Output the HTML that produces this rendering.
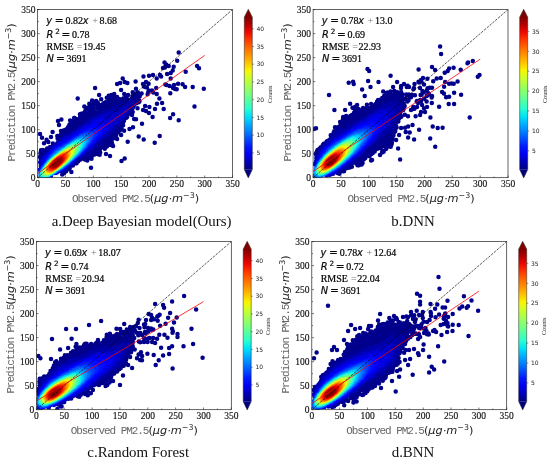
<!DOCTYPE html><html><head><meta charset="utf-8"><title>Figure</title><style>
html,body{margin:0;padding:0;background:#fff}svg{display:block}
text{font-family:"Liberation Serif",serif;fill:#222}
.tl text{font-size:9.5px;fill:#111;stroke:#111;stroke-width:0.15px}
.an{font-size:10px;fill:#000;stroke:#000;stroke-width:0.2px}
.op{font-family:"DejaVu Sans","Liberation Sans",sans-serif;font-size:10.5px;fill:#111}
.pl{fill:#777;stroke:none}
.it{font-family:"DejaVu Sans","Liberation Sans",sans-serif;font-style:italic;font-size:9.9px;fill:#111}
.sup{font-family:"DejaVu Sans","Liberation Sans",sans-serif;font-size:7.2px}
.al{font-size:10px}
.mono{font-family:"Liberation Mono",monospace;font-size:11px;fill:#666;letter-spacing:-1.05px}
.mi{font-family:"DejaVu Sans","Liberation Sans",sans-serif;font-style:italic;font-size:11.3px}
.mp{font-family:"DejaVu Sans","Liberation Sans",sans-serif;font-size:11.3px}
.mis{font-family:"DejaVu Sans","Liberation Sans",sans-serif;font-size:7.9px}
.cl text{font-family:"DejaVu Sans","Liberation Sans",sans-serif;font-size:6px}
.ct{font-size:6.1px}
.cap{font-size:14.9px;fill:#111}
</style></head><body>
<svg width="550" height="464" viewBox="0 0 550 464">
<defs><linearGradient id="jet" x1="0" y1="0" x2="0" y2="1"><stop offset="0.00" stop-color="#800000"/><stop offset="0.05" stop-color="#b60000"/><stop offset="0.10" stop-color="#f10800"/><stop offset="0.15" stop-color="#ff3800"/><stop offset="0.20" stop-color="#ff6800"/><stop offset="0.25" stop-color="#ff9400"/><stop offset="0.30" stop-color="#ffc400"/><stop offset="0.35" stop-color="#f8f500"/><stop offset="0.40" stop-color="#ceff29"/><stop offset="0.45" stop-color="#a4ff53"/><stop offset="0.50" stop-color="#7dff7a"/><stop offset="0.55" stop-color="#53ffa4"/><stop offset="0.60" stop-color="#29ffce"/><stop offset="0.65" stop-color="#00e4f8"/><stop offset="0.70" stop-color="#00b0ff"/><stop offset="0.75" stop-color="#0080ff"/><stop offset="0.80" stop-color="#004cff"/><stop offset="0.85" stop-color="#0018ff"/><stop offset="0.90" stop-color="#0000f1"/><stop offset="0.95" stop-color="#0000b6"/><stop offset="1.00" stop-color="#000080"/></linearGradient></defs>
<rect width="550" height="464" fill="#fff"/>
<clipPath id="cpa"><rect x="37.6" y="9.6" width="194.9" height="168.1"/></clipPath>
<g clip-path="url(#cpa)" fill="none" stroke-width="4.5" stroke-linecap="round">
<path stroke="#00008d" d="M154.7 142.7h0M159.7 136.1h0M178.7 120.2h0M194.5 106.5h0M121.5 161.1h0M124.7 158.5h0M143.7 139.5h0M170.1 118.1h0M173.1 114.2h0M203.8 88.7h0M77.7 98.5h0M138.7 136.5h0M95.1 88.0h0M40.0 134.1h0M110.0 156.1h0M127.7 141.7h0M58.0 121.1h0M91.0 167.8h0M122.7 78.6h0M152.6 117.1h0M142.0 123.8h0M42.0 137.7h0M61.4 119.5h0M192.7 87.1h0M163.7 109.1h0M124.7 82.0h0M120.1 83.0h0M117.1 84.0h0M106.0 154.1h0M127.4 83.1h0M99.1 95.0h0M59.0 125.1h0M149.0 113.1h0M146.0 111.1h0M52.6 132.1h0M135.6 81.5h0M133.0 127.2h0M92.1 100.5h0M113.1 146.1h0M143.5 76.6h0M149.4 107.1h0M84.3 106.4h0M46.6 139.8h0M44.0 143.2h0M155.0 109.1h0M136.0 119.2h0M172.7 70.5h0M143.1 110.0h0M185.7 71.7h0M129.5 129.1h0M170.7 73.0h0M121.1 90.0h0M178.7 52.6h0M89.3 103.8h0M111.3 95.0h0M99.7 154.7h0M114.2 94.1h0M108.7 95.7h0M134.1 119.1h0M51.0 137.1h0M167.1 74.1h0M149.0 75.7h0M96.1 101.0h0M185.1 87.1h0M89.5 105.1h0M106.8 97.7h0M162.1 103.1h0M164.5 62.6h0M157.0 103.7h0M110.7 97.2h0M101.2 99.2h0M145.1 106.0h0M159.4 98.5h0M71.4 172.1h0M197.1 66.0h0M112.1 143.8h0M41.0 150.2h0M48.3 142.0h0M93.8 103.2h0M109.0 98.8h0M156.7 94.1h0M110.6 144.9h0M109.2 98.8h0M173.7 66.7h0M91.7 104.7h0M121.1 135.1h0M117.1 139.1h0M111.4 143.9h0M86.7 108.1h0M169.5 86.1h0M100.2 152.6h0M104.8 148.8h0M92.9 104.7h0M97.7 102.5h0M124.1 130.7h0M153.0 75.1h0M114.2 97.2h0M70.1 120.5h0M170.7 78.5h0M108.9 100.1h0M104.1 102.9h0M91.5 158.7h0M114.4 97.4h0M113.8 97.7h0M161.1 76.6h0M105.7 102.3h0M93.2 105.2h0M97.4 154.1h0M117.1 97.1h0M102.7 104.3h0M85.7 109.8h0M166.5 85.1h0M74.1 118.1h0M115.4 98.1h0M90.6 107.0h0M146.0 82.1h0M79.9 114.2h0M100.2 105.2h0M43.0 150.0h0M199.0 68.3h0M107.0 146.2h0M106.3 146.7h0M124.2 94.1h0M100.3 106.4h0M104.0 104.4h0M91.2 107.0h0M74.6 118.0h0M174.1 85.1h0M40.5 152.8h0M173.9 85.3h0M177.2 60.7h0M87.6 109.1h0M178.1 83.7h0M156.7 78.5h0M80.7 114.0h0M115.8 98.8h0M101.6 106.3h0M89.3 108.3h0M113.4 99.6h0M165.3 84.4h0M87.3 160.6h0M160.0 75.1h0M166.1 64.4h0M106.2 103.4h0M98.6 105.8h0M111.7 142.1h0M93.2 106.5h0M97.6 105.3h0M98.4 108.4h0M143.0 84.1h0M97.6 108.0h0M100.1 107.7h0M173.1 88.1h0M91.2 107.7h0M88.7 109.0h0M98.6 108.6h0M168.7 66.0h0M93.5 106.8h0M82.4 113.4h0M110.0 143.0h0M106.2 146.0h0M111.5 101.5h0M91.4 157.5h0M108.7 102.8h0M119.9 130.5h0M163.0 67.9h0M84.8 111.9h0M70.5 121.8h0M90.2 108.8h0M40.6 153.6h0M148.6 83.7h0M153.3 92.6h0M165.1 67.0h0M121.5 127.9h0M165.0 67.5h0M110.0 142.7h0M116.1 136.9h0M93.6 107.6h0M105.6 104.9h0M119.7 130.0h0M87.3 110.6h0M94.7 111.2h0M85.1 112.1h0M182.6 84.3h0M80.7 115.1h0M118.1 132.2h0M80.8 115.1h0M156.2 88.0h0M170.3 93.3h0M106.7 104.8h0M115.4 100.9h0M84.9 112.5h0M118.1 131.4h0M119.4 129.7h0M114.5 138.0h0M132.0 115.1h0M102.9 107.2h0M108.8 143.2h0M92.9 112.5h0M61.0 131.1h0M93.2 108.8h0M118.9 99.0h0M117.4 132.1h0M103.8 106.7h0M82.1 114.6h0M94.5 154.5h0M143.9 86.4h0M111.2 103.2h0M116.4 134.3h0M41.0 154.1h0M41.6 153.4h0M40.8 154.4h0M146.9 87.5h0M175.1 88.9h0M176.7 89.2h0M57.3 135.9h0M113.9 138.1h0M123.1 125.2h0M113.1 102.5h0M116.6 132.4h0M87.4 111.5h0M111.6 140.3h0M137.5 108.3h0M117.7 130.9h0M92.3 110.2h0M114.9 136.4h0M152.0 90.5h0M108.0 143.3h0M86.9 159.1h0M62.2 174.5h0M145.0 87.1h0M108.1 143.2h0M93.0 113.8h0M89.8 110.7h0M148.8 90.6h0M80.3 116.2h0M110.9 140.6h0M61.5 131.2h0M107.1 144.0h0M100.3 109.5h0M85.0 113.3h0M136.0 88.8h0M90.9 114.8h0M91.1 112.4h0M73.2 120.9h0M86.6 112.4h0M90.0 157.1h0M97.0 152.1h0M96.4 152.6h0M64.0 173.2h0M80.2 116.6h0M90.6 112.5h0M81.7 115.6h0M147.6 94.2h0M148.3 91.9h0M113.3 135.0h0M92.5 155.3h0M84.8 159.6h0M76.4 119.1h0M111.0 139.7h0M95.3 153.1h0M109.7 140.9h0M112.1 137.8h0M87.9 157.9h0M88.3 116.4h0M108.5 141.8h0M100.0 149.1h0M89.2 113.2h0M82.1 115.8h0M43.7 152.1h0M88.7 114.0h0M101.6 147.6h0M120.1 127.4h0M39.9 157.1h0M108.5 141.0h0M47.1 148.6h0M119.1 100.2h0M108.4 138.4h0M108.3 140.7h0M75.6 120.1h0M87.6 157.6h0M85.5 114.3h0M105.8 143.4h0M82.1 116.2h0M107.6 141.5h0M42.0 154.3h0M107.0 139.9h0M84.6 158.9h0M43.9 152.1h0M132.7 92.3h0M43.5 152.6h0M87.0 118.0h0M119.1 100.3h0M86.3 158.0h0M108.8 137.7h0M83.6 115.5h0M57.9 137.5h0M103.8 108.5h0M66.2 171.2h0M112.1 134.5h0M104.1 142.6h0M71.1 123.3h0M120.3 99.6h0M103.2 145.1h0M95.9 113.3h0M86.9 157.5h0M103.5 144.3h0M103.8 142.3h0M88.5 156.8h0M141.6 93.4h0M76.6 163.3h0M109.7 105.8h0M102.4 144.5h0M94.8 152.5h0M122.8 124.0h0M84.0 115.6h0M52.9 143.4h0M132.7 111.9h0M97.7 150.0h0M88.8 156.4h0M69.4 124.8h0M109.6 136.4h0M101.9 144.0h0M57.6 138.5h0M99.9 111.0h0M111.2 105.2h0M63.6 130.4h0M86.9 157.3h0M101.1 145.2h0M84.0 158.7h0M121.0 99.4h0M126.8 95.5h0M93.0 153.7h0M101.0 145.0h0M63.7 172.4h0M87.2 118.8h0M98.4 149.1h0M94.2 152.7h0M101.4 143.9h0M85.4 116.2h0M128.1 95.0h0M85.6 119.7h0M127.2 95.6h0M91.1 154.7h0M44.4 152.0h0M119.1 127.6h0M101.6 143.4h0M127.6 95.6h0M137.8 92.5h0M116.6 102.4h0M101.6 110.3h0M98.2 112.3h0M69.7 168.2h0M60.7 134.7h0M69.7 168.2h0M119.1 101.0h0M95.2 151.5h0M78.4 119.4h0M93.4 152.9h0M64.2 130.2h0M92.8 153.3h0M77.9 119.7h0M99.3 146.0h0M136.6 93.3h0M123.6 98.3h0M83.0 120.6h0M70.1 124.7h0M84.1 117.6h0M94.8 151.6h0M90.8 117.1h0M66.6 170.3h0M60.1 136.4h0M94.4 151.8h0M59.2 137.7h0M125.9 97.4h0M61.3 134.6h0M82.4 117.6h0M122.6 99.2h0M139.5 101.2h0M111.5 134.1h0M76.9 162.3h0M72.9 165.4h0M58.6 138.6h0M93.7 152.0h0M93.2 152.3h0M45.4 151.4h0M67.8 169.2h0M80.7 118.6h0M138.8 102.2h0M72.7 165.4h0M63.7 131.5h0M60.8 136.4h0M47.6 149.1h0M134.2 95.1h0M138.7 94.9h0M120.4 100.9h0M136.4 94.3h0M138.1 94.6h0M78.3 161.2h0M121.8 100.3h0M136.9 94.3h0M122.8 122.8h0M62.8 133.4h0M81.4 123.0h0M132.4 96.3h0M137.8 94.7h0M139.7 96.3h0M106.5 108.4h0M119.3 101.8h0M93.8 151.2h0M83.3 158.1h0M138.1 95.4h0M80.1 122.5h0M113.0 132.5h0M81.3 119.4h0M81.2 119.4h0M138.1 95.5h0M68.0 127.3h0M115.3 130.4h0M95.2 149.3h0M138.9 101.4h0M132.7 96.5h0M48.8 148.3h0M135.6 95.3h0M61.6 136.4h0M73.8 123.1h0M77.4 161.5h0M126.7 99.6h0M79.2 124.8h0M72.9 164.9h0M64.2 132.9h0M64.2 133.0h0M134.2 95.9h0M134.8 95.7h0M66.4 129.2h0M120.2 125.5h0M72.8 123.8h0M77.7 121.0h0M64.5 133.3h0M64.3 133.9h0M119.8 102.1h0M68.9 168.0h0M80.5 159.5h0M66.1 129.7h0M72.6 124.1h0M83.2 122.7h0M93.4 116.1h0M44.5 153.0h0M58.4 139.5h0M89.9 118.3h0M65.0 133.2h0M77.0 125.8h0M114.6 104.7h0M79.8 121.0h0M50.1 147.1h0M69.5 126.5h0M70.9 125.4h0M123.9 120.9h0M127.1 116.9h0M99.2 112.6h0M58.9 139.2h0M84.7 121.9h0M117.6 103.4h0M74.2 163.6h0M64.8 134.1h0M79.4 121.3h0M96.2 114.4h0M75.2 122.7h0M139.1 100.3h0M126.3 117.8h0M72.7 124.3h0M75.0 127.1h0M78.4 126.0h0M135.7 96.2h0M76.4 125.3h0M47.8 149.5h0M97.5 113.7h0M96.0 147.6h0M98.7 113.0h0M74.8 128.1h0M115.2 104.7h0M68.1 132.0h0M122.4 101.8h0M97.6 113.7h0M68.6 127.8h0M90.3 153.2h0M125.8 100.7h0M106.7 137.2h0M132.5 97.6h0M70.9 130.4h0M78.7 160.2h0M67.4 130.4h0M72.1 128.3h0M129.5 113.5h0M86.7 155.5h0M77.8 160.8h0M75.1 123.3h0M118.2 127.1h0M74.0 123.9h0M81.6 124.3h0M77.3 122.7h0M67.5 129.6h0M43.9 154.2h0M132.6 97.7h0M72.0 128.1h0M70.5 126.4h0M80.0 159.3h0M73.1 127.2h0M43.8 154.3h0M111.4 106.9h0M108.2 108.4h0M73.1 124.8h0M76.2 123.6h0M75.8 123.7h0M122.9 102.1h0M74.0 126.0h0M71.6 126.0h0M97.5 145.3h0M74.2 125.7h0M111.5 107.0h0M70.0 127.7h0M68.1 132.8h0M111.1 107.2h0M125.4 118.2h0M71.5 126.6h0M112.0 132.5h0M72.8 126.1h0M77.7 160.6h0M78.5 160.0h0M114.1 105.9h0M128.7 100.1h0M76.4 128.1h0M133.8 97.8h0M58.6 140.0h0M79.1 159.6h0M100.1 112.7h0M48.3 149.4h0M107.0 109.3h0M131.7 98.8h0M138.2 99.3h0M122.4 121.7h0M85.7 155.7h0M131.6 98.9h0M88.6 153.7h0M127.4 115.4h0M78.9 159.6h0M42.2 156.9h0M79.4 126.4h0M117.6 127.1h0M45.3 152.9h0M115.4 105.7h0M88.7 153.6h0M92.8 149.9h0M91.7 117.9h0M111.9 107.3h0M64.9 170.1h0M117.3 127.3h0M114.5 129.9h0M99.8 142.3h0M67.6 168.2h0M49.0 149.0h0M136.9 98.6h0M102.4 140.1h0M85.7 122.1h0M45.1 153.3h0M68.5 167.4h0M88.5 120.2h0M79.3 126.8h0M40.8 159.0h0M136.3 103.3h0M114.1 130.2h0M84.2 156.2h0M104.3 138.4h0M93.3 149.0h0M77.3 128.2h0M69.6 166.4h0M90.5 119.0h0M128.4 101.2h0M103.9 111.2h0M65.2 135.5h0M58.7 140.4h0M114.3 106.8h0M137.1 101.5h0M50.6 147.6h0M118.2 105.0h0M96.6 145.0h0M101.8 140.3h0M120.1 123.7h0M131.9 109.2h0M69.4 166.4h0M119.1 124.8h0M115.2 128.8h0M136.8 99.9h0M60.7 139.0h0M102.4 112.2h0M81.2 157.6h0M97.1 144.3h0M83.9 123.9h0M61.9 171.8h0M136.5 102.0h0M132.5 108.3h0M47.8 150.7h0M72.2 131.7h0M136.5 101.7h0M48.3 150.1h0M70.4 165.6h0M63.9 170.5h0M92.1 149.5h0M121.2 104.3h0M125.4 103.1h0M63.5 137.0h0M120.9 122.2h0M89.2 152.2h0M72.3 163.9h0M108.3 110.0h0M118.9 124.5h0M133.7 99.7h0M90.6 150.8h0M120.8 122.1h0M69.9 165.7h0M104.9 137.2h0M130.2 101.1h0M100.3 140.9h0M101.9 112.8h0M134.9 100.0h0M65.2 169.3h0M133.2 106.7h0M104.6 137.3h0M111.3 109.1h0M92.3 148.6h0M67.0 168.0h0M116.2 127.1h0M83.8 155.5h0M78.4 158.9h0"/>
<path stroke="#0000a8" d="M107.3 135.0h0M51.7 147.2h0M50.1 148.7h0M115.2 107.5h0M89.1 151.6h0M133.8 105.5h0M93.6 146.9h0M121.5 120.7h0M100.0 140.9h0M70.8 133.1h0M123.2 104.8h0M112.7 130.1h0M74.2 162.0h0M88.3 152.1h0M49.4 149.5h0M133.0 106.6h0M100.1 140.7h0M74.7 130.9h0M106.5 135.4h0M84.8 154.5h0M123.0 105.1h0M85.0 154.4h0M126.3 114.9h0M125.9 115.3h0M134.4 104.1h0M95.0 145.1h0M130.0 110.4h0M109.2 133.0h0M133.0 106.3h0M128.3 102.8h0M90.7 149.6h0M95.8 144.3h0M130.1 101.8h0M81.4 156.5h0M121.3 105.6h0M102.5 113.1h0M129.6 102.2h0M86.4 122.8h0M61.1 139.5h0M79.4 128.0h0M62.6 138.4h0M118.7 106.4h0M87.8 152.0h0M52.7 146.7h0M112.5 109.3h0M64.4 137.2h0M129.3 102.5h0M113.8 128.6h0M67.3 167.4h0M119.3 122.5h0M106.5 111.9h0M120.1 106.1h0M65.9 168.5h0M102.6 138.2h0M134.5 102.4h0M133.1 105.7h0M97.0 116.1h0M129.6 110.5h0M111.7 130.3h0M130.5 109.3h0M120.9 106.4h0M129.5 110.5h0M134.2 102.9h0M101.6 138.8h0M102.9 113.4h0M122.6 118.4h0M67.5 135.5h0M125.2 105.2h0M88.1 122.0h0M59.1 141.4h0M40.1 162.3h0M54.5 145.4h0M116.7 124.8h0M122.1 106.8h0M132.9 101.9h0M118.9 107.0h0M119.9 121.3h0M124.8 115.8h0M101.5 138.7h0M55.1 144.9h0M88.4 150.6h0M115.4 126.0h0M70.8 164.3h0M116.6 108.0h0M50.9 148.9h0M57.5 142.9h0M92.8 119.1h0M132.0 106.5h0M118.1 107.6h0M90.5 120.5h0M85.9 152.5h0M78.6 158.0h0M59.9 141.0h0M103.4 113.7h0M86.6 151.9h0M120.6 120.1h0M128.6 111.0h0M130.0 103.1h0M50.3 149.7h0M115.4 125.6h0M111.0 130.1h0M126.1 114.0h0M106.8 112.7h0M132.5 102.7h0M110.2 111.3h0M112.2 110.3h0M101.9 114.3h0M66.2 136.7h0M123.4 116.9h0M84.0 153.8h0M129.0 110.4h0M86.8 123.3h0M49.6 150.5h0M44.6 156.2h0M103.2 136.7h0M64.8 168.8h0M46.9 153.5h0M116.7 108.5h0M87.9 122.6h0M118.4 122.1h0M105.3 134.9h0M131.5 103.1h0M115.9 108.8h0M127.3 112.2h0M47.7 152.7h0M74.8 132.0h0M117.6 122.8h0M123.8 107.1h0M114.6 109.5h0M96.0 117.5h0M55.9 144.7h0M130.0 108.4h0M110.3 130.1h0M59.1 142.0h0M128.3 110.8h0M52.5 147.9h0M68.2 135.8h0M125.1 106.4h0M127.7 104.8h0M85.1 124.8h0M72.1 162.9h0M131.2 106.5h0M127.5 111.6h0M95.1 143.4h0M95.9 117.7h0M63.2 169.8h0M43.7 157.8h0M123.9 115.9h0M55.6 145.1h0M53.9 146.6h0M83.3 153.9h0M126.6 112.7h0M128.1 110.7h0M45.5 155.5h0M51.3 149.1h0M88.7 149.3h0M76.0 131.5h0M46.6 154.2h0M100.5 115.5h0M104.7 134.9h0M69.9 135.1h0M109.9 130.2h0M84.2 125.6h0M64.9 168.5h0M130.4 104.1h0M130.6 104.2h0M89.9 121.7h0M79.0 157.2h0M129.9 104.3h0M107.5 132.3h0M71.6 134.2h0M131.0 105.7h0M117.5 110.3h0M56.7 144.3h0M43.2 158.6h0M104.9 114.3h0M121.7 109.2h0M127.4 111.2h0M106.8 113.7h0M62.8 169.9h0M130.7 106.0h0M86.5 151.0h0M130.8 105.3h0M113.5 126.3h0M48.4 152.4h0M108.4 131.3h0M121.2 109.7h0M125.0 107.1h0M76.2 159.3h0M42.4 160.0h0M109.0 112.9h0M114.4 110.5h0M126.5 106.3h0M83.5 153.4h0M80.5 128.6h0M64.4 168.7h0M92.4 145.4h0M115.5 110.4h0M126.2 106.5h0M86.4 151.0h0M105.3 133.9h0M82.8 127.0h0M102.4 115.4h0M116.7 111.6h0M54.5 146.5h0M111.9 111.6h0M81.8 127.7h0M92.8 145.0h0M128.6 105.5h0M62.5 140.0h0M106.8 132.5h0M97.1 141.0h0M110.8 128.6h0M129.6 105.4h0M124.4 107.8h0M94.4 119.2h0M95.5 118.6h0M97.6 117.4h0M97.0 117.7h0M116.6 112.3h0M129.8 106.3h0M115.2 111.0h0M122.4 116.6h0M48.0 153.3h0M129.2 107.6h0M110.0 129.2h0M40.7 163.4h0M90.7 121.6h0M104.9 134.1h0M112.0 111.9h0M111.1 128.1h0M102.2 136.4h0M125.2 113.3h0M120.6 110.7h0M127.3 106.5h0M115.7 112.7h0M115.0 111.5h0M126.0 107.1h0M72.9 134.0h0M129.1 107.0h0M49.6 151.6h0M124.4 108.3h0M77.1 131.4h0M118.0 121.0h0M88.4 123.3h0M128.6 107.8h0M61.5 170.4h0M128.3 108.3h0M51.9 149.4h0M51.9 149.4h0M116.5 122.4h0M114.7 113.3h0M104.0 115.5h0M41.9 161.3h0M114.1 112.2h0M114.2 112.3h0M111.9 112.4h0M69.4 136.1h0M111.6 112.6h0M82.1 154.2h0M46.2 155.6h0M73.3 134.0h0M61.6 141.0h0M104.5 134.0h0M115.8 113.9h0M127.3 107.4h0M96.2 118.7h0M87.0 124.6h0M118.8 112.5h0M97.8 139.8h0M122.3 115.9h0M53.1 148.4h0M123.2 114.8h0M87.1 124.6h0M127.3 108.8h0M123.5 109.6h0M121.1 111.2h0M121.2 117.0h0"/>
<path stroke="#0000c8" d="M123.6 114.2h0M125.3 108.7h0M119.6 118.7h0M91.2 121.9h0M67.8 137.3h0M42.5 160.7h0M112.5 113.2h0M67.8 137.3h0M120.9 117.2h0M114.4 115.1h0M113.5 115.2h0M88.1 148.7h0M116.9 121.4h0M63.0 169.3h0M85.4 125.9h0M55.5 146.4h0M59.6 142.9h0M65.5 138.7h0M74.4 133.6h0M84.5 152.0h0M90.3 146.6h0M114.5 123.7h0M64.7 139.2h0M79.7 130.0h0M109.6 128.7h0M92.1 121.5h0M99.5 117.6h0M108.4 114.4h0M103.4 116.3h0M116.9 114.2h0M99.6 137.9h0M104.4 115.9h0M95.4 119.5h0M83.1 127.7h0M73.8 134.1h0M96.1 119.2h0M120.9 111.9h0M111.0 113.9h0M125.0 110.0h0M111.4 114.3h0M117.2 120.7h0M82.2 128.4h0M120.0 117.7h0M111.5 114.9h0M111.8 116.3h0M66.5 138.3h0M89.1 147.6h0M120.9 112.2h0M100.5 117.5h0M116.2 115.0h0M124.6 110.7h0M111.0 114.8h0M124.2 111.9h0M91.1 145.6h0M124.3 111.5h0M110.9 116.3h0M91.4 145.3h0M58.7 143.9h0M117.5 120.2h0M65.4 139.1h0M119.6 117.8h0M114.9 122.8h0M117.8 114.3h0M117.8 114.4h0M111.9 125.8h0M47.0 155.4h0M106.5 131.1h0M109.8 127.8h0M79.8 130.3h0M65.1 139.4h0M101.4 135.9h0M123.1 112.4h0M122.6 113.6h0M96.2 119.6h0M114.0 116.5h0M122.9 112.7h0M77.1 132.2h0M118.4 118.8h0M100.8 136.5h0M122.6 112.4h0M60.9 142.4h0M95.8 141.0h0M84.8 127.0h0M114.8 122.6h0M48.4 154.0h0M107.7 115.6h0M59.3 143.7h0M88.8 147.6h0M110.5 126.8h0M63.7 168.5h0M115.2 116.2h0M109.1 116.0h0M121.7 113.5h0M79.3 130.8h0M121.5 113.6h0M108.9 116.4h0M108.8 117.9h0M63.7 168.4h0M43.7 159.9h0M119.0 117.5h0M113.0 124.1h0M69.2 137.3h0M44.9 158.2h0M108.9 118.3h0M108.5 117.3h0M108.5 118.2h0M120.4 115.3h0M120.6 114.3h0M61.4 170.0h0M63.2 141.0h0M109.0 128.1h0M120.5 114.4h0M63.5 140.8h0M72.4 161.6h0M63.5 168.5h0M117.9 118.4h0M83.8 152.0h0M119.4 116.4h0M92.9 143.5h0M114.5 117.0h0M107.5 116.5h0M67.1 138.7h0M108.2 119.0h0M55.2 147.5h0M117.5 118.7h0M106.5 116.5h0M99.0 118.8h0M88.4 147.7h0M48.6 154.1h0M113.9 117.4h0M108.2 128.7h0M118.0 115.7h0M109.4 119.0h0M59.2 144.1h0M111.1 118.5h0M113.7 122.8h0M107.4 117.3h0M113.2 123.3h0M104.3 132.6h0M116.3 116.5h0M118.7 116.0h0M107.7 119.4h0M41.0 166.5h0M106.9 118.9h0M118.0 117.1h0M92.3 122.5h0M76.9 132.8h0M60.3 170.6h0M100.6 118.4h0M116.4 119.3h0M105.0 117.1h0M117.9 117.0h0M91.3 123.2h0M91.9 122.8h0M111.1 125.4h0M106.7 119.6h0M80.2 130.7h0M106.6 119.5h0M114.2 117.7h0M103.9 132.8h0M107.1 119.9h0M117.0 116.8h0M78.3 132.0h0M115.7 117.2h0M104.2 132.6h0M113.5 122.6h0M111.1 125.2h0M84.9 127.5h0M93.2 122.0h0M93.5 121.9h0M59.5 171.0h0M45.5 157.9h0M64.8 140.4h0M94.6 121.3h0M111.9 123.9h0M102.9 117.9h0M83.6 128.5h0M91.0 145.0h0M105.7 120.3h0M87.1 126.2h0M68.6 138.3h0M111.9 123.8h0M64.6 167.6h0M109.1 127.0h0M95.3 121.1h0M58.1 145.4h0M101.4 118.5h0M114.4 118.6h0M51.5 151.5h0M95.2 121.2h0M61.7 142.6h0M111.2 124.4h0M104.6 117.9h0M113.8 118.8h0M56.8 172.6h0M62.3 169.1h0M114.3 119.7h0M113.6 119.0h0M111.1 119.5h0M99.5 119.3h0M64.6 140.8h0M109.4 120.1h0M58.9 144.9h0M103.3 118.1h0M72.1 136.4h0M110.0 125.5h0M113.7 119.3h0M49.8 153.2h0M113.4 120.8h0M112.1 119.4h0M88.5 125.5h0M113.3 120.7h0M63.4 141.7h0M94.9 141.0h0M96.1 139.9h0M91.2 123.8h0M78.5 132.2h0M113.1 120.2h0M49.9 153.3h0M110.9 123.9h0M104.1 120.1h0M86.2 127.2h0M108.8 126.4h0M83.7 151.5h0M69.2 138.4h0M104.0 119.0h0M110.6 123.8h0M103.9 119.0h0M109.9 124.7h0M111.8 121.7h0M102.1 133.9h0M58.8 145.2h0M105.6 130.1h0M100.2 135.8h0M97.0 120.8h0M106.0 121.8h0M62.6 142.4h0M104.4 122.3h0M104.3 131.5h0M111.2 120.6h0M93.3 142.4h0M97.9 138.0h0M111.2 121.3h0M100.9 135.0h0M104.7 130.9h0M107.8 121.4h0M39.7 169.8h0M102.7 122.2h0M60.6 144.0h0M88.7 126.0h0M70.5 137.9h0"/>
<path stroke="#0000e3" d="M110.8 121.6h0M95.7 140.0h0M57.1 146.9h0M109.7 123.9h0M70.2 162.9h0M110.1 123.3h0M93.9 122.8h0M73.3 136.1h0M100.9 134.8h0M69.2 138.8h0M69.7 138.5h0M102.6 119.8h0M53.6 150.1h0M102.4 121.4h0M102.6 120.6h0M102.5 120.0h0M106.0 128.9h0M103.7 123.1h0M86.2 127.8h0M98.5 120.7h0M91.9 143.5h0M108.4 121.8h0M66.7 140.4h0M93.7 123.1h0M58.2 146.2h0M96.1 121.8h0M82.4 130.3h0M101.7 120.0h0M91.0 144.3h0M82.1 130.5h0M63.0 142.7h0M70.0 138.5h0M107.1 127.1h0M102.0 120.6h0M93.4 123.4h0M61.8 143.6h0M100.9 134.6h0M84.7 128.9h0M102.0 123.8h0M105.1 129.6h0M102.8 123.7h0M43.3 163.1h0M95.0 122.7h0M100.6 134.7h0M106.5 122.6h0M96.0 122.1h0M107.7 125.8h0M107.3 122.4h0M93.4 123.6h0M102.8 132.3h0M66.2 165.9h0M99.4 120.8h0M85.3 128.7h0M60.7 144.5h0M44.1 161.2h0M95.6 122.4h0M71.5 161.6h0M106.3 127.8h0M94.2 141.0h0M100.2 120.7h0M84.5 129.2h0M103.3 131.6h0M94.4 123.2h0M92.3 124.4h0M93.8 141.4h0M54.7 149.5h0M107.0 122.8h0M76.5 134.4h0M102.3 132.7h0M51.6 152.3h0M40.8 168.5h0M106.6 122.9h0M86.5 148.5h0M61.0 169.5h0M60.6 144.8h0M48.8 155.2h0M68.0 140.2h0M100.4 122.6h0M98.6 121.6h0M86.1 148.8h0M95.7 122.8h0M45.5 159.2h0M100.3 134.7h0M76.5 134.6h0M98.6 121.6h0M51.0 175.7h0M93.9 123.8h0M60.1 145.3h0M74.4 159.1h0M57.6 147.2h0M100.0 121.8h0M89.0 126.9h0M100.0 122.5h0M47.1 157.2h0M99.6 121.7h0M58.7 146.4h0M85.5 129.1h0M107.4 124.0h0M78.3 133.6h0M106.2 126.7h0M97.2 122.4h0M53.9 150.5h0M98.8 121.9h0M106.5 126.2h0M93.3 141.5h0M99.4 124.7h0M99.3 124.2h0M49.9 154.3h0M77.5 134.1h0M67.4 140.8h0M87.3 128.1h0M79.4 154.8h0M48.6 155.7h0M99.4 122.6h0M97.0 122.7h0M80.0 154.2h0M104.7 128.7h0M99.2 122.6h0M89.1 145.6h0M101.9 132.4h0M41.8 167.2h0M106.3 124.0h0M101.1 125.3h0M98.2 122.5h0M51.0 153.3h0M99.2 125.5h0M85.9 129.2h0M70.6 138.9h0M98.5 122.7h0M75.6 135.6h0M69.1 163.3h0M98.7 135.8h0M46.9 157.8h0M66.5 141.5h0M85.1 129.7h0M58.8 146.7h0M87.9 128.1h0M81.3 132.1h0M92.4 125.5h0M43.4 164.5h0M98.1 123.8h0M81.4 152.8h0M90.2 126.9h0M101.2 125.7h0M94.5 124.4h0M93.1 125.3h0M46.5 158.5h0M44.6 161.8h0M78.4 134.1h0M104.9 124.8h0M90.6 126.8h0M104.3 128.3h0M80.1 133.0h0M99.2 126.3h0M97.4 123.9h0M72.6 137.9h0M92.7 125.6h0M67.6 141.2h0M70.2 139.5h0M103.1 125.2h0M43.0 165.4h0M97.6 125.7h0M97.1 124.1h0M86.3 129.4h0M73.5 137.3h0M86.4 129.3h0M79.1 154.8h0M42.7 166.1h0M105.0 126.9h0M47.9 156.9h0M56.6 172.0h0M77.1 135.0h0M104.9 125.1h0M55.8 172.5h0M56.5 148.8h0M74.0 137.0h0M46.6 158.5h0M74.9 136.5h0M87.2 129.0h0M95.7 124.4h0M104.6 125.2h0M68.9 163.3h0M56.6 148.8h0M97.1 125.3h0M96.6 124.4h0M44.2 163.3h0M96.8 124.8h0M91.1 126.8h0M96.9 125.7h0M97.8 136.3h0M80.5 133.0h0M95.5 138.6h0M104.5 125.4h0M42.0 167.3h0M60.2 146.1h0M98.1 126.8h0M89.7 144.5h0M69.4 140.2h0M102.2 130.8h0M98.8 126.8h0"/>
<path stroke="#0000ff" d="M64.4 166.7h0M65.2 142.9h0M62.9 144.3h0M81.5 132.5h0M77.6 134.9h0M65.8 142.6h0M67.2 141.7h0M83.0 131.7h0M50.2 154.6h0M102.9 125.9h0M55.2 150.1h0M56.5 149.0h0M45.8 160.1h0M72.1 160.6h0M98.6 135.0h0M54.9 173.0h0M51.5 153.4h0M62.4 168.1h0M103.4 126.0h0M101.4 126.4h0M104.0 126.3h0M76.0 136.2h0M95.3 125.9h0M87.6 146.5h0M103.9 126.5h0M58.7 147.4h0M76.0 136.2h0M45.2 161.6h0M74.0 137.5h0M101.0 131.7h0M95.7 138.0h0M47.3 158.1h0M98.7 134.6h0M103.5 127.7h0M96.6 137.0h0M78.6 154.9h0M97.0 136.6h0M92.5 127.0h0M95.9 137.7h0M75.9 136.4h0M84.4 131.3h0M101.6 126.7h0M90.7 127.9h0M93.9 126.6h0M103.5 127.0h0M96.4 127.7h0M93.8 126.6h0M95.0 127.0h0M99.1 133.9h0M93.8 126.7h0M70.7 139.9h0M100.9 127.0h0M64.2 144.0h0M73.2 138.3h0M101.2 131.1h0M47.3 158.3h0M51.4 153.7h0M95.3 127.6h0M101.2 127.0h0M82.8 151.0h0M102.9 127.0h0M103.0 127.3h0M100.7 127.2h0M98.0 135.0h0M92.6 141.0h0M93.4 140.1h0M90.8 128.3h0M80.8 133.7h0M90.3 128.6h0M82.1 151.5h0M64.7 166.3h0M89.2 144.5h0M93.8 127.7h0M93.7 139.7h0M68.0 141.8h0M45.6 161.7h0M95.9 128.4h0M73.6 138.3h0M64.1 144.3h0M100.7 131.2h0M59.3 147.4h0M99.7 127.8h0M82.6 132.8h0M79.5 134.6h0M102.3 127.9h0M57.3 149.0h0M67.4 142.3h0M62.7 145.2h0M75.5 137.2h0M94.8 138.3h0M98.4 128.2h0M74.7 137.7h0M85.2 131.4h0M86.3 147.3h0M94.0 128.3h0M85.8 131.1h0M72.5 159.9h0M65.1 165.9h0M73.7 138.4h0M101.2 127.7h0M101.9 128.7h0M83.4 132.5h0M54.2 151.6h0M83.4 132.5h0M79.7 134.6h0M101.8 127.9h0M100.9 130.5h0M89.4 144.1h0M85.7 131.3h0M89.7 143.8h0M44.9 163.5h0M80.8 134.0h0M73.6 159.0h0M83.9 132.3h0M71.9 160.5h0M92.0 141.3h0M95.6 128.9h0M46.2 160.8h0M57.7 171.0h0M85.4 131.5h0M92.9 140.3h0M48.0 157.9h0M98.1 134.2h0M92.6 128.5h0M101.7 128.3h0M94.2 129.0h0M59.3 147.7h0M49.9 155.7h0M72.2 139.6h0M48.5 157.3h0M92.1 128.9h0M100.5 130.7h0M62.9 167.4h0M70.2 140.9h0M48.2 157.8h0M91.4 129.1h0M88.9 130.0h0M60.4 147.0h0M86.0 147.4h0M91.5 141.6h0M100.8 129.9h0M50.2 155.5h0M92.9 140.0h0M94.8 137.8h0M53.3 152.6h0M46.9 160.0h0M99.6 131.7h0M80.0 134.8h0M85.5 131.8h0M80.1 153.1h0M85.2 148.1h0M95.8 136.4h0M58.4 148.6h0M91.8 129.4h0M98.2 129.0h0M67.8 142.6h0M59.4 147.9h0M45.8 162.4h0M46.6 160.8h0M94.2 138.3h0M64.0 144.9h0M47.2 159.6h0M97.7 134.0h0M79.2 153.9h0M96.1 135.9h0M71.7 140.2h0"/>
<path stroke="#000cff" d="M90.4 129.8h0M89.6 130.1h0M95.2 129.7h0M94.3 129.8h0M90.2 129.9h0M94.8 137.5h0M78.9 135.7h0M59.3 148.0h0M55.8 150.6h0M83.2 133.2h0M90.3 142.6h0M47.3 159.6h0M68.9 142.1h0M88.8 130.6h0M76.1 137.4h0M79.3 153.7h0M73.7 139.0h0M99.8 130.3h0M99.9 130.1h0M96.5 135.2h0M94.4 130.0h0M97.7 133.6h0M90.7 142.0h0M86.4 146.6h0M74.9 157.6h0M73.9 158.4h0M74.2 158.2h0M93.2 130.2h0M98.7 132.0h0M91.0 130.4h0M83.7 149.4h0M99.1 129.8h0M97.9 133.0h0M99.4 130.2h0M90.6 130.5h0M99.0 131.2h0M99.3 130.6h0M94.2 130.3h0M95.3 136.3h0M61.8 167.9h0M87.8 131.3h0M88.2 131.2h0M91.0 130.5h0M97.6 133.4h0M94.4 130.4h0M92.4 130.6h0M98.6 131.8h0M63.8 145.4h0M80.8 134.9h0M92.0 130.6h0M77.5 136.9h0M83.8 133.3h0M79.3 153.5h0M94.4 130.5h0M86.0 132.2h0M75.1 157.3h0M81.2 151.7h0M57.8 149.4h0M98.6 131.4h0M69.1 142.3h0M96.3 134.7h0M72.4 159.6h0M95.2 136.1h0M79.8 135.6h0M98.5 130.5h0M50.8 155.5h0M93.6 130.8h0M93.4 138.3h0M91.5 140.6h0M88.8 131.3h0M98.3 131.4h0M45.0 164.3h0M47.3 160.6h0M53.5 153.0h0M88.0 131.6h0M92.8 138.9h0M91.4 140.6h0M83.7 149.1h0M97.8 132.2h0M94.8 130.8h0M76.4 137.8h0M97.2 133.1h0M94.9 130.8h0M70.9 160.8h0M48.1 159.3h0M98.0 131.1h0M58.3 170.2h0M59.5 169.4h0M95.0 135.9h0M86.1 146.6h0M71.1 141.3h0M48.7 158.4h0M90.8 131.3h0M48.9 158.2h0M68.7 162.5h0M49.3 157.6h0M95.3 135.4h0M48.6 158.7h0M73.1 158.9h0M89.7 142.5h0M77.0 137.5h0M78.5 136.7h0M49.0 158.1h0M49.2 157.8h0M73.7 158.3h0M83.4 149.2h0M62.5 167.2h0M62.0 167.6h0M89.7 142.4h0M77.5 155.0h0M81.4 135.0h0M78.7 153.8h0M80.0 152.6h0M48.2 159.5h0M97.2 131.5h0M90.4 141.4h0M94.5 136.1h0M91.4 140.2h0M83.0 134.2h0M69.4 161.9h0M97.1 132.1h0M59.3 169.4h0M96.9 131.5h0M77.8 154.7h0M95.0 135.4h0M55.1 152.0h0M93.3 131.6h0M90.3 141.4h0M50.2 156.7h0M74.2 139.6h0M57.2 150.4h0M92.6 131.7h0M85.6 133.1h0M65.1 165.2h0M96.3 131.7h0M61.1 168.1h0M85.7 146.7h0"/>
<path stroke="#0024ff" d="M84.4 148.1h0M77.6 154.7h0M44.4 165.7h0M70.6 142.0h0M50.1 157.2h0M95.4 134.3h0M66.9 163.8h0M96.1 132.4h0M95.8 132.1h0M59.0 149.3h0M72.6 140.8h0M94.4 135.6h0M55.3 152.0h0M43.0 167.7h0M54.1 153.1h0M58.7 149.5h0M95.6 132.1h0M95.8 132.4h0M81.8 135.2h0M90.3 132.4h0M88.9 142.8h0M90.2 141.0h0M64.7 145.8h0M64.4 146.0h0M95.6 132.9h0M50.6 156.7h0M58.0 150.0h0M66.0 145.1h0M75.0 139.3h0M45.9 163.8h0M88.3 132.8h0M92.5 132.4h0M94.3 132.3h0M76.5 155.6h0M60.6 148.4h0M89.6 132.7h0M93.1 132.4h0M51.8 155.5h0M87.8 143.9h0M95.1 132.8h0M53.9 153.4h0M66.9 144.7h0M63.6 146.6h0M75.6 156.3h0M85.6 133.7h0M86.2 145.7h0M95.0 133.5h0M95.0 133.1h0M61.5 147.9h0M76.9 138.2h0M88.1 143.4h0M63.5 146.7h0M90.3 132.8h0M53.9 153.5h0M93.5 132.6h0M66.0 145.3h0M94.8 133.2h0M93.4 136.2h0M94.1 132.8h0M87.5 133.3h0M63.9 146.5h0M70.4 142.6h0M94.6 134.2h0M79.8 152.3h0M93.7 132.8h0M90.2 133.0h0M64.8 146.1h0M69.6 143.1h0M56.7 151.3h0M66.1 145.3h0M90.4 133.1h0M44.0 166.7h0M67.4 144.6h0M94.3 133.4h0M56.2 151.7h0M76.9 138.4h0M55.8 152.0h0M66.9 163.6h0M84.8 134.2h0M69.8 143.1h0M72.8 141.2h0M48.3 160.7h0M50.0 158.2h0M90.5 133.3h0M93.3 135.7h0M91.2 138.6h0M89.1 133.5h0M92.1 133.2h0M59.9 149.3h0M52.0 155.8h0M63.4 166.2h0M89.9 133.5h0M56.5 151.7h0M91.7 137.8h0M65.9 145.7h0M92.4 133.4h0M78.7 153.2h0M91.6 137.9h0M63.7 147.0h0M52.5 155.4h0M77.1 138.5h0M59.1 149.9h0M84.6 147.1h0M86.8 134.0h0M67.6 144.7h0M93.1 135.4h0M92.2 137.0h0M52.7 155.2h0M72.0 141.8h0M81.8 150.1h0M82.0 149.8h0M70.1 160.8h0M80.9 136.3h0M86.0 134.3h0M60.4 168.2h0M52.7 155.2h0M61.1 148.7h0M49.8 159.0h0M63.9 147.0h0M89.6 133.8h0M74.6 156.9h0M73.2 141.1h0M76.5 139.0h0M50.8 157.6h0M56.3 152.0h0"/>
<path stroke="#0040ff" d="M87.6 134.1h0M57.6 151.0h0M59.7 149.6h0M56.0 152.3h0M65.4 164.6h0M81.0 136.4h0M54.4 172.3h0M73.8 140.8h0M80.1 136.9h0M61.3 167.5h0M89.4 134.0h0M60.0 149.5h0M77.6 154.1h0M75.3 139.9h0M77.9 138.2h0M67.7 162.7h0M91.0 134.0h0M68.1 144.6h0M60.5 149.3h0M92.4 134.6h0M49.1 160.3h0M81.7 150.0h0M52.9 155.4h0M62.7 148.0h0M58.4 150.7h0M92.1 134.4h0M70.4 143.2h0M92.4 135.1h0M68.0 162.4h0M84.6 135.1h0M66.6 163.5h0M92.0 136.0h0M83.9 135.3h0M75.6 139.8h0M52.2 156.2h0M82.7 135.8h0M53.7 154.7h0M82.9 148.6h0M66.4 145.8h0M58.4 150.8h0M77.8 138.5h0M53.6 154.9h0M90.6 138.1h0M85.0 146.1h0M90.3 134.5h0M78.9 137.9h0M73.1 141.5h0M87.2 134.8h0M91.0 134.7h0M61.0 149.3h0M57.0 152.0h0M90.6 138.0h0M80.4 151.1h0M87.6 142.6h0M66.6 163.4h0M89.7 134.6h0M81.5 136.6h0M82.2 149.2h0M63.1 148.1h0M76.0 155.3h0M63.5 165.8h0M77.5 153.9h0M88.0 141.9h0M42.9 168.8h0M59.0 169.0h0M53.5 155.2h0M57.6 151.7h0M91.3 136.4h0M55.6 153.2h0M58.6 151.0h0M64.6 147.2h0M49.9 159.6h0M88.9 140.5h0M67.4 145.4h0M58.2 151.3h0M75.9 139.8h0M83.2 136.0h0M90.5 134.9h0M65.0 147.0h0M85.5 145.2h0M90.2 134.9h0M76.5 154.8h0M80.0 137.5h0M60.9 167.6h0M82.9 136.1h0M84.5 135.6h0M85.2 135.5h0M78.1 138.5h0M91.1 136.1h0M49.0 160.9h0M58.6 151.1h0M55.3 153.7h0M45.7 165.1h0M89.2 139.7h0M61.6 167.1h0M73.5 141.5h0M89.3 135.1h0M65.8 146.6h0M48.8 161.2h0M69.2 144.4h0M54.0 155.1h0M56.8 152.6h0M90.5 137.1h0M61.4 167.2h0M79.5 151.7h0M56.4 152.9h0M69.2 144.4h0M82.9 136.4h0M87.3 135.5h0"/>
<path stroke="#0058ff" d="M55.2 154.1h0M79.3 151.9h0M49.4 160.6h0M89.8 135.5h0M72.0 158.8h0M74.3 156.6h0M89.2 139.2h0M75.0 156.0h0M47.7 162.6h0M81.6 149.4h0M41.6 171.1h0M51.4 158.2h0M90.4 136.2h0M40.6 172.7h0M56.0 153.4h0M52.4 157.0h0M88.8 135.5h0M51.4 158.2h0M81.4 137.1h0M45.2 177.2h0M46.3 164.5h0M89.9 135.8h0M66.6 163.2h0M61.6 149.5h0M48.5 161.7h0M57.4 152.4h0M72.3 158.4h0M60.8 150.1h0M62.4 166.4h0M89.3 138.8h0M81.8 149.1h0M57.3 152.5h0M61.7 149.5h0M73.2 157.6h0M88.1 135.7h0M83.2 136.5h0M89.7 138.0h0M83.0 147.8h0M87.9 141.1h0M84.3 146.3h0M64.4 147.8h0M70.4 160.0h0M62.7 148.9h0M84.5 136.2h0M52.5 157.1h0M84.9 136.2h0M63.8 165.3h0M82.9 147.8h0M52.8 156.8h0M58.2 152.0h0M89.8 136.9h0M66.1 146.8h0M54.7 154.9h0M89.7 136.6h0M44.2 167.4h0M89.6 136.5h0M59.2 151.3h0M54.9 154.8h0M53.1 156.6h0M86.2 143.3h0M79.5 138.3h0M52.7 173.0h0M55.7 154.1h0M84.7 145.5h0M89.3 137.9h0M78.3 152.6h0M54.8 171.6h0M83.8 146.6h0M58.5 151.9h0M86.0 136.3h0M84.1 146.2h0M89.4 137.4h0M50.9 159.2h0M82.1 137.2h0M46.9 176.3h0M88.4 139.6h0M86.8 142.3h0M84.7 145.3h0M83.1 147.4h0M71.4 143.4h0M81.6 137.4h0M76.4 140.1h0M49.6 160.7h0M62.9 149.1h0M58.8 151.8h0M52.5 157.5h0M76.2 140.3h0M82.7 147.7h0M80.6 138.0h0M89.0 137.6h0M84.4 136.8h0M49.3 161.2h0M83.6 146.5h0M81.2 137.7h0M57.2 169.9h0M73.5 142.1h0M80.2 150.4h0M87.7 136.6h0M81.9 148.6h0M79.3 138.6h0M73.6 142.0h0M79.1 151.5h0M83.2 137.2h0M76.4 154.3h0M52.8 157.4h0M71.7 158.7h0M77.4 153.2h0M59.2 151.8h0M73.4 142.2h0M88.4 138.7h0M55.1 171.2h0"/>
<path stroke="#0070ff" d="M84.0 145.9h0M55.5 154.8h0M57.7 153.0h0M83.8 146.1h0M61.0 167.2h0M80.6 138.2h0M82.0 137.7h0M87.4 136.9h0M86.5 142.0h0M43.7 168.4h0M86.9 136.9h0M54.6 155.7h0M67.0 146.6h0M54.8 155.6h0M53.9 156.4h0M86.8 141.4h0M85.3 143.9h0M87.3 140.5h0M77.6 139.8h0M85.7 143.2h0M41.5 171.9h0M48.0 175.6h0M57.2 153.5h0M77.2 140.0h0M61.3 150.6h0M87.6 137.3h0M58.1 169.1h0M58.1 169.1h0M78.4 139.4h0M59.1 152.2h0M82.1 137.9h0M51.5 173.5h0M87.8 139.2h0M85.7 137.3h0M69.2 160.6h0M47.7 163.4h0M47.3 175.9h0M87.9 138.1h0M87.1 140.4h0M83.6 146.0h0M83.3 137.7h0M75.5 154.9h0M80.0 138.7h0M79.4 139.0h0M80.7 138.5h0M77.4 153.0h0M56.4 154.4h0M82.2 147.7h0M86.1 137.4h0M77.0 153.4h0M83.6 145.9h0M49.4 161.5h0M81.5 148.5h0M85.6 137.5h0M75.8 141.1h0M81.9 138.1h0M80.2 138.8h0M79.1 151.1h0M74.8 155.4h0M86.3 137.6h0M48.1 163.1h0M87.2 139.7h0M59.7 167.9h0M79.1 139.3h0M59.1 152.5h0M68.4 146.0h0M87.1 137.9h0M44.6 167.5h0M56.0 170.5h0M57.7 153.5h0M86.0 141.8h0M86.3 137.8h0M86.2 141.4h0M56.8 154.3h0M66.1 147.6h0M84.1 144.8h0M42.9 169.8h0M40.5 174.5h0M70.8 159.0h0M73.0 142.9h0M60.2 167.5h0M87.0 139.5h0M83.5 138.1h0M70.6 159.2h0M63.8 149.3h0M68.2 146.2h0M86.8 138.3h0M68.0 146.4h0M66.5 162.7h0M82.3 147.3h0M49.1 162.0h0M65.0 148.4h0M83.3 138.2h0M51.2 173.6h0M60.5 167.3h0M54.8 156.1h0M81.3 138.7h0M53.0 157.9h0"/>
<path stroke="#008cff" d="M75.0 155.1h0M80.7 138.9h0M63.2 149.8h0M58.6 153.1h0M86.2 140.9h0M67.0 147.1h0M58.2 153.4h0M51.1 173.6h0M72.2 143.6h0M71.7 144.0h0M45.3 166.7h0M86.4 140.1h0M86.1 138.4h0M69.1 145.8h0M70.8 144.6h0M69.6 145.4h0M55.3 155.9h0M62.5 150.4h0M51.1 160.0h0M68.3 161.1h0M76.6 140.9h0M48.8 162.4h0M72.6 143.4h0M64.8 164.0h0M72.0 157.8h0M59.6 152.5h0M78.1 140.2h0M86.3 139.0h0M52.2 158.9h0M78.9 139.9h0M52.3 158.8h0M69.0 145.9h0M67.3 161.9h0M68.4 160.9h0M85.8 138.7h0M78.4 151.4h0M85.3 142.0h0M80.0 139.5h0M65.3 163.5h0M51.8 159.4h0M77.5 140.6h0M69.3 145.7h0M82.0 138.9h0M60.0 152.3h0M78.0 140.4h0M81.6 139.1h0M85.1 138.7h0M85.1 142.3h0M69.0 146.0h0M49.2 162.2h0M76.5 153.3h0M85.4 141.4h0M54.3 156.9h0M84.9 142.5h0M53.9 171.7h0M50.8 173.6h0M83.1 145.4h0M78.4 140.3h0M85.2 139.0h0M60.2 152.2h0M60.3 152.1h0M48.5 163.0h0M81.8 147.2h0M72.1 144.0h0M75.5 154.3h0M79.3 150.2h0M79.9 139.8h0M56.9 154.8h0M79.6 149.8h0M81.9 147.1h0M63.7 149.8h0M51.3 160.0h0M76.8 141.2h0M74.5 142.5h0M61.6 151.3h0M55.7 170.4h0M82.0 146.8h0M83.6 144.3h0M72.7 143.6h0M55.8 155.8h0M85.1 139.2h0M78.1 140.6h0M43.9 176.8h0M75.6 154.0h0M62.3 150.8h0M75.1 142.2h0M42.8 170.6h0M79.1 150.4h0M56.7 155.1h0M60.8 166.8h0M84.9 139.4h0"/>
<path stroke="#00a4ff" d="M80.7 148.4h0M48.9 174.6h0M54.9 170.9h0M46.3 175.9h0M65.4 163.3h0M50.5 173.7h0M82.9 145.4h0M67.9 161.2h0M40.9 175.5h0M50.5 173.7h0M42.1 171.9h0M71.1 158.3h0M50.4 173.8h0M80.1 149.0h0M83.0 139.4h0M56.2 155.6h0M51.8 159.6h0M82.7 145.5h0M85.1 140.5h0M84.6 142.0h0M72.7 156.8h0M59.4 153.1h0M79.5 140.3h0M44.8 176.4h0M63.7 150.0h0M82.4 139.6h0M65.1 149.0h0M50.2 173.9h0M46.7 165.3h0M49.3 174.4h0M49.3 174.4h0M50.1 173.9h0M59.7 152.9h0M43.9 176.6h0M79.6 149.5h0M84.8 140.3h0M61.3 166.3h0M59.1 168.0h0M65.2 148.9h0M49.3 174.3h0M50.0 173.9h0M81.5 147.1h0M84.8 140.4h0M77.4 141.2h0M49.5 162.1h0M84.8 140.5h0M84.6 141.5h0M65.9 148.5h0M50.2 173.8h0M75.1 142.5h0M84.6 141.5h0M77.0 152.3h0M49.5 174.2h0M61.3 166.3h0M78.9 140.6h0M78.6 150.6h0M84.6 141.2h0M83.3 144.1h0M83.2 139.8h0M81.6 146.7h0M83.8 139.9h0M81.2 147.3h0M69.5 146.1h0M66.9 161.9h0M54.1 171.3h0M60.9 166.5h0M73.7 155.7h0M78.9 140.8h0M70.5 145.4h0M75.4 153.9h0M70.2 158.9h0M51.9 159.7h0M84.3 141.6h0M84.2 140.3h0M80.6 148.0h0M82.7 144.8h0M83.0 144.3h0M41.3 175.3h0M74.5 154.8h0M75.6 142.3h0M46.2 166.1h0M70.2 145.7h0M78.8 150.2h0M73.1 156.2h0M60.7 166.6h0M48.0 174.9h0M73.1 156.2h0M82.7 140.1h0M82.1 140.2h0M83.8 142.6h0M79.7 140.7h0M76.7 141.8h0M67.2 161.5h0M48.1 163.9h0M79.4 149.3h0M64.8 163.4h0M75.8 142.4h0"/>
<path stroke="#00c0ff" d="M52.3 172.4h0M76.9 141.8h0M79.1 141.0h0M82.9 144.1h0M59.5 153.3h0M79.1 141.0h0M67.7 147.5h0M71.5 157.6h0M80.0 148.4h0M83.7 142.1h0M73.8 143.5h0M69.3 146.5h0M50.4 161.4h0M77.5 141.6h0M82.6 140.5h0M48.8 174.5h0M75.5 142.6h0M83.8 141.4h0M62.9 164.9h0M78.3 141.4h0M76.2 142.3h0M73.1 144.0h0M83.2 140.7h0M81.3 146.5h0M83.5 140.8h0M53.6 158.3h0M49.7 162.2h0M61.6 151.9h0M75.8 142.5h0M45.7 175.8h0M83.6 141.1h0M66.8 161.7h0M76.7 142.1h0M82.6 140.7h0M62.1 165.5h0M48.4 174.6h0M62.2 151.5h0M76.8 142.1h0M77.0 151.8h0M82.7 140.8h0M46.8 165.6h0M79.8 148.4h0M82.8 140.9h0M70.3 145.9h0M79.1 149.4h0M67.9 147.5h0M68.2 160.4h0M42.5 172.1h0M78.0 141.7h0M82.5 141.0h0M44.5 168.8h0M69.5 146.5h0M43.4 176.2h0M82.9 143.2h0M60.3 153.0h0M79.6 141.3h0M76.0 142.6h0M75.9 142.7h0M60.0 166.9h0M76.5 142.4h0M82.4 144.0h0M71.4 157.4h0M82.3 141.1h0M68.6 160.0h0M79.8 141.4h0M65.5 149.3h0M83.0 141.9h0M54.8 157.5h0M72.4 144.7h0M82.9 141.8h0M52.5 172.1h0M82.8 142.8h0M56.6 155.9h0M82.9 142.5h0M74.5 143.5h0M81.4 145.8h0M80.4 141.4h0M42.7 176.0h0M78.9 149.3h0M67.9 160.6h0M80.3 141.4h0M82.7 141.9h0M42.1 173.2h0M65.1 163.0h0M57.9 155.0h0"/>
<path stroke="#00d8ff" d="M42.4 175.8h0M67.9 160.5h0M70.2 158.5h0M82.6 142.8h0M62.0 151.9h0M79.8 147.9h0M77.5 150.9h0M49.4 173.9h0M79.7 148.1h0M80.2 141.5h0M72.0 156.8h0M80.0 147.7h0M75.9 152.7h0M74.9 153.8h0M54.8 157.6h0M49.6 162.6h0M65.3 162.7h0M81.4 145.4h0M48.6 174.3h0M70.9 157.8h0M80.5 146.9h0M67.1 148.3h0M78.8 141.9h0M54.1 158.2h0M82.4 143.0h0M82.4 142.2h0M69.6 159.0h0M80.2 147.3h0M49.3 163.0h0M81.2 141.6h0M53.6 158.7h0M71.2 145.7h0M82.2 142.1h0M73.1 155.5h0M81.0 141.6h0M53.4 171.5h0M81.5 141.7h0M48.8 163.6h0M76.5 151.9h0M44.7 168.7h0M68.7 147.3h0M68.2 147.7h0M76.7 142.7h0M63.5 150.9h0M79.4 141.9h0M57.7 168.5h0M74.8 153.7h0M80.9 145.9h0M48.7 174.2h0M75.4 153.1h0M73.6 144.3h0M81.8 144.1h0M70.8 157.7h0M81.9 143.8h0M43.3 175.8h0M78.4 149.5h0M42.9 171.8h0M71.1 157.4h0M76.2 143.1h0M79.4 148.0h0M51.5 160.8h0M70.4 146.3h0M81.9 143.2h0M63.8 150.8h0M51.1 172.8h0M72.2 156.3h0M78.7 142.3h0M75.7 152.5h0M72.1 145.3h0M42.7 175.5h0M42.8 175.5h0M60.4 166.4h0M81.0 142.2h0M42.4 173.1h0M56.8 156.1h0M80.3 146.6h0M80.0 147.0h0M80.1 146.8h0M72.5 155.9h0M72.5 145.1h0M79.3 148.1h0M57.6 168.4h0M81.2 142.3h0M81.7 143.1h0M81.6 143.3h0M79.4 142.3h0M56.3 156.5h0M65.7 149.5h0M65.7 149.5h0M74.4 153.9h0M68.3 147.8h0M81.5 143.1h0"/>
<path stroke="#09f0ee" d="M42.5 173.2h0M51.3 161.1h0M79.6 142.4h0M55.2 157.5h0M76.6 143.2h0M47.2 174.8h0M77.1 143.0h0M78.6 142.7h0M75.8 143.6h0M67.2 160.8h0M74.1 144.4h0M60.5 166.3h0M76.5 143.3h0M47.4 165.4h0M48.7 164.0h0M80.9 142.7h0M79.1 142.6h0M43.3 175.5h0M47.1 165.8h0M68.7 147.6h0M42.4 174.5h0M50.9 161.6h0M78.0 142.9h0M77.1 150.6h0M45.5 175.3h0M69.3 147.3h0M67.6 148.3h0M81.1 143.5h0M80.2 146.1h0M45.8 175.3h0M61.2 152.9h0M64.8 162.8h0M77.5 150.1h0M62.8 151.7h0M78.7 142.8h0M58.9 167.4h0M78.3 148.9h0M78.3 143.0h0M74.6 144.3h0M77.4 143.2h0M61.6 165.3h0M56.2 156.8h0M67.5 148.5h0M80.6 145.0h0M51.1 161.4h0M80.1 142.9h0M80.2 145.7h0M75.0 153.0h0M51.1 161.5h0M75.1 152.8h0M58.5 155.0h0M77.7 149.6h0M63.6 163.7h0M65.1 150.2h0M67.9 160.1h0M79.7 146.6h0M74.0 144.6h0M75.1 144.2h0M43.4 171.4h0M78.6 148.3h0M60.9 165.8h0M79.4 143.0h0M58.1 167.9h0M76.0 151.7h0M75.6 152.1h0M54.7 158.1h0M58.6 155.0h0M54.6 170.4h0M50.0 162.7h0M76.7 143.6h0M69.7 158.4h0M79.4 146.8h0M77.0 150.4h0M68.3 148.1h0M52.2 160.4h0M50.2 162.5h0M49.7 163.1h0M43.6 175.2h0M80.3 143.7h0M58.5 167.5h0M63.9 163.4h0M54.0 158.8h0"/>
<path stroke="#1fffd7" d="M78.6 143.3h0M42.7 174.1h0M47.5 174.4h0M64.3 163.1h0M78.0 148.9h0M60.5 153.6h0M51.6 161.1h0M78.8 143.3h0M50.4 162.3h0M72.2 155.8h0M67.3 160.5h0M79.7 145.8h0M79.5 146.3h0M46.7 174.7h0M78.5 148.1h0M54.2 158.7h0M69.6 158.4h0M75.2 152.4h0M43.1 172.5h0M74.7 153.0h0M65.6 150.0h0M47.8 174.3h0M63.2 151.7h0M70.4 157.6h0M58.6 155.1h0M73.2 145.3h0M78.7 147.7h0M43.3 172.0h0M53.7 159.1h0M78.2 148.4h0M61.3 165.4h0M55.7 157.4h0M79.0 147.0h0M78.8 143.6h0M53.2 159.7h0M78.0 148.5h0M77.7 143.8h0M59.9 154.1h0M64.7 162.6h0M71.9 155.9h0M56.3 169.0h0M77.2 149.6h0M70.9 146.7h0M54.0 170.6h0M79.6 144.0h0M76.7 150.4h0M64.2 163.0h0M67.8 148.6h0M52.4 160.4h0M50.9 172.6h0M79.0 143.9h0M73.1 145.5h0M53.5 159.4h0M65.1 150.5h0M79.3 145.9h0M45.9 174.9h0M79.6 145.1h0M73.7 145.3h0M78.6 147.3h0M69.6 158.1h0M72.7 155.0h0M56.2 157.1h0M59.0 167.0h0M69.8 147.4h0M79.4 144.3h0M74.5 153.0h0M77.9 148.4h0M48.8 173.7h0M58.5 167.4h0M56.3 157.0h0M79.3 144.4h0M78.5 144.0h0M72.0 146.2h0M78.3 144.0h0M59.3 154.7h0M53.2 159.8h0M64.2 163.0h0M79.3 144.6h0M57.7 168.0h0M78.7 146.9h0M64.3 162.8h0M47.0 174.4h0M68.2 148.5h0M43.3 172.5h0M45.3 174.9h0M69.4 147.7h0M63.1 151.9h0M63.7 151.5h0M76.6 150.2h0"/>
<path stroke="#33ffc4" d="M70.8 146.9h0M78.8 144.3h0M47.5 174.2h0M77.7 148.4h0M70.4 157.3h0M70.1 147.4h0M47.4 174.2h0M75.3 151.8h0M56.7 168.6h0M68.5 148.4h0M46.7 174.5h0M47.3 174.3h0M59.0 155.0h0M44.2 170.6h0M67.5 160.0h0M78.2 144.4h0M71.6 146.6h0M73.0 145.9h0M73.1 145.8h0M62.7 164.1h0M66.0 161.3h0M56.5 168.8h0M61.6 164.9h0M73.0 145.9h0M71.6 146.6h0M70.6 157.0h0M75.9 150.9h0M52.8 171.3h0M72.6 146.1h0M62.5 164.2h0M47.7 165.7h0M48.0 165.4h0M74.9 145.2h0M43.3 173.2h0M43.3 173.2h0M64.0 163.0h0M57.8 167.8h0M53.0 171.1h0M78.3 147.1h0M77.2 148.9h0M56.3 157.2h0M46.2 167.7h0M64.0 151.4h0M65.6 161.6h0M77.0 149.2h0M43.4 172.6h0M52.9 171.2h0M45.8 168.1h0M47.8 174.0h0M51.2 172.3h0M76.2 144.8h0M45.7 174.7h0M56.4 157.2h0M63.5 163.3h0M70.1 157.4h0M77.7 144.7h0M75.1 145.2h0M75.3 151.6h0M44.7 174.7h0M44.1 174.6h0M71.2 156.2h0M52.3 160.8h0M64.0 163.0h0M77.2 144.7h0M75.3 151.4h0M68.4 159.1h0M76.7 149.5h0M54.1 159.2h0M78.2 146.6h0M44.4 170.5h0M46.8 174.3h0M48.3 173.7h0M71.8 146.7h0M44.4 174.6h0M49.1 164.2h0M70.9 147.1h0M68.7 148.4h0M43.6 174.1h0M46.0 174.5h0M78.2 145.3h0M78.1 146.8h0M72.9 154.2h0M78.3 145.9h0M77.5 144.9h0M69.7 147.9h0M65.4 161.7h0M50.1 172.8h0M53.1 171.0h0M46.5 167.4h0M78.2 146.0h0M68.3 159.1h0M46.9 174.2h0M54.2 159.1h0M69.7 147.9h0"/>
<path stroke="#49ffad" d="M62.9 152.4h0M51.5 172.0h0M59.8 166.2h0M65.5 161.6h0M75.1 151.4h0M53.2 170.9h0M76.7 145.2h0M77.9 145.7h0M66.6 160.6h0M73.3 146.2h0M64.2 151.5h0M71.8 155.3h0M52.1 171.5h0M68.0 149.0h0M50.5 172.5h0M77.1 145.2h0M77.1 145.2h0M76.4 149.4h0M77.4 145.3h0M75.3 151.0h0M45.7 174.4h0M62.2 164.2h0M63.3 163.4h0M74.6 145.8h0M66.5 150.0h0M76.4 145.4h0M53.2 160.2h0M45.7 168.6h0M48.8 164.7h0M67.0 149.7h0M74.4 152.2h0M74.0 146.0h0M44.7 174.4h0M77.5 145.7h0M66.9 149.8h0M49.4 173.0h0M77.4 145.8h0M67.3 159.8h0M69.4 157.8h0M60.2 154.5h0M47.9 173.7h0M77.4 145.8h0M54.2 159.3h0M66.1 150.3h0M77.2 147.6h0M68.9 158.3h0M64.7 162.2h0M77.5 146.2h0M44.0 173.8h0M67.8 149.3h0M76.1 149.6h0M61.0 153.9h0M60.8 165.3h0M75.4 145.7h0M76.8 148.4h0M50.9 162.5h0M50.5 162.8h0M52.4 160.9h0M74.8 151.4h0M57.7 156.4h0M71.3 155.7h0M52.6 171.2h0M44.8 174.3h0M49.1 164.5h0M55.1 158.6h0M61.2 165.0h0M76.1 145.7h0M77.0 147.7h0M76.7 145.8h0M72.8 153.9h0M70.0 157.0h0M54.4 159.2h0M70.0 157.0h0M62.9 163.6h0M77.1 147.3h0M61.8 164.5h0M71.3 155.7h0M66.8 150.0h0M44.7 174.2h0M76.9 146.1h0M65.4 161.4h0M75.3 146.0h0M76.3 146.0h0M76.8 146.2h0"/>
<path stroke="#5dff9a" d="M76.5 146.0h0M77.0 146.5h0M72.1 147.1h0M47.2 173.9h0M70.3 156.6h0M75.8 149.7h0M64.2 162.4h0M70.7 147.8h0M76.6 148.2h0M47.7 173.7h0M67.6 149.5h0M55.5 158.3h0M73.5 152.9h0M74.7 151.3h0M72.6 146.9h0M44.5 171.1h0M59.5 155.1h0M76.0 146.1h0M61.9 153.3h0M44.3 173.7h0M74.8 146.3h0M56.8 157.2h0M59.5 155.2h0M74.5 151.5h0M66.3 150.4h0M60.0 154.8h0M69.5 148.5h0M47.9 166.0h0M69.7 148.4h0M75.5 146.2h0M74.5 151.4h0M75.1 150.5h0M72.1 147.2h0M70.6 156.2h0M74.8 150.9h0M75.9 149.1h0M57.9 156.4h0M73.5 152.7h0M74.9 150.8h0M75.2 146.4h0M70.8 147.9h0M73.1 146.9h0M54.5 159.2h0M76.0 146.4h0M71.2 155.5h0M51.3 171.8h0M66.8 150.2h0M65.2 151.2h0M70.0 148.3h0M75.4 149.8h0M71.9 154.6h0M76.3 146.8h0M52.1 171.3h0M44.2 172.3h0M61.1 154.1h0M75.3 146.5h0M72.6 147.2h0M75.4 146.5h0M76.3 147.7h0M64.7 161.8h0M56.2 157.8h0M74.8 146.6h0M64.5 162.0h0M72.1 154.3h0M74.5 146.6h0M68.4 149.3h0M56.2 157.9h0M58.9 155.7h0M76.0 146.8h0M76.0 148.3h0M76.2 147.3h0M71.3 155.2h0M48.4 173.2h0M48.2 165.8h0M64.5 162.0h0M74.7 146.7h0M62.6 163.6h0M75.2 146.7h0M76.2 147.4h0M69.3 157.4h0M75.3 149.8h0M76.0 148.2h0M44.6 171.3h0M56.1 168.6h0M47.0 167.3h0M75.3 149.6h0M67.1 150.1h0M50.7 172.0h0M44.6 173.6h0M55.3 158.7h0M73.5 147.0h0M47.0 167.4h0M73.9 151.8h0"/>
<path stroke="#70ff87" d="M62.2 153.3h0M64.2 152.0h0M66.5 160.1h0M71.3 155.1h0M45.1 173.8h0M74.7 146.9h0M44.4 172.8h0M75.8 147.4h0M68.3 158.4h0M73.9 151.7h0M52.1 161.6h0M46.4 168.3h0M75.5 147.1h0M72.9 153.1h0M74.7 150.5h0M59.3 155.5h0M49.0 164.9h0M72.0 147.6h0M75.7 147.3h0M49.2 172.8h0M74.5 150.7h0M51.3 171.7h0M71.9 154.2h0M67.9 158.7h0M75.6 148.3h0M46.6 173.7h0M75.7 148.0h0M68.9 157.6h0M75.6 148.3h0M54.5 159.4h0M74.0 147.1h0M72.3 153.8h0M71.8 154.3h0M75.4 147.4h0M75.0 149.6h0M46.1 168.7h0M51.0 162.7h0M66.1 160.5h0M62.2 163.8h0M48.9 172.9h0M75.4 148.6h0M65.9 160.5h0M70.0 156.4h0M58.5 156.2h0M75.2 149.1h0M67.4 150.1h0M47.0 167.5h0M73.7 151.6h0M63.3 152.8h0M67.1 150.3h0M55.7 168.8h0M68.4 149.5h0M57.9 167.1h0M75.3 148.6h0M57.7 156.8h0M70.3 148.6h0M68.3 158.2h0M74.0 151.2h0M74.4 150.4h0M62.8 163.3h0M75.0 147.6h0M73.7 147.4h0M73.7 151.5h0M48.5 165.6h0M66.2 150.9h0M68.7 157.7h0M65.1 151.6h0M67.6 150.1h0M68.8 149.4h0M45.1 173.3h0M45.4 170.1h0M47.9 173.2h0M75.0 148.4h0M48.6 172.9h0M65.6 151.3h0M67.6 150.1h0M72.3 147.9h0M66.1 151.0h0"/>
<path stroke="#87ff70" d="M55.9 168.5h0M70.5 155.6h0M49.3 164.7h0M68.9 149.4h0M45.7 169.7h0M71.3 148.3h0M68.3 158.0h0M47.4 167.1h0M57.4 157.2h0M62.6 163.3h0M45.9 173.5h0M50.2 163.8h0M54.4 169.5h0M45.4 170.3h0M74.7 149.1h0M49.7 164.3h0M71.7 154.1h0M57.1 167.6h0M49.6 164.5h0M54.3 159.8h0M60.4 165.1h0M47.5 167.0h0M74.7 148.8h0M71.9 148.2h0M61.5 154.2h0M44.9 172.5h0M74.7 148.4h0M60.0 155.3h0M45.1 173.0h0M63.4 152.8h0M74.1 148.0h0M64.8 161.3h0M71.4 154.4h0M72.5 152.9h0M74.4 148.2h0M45.8 173.4h0M66.4 150.9h0M72.8 152.5h0M47.7 166.8h0M47.9 173.1h0M74.1 148.0h0M45.7 173.3h0M56.6 157.9h0M60.7 154.8h0M50.8 171.7h0M69.4 149.3h0M74.4 149.1h0M60.7 154.7h0M46.3 173.4h0M73.9 150.4h0M59.0 166.2h0M45.8 173.3h0M66.9 150.7h0M47.9 166.6h0M69.2 149.4h0M74.3 149.4h0M71.0 154.7h0M55.9 158.5h0M71.0 148.7h0M67.7 158.5h0M73.9 150.4h0M72.5 148.2h0M58.3 166.7h0M74.2 149.4h0M57.3 167.4h0M69.8 156.2h0M74.2 148.7h0M56.5 168.0h0M64.8 152.0h0M74.1 148.5h0M67.6 150.4h0M55.8 158.6h0M47.6 173.1h0M50.9 163.1h0M74.1 149.5h0M45.6 173.1h0M46.8 168.3h0M74.0 148.7h0M46.8 173.2h0M63.4 153.0h0M69.8 156.1h0M45.2 171.5h0M73.5 150.7h0M74.0 149.0h0M66.5 159.6h0M49.1 165.2h0M48.0 166.5h0M64.7 161.3h0"/>
<path stroke="#9aff5d" d="M45.5 172.9h0M45.3 171.3h0M57.3 167.3h0M50.1 164.0h0M73.9 149.0h0M48.7 165.8h0M73.5 148.7h0M73.6 148.7h0M58.1 166.7h0M50.8 171.6h0M58.5 166.4h0M45.3 172.4h0M72.9 151.6h0M73.8 149.5h0M63.1 162.7h0M59.3 155.9h0M73.3 148.6h0M73.5 148.8h0M70.0 149.3h0M62.8 162.9h0M50.9 163.3h0M66.0 160.0h0M51.6 162.5h0M45.3 172.4h0M61.7 154.3h0M71.1 154.2h0M45.7 172.9h0M52.5 161.7h0M51.8 171.0h0M47.7 172.9h0M59.0 166.0h0M68.1 150.3h0M50.8 171.6h0M55.0 159.4h0M47.8 166.9h0M45.5 170.9h0M56.4 167.9h0M71.5 148.9h0M70.3 149.3h0M66.8 159.2h0M72.1 148.8h0M72.2 152.6h0M66.7 159.3h0M55.5 159.0h0M68.3 150.2h0M45.9 172.9h0M73.3 149.2h0M71.3 149.0h0M71.9 148.9h0M65.3 151.9h0M72.1 152.5h0M67.9 150.4h0M73.4 149.6h0M64.4 152.5h0M54.5 159.9h0M50.8 171.5h0M67.2 150.8h0M64.4 161.4h0M68.3 157.5h0M49.8 164.6h0M54.6 169.1h0M72.0 149.0h0M56.2 158.5h0M66.9 151.0h0M46.8 168.6h0M46.7 168.7h0M68.8 150.0h0M45.7 170.7h0M72.8 151.2h0M66.6 151.2h0M54.1 169.5h0M73.2 149.7h0M70.9 154.2h0M73.1 150.0h0M53.2 161.1h0M73.1 150.0h0M53.6 160.7h0M48.0 166.8h0M45.6 172.4h0M69.9 155.5h0M70.4 154.8h0M49.5 172.1h0M67.1 151.0h0M62.2 154.0h0M63.5 162.1h0M45.5 172.1h0M45.8 172.5h0M48.6 166.1h0M59.8 155.7h0"/>
<path stroke="#b1ff46" d="M56.8 167.5h0M66.0 159.8h0M66.8 159.0h0M69.3 156.2h0M69.0 150.1h0M72.9 149.8h0M72.5 151.4h0M62.7 153.7h0M48.9 165.7h0M72.6 149.4h0M57.9 166.6h0M72.7 149.6h0M53.1 161.2h0M72.4 151.5h0M70.6 154.5h0M58.3 166.4h0M70.3 149.6h0M54.6 169.1h0M68.2 157.4h0M72.5 149.5h0M52.5 170.4h0M51.6 170.9h0M70.1 155.1h0M64.5 161.2h0M49.5 165.0h0M55.8 168.2h0M72.6 151.0h0M69.3 156.0h0M52.7 161.6h0M72.6 150.7h0M51.5 162.8h0M66.1 151.6h0M46.0 172.5h0M72.1 151.9h0M71.7 149.5h0M59.4 165.4h0M72.0 149.5h0M70.6 154.4h0M68.9 156.6h0M51.2 171.2h0M71.1 149.5h0M51.4 171.0h0M45.7 171.8h0M66.6 151.4h0M45.7 171.5h0M67.0 158.6h0M72.1 149.7h0M46.3 172.6h0M47.1 172.7h0M64.0 161.5h0M49.2 172.1h0M64.7 152.5h0M57.5 157.6h0M46.4 172.5h0M45.8 171.7h0M66.9 151.3h0M48.5 166.3h0M71.2 153.2h0M46.0 170.5h0M54.5 160.1h0M46.0 172.3h0M71.9 149.8h0M63.7 161.7h0M58.2 157.1h0M64.1 161.4h0M46.8 168.9h0M67.5 157.9h0M52.5 162.0h0M59.2 156.4h0M48.4 166.5h0M50.7 171.3h0M68.5 150.6h0"/>
<path stroke="#c4ff33" d="M70.1 154.6h0M65.1 160.4h0M57.8 166.6h0M71.3 152.7h0M72.0 150.7h0M47.0 168.6h0M71.3 152.7h0M53.5 161.1h0M67.0 151.4h0M69.9 154.9h0M71.7 151.8h0M71.9 151.1h0M50.8 171.2h0M46.0 171.6h0M51.1 171.0h0M66.3 151.8h0M46.6 172.3h0M66.8 158.6h0M59.1 165.6h0M69.9 154.8h0M67.2 151.3h0M54.6 168.9h0M47.1 168.6h0M46.1 171.1h0M71.8 150.7h0M46.2 171.9h0M71.5 150.3h0M68.9 150.6h0M71.3 150.2h0M56.5 158.6h0M70.2 150.2h0M47.8 172.3h0M47.3 168.3h0M55.2 168.4h0M58.7 156.8h0M71.6 150.6h0M64.6 152.8h0M71.6 150.5h0M67.1 158.1h0M58.8 156.7h0M62.6 162.6h0M70.8 150.2h0M67.9 157.2h0M48.9 172.0h0M54.8 168.7h0M71.6 151.0h0M49.4 165.4h0M62.1 154.4h0M71.6 151.3h0M69.8 154.8h0M70.5 150.3h0M71.6 151.1h0M50.2 164.5h0M63.0 162.2h0M65.1 160.2h0M53.8 161.0h0M48.8 166.3h0M63.8 161.5h0M46.2 171.3h0M52.3 162.4h0M64.2 153.1h0M46.3 170.6h0M50.3 171.3h0M55.7 159.3h0M50.4 171.3h0M58.0 166.3h0M47.6 168.0h0M64.9 152.7h0M63.5 153.6h0M56.2 167.6h0M47.8 172.2h0M51.6 170.7h0M49.9 171.5h0M71.1 152.3h0M50.5 171.2h0M47.9 172.2h0M68.3 151.0h0M67.4 151.4h0M46.6 172.0h0M67.1 151.6h0M67.1 151.5h0M53.2 161.6h0M59.6 156.3h0M46.3 170.9h0M53.0 169.8h0M62.9 162.2h0M50.3 171.3h0M49.4 165.5h0M69.2 155.4h0M52.1 162.6h0M48.6 172.0h0M65.0 152.7h0M52.4 162.3h0M53.0 161.7h0"/>
<path stroke="#d7ff1f" d="M62.7 162.4h0M62.1 162.9h0M49.2 171.8h0M71.2 151.2h0M63.2 153.8h0M63.4 161.8h0M46.8 169.6h0M54.8 160.1h0M69.7 154.5h0M59.9 164.8h0M59.7 156.2h0M67.0 151.7h0M68.2 156.6h0M48.8 171.9h0M53.9 169.2h0M71.0 151.3h0M59.3 156.6h0M48.8 171.8h0M51.9 170.4h0M64.2 161.0h0M68.9 151.0h0M69.8 154.3h0M55.1 159.9h0M67.9 157.0h0M54.2 169.0h0M55.8 167.9h0M68.4 156.3h0M47.8 172.0h0M61.9 154.7h0M49.6 165.4h0M63.8 153.5h0M68.6 155.9h0M53.2 169.6h0M47.3 168.6h0M49.9 165.1h0M60.7 155.5h0M63.8 161.3h0M46.5 170.5h0M57.1 158.3h0M64.0 161.1h0M70.5 152.8h0M47.2 168.9h0M68.8 151.1h0M65.6 159.5h0M60.8 163.9h0M55.8 167.8h0M62.9 154.1h0M67.3 157.5h0M46.7 171.6h0M65.1 160.0h0M53.9 169.1h0M58.9 165.5h0M68.1 151.4h0M62.6 154.3h0M49.5 171.5h0M56.7 167.1h0M51.7 170.4h0M50.3 164.7h0M67.9 151.5h0M66.0 159.0h0M51.0 170.8h0M52.7 169.9h0M68.0 156.6h0M70.6 151.6h0M65.4 159.6h0M47.2 171.8h0M46.8 169.9h0M61.1 155.4h0M69.4 151.1h0M63.6 161.4h0M64.5 160.5h0M64.0 153.5h0M61.7 155.0h0M49.4 165.8h0M53.4 161.5h0M48.5 167.0h0M62.3 162.6h0M49.8 165.3h0M46.9 171.6h0M47.9 167.8h0M70.4 152.3h0M63.7 161.2h0M70.3 152.5h0M64.4 160.6h0M70.3 151.5h0M51.0 164.0h0M70.2 151.4h0M48.0 171.8h0M52.9 169.7h0M54.0 161.0h0M61.9 154.9h0"/>
<path stroke="#eeff09" d="M67.3 157.4h0M63.9 161.0h0M47.1 169.4h0M60.5 164.1h0M47.4 168.9h0M61.8 163.0h0M53.2 169.5h0M70.3 152.1h0M49.7 165.5h0M66.7 152.1h0M63.4 161.5h0M55.5 168.0h0M53.4 161.6h0M67.7 151.7h0M56.9 158.6h0M70.0 151.6h0M52.9 162.0h0M68.8 151.4h0M65.4 159.5h0M66.3 152.4h0M53.8 161.3h0M70.0 151.7h0M52.0 163.0h0M66.1 158.7h0M68.4 155.7h0M63.0 161.9h0M68.1 156.2h0M57.0 158.5h0M66.4 152.4h0M62.4 154.6h0M46.8 170.9h0M58.6 157.3h0M49.8 171.2h0M53.0 169.5h0M67.8 151.8h0M59.7 164.7h0M58.0 166.1h0M68.8 155.2h0M57.1 158.5h0M50.1 165.1h0M47.1 169.6h0M69.1 154.6h0M59.2 156.9h0M69.3 151.6h0M47.9 171.6h0M64.2 160.6h0M50.1 171.1h0M60.7 155.8h0M48.4 171.6h0M51.4 163.7h0M47.0 170.9h0M47.4 171.5h0M56.2 167.3h0M49.6 165.8h0M67.0 152.2h0M67.2 157.2h0M66.2 152.5h0M52.8 169.6h0M49.2 171.4h0M52.2 162.9h0M55.9 167.5h0M47.2 169.6h0M69.3 151.8h0M66.5 152.4h0M69.7 152.8h0M63.3 161.4h0M52.2 169.9h0M54.2 161.0h0M53.1 162.0h0M69.7 152.7h0M50.2 170.9h0M68.8 154.8h0M53.1 169.4h0M65.4 153.0h0M66.1 152.7h0M49.7 165.7h0M56.8 166.9h0M68.8 151.8h0M69.0 151.9h0M48.1 171.5h0M68.4 151.9h0M48.8 171.4h0M66.4 158.1h0"/>
<path stroke="#ffea00" d="M50.2 165.1h0M69.5 152.2h0M51.1 170.5h0M48.9 171.4h0M66.6 157.8h0M51.1 170.5h0M54.1 161.2h0M69.4 153.4h0M51.6 163.6h0M66.2 158.3h0M54.7 168.3h0M47.2 170.8h0M57.0 158.7h0M47.2 170.4h0M52.0 163.2h0M69.2 153.8h0M69.2 153.5h0M68.9 154.4h0M55.5 159.9h0M69.3 153.0h0M68.6 152.1h0M67.2 152.3h0M54.1 161.1h0M67.0 152.4h0M62.4 162.1h0M48.7 171.3h0M49.9 171.0h0M65.2 159.3h0M53.3 161.9h0M63.2 161.4h0M49.1 171.2h0M63.3 154.3h0M53.9 161.4h0M66.5 152.7h0M47.7 171.1h0M48.5 167.6h0M48.4 171.3h0M67.4 156.6h0M54.1 168.6h0M68.2 155.3h0M67.0 152.5h0M58.9 157.3h0M52.7 169.5h0M49.9 165.6h0M61.8 162.6h0M68.4 152.3h0M63.9 160.6h0M61.5 162.9h0M64.9 159.6h0M63.4 154.3h0M61.7 162.7h0M68.8 152.5h0M68.3 155.1h0M47.4 170.3h0M56.1 167.2h0M66.5 157.7h0M47.5 170.8h0M66.5 157.6h0M67.5 156.3h0M67.9 155.6h0M55.8 159.8h0M68.5 154.5h0M62.6 161.8h0M65.6 158.7h0M52.6 169.5h0M62.3 162.1h0M50.6 164.8h0M51.7 170.0h0M51.1 170.3h0M68.5 154.4h0M48.6 167.5h0M47.6 169.6h0M47.5 170.5h0M65.4 158.9h0M64.5 153.8h0M48.9 167.0h0"/>
<path stroke="#ffd000" d="M49.9 170.8h0M55.3 167.7h0M51.3 164.1h0M65.4 153.3h0M68.6 152.8h0M47.6 169.5h0M67.8 155.6h0M49.7 170.8h0M54.0 168.6h0M47.8 169.2h0M61.7 155.5h0M60.8 156.1h0M50.9 170.4h0M47.6 170.2h0M68.6 153.8h0M49.5 170.9h0M64.0 154.1h0M52.6 162.8h0M67.3 156.3h0M47.8 170.7h0M47.8 169.3h0M55.4 160.2h0M68.1 155.0h0M59.2 157.2h0M68.2 154.6h0M63.7 154.3h0M65.0 159.3h0M67.9 152.8h0M66.2 157.8h0M53.7 161.8h0M67.5 155.8h0M56.9 166.5h0M57.4 166.1h0M68.1 152.9h0M56.9 166.5h0M68.3 154.1h0M62.2 155.2h0M66.5 153.0h0M67.6 152.9h0M62.0 155.4h0M64.4 159.8h0M48.3 168.4h0M67.6 152.9h0M53.8 168.7h0M59.5 164.4h0M67.1 156.5h0M60.6 156.3h0M66.8 153.0h0M58.1 165.5h0M68.1 154.6h0M68.2 153.4h0M50.6 170.4h0M50.2 170.5h0M61.2 163.0h0M65.3 153.6h0M64.8 159.3h0M67.4 155.8h0M64.4 159.8h0M62.8 161.4h0M49.1 167.1h0M49.3 170.7h0M49.2 166.9h0M48.8 170.8h0M52.5 163.0h0M53.2 162.4h0M65.4 158.5h0M61.0 156.1h0M68.0 154.4h0M47.9 169.5h0"/>
<path stroke="#ffb900" d="M67.5 153.1h0M58.2 158.1h0M64.1 154.3h0M68.0 154.1h0M48.2 168.8h0M48.7 167.7h0M50.8 170.2h0M65.1 153.8h0M67.9 154.2h0M48.0 170.2h0M51.0 164.7h0M67.9 153.5h0M53.4 162.1h0M48.0 169.9h0M52.8 169.2h0M48.2 170.4h0M60.6 163.4h0M61.1 162.9h0M67.8 154.6h0M64.1 159.9h0M48.4 168.4h0M48.2 168.8h0M49.7 166.4h0M48.2 170.4h0M51.2 164.5h0M65.2 158.7h0M50.0 170.4h0M58.5 165.1h0M48.0 169.6h0M50.8 170.2h0M48.2 169.0h0M54.7 167.9h0M66.8 156.4h0M50.5 165.3h0M66.4 153.4h0M67.1 153.4h0M67.8 154.2h0M64.5 159.5h0M48.2 168.9h0M56.6 166.6h0M56.5 166.7h0M51.5 169.8h0M60.9 156.2h0M67.0 153.5h0M57.6 165.8h0M64.2 159.7h0M48.2 169.5h0M48.5 168.5h0M65.9 157.6h0M66.3 157.0h0M57.9 165.5h0M49.1 167.3h0M48.8 170.5h0M53.2 162.5h0M65.0 154.0h0M63.6 160.3h0M48.5 168.5h0M67.3 155.1h0M49.2 167.2h0M59.8 157.1h0M48.2 169.6h0M52.9 169.0h0M50.8 165.1h0M49.6 170.4h0M49.0 167.6h0M61.2 162.7h0M52.3 169.3h0M48.3 169.7h0M48.8 170.4h0M61.5 162.4h0M67.3 154.1h0"/>
<path stroke="#ffa300" d="M51.2 164.7h0M51.8 169.5h0M55.2 160.7h0M51.5 164.3h0M62.9 155.2h0M62.8 161.1h0M54.1 161.7h0M48.4 169.4h0M66.7 156.2h0M63.1 160.7h0M67.2 154.1h0M62.3 155.5h0M66.1 153.8h0M57.8 165.5h0M62.6 155.4h0M51.7 169.6h0M48.5 168.8h0M62.4 155.5h0M67.0 154.0h0M58.4 165.0h0M54.3 161.6h0M66.6 153.9h0M53.3 162.5h0M51.1 169.8h0M65.0 158.5h0M67.1 154.7h0M53.8 162.1h0M60.7 156.6h0M48.6 169.8h0M57.6 158.8h0M50.3 170.0h0M49.9 166.4h0M51.8 169.4h0M54.7 161.2h0M53.7 162.2h0M48.6 169.0h0M63.4 160.4h0M57.5 158.9h0M51.0 165.1h0M66.4 154.1h0M48.8 168.3h0M59.1 157.7h0M66.1 154.1h0M49.1 170.1h0M60.1 157.0h0M57.3 159.1h0M48.6 169.0h0M66.3 156.4h0M66.1 154.1h0M57.9 165.3h0M48.9 170.0h0M48.7 168.6h0M61.3 156.3h0M57.8 158.7h0M66.6 155.7h0M66.1 156.6h0M66.3 154.3h0M55.2 167.3h0M50.8 169.8h0M66.6 154.5h0M56.8 159.6h0M49.0 169.9h0M64.1 154.8h0M49.0 168.2h0M51.4 169.5h0M63.5 155.1h0M58.8 158.0h0"/>
<path stroke="#ff8900" d="M62.5 161.1h0M63.1 160.4h0M57.3 159.2h0M59.5 163.9h0M58.0 158.6h0M64.2 159.2h0M54.7 167.6h0M60.0 157.2h0M50.0 166.6h0M51.2 169.6h0M49.8 166.9h0M55.7 166.9h0M49.0 169.7h0M64.3 154.8h0M65.6 154.4h0M49.8 169.9h0M54.2 161.8h0M58.8 158.1h0M48.9 168.9h0M62.7 160.9h0M64.1 159.3h0M53.5 168.3h0M66.5 155.2h0M62.2 161.3h0M62.8 160.7h0M62.7 160.9h0M53.1 162.9h0M66.3 154.7h0M55.8 160.4h0M51.5 169.4h0M61.3 156.4h0M55.7 160.5h0M50.1 166.5h0M52.9 163.2h0M66.4 155.5h0M56.3 166.4h0M61.3 162.2h0M51.1 165.2h0M66.3 155.1h0M49.3 169.7h0M64.3 159.0h0M65.7 154.6h0M50.3 166.2h0M54.6 167.6h0M65.4 157.4h0M61.8 161.7h0M49.8 166.9h0M60.3 157.1h0M64.0 159.3h0M50.0 169.8h0M52.4 168.9h0M58.3 158.5h0M50.0 166.7h0M62.7 160.7h0M55.3 167.1h0M65.7 154.7h0M65.4 157.3h0M49.3 167.9h0M50.0 166.7h0M56.0 166.6h0M49.0 169.1h0M62.1 161.3h0M65.9 156.2h0M49.3 169.6h0M59.0 158.0h0M56.4 166.3h0M51.3 169.4h0M62.0 161.4h0M55.1 167.2h0M51.4 164.9h0M61.9 161.5h0M56.0 166.6h0M52.9 163.2h0M63.6 159.7h0M59.6 163.7h0M61.4 162.0h0M54.4 167.7h0M65.0 157.8h0M63.0 155.6h0M62.6 155.8h0M49.3 169.4h0M63.2 155.5h0M57.1 165.7h0M51.6 164.7h0M59.4 157.8h0M64.3 155.0h0M56.1 160.3h0M60.7 156.9h0M65.9 155.1h0"/>
<path stroke="#ff7300" d="M65.8 155.1h0M53.7 162.5h0M50.0 169.6h0M65.5 156.9h0M50.3 166.4h0M49.8 169.6h0M64.8 155.0h0M59.5 163.7h0M53.8 168.0h0M59.9 163.4h0M65.9 155.6h0M54.5 161.7h0M51.1 165.3h0M61.0 162.3h0M65.5 156.7h0M54.3 167.7h0M49.8 167.2h0M56.9 165.8h0M51.9 164.4h0M63.1 155.6h0M56.3 160.2h0M64.4 158.5h0M51.6 169.1h0M49.3 168.9h0M53.6 162.6h0M57.9 159.0h0M63.0 160.1h0M54.0 162.3h0M62.1 156.2h0M65.6 155.7h0M50.9 165.7h0M53.8 167.9h0M63.8 159.2h0M53.8 167.9h0M62.0 156.3h0M51.7 169.0h0M51.1 169.2h0M65.3 155.3h0M65.3 155.3h0M53.5 162.8h0M53.6 162.7h0M52.1 168.8h0M49.8 167.6h0M50.3 169.3h0M52.9 168.4h0M64.4 158.3h0M58.7 158.5h0M58.0 158.9h0M62.9 160.1h0M50.5 169.3h0M51.9 164.6h0M51.6 165.0h0M65.2 156.7h0M61.7 156.5h0M62.1 161.1h0M50.4 169.3h0M50.0 169.2h0M51.8 164.7h0M58.3 158.8h0M50.3 166.8h0M50.0 167.3h0M58.6 164.3h0M49.7 168.1h0M60.0 163.1h0"/>
<path stroke="#ff5900" d="M63.6 155.7h0M56.7 165.8h0M53.6 162.8h0M54.9 167.1h0M65.2 155.8h0M65.2 156.0h0M63.2 155.9h0M59.6 157.9h0M61.4 156.7h0M53.2 168.1h0M63.8 155.7h0M54.0 167.7h0M65.1 155.8h0M62.7 156.1h0M49.8 167.8h0M53.5 162.9h0M49.9 169.0h0M64.9 155.7h0M54.0 162.4h0M51.5 165.2h0M58.5 164.3h0M52.7 168.4h0M54.4 167.4h0M58.5 164.3h0M53.9 167.7h0M58.2 158.9h0M52.1 164.5h0M59.2 163.7h0M50.7 169.1h0M54.3 162.2h0M63.4 155.9h0M64.7 155.7h0M58.1 159.0h0M61.2 161.8h0M56.7 165.7h0M59.8 163.2h0M52.0 164.6h0M50.7 166.2h0M54.4 162.1h0M52.8 163.7h0M64.7 155.8h0M64.8 155.9h0M51.1 168.9h0M61.7 156.7h0M57.4 165.2h0M52.9 168.2h0M54.8 161.8h0M52.9 163.6h0M51.0 168.9h0M63.9 155.8h0M63.2 156.0h0M50.1 168.7h0M50.2 168.8h0M54.0 167.6h0M59.9 163.0h0M55.7 166.4h0M51.6 165.1h0M54.0 162.5h0M61.4 156.9h0M50.6 166.6h0M50.0 168.4h0M50.8 168.9h0M61.6 156.9h0M64.1 158.1h0M50.2 167.4h0M58.9 158.5h0M64.6 156.3h0M54.7 167.0h0M56.2 160.6h0M58.9 163.8h0M59.4 158.2h0M64.5 157.2h0M59.5 158.2h0M64.2 156.0h0M64.6 156.5h0M64.6 156.4h0M58.7 164.0h0M55.5 166.5h0M63.9 158.3h0M64.5 157.1h0M61.3 157.0h0M62.8 156.3h0"/>
<path stroke="#ff4300" d="M63.8 158.4h0M64.4 157.3h0M50.3 168.6h0M60.9 157.3h0M63.3 159.1h0M63.6 158.7h0M52.8 163.9h0M63.6 156.1h0M63.9 158.2h0M63.9 156.1h0M50.5 167.1h0M55.5 161.2h0M56.2 166.0h0M64.2 156.3h0M64.4 156.5h0M58.5 164.1h0M62.2 156.7h0M54.9 166.8h0M50.5 168.6h0M62.4 160.2h0M52.2 164.7h0M63.6 156.2h0M50.4 167.4h0M62.4 156.6h0M55.9 166.2h0M59.1 158.5h0M64.1 156.3h0M61.0 161.7h0M62.9 156.4h0M63.2 156.3h0M62.7 159.8h0M64.3 156.7h0M59.9 162.8h0M62.1 160.6h0M50.4 167.6h0M53.4 163.3h0M64.1 157.6h0M51.5 168.5h0M51.1 168.6h0M63.7 156.3h0M64.3 156.8h0M57.5 164.9h0M57.0 160.1h0M51.2 168.6h0M54.7 162.0h0M51.0 166.3h0M60.6 157.6h0M63.1 159.1h0M54.6 167.0h0M53.0 163.8h0M61.8 160.8h0M58.1 164.4h0M50.8 168.5h0M62.7 156.6h0M56.8 160.3h0M61.5 161.1h0M54.6 162.2h0M50.5 167.4h0M61.2 157.3h0M63.7 158.0h0M56.9 160.2h0M58.6 158.9h0M50.7 168.4h0M58.4 164.0h0M60.5 157.7h0M50.5 167.9h0M63.7 156.5h0M51.4 168.4h0M63.7 156.6h0M64.0 157.1h0M63.3 156.5h0M64.0 157.1h0M57.6 164.7h0M56.5 160.6h0M51.4 165.8h0M54.8 162.0h0M51.3 166.0h0M61.6 160.9h0M63.8 156.8h0M62.9 156.7h0M59.2 163.3h0M59.2 158.6h0M54.1 167.2h0M50.7 168.1h0M50.8 168.2h0M62.6 156.8h0"/>
<path stroke="#ff2d00" d="M52.2 168.1h0M61.3 161.2h0M60.0 158.1h0M60.3 157.9h0M53.9 167.3h0M63.8 157.5h0M55.8 166.1h0M61.5 157.3h0M63.4 156.8h0M54.2 167.0h0M58.1 164.2h0M50.8 167.1h0M61.6 157.2h0M62.1 157.0h0M50.8 167.3h0M61.9 160.4h0M50.8 167.8h0M60.9 157.6h0M58.9 158.9h0M56.7 165.3h0M54.7 162.2h0M56.9 160.4h0M59.7 158.3h0M62.0 160.2h0M51.8 165.4h0M52.0 165.3h0M61.5 160.8h0M58.6 159.1h0M53.0 167.7h0M51.0 166.9h0M62.9 159.0h0M51.2 168.0h0M53.1 167.6h0M54.2 167.0h0M53.7 163.3h0M52.4 167.9h0M50.9 167.3h0M61.9 157.2h0M54.7 166.7h0M62.9 157.0h0M51.7 165.7h0M51.0 167.0h0M51.3 168.0h0M59.7 162.7h0M61.6 157.4h0M62.9 158.9h0M60.2 158.1h0M52.2 167.9h0M52.8 167.7h0M63.2 157.2h0M58.9 163.3h0M63.3 157.6h0M61.4 160.8h0M51.1 167.1h0M61.8 160.4h0M56.7 165.2h0M62.9 157.1h0M63.3 157.8h0M56.2 165.5h0M63.2 157.4h0M51.8 167.9h0M53.1 164.0h0M51.7 167.9h0M59.4 162.9h0M51.5 167.9h0M60.8 157.9h0M62.2 157.3h0M60.1 158.2h0M63.1 157.5h0M61.5 157.6h0"/>
<path stroke="#ff1300" d="M62.0 157.4h0M61.6 160.5h0M61.3 157.7h0M51.8 165.8h0M62.5 159.3h0M55.4 166.1h0M58.0 164.0h0M51.3 167.4h0M60.9 161.3h0M62.8 157.4h0M58.6 159.3h0M55.9 165.7h0M51.7 167.7h0M55.2 166.2h0M59.1 158.9h0M61.7 160.2h0M54.7 162.5h0M62.9 157.6h0M61.7 160.3h0M55.7 165.8h0M51.6 167.6h0M53.4 167.2h0M51.4 167.0h0M60.8 158.0h0M62.0 159.8h0M54.4 162.8h0M51.5 167.5h0M55.9 165.6h0M58.8 163.3h0M53.2 167.2h0M61.2 157.9h0M57.4 160.2h0M62.7 158.4h0M53.0 167.3h0M55.8 165.7h0M58.2 159.6h0M61.5 160.3h0M52.4 165.1h0M60.3 161.7h0M53.1 167.3h0M57.1 164.7h0M53.5 163.8h0M58.6 159.4h0M59.6 158.8h0M54.5 162.7h0M56.1 161.3h0M58.8 163.2h0M57.1 160.5h0M62.3 157.8h0M51.7 167.3h0M52.7 167.3h0M59.3 159.0h0M62.3 159.0h0M60.0 158.6h0M52.3 165.4h0M57.9 159.9h0M51.7 166.9h0M52.3 167.4h0M51.7 167.0h0M52.2 167.4h0M53.8 166.8h0M57.7 164.1h0M54.8 166.3h0M58.2 159.8h0M58.9 163.0h0M52.9 164.7h0M62.4 158.3h0M52.6 167.3h0M60.1 161.8h0M62.0 159.4h0M62.3 158.7h0M53.1 167.1h0"/>
<path stroke="#e40000" d="M60.0 158.6h0M52.9 164.6h0M58.0 160.0h0M51.9 166.5h0M62.2 158.7h0M60.2 161.7h0M54.2 166.5h0M56.7 164.9h0M55.7 165.6h0M56.6 164.9h0M53.7 163.8h0M61.8 159.5h0M55.2 165.9h0M59.0 159.3h0M55.3 162.2h0M52.0 166.7h0M60.9 158.3h0M56.0 161.6h0M57.8 163.9h0M56.5 161.2h0M62.1 158.7h0M53.1 167.0h0M55.2 162.3h0M54.7 162.8h0M54.3 166.4h0M57.9 160.1h0M61.3 158.2h0M53.3 164.3h0M56.9 160.8h0M52.4 167.1h0M60.7 160.9h0M54.6 162.9h0M54.8 162.7h0M57.4 160.4h0M55.5 162.0h0M61.1 160.5h0M53.9 163.6h0M61.8 158.3h0M58.6 159.6h0M60.9 158.4h0M58.6 159.6h0M60.0 158.8h0M53.4 164.3h0M55.8 161.8h0M52.1 166.5h0M52.1 166.7h0M59.7 162.1h0M59.4 159.1h0M54.5 166.3h0M52.8 167.0h0M52.3 165.8h0M61.8 158.5h0M56.4 164.9h0M60.6 161.0h0M61.4 158.4h0M58.7 163.0h0M55.4 162.2h0M52.7 166.9h0M57.7 163.9h0M52.5 165.6h0M61.0 158.5h0M61.7 158.9h0M55.6 162.1h0M54.1 163.5h0M57.4 164.1h0M61.6 158.7h0M58.9 159.5h0M55.9 165.2h0M52.8 165.2h0M61.6 159.2h0M52.7 165.4h0M61.6 159.0h0M60.2 158.9h0M54.6 166.0h0M52.4 166.3h0M55.6 165.4h0M59.4 162.2h0M61.3 158.7h0M60.3 161.2h0M52.5 165.8h0M53.7 164.1h0"/>
<path stroke="#c40000" d="M52.9 166.7h0M60.6 160.8h0M59.9 161.6h0M59.5 162.1h0M61.3 159.6h0M52.5 166.1h0M60.2 159.0h0M53.1 166.6h0M54.8 162.9h0M57.3 160.8h0M60.5 160.8h0M57.0 161.0h0M53.3 166.6h0M58.8 159.7h0M53.9 166.4h0M60.4 161.0h0M60.4 160.9h0M52.6 166.2h0M61.1 159.9h0M55.7 165.3h0M52.9 166.5h0M60.2 159.0h0M57.6 163.8h0M53.1 166.5h0M52.8 166.4h0M56.1 165.0h0M59.3 162.1h0M53.7 164.2h0M54.5 166.0h0M57.4 163.9h0M53.2 166.4h0M55.5 165.3h0M59.1 162.3h0M56.5 164.7h0M56.8 164.4h0M59.3 162.1h0M52.8 166.0h0M55.3 162.5h0M53.1 166.4h0M58.7 159.9h0M61.0 159.6h0M54.9 165.7h0M60.9 159.9h0M53.8 164.2h0M56.1 161.9h0M58.1 163.2h0M60.9 160.0h0M53.1 166.3h0M55.6 165.2h0M59.3 159.6h0M58.0 160.4h0M56.8 161.3h0M60.5 159.2h0M58.0 160.4h0M59.3 162.1h0M53.5 164.6h0M59.2 162.1h0M60.0 159.3h0M58.5 162.8h0M53.7 166.1h0M60.4 159.3h0M55.9 165.0h0M55.8 165.0h0M54.2 163.8h0M53.4 164.8h0M56.0 162.0h0M55.4 162.6h0M53.1 165.8h0M54.4 163.6h0M58.5 162.7h0M57.8 163.4h0M57.1 164.0h0M54.9 163.1h0M60.6 160.2h0M60.5 160.2h0M56.6 161.5h0M60.6 160.0h0M54.9 163.1h0M59.9 161.2h0M53.7 164.5h0M53.5 165.0h0M55.8 164.9h0M55.4 162.6h0M58.7 160.1h0"/>
<path stroke="#a80000" d="M60.5 159.6h0M53.3 165.3h0M53.3 165.5h0M58.7 160.1h0M54.2 165.8h0M59.3 159.8h0M60.5 159.6h0M60.3 160.4h0M53.8 164.4h0M60.3 159.6h0M56.6 164.4h0M59.4 161.6h0M54.6 165.6h0M55.9 164.8h0M53.8 164.6h0M60.1 160.6h0M58.3 160.4h0M56.1 162.1h0M58.9 160.1h0M59.2 161.9h0M58.7 162.3h0M55.0 163.2h0M53.7 164.8h0M60.2 160.2h0M59.8 159.8h0M54.4 165.6h0M57.4 163.6h0M55.1 165.2h0M59.9 159.8h0M60.2 159.9h0M54.9 165.3h0M54.1 165.6h0M60.1 159.9h0M60.1 160.0h0M53.7 164.9h0M53.9 164.7h0M54.1 165.6h0M56.7 161.6h0M59.9 160.7h0M59.2 160.1h0M57.8 160.8h0M56.0 164.6h0M55.0 163.3h0M56.2 162.1h0M56.2 164.5h0M56.7 161.7h0M60.0 160.2h0M56.8 161.6h0M59.9 160.2h0M59.2 160.1h0M59.7 160.9h0M55.8 162.5h0M54.8 165.3h0M54.2 165.5h0M59.8 160.1h0M56.8 164.0h0M59.8 160.7h0M56.7 161.8h0M57.7 163.1h0M56.6 164.1h0M54.0 165.3h0M54.5 163.9h0M59.6 161.0h0M56.5 162.0h0M58.0 160.9h0M55.4 163.0h0M54.5 165.2h0M55.5 162.9h0M58.9 161.8h0M58.2 162.6h0M56.2 162.2h0M56.2 164.3h0M58.8 160.5h0M59.4 161.1h0M55.4 163.0h0M55.5 164.7h0M55.5 164.7h0M54.2 164.7h0M59.5 160.7h0M59.2 160.4h0M54.6 165.1h0M59.0 161.7h0M59.3 160.5h0M58.1 160.9h0"/>
<path stroke="#8d0000" d="M55.8 164.5h0M54.3 164.7h0M58.1 161.0h0M55.3 164.7h0M56.4 162.2h0M55.8 164.4h0M58.1 161.0h0M59.0 161.0h0M55.0 164.7h0M58.4 162.1h0M58.9 161.3h0M57.7 161.3h0M58.5 160.9h0M58.9 161.2h0M58.1 162.4h0M58.8 161.5h0M58.7 160.9h0M58.9 161.1h0M58.8 160.9h0M56.0 164.1h0M58.3 161.1h0M54.9 164.6h0M54.8 164.5h0M55.9 162.9h0M55.5 163.3h0M58.0 161.3h0M56.3 162.5h0M55.3 163.6h0M56.5 162.4h0M55.1 164.4h0M58.6 161.4h0M58.6 161.3h0M57.1 161.9h0M58.6 161.5h0M55.1 164.4h0M55.3 164.3h0M56.9 163.4h0M57.1 161.9h0M58.3 161.8h0M56.3 163.8h0M57.0 162.0h0M56.2 162.7h0M58.2 161.4h0M56.2 163.8h0M55.6 163.5h0M57.2 163.0h0M58.2 161.7h0M56.6 162.4h0M58.1 161.5h0M55.5 164.0h0M55.7 164.0h0M57.2 162.1h0M57.9 162.1h0M55.6 163.8h0M57.6 161.8h0M56.9 162.3h0M55.7 163.7h0M56.5 162.7h0M57.2 162.1h0M55.9 163.4h0M57.6 162.1h0M57.0 162.9h0M56.8 163.1h0M57.5 162.3h0M56.2 163.5h0M57.5 162.2h0M57.2 162.2h0M57.2 162.7h0M56.1 163.4h0M56.3 163.1h0M56.5 162.9h0M57.1 162.4h0M57.0 162.7h0M56.4 163.1h0M56.9 162.7h0M56.9 162.8h0"/>
<path stroke="#000" stroke-width="0.65" stroke-dasharray="2.6 1.1" stroke-linecap="butt" d="M37.6 177.7L232.5 9.6"/>
<path stroke="#f00" stroke-width="0.8" stroke-linecap="butt" d="M37.6 173.5L204.7 55.4"/>
</g>
<rect x="37.6" y="9.6" width="194.9" height="168.1" fill="none" stroke="#222" stroke-width="0.7"/>
<path stroke="#222" stroke-width="0.6" fill="none" d="M37.6 177.7v-2.2M37.6 177.7h2.2M51.5 177.7v-1.2M37.6 165.7h1.2M65.4 177.7v-2.2M37.6 153.7h2.2M79.4 177.7v-1.2M37.6 141.7h1.2M93.3 177.7v-2.2M37.6 129.7h2.2M107.2 177.7v-1.2M37.6 117.7h1.2M121.1 177.7v-2.2M37.6 105.7h2.2M135.0 177.7v-1.2M37.6 93.6h1.2M149.0 177.7v-2.2M37.6 81.6h2.2M162.9 177.7v-1.2M37.6 69.6h1.2M176.8 177.7v-2.2M37.6 57.6h2.2M190.7 177.7v-1.2M37.6 45.6h1.2M204.7 177.7v-2.2M37.6 33.6h2.2M218.6 177.7v-1.2M37.6 21.6h1.2M232.5 177.7v-2.2M37.6 9.6h2.2"/>
<g class="tl">
<text x="37.6" y="187.3" text-anchor="middle">0</text>
<text x="35.4" y="180.9" text-anchor="end">0</text>
<text x="65.4" y="187.3" text-anchor="middle">50</text>
<text x="35.4" y="156.9" text-anchor="end">50</text>
<text x="93.3" y="187.3" text-anchor="middle">100</text>
<text x="35.4" y="132.9" text-anchor="end">100</text>
<text x="121.1" y="187.3" text-anchor="middle">150</text>
<text x="35.4" y="108.9" text-anchor="end">150</text>
<text x="149.0" y="187.3" text-anchor="middle">200</text>
<text x="35.4" y="84.8" text-anchor="end">200</text>
<text x="176.8" y="187.3" text-anchor="middle">250</text>
<text x="35.4" y="60.8" text-anchor="end">250</text>
<text x="204.7" y="187.3" text-anchor="middle">300</text>
<text x="35.4" y="36.8" text-anchor="end">300</text>
<text x="232.5" y="187.3" text-anchor="middle">350</text>
<text x="35.4" y="12.8" text-anchor="end">350</text>
</g>
<text class="an" y="23.8"><tspan class="it" x="46.2">y</tspan><tspan class="op" x="54.8">=</tspan><tspan x="65.5">0.82</tspan><tspan class="it" x="82.8">x</tspan><tspan class="pl" x="92.2">+</tspan><tspan x="99.5">8.68</tspan></text>
<text class="an" y="38.4"><tspan class="it" x="46.5">R</tspan><tspan class="sup" x="55.3" dy="-4.2">2</tspan><tspan class="op" x="61.6" dy="4.2">=</tspan><tspan x="72.1">0.78</tspan></text>
<text class="an" y="50.2"><tspan x="46.5">RMSE</tspan><tspan class="pl" x="76.8">=</tspan><tspan x="83.0">19.45</tspan></text>
<text class="an" y="61.9"><tspan class="it" x="46.5">N</tspan><tspan class="op" x="55.9">=</tspan><tspan x="66.6">3691</tspan></text>
<text class="al" x="135.6" y="202.0" text-anchor="middle"><tspan class="mono">Observed PM2.5</tspan><tspan class="mp">(</tspan><tspan class="mi">μg·m</tspan><tspan class="mis" dy="-4">−3</tspan><tspan class="mp" dy="4">)</tspan></text>
<text class="al" transform="translate(15.1 92.4) rotate(-90)" text-anchor="middle"><tspan class="mono">Prediction PM2.5</tspan><tspan class="mp">(</tspan><tspan class="mi">μg·m</tspan><tspan class="mis" dy="-4">−3</tspan><tspan class="mp" dy="4">)</tspan></text>
<rect x="244.3" y="17.0" width="8.0" height="152.6" fill="url(#jet)"/>
<path fill="#800000" d="M244.3 17.2L248.3 9.299999999999999L252.3 17.2Z"/>
<path fill="#000080" d="M244.3 169.4L248.3 178.0L252.3 169.4Z"/>
<path fill="none" stroke="#222" stroke-width="0.5" d="M244.3 17.0L248.3 9.299999999999999L252.3 17.0V169.6L248.3 178.0L244.3 169.6Z"/>
<g class="cl">
<text x="256.5" y="155.1">5</text>
<text x="256.5" y="137.4">10</text>
<text x="256.5" y="119.6">15</text>
<text x="256.5" y="101.9">20</text>
<text x="256.5" y="84.1">25</text>
<text x="256.5" y="66.4">30</text>
<text x="256.5" y="48.7">35</text>
<text x="256.5" y="30.9">40</text>
</g>
<path stroke="#222" stroke-width="0.5" fill="none" d="M252.3 152.9h1.6M252.3 135.2h1.6M252.3 117.4h1.6M252.3 99.7h1.6M252.3 81.9h1.6M252.3 64.2h1.6M252.3 46.5h1.6M252.3 28.7h1.6"/>
<text class="ct" transform="translate(271.5 94.3) rotate(-90)" text-anchor="middle">Counts</text>
<text class="cap" x="141.6" y="225.9" text-anchor="middle">a.Deep Bayesian model(Ours)</text>
<clipPath id="cpb"><rect x="313.1" y="9.6" width="194.9" height="168.1"/></clipPath>
<g clip-path="url(#cpb)" fill="none" stroke-width="4.5" stroke-linecap="round">
<path stroke="#00008d" d="M435.2 146.7h0M329.0 95.1h0M469.7 117.6h0M367.5 69.1h0M348.7 82.7h0M353.1 81.7h0M369.1 71.1h0M353.7 84.1h0M430.2 138.5h0M442.6 127.7h0M437.7 128.1h0M400.1 159.5h0M368.1 81.1h0M432.7 126.5h0M440.1 46.6h0M334.4 110.1h0M362.1 89.5h0M314.0 129.1h0M316.0 128.2h0M390.6 75.7h0M414.1 139.5h0M378.5 82.1h0M370.5 87.1h0M441.1 54.0h0M454.1 104.1h0M419.1 129.7h0M350.1 103.7h0M398.1 148.5h0M430.4 117.6h0M345.1 110.1h0M397.1 82.1h0M364.7 96.1h0M408.1 137.5h0M418.6 69.5h0M448.7 104.1h0M461.1 94.7h0M412.5 125.1h0M409.7 132.5h0M383.2 91.4h0M393.1 87.1h0M408.1 126.5h0M432.0 67.1h0M372.0 160.1h0M371.1 160.5h0M415.6 116.2h0M352.5 107.8h0M420.1 115.1h0M405.7 132.1h0M405.1 127.7h0M357.1 105.1h0M361.7 164.5h0M439.1 106.8h0M358.9 165.2h0M425.0 112.1h0M380.0 155.1h0M445.1 82.1h0M355.4 106.7h0M357.5 165.3h0M359.2 164.3h0M386.4 93.1h0M362.6 163.1h0M387.5 92.6h0M421.0 112.1h0M343.1 117.1h0M382.0 152.6h0M390.6 91.5h0M383.6 151.7h0M454.1 92.7h0M435.1 70.1h0M404.0 84.1h0M401.1 128.1h0M387.1 93.7h0M390.7 146.7h0M388.2 93.1h0M401.1 86.1h0M460.7 69.7h0M390.4 146.7h0M399.1 135.1h0M382.5 151.1h0M472.8 61.0h0M444.1 86.7h0M424.0 108.2h0M386.0 149.1h0M387.4 94.2h0M387.3 94.3h0M449.1 96.7h0M396.1 140.1h0M384.1 96.0h0M363.0 160.1h0M427.0 107.1h0M391.1 145.1h0M346.1 116.1h0M449.1 83.7h0M390.1 93.1h0M386.4 148.2h0M390.1 145.5h0M391.7 144.1h0M384.8 96.1h0M388.2 94.3h0M479.5 75.1h0M343.0 119.0h0M424.0 84.5h0M468.1 62.5h0M364.2 158.9h0M477.8 76.7h0M467.5 63.3h0M344.9 117.4h0M446.1 97.3h0M394.4 91.0h0M390.4 93.3h0M362.3 159.7h0M442.1 92.1h0M388.0 146.3h0M449.1 68.5h0M365.3 158.0h0M391.9 142.7h0M378.1 100.1h0M431.8 102.9h0M389.5 144.6h0M369.6 156.3h0M453.6 67.8h0M385.2 146.9h0M389.3 94.3h0M356.3 163.6h0M443.9 93.6h0M382.2 98.1h0M385.9 146.4h0M393.5 135.5h0M340.1 122.1h0M440.7 78.1h0M393.2 135.8h0M387.5 145.3h0M457.6 81.4h0M385.4 96.6h0M392.0 140.1h0M444.7 72.7h0M451.8 83.5h0M390.2 142.7h0M420.0 88.1h0M359.1 161.4h0M447.7 71.1h0M392.2 138.2h0M408.0 116.2h0M388.8 94.8h0M391.6 139.5h0M369.0 155.7h0M389.4 142.8h0M389.6 142.5h0M388.6 143.3h0M453.7 83.7h0M436.7 78.5h0M401.0 88.1h0M377.1 101.4h0M362.4 158.9h0M390.2 140.2h0M371.1 104.1h0M351.9 166.8h0M366.9 104.8h0M388.9 141.8h0M371.5 154.1h0M385.1 145.1h0M380.9 99.4h0M383.7 146.0h0M380.7 148.2h0M355.7 110.4h0M386.9 96.3h0M422.1 105.0h0M427.4 78.7h0M335.0 127.2h0M355.8 110.4h0M386.5 143.5h0M386.1 143.8h0M365.4 156.7h0M355.1 110.9h0M372.8 153.1h0M383.7 145.7h0M433.2 81.3h0M389.0 139.7h0M393.7 133.3h0M395.2 131.3h0M358.6 109.0h0M395.0 131.5h0M341.7 121.7h0M347.0 117.5h0M390.8 94.5h0M384.8 144.2h0M366.3 155.9h0M358.3 109.3h0M380.0 148.1h0M374.7 151.4h0M384.3 98.2h0M387.2 140.9h0M381.4 146.6h0M356.2 162.8h0M341.0 122.6h0M426.6 101.5h0M381.4 146.4h0M341.9 122.0h0M394.8 131.2h0M370.7 152.9h0M423.0 78.1h0M431.7 97.4h0M371.8 152.3h0M360.0 159.9h0M432.0 96.7h0M374.5 151.0h0M432.0 95.9h0M390.6 136.0h0M395.2 130.5h0M407.7 85.8h0M381.4 146.1h0M354.1 112.6h0M378.5 148.3h0M417.0 107.1h0M388.5 96.3h0M358.2 110.0h0M385.3 98.1h0M357.7 110.3h0M381.6 145.6h0M385.2 142.1h0M389.1 137.5h0M391.5 94.7h0M345.7 119.5h0M377.3 148.8h0M362.2 158.1h0M363.1 108.1h0M350.3 116.1h0M406.8 87.1h0M368.0 108.3h0M409.0 87.1h0M377.6 148.3h0M414.4 108.7h0M365.8 108.8h0M365.9 109.0h0M381.2 100.5h0M365.3 108.6h0M365.3 109.2h0M351.8 115.1h0M429.0 94.5h0M373.4 150.5h0M414.5 84.1h0M395.1 93.1h0M365.1 109.9h0M351.8 115.3h0M349.8 167.5h0M421.0 80.1h0M416.7 101.5h0M417.0 101.1h0M364.0 110.6h0M363.9 110.5h0M418.5 81.7h0M359.8 159.5h0M365.4 110.8h0M363.4 111.4h0M375.7 104.0h0M421.4 81.6h0M342.1 122.6h0M378.4 102.4h0M413.0 109.1h0M397.4 92.2h0M414.0 88.1h0M376.6 148.1h0M413.4 89.2h0M366.1 154.9h0M420.5 81.4h0M366.1 110.9h0M358.5 111.1h0M428.4 93.2h0M361.6 112.3h0M362.3 111.3h0M361.8 112.1h0M362.6 110.3h0M362.6 110.4h0M361.3 112.5h0M382.4 143.3h0M421.0 101.7h0M361.9 110.0h0M376.3 148.1h0M413.3 106.9h0M432.0 87.7h0M379.6 145.7h0M373.3 149.8h0M419.0 82.5h0M356.2 112.8h0M353.2 115.4h0M336.3 127.5h0M355.5 113.3h0M426.7 96.0h0M351.1 117.3h0M375.1 104.7h0M411.0 110.1h0M359.4 111.0h0M360.9 112.3h0M366.4 111.0h0M424.1 98.7h0M359.3 115.0h0M360.0 113.0h0M371.3 151.0h0M350.8 117.9h0M359.6 111.1h0M396.6 127.5h0M361.7 114.3h0M418.1 103.0h0M377.2 147.2h0M360.7 111.6h0M364.3 112.7h0M365.4 155.2h0M381.1 101.2h0M360.3 111.4h0M342.8 122.6h0M354.9 115.2h0M359.4 111.7h0M359.6 111.9h0M357.1 114.6h0M345.3 121.1h0M420.2 99.9h0M352.4 118.2h0M358.8 112.6h0M370.6 108.1h0M357.6 113.5h0M388.3 97.7h0M374.4 148.6h0M365.6 155.0h0M348.0 120.1h0M378.3 103.1h0M365.5 155.0h0M355.0 117.8h0M422.5 91.0h0M345.8 121.1h0M375.8 147.4h0M387.0 137.7h0M346.9 120.7h0M341.7 123.6h0M348.9 120.1h0M374.0 106.0h0M342.9 122.9h0M380.4 143.9h0M393.3 130.9h0M347.5 120.7h0M401.1 92.1h0M384.8 139.8h0M350.7 119.9h0M420.6 94.9h0M377.0 146.3h0M378.2 103.3h0M367.9 153.0h0M380.8 101.9h0M390.7 133.7h0M375.9 147.1h0M353.9 118.8h0M414.9 95.3h0M387.2 137.3h0M366.0 112.3h0M376.0 146.9h0M421.6 94.7h0M364.5 155.6h0M375.1 147.4h0M317.6 150.1h0M377.0 145.9h0M345.7 121.7h0M389.3 134.9h0M395.7 128.0h0M372.4 149.4h0M395.1 94.6h0M390.9 96.9h0M344.0 171.2h0M396.4 94.1h0M389.8 97.6h0M412.0 95.1h0M347.7 121.3h0M368.4 110.7h0M429.7 87.7h0M395.8 94.5h0M365.0 113.4h0M383.9 139.9h0M402.4 94.2h0M427.6 88.2h0M379.0 143.7h0M382.8 140.6h0M404.9 114.7h0M373.0 107.3h0M378.0 144.3h0M339.4 173.8h0M352.9 120.0h0M384.6 100.6h0M396.4 126.8h0M372.7 107.6h0M361.4 116.0h0M349.2 121.5h0M388.7 134.9h0M424.0 92.2h0M387.7 99.4h0M371.3 149.6h0M426.9 90.3h0M317.0 151.3h0M356.8 118.5h0M408.8 94.6h0M359.1 159.2h0M398.5 94.4h0M355.3 162.1h0M339.5 173.6h0M373.4 147.5h0M341.0 124.9h0M406.4 94.4h0M387.8 135.4h0M381.9 139.9h0M368.3 111.6h0M363.4 115.2h0M377.9 142.7h0M381.9 102.3h0M358.4 159.6h0M371.1 109.4h0M408.8 95.7h0M372.9 108.0h0M330.7 135.2h0M402.0 95.7h0M379.8 140.7h0M392.8 130.2h0M376.6 105.5h0M334.3 131.0h0M394.1 96.6h0M357.9 159.9h0M340.2 125.8h0M358.5 118.2h0M355.0 119.9h0M316.2 152.9h0M411.0 97.2h0M384.4 137.3h0M395.2 96.3h0M396.0 96.0h0M374.5 107.2h0M319.0 149.2h0M343.1 171.2h0M391.4 131.4h0M336.5 129.0h0M335.8 129.6h0M340.9 125.6h0M334.2 131.4h0M384.1 102.5h0M382.0 103.3h0M339.0 127.0h0M354.5 162.3h0M366.2 153.3h0M372.2 109.2h0M343.9 124.3h0M374.2 107.8h0M391.3 98.8h0M375.4 143.8h0M340.1 126.3h0M381.6 103.9h0M319.7 148.6h0M380.3 104.5h0M336.0 129.8h0M363.3 116.2h0M347.3 167.9h0M320.9 147.3h0M377.3 106.1h0M323.8 143.8h0M345.7 124.2h0M377.4 106.0h0M380.9 104.5h0M386.5 101.9h0M322.8 145.0h0M315.8 154.1h0M398.4 97.0h0M367.9 151.6h0M403.2 110.0h0M389.8 100.0h0M338.7 127.6h0M403.6 108.4h0M389.6 132.5h0M371.9 110.2h0M397.4 97.3h0M403.4 108.5h0M401.3 116.7h0M333.6 132.8h0M397.0 97.5h0M352.4 122.2h0M408.5 100.2h0M355.5 120.7h0M404.7 106.0h0M404.1 106.8h0M402.7 110.0h0M396.7 97.8h0M404.2 106.6h0M395.9 97.9h0M397.0 97.9h0M372.9 109.9h0M397.6 98.1h0M403.2 108.2h0M368.6 150.3h0M405.0 98.4h0M371.8 110.8h0M370.3 111.9h0M396.8 98.1h0M318.9 150.3h0M407.8 100.0h0M372.6 110.2h0M398.6 98.5h0M356.4 160.3h0M393.7 128.1h0M341.6 171.1h0M407.4 101.5h0M399.3 98.5h0M369.7 148.9h0M368.8 113.3h0M380.5 138.5h0M348.4 124.4h0M334.8 131.9h0M370.4 112.1h0M331.1 136.2h0M377.8 140.6h0M352.7 122.6h0M385.5 134.9h0M338.5 128.7h0M337.4 172.9h0M366.5 152.1h0M393.5 99.1h0M394.3 127.2h0M351.5 164.0h0M367.0 114.8h0M400.0 98.8h0M342.7 170.3h0M400.5 115.3h0M370.9 112.0h0M351.1 164.3h0M326.6 141.4h0M340.0 127.8h0M333.6 133.5h0M381.6 137.5h0M371.2 146.7h0M347.0 125.3h0M363.5 154.5h0M403.8 99.5h0M343.1 169.9h0M341.9 170.6h0M398.3 121.4h0M344.0 126.3h0M399.4 118.0h0M356.9 120.8h0M337.9 129.5h0M401.6 99.0h0M364.2 153.9h0M356.2 160.1h0M395.1 99.5h0M359.7 119.5h0M375.2 109.5h0M395.7 125.1h0M344.9 168.7h0M388.8 132.1h0M374.6 109.9h0M399.0 118.6h0M398.2 121.0h0M401.1 99.3h0M352.1 163.2h0M336.7 130.7h0M361.8 155.7h0M343.1 169.7h0M394.2 99.7h0M344.6 168.8h0M386.5 133.7h0M361.4 118.7h0M394.2 126.9h0M386.4 103.4h0M349.5 124.8h0M366.0 151.9h0M372.6 144.8h0M338.0 129.8h0M376.8 108.9h0M402.3 99.8h0M361.7 118.6h0M350.7 124.2h0M395.6 100.2h0M398.9 117.5h0M399.4 116.1h0M336.7 131.0h0M400.7 111.5h0M338.5 171.8h0M392.2 100.7h0M356.8 159.3h0M393.3 100.5h0M398.7 117.4h0M323.0 146.1h0M321.4 148.1h0M380.8 107.0h0M345.5 126.8h0M398.6 117.1h0M354.5 160.9h0M379.5 138.3h0M402.9 106.3h0M344.3 127.3h0M366.0 116.5h0M400.2 100.5h0M367.8 149.4h0M321.9 147.7h0M397.2 120.9h0M346.7 166.8h0M323.9 145.5h0M400.4 109.8h0M339.9 129.3h0M397.5 101.1h0M402.2 101.9h0M399.7 113.0h0M361.0 155.7h0M357.2 121.5h0M317.2 153.8h0M339.5 129.7h0M394.8 125.3h0M403.7 103.9h0M338.0 171.7h0M399.9 101.0h0M395.2 124.3h0M359.9 156.4h0M395.9 122.9h0M338.4 171.4h0M341.7 169.7h0M365.7 151.1h0M371.9 112.9h0M381.6 107.1h0M375.3 141.5h0M343.1 128.6h0M361.3 119.9h0M325.9 143.5h0M362.4 119.3h0M330.8 138.2h0M392.3 102.3h0M351.5 162.8h0M396.0 121.3h0M397.5 101.8h0M328.4 140.7h0M392.1 102.3h0M360.2 155.9h0M327.3 142.0h0M325.5 144.0h0M331.5 137.5h0M399.2 110.9h0M372.3 112.8h0M397.6 101.9h0M355.2 123.1h0M400.7 108.0h0M352.9 161.6h0M397.0 118.1h0M388.8 130.8h0M341.8 169.3h0M333.9 135.2h0M401.5 103.5h0M393.2 102.9h0M366.7 149.6h0M345.1 128.4h0M387.1 104.2h0M341.6 169.4h0M394.5 124.4h0M364.3 118.4h0"/>
<path stroke="#0000a8" d="M338.0 131.7h0M391.6 128.2h0M352.1 125.0h0M340.6 130.3h0M396.0 102.7h0M329.5 140.0h0M326.3 143.5h0M394.1 124.7h0M390.6 103.2h0M336.7 132.9h0M389.2 130.2h0M379.6 108.7h0M357.4 122.2h0M329.6 139.9h0M373.2 112.6h0M352.8 124.8h0M397.9 114.6h0M399.7 108.7h0M346.5 166.1h0M333.1 136.4h0M400.9 104.5h0M350.3 126.3h0M389.6 103.7h0M352.5 161.6h0M336.4 133.5h0M395.8 103.2h0M320.4 150.5h0M387.8 130.9h0M370.6 145.3h0M349.6 126.9h0M397.5 112.2h0M347.1 128.4h0M390.6 104.1h0M338.8 131.9h0M345.8 166.4h0M358.9 121.8h0M382.5 134.6h0M344.5 167.2h0M384.5 106.2h0M393.3 124.5h0M342.7 130.5h0M398.6 109.8h0M383.7 106.6h0M336.6 133.7h0M396.5 117.1h0M345.6 129.4h0M343.6 167.7h0M399.9 104.9h0M324.8 145.6h0M326.8 143.5h0M354.5 159.7h0M394.1 121.2h0M370.3 114.9h0M343.4 130.5h0M384.7 132.8h0M386.8 105.2h0M393.1 123.3h0M386.5 105.4h0M333.0 173.8h0M381.9 134.8h0M342.2 131.1h0M399.6 107.4h0M323.9 146.8h0M388.6 129.8h0M337.8 133.2h0M326.4 144.1h0M353.1 125.2h0M348.2 164.5h0M344.1 167.2h0M399.1 108.2h0M375.0 140.9h0M384.6 132.6h0M382.9 107.3h0M389.7 105.0h0M391.6 126.3h0M361.4 153.7h0M362.4 120.4h0M397.5 110.5h0M384.0 132.9h0M379.6 136.4h0M344.7 166.7h0M397.8 104.6h0M392.3 123.2h0M395.7 104.2h0M331.0 139.5h0M359.8 154.9h0M338.4 133.3h0M369.1 116.0h0M388.3 129.5h0M389.3 128.6h0M386.6 130.8h0M350.0 162.8h0M374.0 141.6h0M399.0 106.2h0M396.9 104.5h0M373.3 142.3h0M386.8 130.5h0M397.9 109.3h0M359.5 155.1h0M336.2 171.8h0M395.9 114.8h0M346.8 129.5h0M348.7 163.8h0M355.3 124.3h0M388.7 128.7h0M393.6 105.0h0M337.8 170.8h0M391.6 123.4h0M360.9 153.8h0M384.3 106.9h0M398.6 107.5h0M332.0 138.8h0M395.6 114.7h0M336.8 134.8h0M321.8 149.6h0M341.2 132.6h0M328.6 142.3h0M353.3 160.1h0M334.1 137.1h0M388.6 127.7h0M377.2 138.3h0M396.0 111.9h0M388.2 128.1h0M389.3 126.2h0M316.4 157.4h0M386.1 129.9h0M352.3 160.8h0M390.6 124.2h0M395.4 116.7h0M395.3 116.8h0M326.7 144.5h0M387.6 128.1h0M387.2 128.2h0M393.4 120.2h0M371.2 144.0h0M370.1 115.7h0M336.4 135.6h0M323.0 148.5h0M387.4 106.6h0M333.1 138.3h0M396.5 105.7h0M368.2 117.0h0M359.3 154.8h0M397.5 107.0h0M375.9 112.0h0M341.2 133.3h0M394.4 114.1h0M390.6 123.6h0M353.0 126.1h0M394.7 117.0h0M370.1 144.9h0M363.6 150.8h0M329.1 142.3h0M392.2 106.1h0M374.6 140.5h0M382.3 108.5h0M345.9 165.3h0M345.8 165.4h0M368.3 146.4h0M363.9 150.4h0M334.7 137.5h0M383.2 108.2h0M393.3 119.5h0M316.4 158.2h0M381.9 132.1h0M383.9 129.9h0M387.5 126.4h0M376.1 138.8h0M384.7 107.7h0M347.4 164.1h0M345.4 131.3h0M327.3 144.4h0M378.4 110.8h0M396.2 107.2h0M396.0 106.9h0M320.9 151.3h0M395.2 111.2h0M396.1 109.6h0M343.9 132.3h0M349.9 162.1h0M332.4 139.6h0M393.8 116.9h0M393.0 119.5h0M390.9 122.4h0M320.8 151.6h0M326.8 145.1h0M392.8 115.3h0M349.8 128.6h0M385.4 127.9h0M357.3 124.3h0M329.6 142.4h0M393.1 116.8h0M392.9 116.5h0M395.7 109.3h0M390.3 107.4h0M388.7 124.6h0M330.0 174.7h0M337.5 136.3h0M385.0 108.4h0M335.5 137.7h0M395.1 107.9h0M341.0 134.5h0M394.2 111.7h0M379.7 133.6h0M377.1 137.1h0M337.9 136.3h0M336.5 137.1h0M338.1 170.0h0M393.3 113.0h0M386.2 126.8h0M324.7 147.5h0M387.1 108.5h0M389.0 108.1h0M356.5 156.2h0M353.4 126.8h0M351.7 127.9h0M377.3 136.5h0M391.4 116.7h0M391.8 117.5h0M366.7 119.0h0M392.0 119.5h0M362.2 151.3h0M384.4 109.2h0M393.3 107.8h0M352.4 127.5h0M352.5 127.5h0M389.2 108.4h0M376.1 112.8h0M382.2 130.2h0M391.9 118.5h0M332.9 140.3h0M394.2 110.1h0M378.7 111.4h0M381.2 131.2h0M370.8 143.3h0M351.4 128.3h0M388.5 123.9h0M391.1 120.4h0M337.1 170.4h0M384.3 109.6h0M322.7 150.0h0M392.0 113.9h0M349.3 129.7h0M392.6 108.3h0M368.2 145.5h0M322.9 149.8h0M384.3 109.8h0M391.5 108.4h0M390.9 108.5h0M348.6 162.4h0M316.1 161.3h0M334.8 139.1h0M335.5 171.3h0M314.9 164.0h0M374.9 113.9h0M355.6 126.1h0M390.7 119.1h0M367.1 119.1h0M317.1 159.0h0M358.9 153.7h0M341.7 167.2h0M332.6 141.1h0M359.7 153.0h0M350.0 129.6h0M331.3 142.1h0M389.3 122.2h0"/>
<path stroke="#0000c8" d="M363.4 121.7h0M381.0 111.0h0M392.5 109.8h0M385.3 126.5h0M392.1 112.2h0M375.0 138.3h0M380.7 111.3h0M372.8 115.4h0M357.1 155.0h0M389.4 118.9h0M339.5 168.5h0M392.0 111.0h0M374.7 138.4h0M391.4 110.0h0M334.3 171.8h0M371.6 141.8h0M376.9 113.3h0M389.3 109.9h0M338.2 137.5h0M329.7 143.9h0M335.7 139.2h0M354.8 127.0h0M377.3 134.6h0M375.8 136.8h0M377.0 135.1h0M379.6 112.1h0M374.0 139.1h0M361.5 151.0h0M382.2 129.1h0M336.0 170.7h0M318.5 156.7h0M389.8 110.1h0M356.9 125.9h0M389.1 116.1h0M391.3 112.0h0M388.3 119.3h0M390.5 113.7h0M360.2 152.1h0M387.6 110.5h0M341.6 166.9h0M388.9 121.0h0M379.4 131.9h0M387.4 123.6h0M360.0 124.3h0M330.0 143.9h0M369.1 118.3h0M390.2 110.5h0M337.5 138.2h0M348.5 131.1h0M340.6 136.3h0M370.8 117.2h0M390.7 112.9h0M361.1 123.7h0M370.0 117.8h0M387.7 118.7h0M389.3 115.3h0M367.3 119.7h0M384.8 111.5h0M383.1 111.9h0M375.0 137.3h0M377.8 113.4h0M354.8 127.4h0M368.3 119.1h0M335.7 139.6h0M333.6 141.1h0M382.7 112.2h0M363.9 122.1h0M335.3 170.9h0M390.1 113.0h0M318.3 157.8h0M368.1 119.3h0M343.6 134.6h0M357.3 126.0h0M351.6 159.1h0M387.5 120.6h0M342.3 135.5h0M373.2 116.0h0M346.7 132.7h0M327.2 146.6h0M388.6 111.2h0M387.2 122.9h0M370.8 117.6h0M366.0 120.8h0M387.6 121.8h0M331.3 143.1h0M343.2 135.0h0M335.1 171.0h0M326.3 147.5h0M384.3 112.2h0M335.3 170.8h0M389.1 111.7h0M375.6 114.9h0M383.8 126.9h0M387.1 111.7h0M380.5 113.1h0M345.7 133.5h0M372.4 116.8h0M349.2 160.9h0M321.4 152.8h0M387.6 111.7h0M386.3 119.7h0M386.5 123.5h0M385.2 112.2h0M379.3 113.6h0M372.7 116.7h0M388.3 115.3h0M370.0 142.6h0M386.1 119.9h0M334.7 171.1h0M373.7 138.3h0M387.3 116.8h0M334.0 171.5h0M384.3 112.7h0M324.5 149.5h0M374.9 115.6h0M355.3 127.5h0M383.6 126.8h0M369.5 143.1h0M377.6 133.0h0M327.5 175.0h0M329.4 144.9h0M386.5 118.2h0M365.8 146.5h0M344.1 164.7h0M347.5 162.0h0M320.8 154.0h0M353.3 128.8h0M374.8 115.8h0M379.8 130.4h0M387.2 112.5h0M382.7 127.5h0M344.0 164.7h0M360.9 124.5h0M335.8 170.3h0M386.1 122.6h0M385.9 112.7h0M336.2 139.9h0M340.9 166.9h0M361.2 150.5h0M379.0 114.2h0M324.1 150.1h0M321.8 152.7h0M366.5 121.1h0M324.5 149.7h0M370.2 142.0h0M382.1 127.9h0M361.7 124.2h0M332.1 172.5h0M381.6 128.4h0M371.7 140.3h0M387.8 114.3h0M381.3 114.0h0M323.6 150.8h0M387.0 116.2h0M369.3 119.5h0M354.4 156.2h0M345.7 134.0h0M368.0 144.2h0M387.3 113.6h0M331.7 143.4h0M351.8 158.4h0M385.2 122.8h0M375.0 116.2h0M385.1 123.0h0M387.3 114.5h0M382.3 114.1h0M352.2 158.0h0M383.0 114.0h0M371.7 118.2h0M364.6 122.7h0M384.8 119.7h0M374.4 116.7h0M374.5 116.6h0M332.7 172.0h0M377.6 115.4h0M326.6 175.2h0M366.8 121.4h0M368.8 120.2h0M373.0 138.2h0M384.3 121.9h0M338.7 138.6h0M386.6 114.4h0M350.6 130.9h0M362.7 148.8h0M350.0 159.7h0M333.7 171.4h0M368.6 143.3h0M382.3 114.6h0M347.7 132.9h0M383.2 126.1h0M382.2 114.7h0M378.8 115.4h0M386.4 115.0h0M365.7 122.3h0M331.2 172.8h0M340.0 137.9h0M384.0 124.7h0M381.7 127.7h0"/>
<path stroke="#0000e3" d="M383.7 125.1h0M353.0 129.6h0M386.0 115.3h0M372.7 138.3h0M383.3 125.6h0M384.8 114.6h0M376.8 116.3h0M385.9 115.2h0M333.6 142.3h0M385.9 115.4h0M383.7 124.7h0M362.2 124.5h0M385.7 116.6h0M373.4 117.8h0M383.8 124.1h0M377.6 116.1h0M384.7 118.6h0M333.9 142.2h0M324.9 149.8h0M354.5 155.8h0M323.2 151.7h0M380.0 129.4h0M348.3 160.9h0M380.8 115.6h0M363.1 148.2h0M384.9 117.9h0M377.6 116.4h0M381.4 127.7h0M321.8 153.5h0M322.5 152.7h0M373.3 118.2h0M371.7 119.1h0M380.0 116.0h0M384.0 119.4h0M356.1 154.3h0M383.1 123.6h0M348.6 160.5h0M368.8 120.9h0M377.7 116.6h0M385.0 116.2h0M348.8 160.3h0M344.8 135.1h0M353.1 129.8h0M349.3 132.2h0M381.8 126.9h0M382.8 123.0h0M380.6 116.2h0M374.5 118.0h0M357.4 153.1h0M370.1 120.4h0M328.7 146.5h0M383.5 119.7h0M383.7 116.1h0M371.1 119.8h0M343.4 136.2h0M382.7 116.1h0M319.9 157.5h0M370.1 140.9h0M375.4 118.0h0M363.7 124.2h0M373.4 118.8h0M362.4 148.6h0M375.0 134.3h0M355.3 154.7h0M364.1 147.0h0M377.6 117.4h0M361.1 125.7h0M361.2 125.6h0M382.0 125.3h0M356.6 128.1h0M381.8 125.8h0M383.5 118.4h0M380.2 117.1h0M351.9 130.9h0M377.8 130.9h0M383.4 118.4h0M344.2 135.9h0M381.1 117.1h0M369.0 121.6h0M380.5 127.7h0M344.6 163.4h0M380.9 117.3h0M379.4 129.0h0M375.8 118.4h0M382.9 117.5h0M348.4 133.2h0M373.3 119.4h0M335.5 169.8h0M381.5 125.1h0M383.0 118.1h0M382.2 120.9h0M362.8 148.0h0M367.8 122.5h0M382.0 117.5h0M379.1 117.9h0M376.8 118.5h0M380.2 117.8h0M369.5 141.1h0M352.8 130.5h0M363.8 147.1h0M355.7 128.8h0M365.8 145.1h0M356.0 153.9h0M320.3 157.4h0M370.6 139.8h0M340.8 138.2h0M378.0 118.4h0M326.0 149.4h0M379.9 128.1h0M327.9 147.6h0M331.9 144.4h0M354.8 129.4h0M339.0 139.4h0M340.7 138.4h0M324.1 151.5h0M370.0 121.6h0M341.2 138.1h0M371.3 121.0h0M353.6 155.8h0M382.0 119.7h0M369.6 140.7h0M366.8 143.9h0M380.7 124.4h0M344.8 163.0h0M370.6 139.3h0M362.2 148.3h0M341.6 137.9h0M370.0 140.1h0M321.1 156.1h0M380.2 126.8h0M322.9 153.1h0M373.5 135.3h0M360.1 126.8h0M371.5 121.4h0M321.1 156.3h0M380.6 123.1h0M378.3 119.4h0M380.3 124.1h0M363.7 125.2h0M380.7 119.2h0M354.1 130.1h0M379.9 126.7h0M375.2 133.1h0M366.1 124.1h0M373.5 120.8h0M379.9 126.5h0M359.3 150.7h0M368.8 122.8h0M373.8 120.7h0M380.0 125.3h0M338.0 140.3h0M352.7 156.4h0M361.0 126.5h0M376.3 120.3h0M380.2 123.2h0M358.3 151.5h0M373.6 121.0h0M373.1 121.2h0M379.6 126.5h0M346.2 161.7h0M343.2 164.0h0M380.6 120.8h0M363.3 146.9h0M319.5 159.8h0M348.0 160.2h0M367.2 123.9h0M373.3 121.4h0M379.5 126.1h0M378.4 120.1h0M374.2 134.0h0M372.3 121.7h0M324.0 152.1h0M368.1 123.5h0M372.7 121.7h0M377.0 120.6h0M379.2 120.3h0M373.1 121.7h0"/>
<path stroke="#0000ff" d="M318.0 162.3h0M377.4 120.5h0M375.0 121.1h0M322.8 153.8h0M375.7 132.0h0M366.2 143.9h0M379.9 120.8h0M379.1 126.5h0M369.2 123.2h0M331.3 171.9h0M358.2 151.5h0M379.9 121.3h0M348.2 160.0h0M378.9 126.8h0M372.6 122.1h0M336.1 141.9h0M375.0 132.8h0M374.5 121.6h0M340.3 139.2h0M360.7 127.1h0M333.6 143.6h0M368.2 141.6h0M334.5 170.0h0M379.0 125.8h0M335.1 142.6h0M363.3 126.0h0M361.2 148.6h0M369.3 140.1h0M322.9 153.8h0M347.4 134.7h0M350.1 133.0h0M373.9 121.9h0M334.0 143.4h0M360.2 149.6h0M375.6 132.0h0M352.8 131.3h0M337.2 141.2h0M318.1 162.3h0M367.6 124.2h0M358.6 128.2h0M340.0 166.2h0M332.4 171.2h0M348.9 159.2h0M336.3 168.8h0M377.1 129.8h0M318.8 161.3h0M364.4 125.7h0M378.1 121.3h0M378.9 123.7h0M354.2 130.6h0M379.0 122.3h0M341.9 138.4h0M376.9 121.6h0M378.8 123.9h0M347.2 135.0h0M367.2 142.4h0M371.0 137.4h0M327.0 149.3h0M355.5 153.5h0M343.7 137.3h0M337.3 141.3h0M321.5 156.8h0M371.2 123.4h0M361.5 127.2h0M325.4 151.0h0M358.4 150.9h0M358.5 128.5h0M330.5 172.1h0M323.8 153.0h0M343.3 163.6h0M351.2 132.6h0M368.5 140.6h0M378.4 124.5h0M377.2 128.9h0M330.9 171.9h0M372.7 135.0h0M367.9 124.6h0M327.3 149.1h0M364.9 125.8h0M331.8 171.4h0M371.6 136.5h0M353.4 131.2h0M377.3 122.2h0M377.7 127.1h0M366.8 142.6h0M368.5 140.4h0M378.1 123.1h0M374.5 123.0h0M359.1 128.4h0M358.7 150.5h0M334.6 169.7h0M376.5 122.6h0M377.8 122.9h0M336.1 168.7h0M377.9 124.8h0M366.0 143.3h0M351.7 132.4h0M376.7 129.2h0M377.5 123.1h0M334.1 170.0h0M341.5 164.9h0M326.3 150.3h0M347.0 135.5h0M377.6 125.2h0M334.8 143.3h0M324.6 152.4h0M323.2 154.4h0M376.7 123.0h0M366.6 125.6h0M349.6 133.8h0M366.2 142.9h0M330.1 172.2h0M334.1 169.9h0M360.4 148.8h0M350.0 133.6h0M371.9 135.5h0M346.0 136.2h0M327.1 173.8h0M375.7 123.4h0M369.8 138.2h0M377.2 124.1h0M361.0 148.2h0M368.7 139.5h0M329.4 172.6h0M374.5 131.9h0M333.8 144.1h0M365.8 143.1h0M366.9 125.8h0M372.2 134.9h0M367.6 140.9h0M332.2 145.3h0M356.8 129.9h0M349.6 134.1h0M373.8 124.1h0M369.3 138.5h0M370.6 125.0h0M376.6 127.2h0M354.1 131.4h0M374.1 132.2h0M352.2 155.9h0M360.4 128.4h0M365.3 126.6h0M348.0 159.4h0M376.6 124.7h0M355.7 130.6h0M364.5 144.4h0M367.9 125.9h0M371.8 124.9h0M373.2 133.3h0M372.6 134.1h0M369.2 138.5h0M324.0 153.7h0M325.0 152.3h0M366.2 142.3h0M358.7 129.2h0M369.3 125.7h0M325.3 152.0h0M375.0 124.3h0M322.3 156.5h0M363.5 127.4h0M374.8 130.9h0M372.8 133.7h0M367.8 126.1h0M368.7 138.9h0M375.2 124.5h0M376.2 125.2h0M324.4 153.3h0"/>
<path stroke="#000cff" d="M350.0 134.1h0M333.5 144.6h0M336.1 142.8h0M334.9 143.6h0M375.5 128.9h0M345.2 137.1h0M340.2 165.5h0M333.8 144.4h0M333.5 170.0h0M336.3 142.7h0M333.4 170.1h0M376.0 125.9h0M376.0 126.3h0M374.7 124.8h0M370.3 125.8h0M322.5 156.5h0M364.5 127.2h0M346.1 136.7h0M361.8 128.2h0M368.6 138.8h0M372.4 133.8h0M323.1 155.6h0M375.0 125.1h0M352.3 132.8h0M371.3 125.7h0M358.5 129.7h0M325.7 151.7h0M348.4 158.8h0M365.9 142.2h0M329.4 148.0h0M356.5 151.8h0M361.3 128.5h0M373.1 132.7h0M357.0 130.4h0M368.8 126.4h0M322.8 156.2h0M349.9 157.5h0M368.0 126.6h0M334.7 169.1h0M369.7 137.2h0M365.4 142.6h0M344.3 162.2h0M372.3 125.6h0M360.3 148.2h0M349.6 134.6h0M367.2 126.9h0M366.3 127.1h0M357.9 130.1h0M342.5 139.1h0M352.2 133.0h0M347.9 159.1h0M368.4 126.7h0M343.1 163.1h0M361.6 146.8h0M352.7 132.8h0M373.1 132.4h0M372.0 125.9h0M374.6 129.4h0M359.3 149.0h0M356.9 151.3h0M364.1 144.0h0M333.3 145.1h0M373.7 125.7h0M356.7 130.8h0M360.7 147.6h0M326.0 174.0h0M326.5 151.1h0M374.8 127.9h0M355.2 131.6h0M366.7 140.6h0M366.5 140.8h0M335.0 143.9h0M336.4 167.9h0M369.7 126.8h0M373.4 126.1h0M334.1 144.6h0M373.2 131.7h0M369.5 136.8h0M355.0 131.8h0M370.3 135.7h0M353.8 132.4h0M324.6 153.9h0M347.9 159.0h0M344.8 137.9h0M371.5 126.5h0M373.1 126.3h0M341.6 139.9h0M374.1 129.3h0M369.4 127.1h0M329.4 148.5h0M350.8 156.4h0M374.2 127.1h0M368.2 138.3h0M328.2 149.6h0M358.8 149.2h0M372.8 126.5h0M352.3 133.4h0M348.5 135.7h0M343.5 138.9h0M356.6 131.2h0M326.4 151.7h0M374.0 128.7h0M368.1 138.1h0M370.9 134.6h0M366.4 140.3h0M326.3 151.9h0M338.0 166.7h0M341.0 164.4h0M368.5 137.6h0M361.8 146.0h0M325.9 152.5h0M350.6 156.5h0M352.6 154.7h0M370.6 134.8h0M352.6 133.4h0M373.0 131.1h0M352.0 155.3h0M373.3 127.2h0M320.1 160.9h0M358.8 149.0h0M356.3 131.5h0M352.7 133.4h0M358.3 130.6h0M364.3 142.8h0M366.6 128.2h0M373.2 130.4h0M327.0 151.2h0M371.5 133.4h0M342.8 163.0h0M360.3 129.8h0M331.2 147.1h0M351.7 134.0h0M368.7 127.9h0M352.7 133.5h0M326.8 151.5h0M354.3 132.6h0M362.5 129.2h0M362.6 129.2h0M363.1 129.0h0M330.5 171.3h0M336.2 143.6h0M371.7 127.4h0M354.5 152.8h0M327.0 151.4h0M357.4 150.2h0M326.5 151.9h0M361.2 146.2h0M333.7 169.4h0M324.3 155.1h0M355.6 132.0h0M339.8 141.4h0M358.0 149.6h0M370.9 134.0h0M339.3 165.6h0"/>
<path stroke="#0024ff" d="M365.1 128.8h0M330.0 148.4h0M355.7 151.7h0M370.3 134.7h0M327.8 150.6h0M373.0 128.4h0M362.6 144.5h0M372.9 129.9h0M372.8 130.1h0M372.7 130.6h0M363.1 143.9h0M368.1 137.4h0M351.7 155.2h0M359.2 148.2h0M353.1 133.5h0M316.5 166.5h0M328.5 149.9h0M364.8 141.6h0M354.4 132.8h0M337.0 143.3h0M360.1 147.2h0M367.5 128.6h0M372.8 129.4h0M351.9 155.0h0M354.1 153.0h0M329.4 149.1h0M338.4 166.2h0M372.5 128.5h0M322.2 158.2h0M350.5 135.1h0M341.2 164.1h0M368.7 128.4h0M372.4 130.5h0M349.6 157.0h0M364.6 141.6h0M357.7 131.4h0M366.1 139.6h0M371.4 132.5h0M372.2 130.8h0M365.9 139.8h0M332.9 169.7h0M339.3 142.0h0M369.4 135.4h0M327.8 150.9h0M361.9 144.9h0M332.7 146.5h0M323.7 156.3h0M344.6 161.2h0M364.4 129.5h0M360.7 146.3h0M331.8 147.2h0M371.0 132.8h0M372.1 129.7h0M368.3 128.9h0M362.3 130.0h0M347.5 158.7h0M361.1 145.7h0M324.3 155.5h0M345.0 138.7h0M345.3 160.5h0M323.9 156.2h0M346.2 138.0h0M328.1 150.8h0M359.1 131.1h0M335.1 144.9h0M340.8 141.3h0M359.2 131.1h0M368.1 136.6h0M343.1 162.3h0M364.5 129.9h0M371.5 129.6h0M319.1 162.9h0M333.5 169.2h0M365.1 129.8h0M316.6 177.3h0M361.6 130.4h0M371.5 130.7h0M333.5 146.1h0M354.3 152.4h0M335.9 167.6h0M320.6 160.8h0M341.5 141.0h0M338.6 142.8h0M354.5 133.3h0M332.4 147.0h0M368.3 129.3h0M335.9 167.6h0M334.1 145.7h0M356.4 132.4h0M345.7 160.1h0M320.5 161.0h0M371.3 130.8h0M349.4 136.2h0M333.3 169.3h0M330.6 148.6h0M359.5 147.2h0M356.9 149.8h0M367.3 129.7h0M318.4 164.1h0M364.5 140.8h0M369.0 135.1h0M362.6 143.2h0M367.8 129.7h0M370.2 129.5h0M368.6 129.5h0M362.2 130.6h0M323.1 157.5h0M346.5 138.1h0M357.6 132.1h0M355.5 151.1h0M368.8 129.6h0M362.1 130.7h0M336.2 167.3h0M370.0 129.7h0M324.4 174.3h0M367.5 129.9h0M344.8 139.2h0M364.7 140.3h0M333.7 146.3h0M332.3 147.4h0M366.9 137.6h0M345.4 160.2h0M344.3 161.1h0M346.6 138.2h0M367.8 136.3h0M324.3 174.3h0M348.0 137.3h0M370.5 130.4h0M336.3 144.5h0M370.4 130.3h0M334.6 145.7h0M328.5 171.9h0"/>
<path stroke="#0040ff" d="M364.5 140.3h0M367.8 136.2h0M325.1 155.1h0M321.8 159.5h0M334.9 168.0h0M370.4 131.5h0M368.9 134.6h0M355.8 133.1h0M348.2 137.2h0M369.4 130.1h0M350.0 136.2h0M365.1 130.6h0M342.7 140.6h0M362.3 143.0h0M337.5 143.8h0M360.3 131.4h0M355.4 151.0h0M333.9 168.7h0M335.9 144.9h0M358.3 132.1h0M345.0 139.3h0M332.7 169.4h0M363.8 141.0h0M343.9 140.0h0M333.9 146.4h0M354.2 152.0h0M330.1 149.6h0M363.4 141.5h0M362.2 131.1h0M362.5 131.1h0M370.1 131.5h0M361.6 143.8h0M363.3 131.0h0M339.9 142.5h0M332.1 147.8h0M369.7 130.8h0M364.7 139.8h0M365.1 130.9h0M332.6 147.4h0M358.8 147.2h0M356.8 149.4h0M356.8 149.3h0M364.4 131.1h0M355.3 150.9h0M367.7 135.9h0M355.4 133.5h0M332.7 169.4h0M354.1 152.1h0M341.3 163.3h0M338.7 143.3h0M339.1 143.0h0M368.1 135.3h0M337.7 166.0h0M334.2 146.4h0M328.3 151.6h0M340.5 142.2h0M367.0 136.6h0M322.1 159.3h0M330.6 149.4h0M358.1 132.5h0M331.8 148.3h0M344.7 139.7h0M343.1 161.8h0M346.2 138.8h0M354.4 151.6h0M338.6 165.3h0M366.4 131.0h0M362.8 131.5h0M369.3 131.7h0M347.1 158.3h0M368.0 130.9h0M321.2 160.6h0M333.1 147.3h0M357.9 132.7h0M329.9 170.9h0M324.2 156.7h0M353.8 134.5h0M359.1 146.5h0M355.6 150.4h0M359.2 132.3h0M340.2 142.5h0M332.5 169.3h0M359.7 145.6h0M351.7 135.7h0M369.0 132.2h0M364.2 131.6h0M365.4 131.4h0M360.7 132.0h0M328.9 151.2h0M366.6 136.8h0M362.3 142.2h0M368.3 131.4h0M330.9 149.3h0M333.0 147.6h0M352.7 135.2h0M352.3 135.5h0M363.5 131.8h0M320.0 162.3h0M325.8 173.2h0M361.6 143.0h0M357.8 147.7h0M367.3 135.7h0M368.3 134.0h0M319.6 176.1h0M367.9 131.6h0M333.4 147.3h0M360.2 144.8h0M368.3 133.8h0M351.5 154.2h0M337.6 144.4h0M346.4 139.0h0M326.6 172.7h0M321.1 175.5h0M361.7 132.2h0M365.9 137.4h0M368.0 131.9h0M324.1 157.1h0M357.4 133.2h0M356.8 148.7h0M361.6 132.2h0M357.5 133.2h0M348.2 157.1h0M329.1 151.4h0M328.6 151.9h0M335.0 146.3h0M354.4 151.2h0M337.6 165.8h0M364.4 132.1h0M365.2 132.0h0M362.1 132.3h0M346.2 158.9h0M368.0 132.3h0M364.2 139.3h0M347.7 138.3h0"/>
<path stroke="#0058ff" d="M319.9 162.6h0M341.1 142.4h0M366.3 132.0h0M344.0 160.8h0M326.8 154.0h0M336.3 145.5h0M318.0 165.5h0M331.8 148.9h0M361.5 142.7h0M343.1 141.2h0M338.2 144.2h0M361.8 132.5h0M363.0 140.7h0M316.3 168.2h0M366.9 132.2h0M330.9 149.8h0M323.5 174.3h0M339.0 164.7h0M354.8 134.5h0M358.1 133.2h0M357.8 133.4h0M325.4 173.3h0M327.6 153.3h0M354.1 151.3h0M363.3 132.6h0M335.2 146.4h0M343.1 141.3h0M347.2 138.8h0M324.9 156.3h0M365.0 138.0h0M364.2 139.0h0M322.1 159.8h0M357.0 148.1h0M366.4 132.5h0M367.3 134.3h0M367.4 133.1h0M366.6 132.6h0M358.2 133.4h0M363.9 132.7h0M367.0 134.8h0M358.2 133.4h0M341.4 142.4h0M363.6 139.6h0M323.3 174.3h0M344.8 140.3h0M324.4 173.7h0M365.9 136.4h0M318.5 176.1h0M342.0 142.1h0M366.8 133.1h0M337.8 165.4h0M357.9 146.7h0M348.8 156.2h0M338.2 144.6h0M318.1 165.6h0M363.1 140.1h0M339.0 164.5h0M330.0 170.5h0M330.3 150.7h0M339.4 164.2h0M323.0 174.3h0M357.9 146.6h0M363.8 133.0h0M347.0 139.1h0M366.8 134.4h0M342.3 142.0h0M355.6 134.6h0M322.0 174.8h0M365.8 136.3h0M366.3 133.2h0M315.0 175.0h0M359.2 133.4h0M353.1 135.8h0M332.7 148.7h0M357.0 134.1h0M363.4 133.2h0M323.6 158.2h0M343.8 160.6h0M352.5 152.6h0M347.2 157.5h0M322.7 174.5h0M366.4 133.7h0M360.1 133.4h0M334.2 147.5h0M349.4 155.5h0M322.0 174.7h0M317.0 176.0h0M334.3 167.7h0M333.2 148.4h0M340.3 143.4h0M321.1 175.1h0M359.5 144.3h0M358.7 133.7h0M349.9 155.0h0M326.3 172.5h0M356.4 134.4h0M364.2 133.4h0M364.5 137.8h0M352.5 152.4h0M358.8 133.8h0M326.4 155.0h0M324.0 173.8h0M347.5 157.2h0M328.3 153.0h0M364.3 138.1h0M365.8 135.6h0M363.7 133.6h0M330.0 151.3h0M321.7 174.8h0M354.5 135.3h0M363.5 133.7h0M340.3 143.5h0M335.4 146.8h0"/>
<path stroke="#0070ff" d="M357.6 146.6h0M365.6 135.6h0M341.9 142.5h0M356.0 148.5h0M365.5 135.8h0M352.2 152.6h0M365.5 135.9h0M352.6 152.3h0M363.1 133.7h0M346.1 158.4h0M325.2 156.5h0M316.0 175.6h0M365.5 135.6h0M317.0 175.8h0M336.3 166.2h0M364.1 133.8h0M349.1 138.2h0M329.6 170.5h0M332.2 168.9h0M364.5 133.9h0M339.6 144.0h0M364.7 133.9h0M325.0 156.7h0M331.0 169.6h0M330.6 150.9h0M344.6 140.9h0M328.0 171.4h0M347.9 139.0h0M333.6 148.3h0M365.0 136.5h0M342.9 142.0h0M362.7 139.8h0M353.9 135.8h0M355.3 149.2h0M358.2 145.6h0M346.3 140.0h0M354.8 135.4h0M330.5 151.0h0M365.2 135.9h0M338.9 164.2h0M361.1 134.1h0M347.7 156.8h0M364.3 134.1h0M363.6 138.4h0M352.7 136.4h0M355.6 135.1h0M345.9 158.4h0M365.2 135.0h0M364.6 136.9h0M343.2 160.8h0M357.6 146.2h0M364.7 134.4h0M334.0 148.1h0M322.2 160.3h0M355.3 149.1h0M321.5 161.2h0M364.7 134.5h0M343.7 141.6h0M342.2 161.5h0M351.4 137.1h0M365.0 135.7h0M362.9 134.3h0M317.4 175.7h0M338.7 144.8h0M344.5 141.2h0M352.2 152.3h0M356.2 147.8h0M344.1 159.9h0M355.6 148.5h0M324.9 173.1h0M358.1 134.6h0M364.7 135.5h0M341.5 162.0h0M355.9 148.1h0M332.4 168.6h0M359.0 144.1h0M341.6 143.0h0M334.0 148.3h0M355.4 148.7h0M318.3 175.6h0M352.2 136.9h0M331.3 169.3h0M354.9 149.3h0M364.2 136.8h0M357.0 134.9h0M364.5 135.9h0M328.5 153.3h0M358.8 144.2h0M335.5 147.2h0M364.4 136.1h0M344.8 159.2h0M338.5 145.1h0M357.9 134.8h0M315.8 170.6h0M355.7 148.3h0M362.8 139.0h0M343.8 160.0h0M324.6 173.2h0M364.0 135.2h0M358.6 134.8h0M348.9 138.8h0M364.2 135.7h0M348.6 155.6h0M340.9 162.4h0M359.6 143.0h0M362.5 139.2h0M363.3 135.1h0M363.8 135.3h0M330.6 151.4h0M355.2 135.7h0M331.1 169.3h0M363.9 136.3h0M348.7 155.5h0M356.3 135.4h0M356.8 146.6h0M356.6 146.8h0M357.2 135.2h0M337.9 164.7h0M325.3 172.7h0M354.0 136.3h0M349.8 138.4h0M318.7 175.3h0"/>
<path stroke="#008cff" d="M351.4 152.7h0M335.6 166.3h0M363.0 135.4h0M330.3 151.8h0M354.6 149.2h0M354.6 149.2h0M342.6 160.9h0M362.0 135.4h0M357.6 145.3h0M356.8 135.5h0M342.6 142.7h0M315.9 170.7h0M348.8 139.0h0M344.4 141.6h0M349.2 138.9h0M362.4 135.6h0M344.0 159.6h0M321.2 162.0h0M337.0 165.2h0M363.2 136.9h0M363.0 137.6h0M338.1 145.7h0M356.5 146.7h0M324.2 173.2h0M335.6 147.5h0M360.0 135.4h0M327.3 171.5h0M361.9 135.6h0M356.8 135.6h0M356.9 146.1h0M334.1 148.7h0M342.0 161.3h0M360.8 135.6h0M363.0 137.1h0M332.6 168.2h0M327.4 154.8h0M348.0 155.9h0M358.7 143.6h0M328.3 153.9h0M347.6 156.3h0M362.1 138.9h0M362.2 138.8h0M352.3 137.4h0M361.2 140.3h0M352.8 137.1h0M335.2 166.4h0M362.3 138.4h0M324.6 157.9h0M330.4 151.9h0M339.3 145.1h0M345.0 141.5h0M346.7 157.0h0M350.8 138.2h0M327.5 171.2h0M362.4 137.3h0M318.6 175.0h0M359.3 142.4h0M356.7 136.0h0M333.8 149.1h0M360.9 136.3h0M339.8 144.9h0M360.2 136.2h0M342.7 160.5h0M335.7 147.7h0M322.7 173.8h0M361.8 136.9h0M330.2 169.6h0M357.2 145.1h0M360.6 140.4h0M321.2 162.3h0M353.0 137.3h0M327.8 171.0h0M350.8 152.8h0M352.6 150.9h0"/>
<path stroke="#00a4ff" d="M320.0 164.0h0M347.7 140.1h0M334.5 166.7h0M358.4 136.2h0M336.3 147.3h0M361.7 138.2h0M333.0 167.7h0M361.5 138.6h0M360.0 141.2h0M326.3 156.2h0M361.7 137.9h0M356.2 146.3h0M321.6 174.1h0M321.6 174.1h0M346.7 140.7h0M357.3 136.3h0M357.2 144.9h0M317.2 168.5h0M317.2 168.5h0M360.6 136.9h0M324.0 159.0h0M334.9 166.4h0M360.9 139.6h0M322.4 160.9h0M359.1 136.6h0M354.2 148.7h0M327.5 171.1h0M328.8 170.3h0M360.8 137.2h0M360.8 137.2h0M340.4 162.2h0M321.3 174.2h0M327.4 171.2h0M319.4 174.7h0M350.6 138.7h0M337.6 146.7h0M350.8 152.6h0M358.2 136.8h0M354.2 137.2h0M356.6 136.7h0M316.2 173.3h0M330.3 152.5h0M332.6 150.5h0M344.0 159.1h0M347.4 155.9h0M324.9 158.0h0M324.6 158.4h0M357.5 144.1h0M339.4 145.5h0M348.8 154.5h0M348.8 154.5h0M338.9 145.8h0M349.8 139.3h0M339.2 163.1h0M353.2 149.7h0M353.8 149.0h0M359.5 141.2h0M326.5 171.6h0M334.8 166.3h0M337.2 147.0h0M325.9 157.0h0M356.6 136.9h0M350.3 152.9h0M342.0 160.7h0M319.3 165.4h0M337.7 164.2h0M348.3 154.9h0M360.4 138.2h0M359.9 140.3h0M359.7 140.6h0M321.7 173.8h0M345.7 141.7h0M349.7 153.4h0M326.7 171.4h0M359.5 140.9h0M319.5 174.5h0M357.7 143.4h0M349.8 139.4h0M345.0 142.1h0M354.6 137.4h0M357.6 143.6h0M355.3 137.3h0M360.1 138.4h0M350.4 139.1h0M359.6 138.0h0M359.8 138.1h0M340.7 161.7h0M333.8 149.7h0"/>
<path stroke="#00c0ff" d="M346.8 156.3h0M348.4 140.2h0M348.7 154.3h0M358.6 142.0h0M359.1 141.2h0M335.8 148.2h0M351.0 151.9h0M324.7 172.4h0M326.2 171.6h0M352.5 138.2h0M353.9 137.7h0M356.3 137.3h0M338.4 163.5h0M324.0 172.8h0M357.2 137.4h0M342.5 143.7h0M357.3 137.5h0M359.6 138.5h0M357.5 137.5h0M320.1 174.2h0M348.1 154.9h0M358.1 142.6h0M336.2 148.0h0M335.3 165.7h0M329.4 153.6h0M357.8 137.7h0M338.3 163.5h0M325.8 157.3h0M342.8 159.7h0M349.7 139.7h0M355.7 137.6h0M358.6 138.1h0M334.0 149.7h0M351.9 138.7h0M337.9 163.8h0M333.8 166.7h0M337.4 164.2h0M356.6 144.6h0M350.1 139.5h0M358.2 142.2h0M357.1 143.8h0M344.5 158.3h0M329.5 153.6h0M322.7 173.3h0M349.2 140.0h0M322.3 161.5h0M321.4 173.8h0M350.3 139.4h0M335.7 148.4h0M329.9 169.3h0M328.1 155.0h0M332.4 167.7h0M357.1 143.7h0M358.6 138.3h0M357.5 143.1h0M343.1 159.4h0M350.4 139.4h0M359.2 139.8h0M357.5 138.0h0M337.2 147.4h0M322.2 173.4h0M321.0 163.2h0M355.1 146.4h0M358.9 140.5h0M358.5 138.5h0M356.2 137.8h0M334.3 149.6h0M344.1 158.5h0M331.4 168.3h0M339.4 162.5h0M322.6 161.3h0M327.5 155.6h0M358.2 138.5h0M358.8 139.0h0M349.2 153.5h0M353.3 148.7h0M350.7 139.4h0M357.8 142.3h0M357.0 138.1h0M338.8 162.9h0M351.9 150.4h0M358.3 141.5h0M354.5 138.1h0M358.8 139.7h0M325.7 157.6h0M340.5 145.3h0M346.3 156.3h0M333.6 166.7h0M337.9 147.0h0M351.6 139.1h0M355.9 138.1h0M357.2 143.2h0M344.7 142.7h0M324.2 172.4h0M346.7 156.0h0M319.5 165.4h0M331.4 152.1h0M320.4 164.2h0M352.6 138.7h0M356.0 138.2h0M324.0 159.6h0M351.7 150.6h0M327.4 170.7h0M343.7 143.3h0M320.6 173.9h0M347.6 155.0h0M345.2 142.4h0M328.8 154.4h0M327.7 155.6h0M350.1 152.4h0M348.7 140.5h0M358.0 141.7h0"/>
<path stroke="#00d8ff" d="M320.2 173.9h0M332.6 167.3h0M357.5 138.8h0M356.9 143.4h0M323.3 172.8h0M345.3 157.3h0M328.8 169.8h0M345.4 157.1h0M353.5 148.3h0M357.5 142.4h0M354.5 138.4h0M328.1 155.3h0M322.0 173.3h0M320.3 164.4h0M344.4 143.0h0M354.2 147.2h0M351.2 151.0h0M336.9 164.2h0M353.0 138.8h0M354.4 146.8h0M326.7 171.0h0M325.1 158.5h0M354.6 138.6h0M355.4 138.6h0M353.1 138.8h0M357.6 139.7h0M321.2 173.5h0M356.5 143.6h0M323.4 172.7h0M357.6 141.3h0M345.1 142.7h0M336.3 148.4h0M357.1 139.3h0M320.8 173.6h0M327.2 170.6h0M333.6 166.6h0M351.6 139.4h0M326.7 156.8h0M350.4 151.7h0M347.7 154.7h0M329.2 154.4h0M353.6 138.9h0M335.1 165.5h0M352.0 149.8h0M353.2 148.2h0M355.2 145.3h0M357.4 141.2h0M350.9 139.8h0M354.0 138.9h0M328.7 154.9h0M357.4 140.9h0M355.1 138.9h0M346.6 141.9h0M330.8 152.9h0M354.9 138.9h0M355.7 139.0h0M328.7 154.9h0M317.5 169.8h0M347.3 154.9h0M341.3 145.1h0M352.9 139.2h0M356.8 139.8h0M334.0 166.2h0M353.8 139.0h0M340.4 145.7h0M346.8 141.9h0M340.2 145.9h0M339.0 146.6h0M336.7 148.3h0M348.0 141.2h0M357.0 141.6h0M327.1 156.6h0M353.6 139.1h0M332.8 151.2h0M333.3 166.6h0M341.9 159.9h0M350.6 151.2h0M340.4 161.2h0M357.0 140.4h0M326.5 157.1h0M357.1 141.0h0M331.2 152.6h0M337.0 164.0h0M356.7 142.3h0M335.8 164.8h0M320.0 173.6h0"/>
<path stroke="#09f0ee" d="M356.5 142.7h0M348.9 153.1h0M352.4 139.5h0M327.2 170.5h0M356.1 139.7h0M326.4 157.3h0M351.0 150.7h0M342.8 144.3h0M330.6 153.3h0M355.0 145.1h0M353.7 147.1h0M355.2 139.4h0M355.2 144.8h0M344.1 143.5h0M336.9 148.2h0M340.7 160.9h0M356.6 140.6h0M356.6 141.9h0M346.9 155.2h0M354.1 146.4h0M324.1 172.1h0M356.1 143.1h0M354.4 139.4h0M318.1 173.2h0M319.2 166.6h0M355.1 144.8h0M320.5 164.6h0M355.2 144.6h0M325.4 158.5h0M338.0 163.0h0M356.4 140.8h0M348.8 153.1h0M353.9 146.6h0M344.4 157.5h0M353.7 146.8h0M354.4 145.8h0M355.9 143.3h0M353.8 139.5h0M344.3 143.5h0M329.7 168.9h0M346.4 142.3h0M333.2 151.1h0M356.3 141.0h0M323.5 172.3h0M331.0 153.0h0M351.7 149.6h0M326.3 157.5h0M340.8 160.7h0M356.3 142.1h0M353.3 147.3h0M322.0 162.6h0M351.4 149.9h0M355.6 140.1h0M341.3 145.4h0M330.5 153.5h0M353.4 147.2h0M351.0 150.4h0M335.1 165.1h0M344.0 157.8h0M347.4 154.5h0M341.8 145.1h0M322.6 172.7h0M337.3 148.1h0M347.3 154.6h0M348.0 141.6h0M327.2 156.6h0M344.3 143.6h0M326.5 170.8h0M356.1 141.4h0M337.9 147.7h0M354.9 144.7h0M317.6 172.1h0M347.4 141.9h0M334.2 165.7h0M350.4 151.0h0M355.6 140.5h0M350.2 140.6h0M350.7 140.4h0M355.0 144.3h0M355.9 142.0h0M355.9 141.3h0M352.1 148.8h0M349.0 152.6h0M354.9 144.6h0M318.8 173.2h0M323.8 172.1h0M355.6 143.0h0M340.3 161.0h0M341.3 145.5h0M355.7 141.1h0M354.0 140.0h0M319.9 165.7h0M355.0 144.1h0M345.4 143.1h0M355.0 144.2h0M353.6 146.5h0M355.1 143.7h0M353.3 140.0h0M329.0 155.0h0M349.7 151.7h0"/>
<path stroke="#1fffd7" d="M337.8 163.0h0M328.3 155.7h0M354.7 144.5h0M346.5 142.5h0M349.9 151.5h0M324.7 171.6h0M325.2 159.0h0M332.2 167.1h0M353.9 140.2h0M339.7 146.6h0M351.5 140.4h0M324.0 160.4h0M336.6 148.8h0M353.6 140.2h0M325.2 171.3h0M331.7 152.6h0M329.9 154.3h0M344.2 143.9h0M350.5 140.7h0M329.3 168.9h0M324.9 171.5h0M322.1 172.7h0M355.3 141.6h0M351.3 149.6h0M355.4 142.0h0M341.2 160.1h0M355.3 141.7h0M353.0 140.2h0M350.2 151.0h0M342.0 145.2h0M349.1 152.3h0M336.8 163.7h0M347.5 154.1h0M339.4 161.6h0M355.1 141.4h0M349.0 152.4h0M355.2 142.5h0M354.8 143.8h0M338.4 147.6h0M351.3 140.6h0M338.5 162.3h0M340.4 146.3h0M351.7 140.5h0M318.9 172.9h0M347.6 142.1h0M348.3 141.8h0M317.9 170.3h0M318.9 167.7h0M351.8 140.5h0M326.7 170.4h0M352.5 140.5h0M323.6 172.0h0M318.0 172.1h0M350.2 150.7h0M326.9 157.2h0M353.1 140.6h0M351.7 148.6h0M346.6 142.7h0M350.3 141.1h0M354.8 142.8h0M346.8 154.6h0M354.6 141.7h0M349.1 152.0h0M349.4 141.5h0M354.6 143.3h0M351.9 140.7h0M329.6 154.7h0M339.5 161.4h0M351.1 149.4h0M320.0 172.9h0M351.6 140.8h0M318.0 171.2h0M326.2 170.6h0M348.0 153.1h0M352.2 140.8h0M321.3 172.7h0M336.8 148.9h0M353.3 141.0h0M318.1 170.3h0M344.7 156.6h0M341.2 159.9h0M333.0 166.3h0M353.4 141.1h0M348.9 152.1h0M336.5 149.1h0M354.1 141.8h0M352.4 147.2h0M336.7 163.6h0M351.4 148.8h0"/>
<path stroke="#33ffc4" d="M350.5 141.2h0M320.7 172.8h0M350.2 141.3h0M323.2 172.0h0M339.9 160.9h0M326.1 158.2h0M326.9 170.2h0M327.0 157.3h0M319.8 166.4h0M318.9 172.6h0M346.8 142.8h0M328.2 156.1h0M348.6 152.4h0M320.8 172.8h0M353.3 145.6h0M353.6 145.0h0M325.2 171.1h0M342.2 158.9h0M340.5 146.4h0M318.3 171.7h0M323.5 171.9h0M346.9 142.8h0M353.5 145.0h0M337.6 148.4h0M321.4 172.6h0M352.1 141.2h0M342.8 158.3h0M342.8 145.1h0M351.1 141.3h0M353.6 144.7h0M353.9 143.7h0M333.8 165.6h0M321.0 164.6h0M323.6 171.8h0M320.6 172.7h0M349.6 150.9h0M353.5 144.7h0M343.5 144.7h0M342.7 145.2h0M318.4 170.0h0M353.7 143.7h0M351.9 147.6h0M319.6 166.9h0M332.8 152.1h0M353.7 142.6h0M321.6 172.4h0M349.9 141.7h0M328.0 156.4h0M335.6 150.0h0M353.7 143.9h0M351.2 148.7h0M319.4 167.4h0M350.5 149.6h0M352.9 145.8h0M332.7 166.3h0M335.4 150.1h0M336.6 149.2h0M340.7 160.1h0M353.3 142.0h0M340.6 160.2h0M343.1 157.9h0M349.3 141.9h0M323.3 171.8h0M347.6 153.3h0M342.8 158.2h0M320.2 165.9h0M353.4 144.4h0M353.6 143.0h0M353.3 144.5h0M326.6 170.2h0M318.8 168.8h0M333.3 151.8h0M344.8 156.2h0M330.4 154.2h0M337.7 162.6h0M352.5 146.3h0M352.2 141.6h0M351.0 148.8h0M333.3 165.8h0M340.1 160.5h0M320.1 166.2h0M341.4 159.4h0M337.8 148.4h0M331.0 167.4h0M321.0 172.5h0M339.4 161.1h0M338.4 161.9h0M337.3 148.9h0M352.6 145.9h0M324.7 160.1h0M353.2 142.7h0M352.2 141.8h0M319.6 167.1h0M325.0 171.0h0M349.4 150.9h0M343.9 157.0h0M353.0 142.5h0M350.3 149.6h0M349.6 142.0h0M321.8 163.7h0"/>
<path stroke="#49ffad" d="M348.2 142.5h0M333.7 151.5h0M349.7 150.4h0M331.6 153.3h0M340.1 160.5h0M349.2 142.2h0M351.8 147.2h0M319.2 168.0h0M334.5 151.0h0M341.8 145.9h0M348.5 152.0h0M322.9 162.4h0M353.0 143.2h0M336.0 149.9h0M328.5 156.2h0M343.4 145.0h0M352.8 144.7h0M318.9 171.8h0M322.6 162.7h0M352.9 143.3h0M339.5 147.5h0M333.3 152.0h0M333.0 152.2h0M339.1 147.7h0M349.0 142.4h0M330.6 154.2h0M352.0 142.2h0M343.3 157.4h0M325.0 170.9h0M341.3 159.3h0M336.9 163.0h0M324.0 171.4h0M341.4 146.3h0M352.7 143.2h0M319.4 167.9h0M345.7 155.0h0M352.7 143.3h0M319.0 168.9h0M348.4 142.7h0M351.4 142.2h0M351.7 146.9h0M319.2 171.9h0M352.4 142.8h0M330.4 154.5h0M333.1 152.2h0M340.2 160.2h0M330.1 154.7h0M351.7 146.8h0M351.2 142.2h0M330.2 154.7h0M344.0 144.8h0M350.5 148.8h0M320.1 172.2h0M340.2 147.1h0M338.7 161.4h0M342.2 145.9h0M335.0 164.3h0M332.9 165.9h0M321.2 164.8h0M346.2 143.7h0M340.2 147.1h0M343.9 156.7h0M331.5 153.6h0M340.0 147.3h0M327.2 157.7h0M352.0 143.1h0M322.8 162.7h0M349.3 142.6h0M350.4 148.6h0M350.1 149.1h0M343.3 145.3h0M352.0 145.1h0M352.0 143.4h0M328.1 156.8h0M321.0 172.1h0M350.5 148.5h0"/>
<path stroke="#5dff9a" d="M319.6 167.8h0M349.6 142.7h0M321.9 171.9h0M351.8 145.5h0M346.7 153.6h0M328.2 156.7h0M334.6 151.2h0M331.5 166.8h0M326.8 158.2h0M319.3 168.5h0M351.8 145.1h0M342.6 145.8h0M328.2 168.9h0M319.8 167.5h0M350.6 142.8h0M351.4 143.2h0M321.9 171.9h0M341.1 159.2h0M350.5 148.0h0M351.2 146.6h0M344.6 144.7h0M327.5 169.3h0M332.0 153.4h0M333.2 165.5h0M320.2 166.7h0M326.4 158.7h0M333.8 165.0h0M348.5 143.1h0M351.7 144.4h0M323.6 171.3h0M344.8 144.7h0M333.8 165.0h0M336.3 163.1h0M350.0 148.8h0M319.7 167.7h0M326.5 158.6h0M342.6 145.9h0M346.2 154.0h0M341.6 146.5h0M346.1 154.1h0M351.2 143.6h0M345.4 144.5h0M349.8 149.0h0M322.0 171.7h0M338.7 161.2h0M350.2 143.1h0M335.6 150.6h0M348.8 150.4h0M348.9 143.2h0M327.9 169.0h0M341.4 158.7h0M319.1 170.4h0M337.8 149.1h0M319.8 171.6h0M342.5 146.1h0M333.9 151.9h0M349.6 143.2h0M351.2 145.2h0M332.4 166.0h0M320.6 166.1h0M346.3 153.7h0M349.8 148.7h0M331.4 154.0h0M319.4 168.9h0M336.6 149.9h0M350.9 146.2h0M320.1 167.2h0M351.1 144.2h0M349.4 149.3h0M325.7 170.2h0M345.4 154.6h0M325.0 160.3h0M329.8 167.7h0M331.1 154.3h0M344.9 144.8h0M336.2 163.1h0M331.8 166.4h0M328.4 168.6h0M351.1 144.9h0M351.1 145.2h0"/>
<path stroke="#70ff87" d="M323.9 161.6h0M350.2 147.7h0M351.0 144.3h0M325.0 170.5h0M319.5 171.0h0M328.5 156.7h0M351.0 144.6h0M344.1 145.3h0M351.0 145.1h0M349.2 143.4h0M329.6 155.7h0M339.9 160.0h0M331.6 153.9h0M326.2 169.9h0M321.0 165.6h0M350.8 144.4h0M334.2 151.8h0M350.5 146.7h0M336.1 163.1h0M319.7 171.2h0M346.4 153.4h0M350.0 147.8h0M345.7 154.2h0M349.0 149.7h0M319.9 171.4h0M350.1 143.7h0M338.9 148.4h0M326.1 169.9h0M350.6 144.4h0M319.4 170.4h0M322.1 164.1h0M336.8 149.9h0M347.6 151.7h0M348.8 149.8h0M346.2 153.5h0M346.1 153.7h0M331.8 166.3h0M350.6 144.7h0M333.1 152.7h0M348.8 143.7h0M350.4 144.3h0M348.2 143.8h0M341.9 158.0h0M349.7 148.1h0M337.3 149.6h0M337.7 161.8h0M340.7 159.1h0M349.4 148.6h0M346.3 153.3h0M319.5 169.4h0M329.9 155.5h0M321.8 164.5h0M343.8 145.6h0M319.5 170.3h0M322.2 164.0h0M341.2 147.1h0M342.3 157.6h0M338.2 149.0h0M323.3 162.6h0M341.5 146.9h0M349.6 144.0h0M327.4 169.0h0M323.6 171.0h0M336.1 150.5h0M347.6 144.1h0M334.6 164.1h0M341.0 158.8h0M331.1 166.7h0M345.9 153.7h0M348.1 150.8h0M334.7 151.5h0M340.7 147.4h0M349.8 144.2h0M339.0 148.5h0M349.8 144.2h0M340.0 159.7h0M348.0 150.8h0M344.4 155.4h0M343.9 155.9h0M329.6 155.9h0M333.2 165.2h0M349.5 148.0h0M343.7 145.8h0M342.8 146.3h0M342.9 146.2h0M345.0 145.2h0M349.6 144.3h0M319.8 170.8h0M327.7 168.8h0M319.6 169.3h0M320.8 171.4h0M346.9 152.3h0M320.5 171.3h0"/>
<path stroke="#87ff70" d="M344.2 155.5h0M349.2 148.5h0M349.9 145.1h0M343.9 145.8h0M332.6 165.5h0M331.6 154.1h0M321.8 164.7h0M322.9 163.2h0M342.5 146.5h0M349.8 146.7h0M335.3 163.5h0M325.9 159.7h0M341.4 147.2h0M349.8 145.1h0M348.2 150.2h0M349.2 148.2h0M346.6 144.7h0M337.8 161.5h0M322.2 164.2h0M349.1 144.5h0M343.1 146.2h0M346.3 152.8h0M324.5 161.3h0M349.7 145.2h0M348.6 144.4h0M339.6 159.9h0M342.5 157.2h0M326.1 159.5h0M345.7 153.6h0M324.9 170.2h0M344.5 145.6h0M349.7 145.4h0M326.1 159.5h0M349.6 145.0h0M345.5 145.1h0M348.1 144.4h0M337.9 161.4h0M348.9 144.6h0M347.9 150.4h0M327.3 158.3h0M349.6 145.6h0M325.8 169.8h0M338.4 160.9h0M347.0 144.7h0M328.7 156.8h0M344.7 154.7h0M339.6 159.8h0M344.3 155.2h0M347.0 151.7h0M347.9 144.6h0M338.4 160.9h0M349.4 147.0h0M319.9 170.3h0M320.4 170.9h0M344.7 145.6h0M349.3 145.1h0M348.9 144.7h0M346.2 145.0h0M329.1 156.6h0M348.7 144.7h0M349.1 144.9h0M323.0 170.9h0M327.3 168.9h0M339.8 159.6h0M328.0 168.5h0M330.0 155.7h0M342.1 146.9h0M343.5 156.0h0M348.2 144.6h0M332.5 153.6h0M345.7 153.5h0M338.2 149.3h0M326.2 169.5h0M336.1 162.7h0M345.4 153.8h0M340.5 147.9h0M349.3 147.0h0M321.4 171.1h0M323.1 163.1h0M320.4 167.5h0M337.6 149.8h0M346.9 144.9h0M330.8 155.1h0M328.5 157.1h0M336.7 150.4h0M339.1 160.2h0M348.9 145.0h0M321.4 171.1h0M321.3 171.1h0M346.8 144.9h0M343.2 146.4h0M345.5 153.6h0M348.4 144.9h0M328.6 157.1h0M331.8 165.9h0M345.2 154.0h0M342.0 147.1h0M323.6 162.6h0M328.9 156.8h0M348.9 147.5h0M324.5 170.3h0M322.8 163.6h0M345.1 145.6h0"/>
<path stroke="#9aff5d" d="M346.7 152.0h0M342.8 146.7h0M348.2 144.9h0M335.7 151.2h0M347.4 150.7h0M339.4 159.9h0M343.7 155.7h0M320.1 170.2h0M320.7 170.8h0M349.0 146.0h0M345.4 153.6h0M323.1 163.3h0M340.2 159.1h0M348.2 149.2h0M345.3 153.7h0M339.4 148.7h0M347.6 150.4h0M339.2 148.8h0M323.9 162.3h0M343.4 146.4h0M344.8 154.3h0M338.3 160.8h0M321.4 170.9h0M348.3 145.3h0M333.3 164.8h0M322.7 163.9h0M339.0 149.0h0M346.5 152.0h0M345.0 145.7h0M327.1 158.8h0M339.5 159.7h0M347.6 145.1h0M332.6 165.3h0M348.6 147.8h0M329.7 167.3h0M335.3 151.5h0M323.0 170.7h0M347.9 149.4h0M337.9 161.1h0M338.4 160.7h0M323.5 170.5h0M346.6 151.7h0M347.5 145.2h0M348.3 145.5h0M348.6 147.0h0M323.8 170.4h0M322.6 170.8h0M345.1 153.8h0M342.8 156.4h0M321.9 165.2h0M343.0 156.2h0M338.4 149.5h0M328.0 168.3h0M345.2 153.6h0M333.4 164.6h0M330.3 155.7h0M345.1 145.8h0M347.7 149.5h0M331.0 155.0h0M344.4 146.1h0M326.2 159.7h0M345.0 145.9h0M344.1 146.3h0M324.0 162.2h0M333.4 164.6h0M340.7 148.1h0M345.1 145.9h0M343.2 155.9h0M322.2 164.7h0M332.5 165.2h0M341.7 157.4h0M347.8 145.6h0M347.9 149.0h0M336.4 150.9h0M321.3 170.7h0M320.3 169.1h0M345.9 145.7h0M344.0 146.4h0M334.7 152.2h0M328.7 157.3h0M328.5 157.5h0M320.4 169.3h0M337.7 161.1h0M348.2 147.0h0"/>
<path stroke="#b1ff46" d="M329.7 167.1h0M324.6 170.0h0M325.9 160.2h0M320.8 170.3h0M324.5 161.8h0M325.3 160.9h0M326.8 159.2h0M326.0 160.1h0M343.1 155.8h0M325.8 160.3h0M345.9 152.3h0M339.7 159.3h0M321.7 170.6h0M328.4 167.9h0M347.3 146.0h0M338.5 149.6h0M334.8 163.4h0M332.3 165.3h0M345.9 146.0h0M333.4 164.5h0M347.9 147.4h0M324.0 170.1h0M345.3 153.0h0M320.8 170.0h0M332.5 154.0h0M331.6 154.7h0M322.2 170.5h0M344.8 146.3h0M331.7 165.7h0M342.6 156.3h0M325.6 160.6h0M322.8 170.4h0M333.5 153.2h0M328.6 157.5h0M329.4 167.2h0M329.0 167.5h0M335.6 162.7h0M336.6 161.9h0M339.8 159.0h0M343.5 155.1h0M320.7 169.8h0M335.0 152.1h0M322.3 170.5h0M339.2 149.3h0M347.6 146.9h0M347.6 147.4h0M345.1 146.3h0M335.6 151.7h0M343.9 154.7h0M320.6 169.0h0M321.4 166.5h0M339.2 149.3h0M321.6 166.2h0M346.9 146.2h0M340.5 148.5h0M346.7 150.4h0M342.1 147.6h0M325.4 160.9h0M345.1 153.0h0M320.7 168.5h0M343.0 147.2h0M346.5 150.7h0M339.7 159.1h0M320.8 168.0h0M329.0 157.2h0M347.5 147.5h0M343.5 147.0h0M347.3 146.8h0M346.3 151.1h0M321.6 166.2h0M336.0 151.4h0M342.1 156.7h0M336.2 151.4h0M321.0 169.9h0M327.2 168.5h0M347.4 147.6h0M343.3 147.1h0M327.2 168.5h0M329.6 156.7h0M345.0 146.5h0M345.5 146.4h0M329.7 156.6h0"/>
<path stroke="#c4ff33" d="M344.0 154.4h0M346.6 150.2h0M341.3 157.4h0M343.2 147.2h0M322.4 170.3h0M323.0 170.2h0M324.7 161.8h0M335.4 151.9h0M323.2 170.2h0M336.7 161.6h0M347.2 147.7h0M346.1 146.5h0M346.5 150.4h0M339.8 158.8h0M324.9 161.6h0M341.5 148.1h0M339.3 149.3h0M330.4 166.4h0M346.3 146.6h0M322.2 170.3h0M336.2 151.4h0M345.0 152.9h0M320.9 169.5h0M330.2 156.2h0M323.3 163.6h0M347.0 147.3h0M333.4 153.5h0M344.1 154.1h0M322.2 170.2h0M322.6 164.7h0M338.1 160.4h0M321.1 167.5h0M345.0 146.7h0M340.7 157.9h0M344.8 153.1h0M341.7 148.1h0M334.2 163.6h0M322.1 165.5h0M344.9 153.0h0M332.5 154.3h0M344.9 152.9h0M346.4 150.2h0M340.6 148.7h0M346.6 147.0h0M346.6 149.7h0M321.9 170.1h0M332.1 154.6h0M342.9 155.5h0M346.1 150.8h0M328.7 157.7h0M321.3 169.9h0M334.5 152.7h0M346.7 149.2h0M346.7 147.3h0M346.2 146.9h0M345.9 151.2h0M320.9 168.8h0M343.2 147.4h0M338.5 160.0h0M342.0 156.5h0M326.8 168.6h0M344.3 153.7h0M326.7 168.6h0M326.1 160.4h0M346.7 148.6h0M342.5 155.9h0M346.6 149.1h0M338.8 159.6h0M321.1 169.3h0M344.6 147.0h0M341.7 148.2h0M332.4 164.9h0M321.1 169.3h0M322.0 165.9h0M324.0 162.9h0M346.7 148.1h0M343.3 147.5h0M334.6 152.7h0M321.3 169.6h0M322.4 170.0h0M345.7 147.0h0M346.6 148.4h0M333.7 153.5h0M321.1 168.7h0M328.4 167.6h0M323.0 164.3h0M322.8 164.6h0M322.6 170.0h0M346.4 147.8h0"/>
<path stroke="#d7ff1f" d="M345.4 147.1h0M346.0 150.2h0M329.1 157.4h0M324.5 169.5h0M346.1 147.4h0M344.4 153.3h0M322.3 169.9h0M322.0 169.9h0M330.0 156.6h0M321.3 167.6h0M325.5 161.1h0M342.8 147.8h0M341.0 157.4h0M323.5 163.7h0M333.8 153.4h0M335.5 152.2h0M321.2 168.5h0M329.2 157.4h0M345.9 150.1h0M345.7 150.7h0M339.0 159.3h0M321.4 169.4h0M344.2 147.4h0M346.2 148.4h0M333.5 164.0h0M335.2 152.4h0M346.2 148.9h0M333.3 153.9h0M346.1 148.0h0M339.0 159.3h0M324.5 169.4h0M323.8 169.7h0M346.1 148.0h0M321.7 166.7h0M321.3 168.4h0M343.8 154.0h0M327.7 158.8h0M334.4 163.3h0M327.9 158.6h0M324.7 162.2h0M335.1 162.7h0M345.8 150.1h0M341.9 156.3h0M345.9 149.6h0M329.8 156.9h0M323.0 169.8h0M337.3 160.8h0M324.4 169.5h0M334.8 152.8h0M342.5 155.5h0M345.8 149.8h0M331.1 165.6h0M345.9 148.3h0M334.7 163.0h0M331.3 165.5h0M337.6 160.5h0M322.6 165.2h0M344.4 152.8h0M343.7 153.9h0M333.9 163.5h0M341.1 148.8h0M344.1 153.3h0M342.6 148.1h0M344.6 147.7h0M340.9 148.9h0M340.6 149.1h0M335.3 162.4h0M345.2 147.8h0M342.4 155.6h0M327.5 167.9h0M333.0 164.2h0M324.7 169.3h0M339.9 149.5h0M345.2 151.2h0M343.2 154.5h0M341.1 148.9h0M344.8 151.9h0M324.6 162.5h0M341.1 148.9h0M324.7 162.3h0M344.4 147.8h0M345.2 147.9h0M332.0 155.0h0M325.9 168.8h0M333.3 164.0h0M327.7 167.8h0M345.6 149.6h0M336.5 151.7h0M345.5 150.2h0"/>
<path stroke="#eeff09" d="M335.9 161.9h0M322.5 165.4h0M322.4 169.6h0M333.6 153.8h0M325.4 161.5h0M338.4 159.6h0M335.2 152.6h0M321.6 167.6h0M341.8 156.2h0M332.2 164.8h0M345.3 150.3h0M341.8 148.7h0M328.0 158.8h0M323.7 163.7h0M323.5 169.5h0M336.2 152.0h0M324.7 162.5h0M332.0 164.9h0M344.9 151.4h0M327.1 159.7h0M328.2 158.5h0M321.6 168.1h0M323.1 164.6h0M331.0 165.6h0M344.6 148.1h0M339.0 159.0h0M343.4 153.9h0M332.4 164.6h0M337.7 151.0h0M339.2 150.1h0M321.7 168.9h0M344.9 151.1h0M333.9 153.7h0M342.9 154.6h0M334.7 153.1h0M337.6 151.1h0M341.7 148.8h0M330.1 166.2h0M330.4 156.6h0M335.6 162.0h0M331.5 155.6h0M322.9 169.5h0M331.2 155.9h0M322.6 165.5h0M342.0 155.7h0M333.0 164.1h0M335.1 152.8h0M341.1 156.8h0M344.1 148.3h0M332.2 155.0h0M344.5 148.3h0M339.2 158.7h0M327.0 159.9h0M336.5 161.2h0M321.8 167.7h0M335.8 152.3h0M332.4 154.9h0M323.4 169.4h0M329.2 166.7h0M329.7 166.3h0M343.6 153.3h0M344.6 151.5h0M344.5 148.5h0M327.3 167.8h0M325.7 161.4h0M333.8 153.8h0M323.4 164.4h0M344.9 150.1h0M335.7 161.9h0M338.2 150.8h0M332.5 154.9h0M334.0 163.2h0M344.9 149.5h0M325.3 161.8h0M344.0 148.5h0M340.6 157.2h0M343.9 152.7h0M340.4 157.4h0M338.1 150.9h0M341.6 149.1h0M343.6 153.2h0M332.4 155.0h0M341.7 149.1h0M324.4 169.1h0M342.7 154.5h0M322.1 166.8h0M324.2 169.1h0"/>
<path stroke="#ffea00" d="M322.3 166.5h0M327.3 159.7h0M330.6 156.6h0M322.0 167.3h0M344.7 149.2h0M344.7 149.4h0M324.1 169.1h0M322.0 167.6h0M344.1 152.0h0M342.8 148.8h0M325.3 168.7h0M327.1 167.8h0M336.3 152.2h0M333.1 154.5h0M337.7 160.0h0M344.5 149.1h0M338.6 159.2h0M342.5 148.9h0M341.9 155.5h0M331.6 155.7h0M341.4 149.3h0M341.9 149.1h0M322.3 168.9h0M328.7 166.9h0M329.8 157.3h0M330.3 156.8h0M342.3 149.0h0M326.1 161.1h0M344.3 151.4h0M322.4 168.9h0M344.2 149.1h0M335.3 162.1h0M342.4 149.0h0M340.0 150.0h0M340.4 149.8h0M342.8 154.2h0M340.7 156.8h0M344.0 151.9h0M324.0 163.7h0M342.6 149.0h0M340.1 150.0h0M340.9 156.6h0M343.9 152.2h0M344.4 149.9h0M325.1 168.7h0M322.9 169.1h0M332.9 163.9h0M341.0 149.6h0M327.6 167.5h0M325.5 161.8h0M322.3 168.7h0M326.6 160.5h0M340.7 149.7h0M323.6 164.4h0M336.0 152.5h0M326.2 161.0h0M342.5 154.5h0M344.2 151.0h0M322.3 166.8h0M341.6 155.6h0M332.7 164.1h0M327.4 167.6h0M340.7 156.7h0M325.2 168.6h0M322.7 166.0h0M343.5 152.6h0M336.2 152.4h0M322.7 168.8h0M340.0 150.2h0M324.4 168.8h0M343.9 149.6h0M344.1 150.8h0M339.3 158.3h0M343.8 151.9h0M327.6 167.4h0M343.5 152.5h0M343.7 152.0h0M336.6 152.2h0M343.7 152.1h0M323.8 168.9h0M343.1 149.3h0M341.7 149.5h0M343.8 149.6h0M322.5 166.6h0M338.6 151.0h0M327.7 167.3h0M344.0 150.3h0"/>
<path stroke="#ffd000" d="M340.4 150.0h0M335.7 161.6h0M333.2 163.6h0M331.6 155.9h0M326.2 161.1h0M324.0 163.9h0M336.0 152.6h0M322.5 166.8h0M330.5 156.9h0M340.0 150.3h0M339.7 150.5h0M343.8 151.0h0M324.0 168.8h0M336.8 160.5h0M332.1 164.4h0M339.9 157.5h0M341.5 155.5h0M340.9 156.3h0M341.7 155.3h0M323.1 165.5h0M335.5 161.7h0M322.5 167.0h0M343.2 152.7h0M322.4 167.3h0M331.3 165.0h0M342.5 154.0h0M324.5 163.3h0M338.9 158.4h0M335.9 152.8h0M339.3 150.7h0M332.2 164.3h0M342.2 154.4h0M341.7 155.1h0M342.3 149.7h0M343.6 151.4h0M342.9 149.7h0M335.8 152.9h0M325.3 162.3h0M341.3 155.6h0M341.2 155.7h0M323.6 168.7h0M343.5 150.7h0M322.7 168.3h0M339.8 150.6h0M322.6 168.0h0M339.2 158.0h0M327.7 159.6h0M324.8 163.0h0M324.4 163.6h0M324.9 168.5h0M328.3 166.8h0M330.8 156.7h0M334.5 153.8h0M328.8 158.6h0M339.5 157.7h0M323.2 168.6h0M336.9 160.3h0M325.2 168.3h0M325.0 168.4h0M324.9 168.4h0M330.6 165.3h0M323.0 168.4h0M328.9 158.5h0M343.3 150.8h0M343.0 150.2h0M341.5 155.1h0M327.7 159.7h0M339.5 157.7h0M327.6 167.2h0M340.6 150.4h0M342.8 150.2h0"/>
<path stroke="#ffb900" d="M323.1 168.4h0M339.9 150.7h0M338.1 151.6h0M336.4 152.6h0M339.5 150.9h0M333.1 163.5h0M342.6 150.2h0M322.7 167.7h0M343.0 150.7h0M342.5 150.2h0M325.8 161.9h0M340.1 150.7h0M331.7 156.1h0M331.1 156.6h0M342.6 150.3h0M336.7 152.5h0M324.8 163.2h0M330.5 165.3h0M339.0 158.0h0M335.4 161.5h0M342.3 150.3h0M324.8 163.2h0M339.0 151.2h0M328.2 166.8h0M338.9 158.2h0M335.7 153.2h0M338.9 158.2h0M342.7 152.4h0M331.8 156.1h0M342.4 150.4h0M340.7 156.0h0M336.9 160.1h0M342.5 152.9h0M342.0 150.4h0M342.7 150.8h0M323.3 165.7h0M331.7 156.2h0M322.9 167.8h0M328.2 159.4h0M323.3 165.6h0M342.7 151.9h0M342.4 150.6h0M338.6 158.4h0M341.2 155.3h0M332.7 155.5h0M342.0 150.5h0M341.6 154.6h0M323.0 167.6h0M336.0 153.0h0M325.6 162.2h0M325.4 168.0h0M323.0 167.7h0M325.2 168.1h0M339.4 157.5h0M334.4 162.2h0M339.8 157.0h0M342.6 151.2h0M324.6 163.6h0M337.8 152.0h0M323.0 167.7h0M334.8 153.9h0M342.5 152.4h0M330.3 157.5h0M333.6 162.9h0M329.1 158.5h0M324.8 168.2h0M339.2 157.6h0M340.9 150.7h0M332.6 155.6h0M334.0 162.5h0M341.9 150.7h0M341.7 150.7h0M342.0 150.8h0M342.3 151.1h0M340.5 156.0h0M324.4 168.2h0M327.3 167.1h0M324.8 168.1h0M342.0 150.9h0M329.1 166.1h0M327.7 160.0h0M332.5 163.7h0M342.4 151.8h0"/>
<path stroke="#ffa300" d="M341.5 150.8h0M339.4 157.3h0M326.3 161.5h0M341.7 154.1h0M323.3 167.9h0M333.9 162.6h0M337.8 159.0h0M342.3 152.2h0M323.2 167.7h0M342.0 151.0h0M341.6 150.9h0M327.6 160.1h0M342.3 152.1h0M342.0 151.1h0M336.8 152.7h0M340.1 151.1h0M341.9 153.5h0M330.7 165.0h0M338.6 158.2h0M333.1 155.3h0M338.5 151.8h0M341.6 154.0h0M336.5 152.9h0M330.7 165.0h0M327.2 160.6h0M337.4 152.4h0M342.2 151.8h0M324.4 164.1h0M342.2 152.1h0M332.1 164.0h0M340.8 151.0h0M340.5 155.8h0M330.8 157.2h0M323.4 165.9h0M332.5 163.6h0M341.4 151.0h0M337.2 152.5h0M332.9 163.3h0M331.5 156.6h0M324.2 168.0h0M341.3 154.4h0M342.0 152.5h0M330.6 157.4h0M342.0 151.7h0M340.9 151.1h0M339.2 157.4h0M328.3 159.5h0M329.3 165.9h0M342.0 152.3h0M339.4 151.5h0M325.8 162.3h0M324.9 163.4h0M330.7 164.9h0M340.0 151.4h0M323.7 167.7h0M323.5 167.6h0M336.7 159.9h0M327.4 160.5h0M341.8 152.0h0M340.9 151.3h0M338.7 157.8h0M333.2 163.0h0M326.6 161.4h0M337.1 159.6h0M341.6 151.7h0M323.4 166.6h0M341.4 151.5h0M339.8 151.5h0M335.4 153.8h0M340.1 151.4h0M341.8 152.6h0M324.4 164.3h0M335.1 161.4h0M341.1 151.4h0M337.2 152.7h0M341.7 153.0h0M327.6 160.4h0M323.5 166.3h0M340.1 156.1h0M331.2 164.5h0"/>
<path stroke="#ff8900" d="M338.6 157.9h0M329.0 158.9h0M338.3 152.2h0M326.7 161.3h0M341.6 152.7h0M324.6 167.8h0M325.3 167.7h0M323.9 167.6h0M338.7 152.1h0M325.2 163.3h0M335.1 161.3h0M334.9 161.5h0M327.8 166.6h0M337.5 152.7h0M341.4 153.2h0M337.5 159.0h0M335.9 160.6h0M326.5 161.6h0M339.5 151.8h0M336.7 153.2h0M327.2 160.8h0M336.8 153.1h0M341.4 152.7h0M323.9 167.5h0M334.8 154.4h0M329.7 165.5h0M330.8 157.4h0M338.5 152.2h0M341.2 153.8h0M338.8 152.1h0M335.1 161.2h0M340.0 155.9h0M336.8 153.1h0M340.7 151.8h0M339.1 152.0h0M340.9 151.9h0M335.6 153.9h0M339.1 157.1h0M337.3 152.9h0M341.3 153.1h0M334.5 161.8h0M338.7 152.2h0M330.5 164.8h0M341.2 152.4h0M324.3 167.6h0M340.3 155.4h0M327.0 166.9h0M341.2 153.3h0M336.5 153.3h0M337.3 152.9h0M339.3 156.8h0M332.0 163.8h0M325.6 162.8h0M337.6 152.8h0M325.2 167.5h0M336.8 153.2h0M324.0 167.4h0M336.2 153.5h0M335.1 154.2h0M340.7 152.1h0M340.0 152.0h0M323.8 166.9h0M324.7 164.3h0M340.4 152.1h0M323.8 166.9h0M325.1 163.6h0M340.6 152.2h0M339.1 157.0h0M341.0 153.4h0M327.7 160.5h0M340.7 152.3h0M341.0 153.4h0M330.2 158.0h0M341.0 152.8h0M324.3 167.4h0M323.9 166.7h0M338.0 152.7h0M340.5 154.6h0M324.1 167.1h0M324.0 166.0h0M329.4 158.8h0"/>
<path stroke="#ff7300" d="M337.5 152.9h0M327.2 161.0h0M340.8 152.7h0M325.1 167.4h0M329.1 165.7h0M324.7 164.4h0M334.6 154.7h0M324.0 166.0h0M340.7 153.8h0M333.1 155.8h0M326.4 167.0h0M324.0 166.7h0M326.2 162.3h0M328.5 159.7h0M340.6 152.6h0M340.7 153.5h0M324.6 167.3h0M338.3 152.7h0M324.2 165.4h0M338.2 152.8h0M340.6 152.8h0M326.6 161.8h0M325.0 164.0h0M324.7 167.3h0M329.5 158.8h0M327.3 161.0h0M324.1 166.6h0M334.6 154.7h0M340.4 152.7h0M328.0 160.3h0M337.9 158.2h0M340.2 152.6h0M339.1 152.5h0M333.7 155.4h0M340.5 153.1h0M326.6 166.9h0M337.9 158.2h0M328.1 166.2h0M336.5 153.7h0M327.3 161.1h0M329.3 165.4h0M325.2 163.7h0M326.2 162.4h0M339.4 152.6h0M337.9 158.2h0M339.6 152.6h0M332.8 162.9h0M340.4 153.8h0M326.8 166.7h0M337.4 153.2h0M324.3 165.5h0M332.5 156.3h0M328.6 159.8h0M337.3 153.3h0M339.9 152.7h0M328.8 159.6h0M333.6 162.2h0M324.4 165.5h0M325.7 167.1h0M338.3 152.9h0M340.3 154.1h0M328.5 159.9h0M329.8 165.1h0M334.7 161.2h0M325.3 167.1h0M326.8 161.8h0M333.3 162.5h0M330.6 158.0h0M339.2 156.1h0M339.8 153.0h0M330.5 164.6h0"/>
<path stroke="#ff5900" d="M327.7 166.2h0M329.8 158.7h0M332.9 156.2h0M331.4 163.9h0M327.2 161.3h0M336.4 159.6h0M337.1 153.5h0M326.8 166.6h0M335.5 154.5h0M329.7 158.9h0M327.1 166.5h0M325.2 164.1h0M338.8 153.0h0M324.5 166.7h0M328.9 159.6h0M340.1 154.0h0M328.5 165.8h0M332.2 156.8h0M326.9 166.6h0M324.7 165.0h0M326.8 161.9h0M335.5 154.5h0M325.3 166.9h0M324.5 166.3h0M329.9 164.8h0M332.0 156.9h0M332.1 156.9h0M338.5 157.0h0M334.4 155.2h0M336.2 154.2h0M338.3 153.3h0M326.8 161.9h0M336.3 154.1h0M325.2 164.1h0M338.3 153.3h0M338.7 153.2h0M335.3 160.5h0M324.9 164.8h0M329.1 165.3h0M331.7 157.3h0M330.0 158.7h0M325.8 166.8h0M325.3 166.8h0M331.6 157.3h0M331.6 163.6h0M339.7 154.2h0M336.1 154.3h0M324.8 165.1h0M325.2 166.7h0M325.4 163.9h0M339.3 155.6h0M337.1 158.6h0M334.7 161.1h0M335.5 160.3h0M326.7 162.1h0M337.2 153.8h0M330.6 164.3h0M326.1 162.9h0M339.0 153.5h0M325.6 166.7h0M329.4 159.3h0M328.7 165.5h0M335.8 154.5h0M337.9 157.5h0M337.2 158.4h0M324.9 165.1h0M326.1 166.6h0M325.1 164.7h0M325.5 163.9h0"/>
<path stroke="#ff4300" d="M335.7 160.0h0M339.4 154.6h0M325.5 163.9h0M330.2 158.6h0M338.6 156.5h0M328.0 165.8h0M326.8 162.1h0M332.6 156.7h0M339.3 154.2h0M332.3 156.9h0M325.9 166.5h0M331.9 163.2h0M325.6 163.8h0M326.9 166.3h0M337.9 157.4h0M338.9 153.9h0M327.3 161.6h0M339.2 154.5h0M336.1 154.5h0M338.3 156.8h0M327.3 166.1h0M336.1 159.5h0M336.5 159.1h0M325.0 165.7h0M334.0 161.5h0M339.1 154.4h0M338.9 155.6h0M338.9 155.4h0M333.1 162.3h0M337.0 154.2h0M338.9 155.3h0M337.4 154.0h0M329.4 164.9h0M337.2 158.1h0M329.3 165.0h0M332.2 157.1h0M332.2 157.1h0M336.9 158.5h0M325.4 166.3h0M338.8 155.5h0M335.4 155.0h0M332.8 156.7h0M326.6 162.5h0M332.6 156.8h0M326.0 166.3h0M332.0 163.1h0M325.1 165.8h0M325.1 165.8h0M328.5 165.4h0M327.5 161.5h0M329.0 159.9h0M338.8 154.9h0M337.1 154.3h0M335.7 154.9h0M335.4 155.0h0M338.5 156.0h0M325.2 165.4h0M326.5 166.2h0M338.8 155.0h0M329.4 164.8h0M333.1 162.1h0M325.6 164.1h0M328.6 165.3h0M325.2 165.7h0M325.4 166.1h0M329.0 159.9h0M338.7 154.6h0M331.0 158.1h0M326.2 166.2h0M328.4 160.6h0M331.5 163.4h0M326.8 162.5h0"/>
<path stroke="#ff2d00" d="M338.1 156.6h0M334.7 155.5h0M337.8 157.1h0M325.8 166.1h0M335.4 155.2h0M338.3 156.2h0M329.1 159.9h0M330.4 158.7h0M335.1 160.2h0M331.0 163.7h0M338.1 154.4h0M338.3 156.0h0M338.3 156.1h0M325.8 166.1h0M335.9 154.9h0M329.7 164.6h0M325.8 164.0h0M333.9 161.3h0M331.7 163.2h0M335.1 160.2h0M333.1 156.6h0M338.4 155.1h0M337.6 157.2h0M332.3 162.6h0M330.1 164.3h0M326.8 162.6h0M329.4 164.7h0M334.6 155.7h0M331.6 157.8h0M325.5 165.4h0M338.2 155.8h0M338.2 156.0h0M331.5 157.9h0M326.1 166.0h0M338.2 155.0h0M329.8 164.4h0M338.3 155.3h0M336.5 158.6h0M330.5 164.0h0M326.6 165.9h0M325.7 164.6h0M331.0 158.4h0M333.3 161.8h0M329.5 159.7h0M328.8 165.0h0M331.0 158.4h0M328.7 165.1h0M333.2 156.6h0M326.1 163.7h0M326.7 165.9h0M325.7 164.8h0M334.5 160.7h0M337.7 156.9h0M337.4 157.4h0M337.4 157.3h0M326.4 163.3h0M326.9 165.8h0M337.5 154.8h0M325.6 165.2h0M330.9 163.6h0M326.1 165.8h0M326.8 162.8h0M326.1 165.7h0M333.9 161.1h0M327.3 165.6h0M335.1 155.6h0M335.2 159.9h0M329.5 159.7h0M326.4 163.4h0M337.9 155.9h0M326.3 165.8h0M326.0 165.7h0M325.8 164.8h0M337.5 156.9h0M336.5 158.4h0M337.8 155.3h0M334.0 156.3h0M331.5 158.1h0M337.3 157.3h0M334.6 155.9h0M329.4 164.6h0M337.8 155.7h0M327.2 162.3h0"/>
<path stroke="#ff1300" d="M326.7 165.7h0M332.0 157.7h0M330.7 163.7h0M333.4 161.6h0M325.9 165.2h0M327.6 165.4h0M335.5 155.5h0M328.2 165.2h0M325.9 165.2h0M326.0 165.4h0M333.6 156.6h0M326.9 162.9h0M331.2 163.3h0M335.7 155.5h0M336.3 155.4h0M332.5 162.2h0M330.6 159.0h0M332.8 157.2h0M332.4 162.3h0M327.3 165.4h0M330.1 159.4h0M327.4 165.4h0M327.1 165.4h0M327.7 165.2h0M328.7 160.8h0M332.8 161.9h0M336.1 158.6h0M326.4 163.8h0M334.0 156.5h0M334.5 156.2h0M326.8 165.4h0M332.9 161.8h0M337.0 157.0h0M327.2 162.7h0M333.7 156.7h0M336.1 158.5h0M326.4 164.1h0M326.5 165.2h0M330.9 158.8h0M328.0 161.6h0M337.1 155.9h0M327.0 163.0h0M336.3 158.2h0M329.6 160.0h0M336.1 155.7h0M332.8 157.4h0M335.9 158.7h0M336.0 155.7h0M327.1 165.2h0M336.9 156.9h0M331.5 162.9h0M332.6 157.5h0M336.9 157.0h0M332.4 162.2h0M330.7 163.5h0"/>
<path stroke="#e40000" d="M326.4 164.4h0M337.0 156.6h0M328.6 161.1h0M327.7 162.1h0M330.0 159.7h0M329.0 164.5h0M336.9 156.3h0M326.6 163.9h0M335.7 158.8h0M332.2 162.3h0M329.6 160.1h0M335.2 159.4h0M335.3 156.1h0M328.9 160.7h0M334.2 160.5h0M330.0 159.7h0M326.7 165.0h0M326.5 164.7h0M333.8 156.9h0M336.4 156.0h0M332.5 157.7h0M328.1 161.7h0M329.4 164.2h0M336.2 156.0h0M329.5 164.1h0M327.1 165.0h0M335.7 158.7h0M329.6 160.1h0M332.2 162.2h0M333.8 156.9h0M328.7 161.1h0M331.4 162.8h0M336.1 158.1h0M333.9 160.6h0M327.7 164.9h0M332.9 161.6h0M332.4 157.9h0M335.0 156.4h0M327.4 162.7h0M327.9 162.0h0M328.9 164.4h0M326.8 164.6h0M328.9 164.4h0M335.7 158.6h0M327.9 164.8h0M329.6 160.2h0M326.9 163.7h0M333.9 157.0h0M336.5 157.0h0M329.0 164.3h0M334.2 160.3h0M336.4 157.2h0M334.2 156.8h0M330.5 163.4h0M333.8 157.0h0M327.0 163.6h0M328.0 162.0h0M328.9 160.9h0M335.9 158.1h0M327.6 162.6h0M334.2 156.8h0M335.7 156.3h0M332.5 157.9h0M326.8 164.2h0M328.0 164.7h0M335.0 159.4h0M333.3 157.4h0M327.1 163.5h0M335.8 156.5h0M334.8 156.6h0M333.1 161.3h0M327.1 163.5h0M326.9 164.1h0M333.2 161.2h0M330.3 163.4h0M334.8 159.5h0M335.4 158.7h0M331.0 159.1h0M334.0 160.3h0M333.2 161.2h0M335.6 156.6h0M327.9 164.6h0M329.6 163.9h0M330.5 159.5h0M335.2 156.6h0"/>
<path stroke="#c40000" d="M332.5 161.7h0M335.9 157.7h0M330.1 159.9h0M335.9 156.8h0M327.2 163.7h0M336.0 157.0h0M335.9 156.9h0M332.0 158.4h0M335.8 158.0h0M332.3 161.8h0M334.8 159.4h0M331.2 159.0h0M334.3 159.9h0M327.5 164.4h0M329.2 164.0h0M332.5 161.6h0M335.8 157.2h0M332.5 158.1h0M333.4 160.8h0M332.6 158.1h0M327.5 164.3h0M330.8 159.4h0M335.6 157.0h0M330.0 160.1h0M334.9 159.1h0M334.0 157.3h0M332.3 161.8h0M327.5 164.3h0M334.8 159.2h0M335.7 157.3h0M335.4 157.0h0M328.4 161.8h0M330.0 160.1h0M328.2 162.1h0M329.6 163.7h0M334.3 159.7h0M335.6 157.3h0M329.8 160.4h0M329.6 163.6h0M335.1 158.7h0M334.5 159.5h0M332.9 158.0h0M335.5 157.3h0M327.7 163.0h0M334.9 158.9h0M333.2 157.8h0M328.2 164.2h0M328.2 164.1h0M333.0 161.0h0M333.2 160.9h0M330.6 163.0h0M331.9 162.0h0M332.6 161.4h0M328.1 162.5h0M329.4 160.9h0M328.6 161.8h0M330.7 159.7h0M331.7 158.9h0M332.9 158.1h0M330.7 159.7h0M329.0 161.4h0M335.1 157.4h0M334.8 158.9h0M329.3 161.0h0M333.2 160.7h0M329.4 160.9h0M333.2 158.0h0M328.1 162.6h0M329.6 160.8h0M329.5 160.8h0M334.6 157.4h0M333.0 158.1h0M332.7 158.3h0M334.6 159.1h0M329.0 163.8h0M334.8 158.7h0M328.3 163.9h0"/>
<path stroke="#a80000" d="M331.5 159.1h0M328.1 163.9h0M334.5 159.2h0M335.1 158.1h0M334.0 159.8h0M334.9 158.5h0M329.6 160.9h0M327.9 163.5h0M333.2 160.6h0M332.6 161.2h0M332.2 158.6h0M329.3 163.6h0M333.8 157.8h0M329.5 160.9h0M335.0 158.0h0M328.0 163.0h0M329.9 160.6h0M329.8 163.3h0M333.7 160.1h0M332.9 158.2h0M329.5 163.4h0M333.3 158.1h0M329.8 163.3h0M329.2 161.3h0M334.1 159.5h0M332.2 161.5h0M332.7 161.0h0M334.6 157.8h0M328.2 163.6h0M333.3 160.5h0M328.5 163.7h0M331.3 162.2h0M329.3 161.2h0M330.6 162.7h0M328.2 163.4h0M331.1 162.3h0M333.6 158.0h0M328.5 162.5h0M332.4 158.7h0M334.0 157.9h0M332.4 158.7h0M329.8 160.8h0M328.2 163.2h0M330.3 162.9h0M328.2 163.1h0M334.3 159.0h0M330.2 162.9h0M333.0 160.7h0M329.0 163.5h0M334.4 158.0h0M328.4 163.4h0M329.9 163.0h0M328.8 163.5h0M331.4 162.1h0M333.7 158.1h0M333.2 160.4h0M331.0 162.3h0M333.1 160.5h0M333.5 160.0h0M333.4 160.1h0M334.2 159.0h0M331.8 159.2h0M333.4 160.1h0M329.5 161.3h0M329.4 161.3h0M333.7 159.8h0M330.1 160.6h0M334.2 158.3h0M329.6 161.2h0M332.3 161.2h0M331.1 159.8h0M328.5 163.0h0M331.4 161.9h0M333.7 158.3h0M329.0 161.9h0M329.8 161.0h0M329.1 161.8h0M334.0 159.2h0M329.1 161.8h0M331.3 159.7h0M334.1 158.6h0M334.0 159.1h0M329.0 163.2h0M328.8 162.4h0M331.1 162.1h0M333.9 159.3h0M333.1 158.6h0M328.9 162.2h0M332.8 158.7h0M333.9 159.2h0M328.9 162.3h0M330.5 162.5h0M329.4 163.0h0M333.9 158.9h0M331.7 159.4h0"/>
<path stroke="#8d0000" d="M328.8 162.7h0M330.8 160.2h0M331.9 159.3h0M331.2 162.0h0M333.8 159.1h0M333.1 160.2h0M331.1 159.9h0M329.0 162.4h0M331.7 159.6h0M329.3 162.7h0M329.3 162.7h0M330.3 162.4h0M329.3 162.1h0M329.3 162.1h0M332.2 159.3h0M329.5 161.9h0M330.3 162.4h0M333.2 159.0h0M329.3 162.4h0M333.3 159.4h0M330.0 161.3h0M333.2 159.5h0M330.1 161.1h0M331.5 159.9h0M330.7 162.0h0M333.1 159.2h0M332.8 160.1h0M332.8 159.2h0M333.1 159.3h0M331.6 161.3h0M330.6 162.1h0M330.1 162.3h0M331.2 161.7h0M333.0 159.4h0M329.6 162.2h0M332.5 160.4h0M331.2 161.5h0M330.4 162.0h0M330.6 162.0h0M331.7 161.1h0M332.2 160.7h0M331.1 161.6h0M332.5 159.7h0M332.2 160.6h0M330.1 161.9h0M330.5 161.9h0M330.5 161.1h0M330.7 160.9h0M330.3 161.4h0M330.6 161.0h0M332.2 159.9h0M332.2 160.0h0M331.9 160.1h0M330.4 161.3h0M331.4 161.1h0M331.2 160.5h0M331.8 160.2h0M331.6 161.0h0M331.0 161.4h0M331.1 161.3h0M331.1 161.3h0M331.6 160.7h0M331.6 160.8h0M331.2 161.0h0"/>
<path stroke="#000" stroke-width="0.65" stroke-dasharray="2.6 1.1" stroke-linecap="butt" d="M313.1 177.7L508.0 9.6"/>
<path stroke="#f00" stroke-width="0.8" stroke-linecap="butt" d="M313.1 171.5L480.2 59.1"/>
</g>
<rect x="313.1" y="9.6" width="194.9" height="168.1" fill="none" stroke="#222" stroke-width="0.7"/>
<path stroke="#222" stroke-width="0.6" fill="none" d="M313.1 177.7v-2.2M313.1 177.7h2.2M327.0 177.7v-1.2M313.1 165.7h1.2M340.9 177.7v-2.2M313.1 153.7h2.2M354.9 177.7v-1.2M313.1 141.7h1.2M368.8 177.7v-2.2M313.1 129.7h2.2M382.7 177.7v-1.2M313.1 117.7h1.2M396.6 177.7v-2.2M313.1 105.7h2.2M410.6 177.7v-1.2M313.1 93.6h1.2M424.5 177.7v-2.2M313.1 81.6h2.2M438.4 177.7v-1.2M313.1 69.6h1.2M452.3 177.7v-2.2M313.1 57.6h2.2M466.2 177.7v-1.2M313.1 45.6h1.2M480.2 177.7v-2.2M313.1 33.6h2.2M494.1 177.7v-1.2M313.1 21.6h1.2M508.0 177.7v-2.2M313.1 9.6h2.2"/>
<g class="tl">
<text x="313.1" y="187.3" text-anchor="middle">0</text>
<text x="310.9" y="180.9" text-anchor="end">0</text>
<text x="340.9" y="187.3" text-anchor="middle">50</text>
<text x="310.9" y="156.9" text-anchor="end">50</text>
<text x="368.8" y="187.3" text-anchor="middle">100</text>
<text x="310.9" y="132.9" text-anchor="end">100</text>
<text x="396.6" y="187.3" text-anchor="middle">150</text>
<text x="310.9" y="108.9" text-anchor="end">150</text>
<text x="424.5" y="187.3" text-anchor="middle">200</text>
<text x="310.9" y="84.8" text-anchor="end">200</text>
<text x="452.3" y="187.3" text-anchor="middle">250</text>
<text x="310.9" y="60.8" text-anchor="end">250</text>
<text x="480.2" y="187.3" text-anchor="middle">300</text>
<text x="310.9" y="36.8" text-anchor="end">300</text>
<text x="508.0" y="187.3" text-anchor="middle">350</text>
<text x="310.9" y="12.8" text-anchor="end">350</text>
</g>
<text class="an" y="23.8"><tspan class="it" x="321.7">y</tspan><tspan class="op" x="330.3">=</tspan><tspan x="341.0">0.78</tspan><tspan class="it" x="358.3">x</tspan><tspan class="pl" x="367.7">+</tspan><tspan x="375.0">13.0</tspan></text>
<text class="an" y="38.4"><tspan class="it" x="322.0">R</tspan><tspan class="sup" x="330.8" dy="-4.2">2</tspan><tspan class="op" x="337.1" dy="4.2">=</tspan><tspan x="347.6">0.69</tspan></text>
<text class="an" y="50.2"><tspan x="322.0">RMSE</tspan><tspan class="pl" x="352.3">=</tspan><tspan x="358.5">22.93</tspan></text>
<text class="an" y="61.9"><tspan class="it" x="322.0">N</tspan><tspan class="op" x="331.4">=</tspan><tspan x="342.1">3691</tspan></text>
<text class="al" x="411.1" y="202.0" text-anchor="middle"><tspan class="mono">Observed PM2.5</tspan><tspan class="mp">(</tspan><tspan class="mi">μg·m</tspan><tspan class="mis" dy="-4">−3</tspan><tspan class="mp" dy="4">)</tspan></text>
<text class="al" transform="translate(290.6 92.4) rotate(-90)" text-anchor="middle"><tspan class="mono">Prediction PM2.5</tspan><tspan class="mp">(</tspan><tspan class="mi">μg·m</tspan><tspan class="mis" dy="-4">−3</tspan><tspan class="mp" dy="4">)</tspan></text>
<rect x="519.7" y="17.0" width="8.0" height="152.6" fill="url(#jet)"/>
<path fill="#800000" d="M519.7 17.2L523.7 9.299999999999999L527.7 17.2Z"/>
<path fill="#000080" d="M519.7 169.4L523.7 178.0L527.7 169.4Z"/>
<path fill="none" stroke="#222" stroke-width="0.5" d="M519.7 17.0L523.7 9.299999999999999L527.7 17.0V169.6L523.7 178.0L519.7 169.6Z"/>
<g class="cl">
<text x="531.9" y="153.1">5</text>
<text x="531.9" y="133.2">10</text>
<text x="531.9" y="113.2">15</text>
<text x="531.9" y="93.3">20</text>
<text x="531.9" y="73.4">25</text>
<text x="531.9" y="53.5">30</text>
<text x="531.9" y="33.5">35</text>
</g>
<path stroke="#222" stroke-width="0.5" fill="none" d="M527.7 150.9h1.6M527.7 131.0h1.6M527.7 111.0h1.6M527.7 91.1h1.6M527.7 71.2h1.6M527.7 51.3h1.6M527.7 31.3h1.6"/>
<text class="ct" transform="translate(546.9 94.3) rotate(-90)" text-anchor="middle">Counts</text>
<text class="cap" x="413" y="225.9" text-anchor="middle">b.DNN</text>
<clipPath id="cpc"><rect x="36.4" y="241.6" width="194.9" height="168.1"/></clipPath>
<g clip-path="url(#cpc)" fill="none" stroke-width="4.5" stroke-linecap="round">
<path stroke="#00008d" d="M202.6 357.7h0M172.6 368.5h0M66.1 329.1h0M52.0 339.1h0M193.1 344.1h0M76.0 329.1h0M183.5 346.2h0M155.7 365.1h0M169.1 354.1h0M38.4 356.1h0M158.7 360.2h0M163.1 355.6h0M89.0 325.0h0M40.4 358.2h0M101.1 321.0h0M71.6 338.7h0M169.1 348.1h0M172.1 346.2h0M120.0 385.1h0M153.7 355.1h0M60.1 349.5h0M191.5 328.7h0M155.1 304.0h0M161.1 347.7h0M184.1 296.1h0M177.5 337.1h0M51.0 359.1h0M68.1 348.1h0M123.0 375.5h0M142.0 360.2h0M147.4 353.7h0M196.1 309.5h0M132.1 368.1h0M163.1 305.0h0M172.1 301.4h0M76.4 344.1h0M140.1 360.1h0M124.2 324.1h0M177.5 334.1h0M142.1 356.1h0M113.0 381.1h0M170.1 313.1h0M168.1 317.7h0M107.3 384.9h0M105.6 386.0h0M75.6 346.7h0M148.7 314.1h0M87.8 395.2h0M109.4 382.6h0M141.0 352.2h0M116.5 328.8h0M90.8 393.2h0M176.7 317.5h0M164.1 307.7h0M109.7 382.0h0M165.6 323.7h0M151.1 315.1h0M120.2 329.1h0M167.5 337.7h0M137.0 358.2h0M138.6 354.6h0M155.1 343.1h0M138.6 319.7h0M57.4 409.0h0M157.7 320.7h0M64.9 355.2h0M106.8 334.8h0M39.7 378.8h0M172.1 328.7h0M174.0 322.6h0M172.5 332.7h0M55.1 362.2h0M109.9 333.8h0M61.6 406.6h0M146.0 320.1h0M56.3 361.3h0M98.0 340.1h0M172.9 331.3h0M92.9 390.1h0M160.1 325.7h0M85.1 343.7h0M128.1 365.1h0M73.0 351.2h0M130.2 327.1h0M40.3 379.1h0M121.1 331.8h0M61.1 406.5h0M79.1 347.6h0M126.8 329.5h0M137.8 322.9h0M84.7 344.4h0M152.1 342.1h0M91.1 344.1h0M86.6 343.7h0M85.0 394.1h0M61.0 358.7h0M71.0 352.8h0M122.0 332.0h0M76.7 349.5h0M104.1 383.1h0M84.1 345.1h0M41.5 378.4h0M109.9 335.7h0M164.4 334.8h0M86.2 344.5h0M39.4 381.4h0M117.0 334.0h0M152.1 317.7h0M106.6 337.1h0M108.2 336.6h0M39.7 381.1h0M123.8 331.9h0M133.8 327.0h0M88.3 345.8h0M136.0 326.1h0M157.1 338.7h0M96.5 342.8h0M88.6 346.7h0M148.0 328.1h0M109.7 378.1h0M111.3 336.2h0M86.9 345.8h0M95.3 343.9h0M88.3 347.1h0M111.1 376.9h0M130.0 331.0h0M159.3 334.7h0M133.0 329.1h0M71.8 353.0h0M129.4 331.7h0M85.1 346.0h0M67.6 355.3h0M82.1 347.3h0M83.7 346.6h0M128.4 333.1h0M88.0 347.6h0M86.0 346.5h0M126.3 333.3h0M127.2 334.1h0M126.8 334.1h0M125.4 332.8h0M97.5 342.8h0M126.3 333.6h0M128.6 333.5h0M77.4 350.0h0M126.0 333.8h0M129.3 333.2h0M41.4 379.8h0M105.3 381.2h0M115.1 335.5h0M79.3 396.7h0M81.3 347.9h0M83.5 347.0h0M63.9 357.7h0M124.1 333.5h0M81.0 348.2h0M113.4 336.2h0M98.4 342.6h0M78.0 349.9h0M44.1 376.5h0M122.9 333.7h0M125.5 336.9h0M144.5 327.2h0M124.1 334.8h0M144.0 324.5h0M119.8 334.4h0M145.2 324.0h0M80.1 348.9h0M151.1 320.0h0M80.9 348.6h0M144.1 338.0h0M99.0 385.1h0M102.2 383.1h0M159.6 314.7h0M103.9 340.2h0M109.6 337.8h0M53.9 365.5h0M83.4 347.8h0M130.6 333.9h0M106.3 339.2h0M98.6 343.1h0M106.3 339.3h0M128.0 336.3h0M134.7 330.1h0M40.9 381.0h0M122.4 338.2h0M92.8 346.7h0M85.3 348.8h0M86.8 349.1h0M153.3 329.4h0M80.1 349.3h0M153.8 319.2h0M158.0 315.9h0M151.0 328.5h0M134.7 349.6h0M132.8 332.4h0M110.2 376.6h0M123.2 339.0h0M157.3 316.5h0M153.2 338.0h0M126.2 363.8h0M147.6 341.9h0M93.3 346.7h0M97.5 344.2h0M40.1 382.2h0M92.6 347.1h0M91.3 347.8h0M106.8 379.1h0M72.0 353.7h0M139.5 328.1h0M114.2 373.6h0M87.7 391.1h0M56.7 363.4h0M110.9 338.0h0M90.4 348.3h0M44.1 377.3h0M152.1 329.8h0M61.8 359.6h0M132.3 334.2h0M117.1 371.4h0M101.6 382.9h0M145.0 332.1h0M142.0 335.1h0M105.2 340.6h0M145.7 333.5h0M94.1 346.6h0M140.4 333.1h0M97.8 344.5h0M120.3 338.8h0M138.8 341.4h0M90.8 348.4h0M82.8 349.5h0M82.1 349.6h0M126.3 338.3h0M44.4 377.2h0M136.9 332.7h0M121.3 340.4h0M113.0 337.7h0M123.7 365.7h0M147.1 332.0h0M65.2 357.7h0M123.2 339.9h0M148.4 331.3h0M108.3 339.6h0M57.5 363.1h0M118.6 336.6h0M117.3 336.7h0M53.7 366.7h0M111.1 375.4h0M39.6 383.2h0M149.5 337.9h0M100.9 383.0h0M100.3 343.7h0M74.7 352.8h0M132.8 335.2h0M99.2 384.1h0M77.8 351.4h0M114.7 337.5h0M103.3 342.2h0M117.5 370.7h0M114.5 337.6h0M138.3 335.3h0M43.2 379.1h0M147.5 338.7h0M140.2 342.2h0M79.4 395.6h0M101.8 343.2h0M120.7 368.0h0M118.6 340.4h0M102.7 342.7h0M131.0 352.2h0M117.2 337.6h0M111.6 338.8h0M147.7 339.1h0M116.9 337.7h0M130.1 357.1h0M62.3 359.9h0M110.7 339.2h0M119.5 368.9h0M108.9 376.5h0M114.3 338.1h0M111.9 374.4h0M52.8 368.3h0M132.0 336.3h0M108.1 377.1h0M56.4 364.6h0M144.0 342.1h0M118.7 341.6h0M62.3 359.9h0M44.5 377.7h0M115.9 338.1h0M103.4 342.7h0M80.8 394.7h0M117.6 340.0h0M80.5 394.8h0M115.9 371.5h0M143.8 341.6h0M106.0 378.5h0M60.3 405.0h0M105.7 378.7h0M130.5 337.3h0M50.5 371.0h0M117.1 339.6h0M77.8 396.2h0M96.4 346.4h0M107.5 340.9h0M65.2 358.3h0M107.4 377.3h0M113.1 339.0h0M74.3 353.6h0M91.1 349.0h0M114.8 338.7h0M76.1 352.8h0M112.9 339.2h0M114.8 339.0h0M127.8 338.7h0M102.5 343.5h0M107.2 341.2h0M75.1 353.4h0M104.2 379.5h0M99.0 345.3h0M75.2 353.4h0M63.8 359.3h0M101.4 344.2h0M112.6 373.4h0M111.8 339.8h0M114.8 371.9h0M103.5 379.9h0M131.1 350.2h0M134.2 338.0h0M82.0 352.0h0M132.7 337.9h0M120.0 367.6h0M105.8 342.3h0M108.7 376.0h0M66.4 358.1h0M73.4 354.6h0M72.7 354.9h0M116.9 343.0h0M68.4 357.0h0M110.6 340.7h0M90.3 349.9h0M97.4 384.1h0M132.6 347.1h0M132.2 348.0h0M60.7 361.7h0M129.1 352.8h0M130.1 351.1h0M40.8 382.9h0M109.0 375.5h0M103.3 343.7h0M68.4 357.1h0M132.8 346.5h0M114.2 341.0h0M104.5 378.6h0M70.9 355.9h0M121.9 365.5h0M84.9 352.0h0M62.1 360.8h0M80.7 352.4h0M126.4 340.0h0M108.8 375.6h0M70.7 356.1h0M97.7 383.7h0M99.2 382.6h0M72.3 355.4h0M107.1 376.6h0M64.3 359.6h0M125.3 361.8h0M54.6 367.7h0M54.5 367.7h0M43.4 380.1h0M56.1 366.1h0M115.5 343.4h0M62.1 361.1h0M128.1 354.0h0M93.9 348.6h0M132.1 346.6h0M104.8 377.9h0M77.0 353.7h0M71.8 355.9h0M121.4 365.4h0M125.5 340.8h0M52.9 369.6h0M120.7 365.9h0M131.8 346.7h0M131.4 339.5h0M52.6 370.0h0M52.0 370.6h0M63.5 360.5h0M118.8 367.6h0M70.6 356.7h0M129.4 350.8h0M69.0 357.5h0M130.5 348.8h0M132.9 340.4h0M101.7 379.9h0M60.4 362.8h0M112.7 342.7h0M103.7 378.3h0M88.1 351.6h0M82.1 353.3h0M78.0 353.8h0M125.3 341.1h0M129.0 351.0h0M62.8 361.1h0M101.8 379.6h0M132.5 343.3h0M105.1 377.1h0M62.9 361.2h0M56.9 366.0h0M66.5 359.1h0M78.4 353.9h0M132.6 342.4h0M95.9 348.2h0M108.0 343.3h0M121.9 342.7h0M109.8 343.2h0M95.2 384.5h0M116.4 344.8h0M62.7 361.5h0M118.9 366.8h0M89.6 351.3h0M58.5 364.9h0M49.3 373.9h0M126.2 359.5h0M118.2 367.4h0M97.1 382.9h0M59.3 364.3h0M47.3 376.3h0M113.1 344.6h0M71.2 357.2h0M126.2 356.2h0M124.5 342.0h0M71.2 398.5h0M110.2 373.3h0M93.7 385.3h0M81.8 392.8h0M112.0 372.0h0M75.6 355.4h0M117.6 367.6h0M115.1 345.4h0M58.9 364.9h0M116.9 368.2h0M101.4 346.2h0M57.0 366.6h0M45.0 379.3h0M62.1 362.4h0M58.6 365.2h0M119.6 344.1h0M105.6 344.8h0M107.4 344.4h0M128.5 341.2h0M93.3 349.9h0M101.3 379.0h0M110.1 344.4h0M125.7 356.7h0M68.5 358.9h0M118.0 367.1h0M131.1 342.2h0M49.6 373.9h0M124.7 360.7h0M126.2 354.0h0M54.2 369.4h0M97.9 348.0h0M45.1 379.4h0M123.7 361.8h0M69.1 358.7h0M51.2 372.3h0M95.8 383.3h0M58.7 365.4h0M125.6 357.7h0M39.7 385.6h0M125.7 358.2h0M60.5 364.0h0M64.2 401.9h0M123.6 361.8h0M90.1 351.6h0M124.7 360.5h0M130.9 343.5h0M125.4 359.2h0M111.3 345.1h0M105.3 345.4h0M89.4 352.0h0M99.6 379.9h0M114.2 369.9h0M121.1 343.9h0M79.8 355.2h0M112.3 345.8h0M58.6 365.7h0M99.9 379.5h0M62.3 363.0h0M85.4 353.9h0M90.6 387.0h0M84.2 354.4h0M125.1 358.2h0M125.1 358.5h0M124.1 360.9h0M104.0 346.1h0M89.2 387.8h0M128.8 342.1h0M124.9 358.2h0M48.9 375.2h0M124.9 358.7h0M110.8 372.0h0M112.9 346.4h0M110.1 372.5h0M80.2 355.7h0M82.0 355.3h0M50.2 373.8h0M124.6 356.0h0M119.4 365.1h0M99.5 379.4h0M126.6 351.7h0M93.0 384.9h0M106.5 374.6h0M92.4 385.4h0M76.5 356.4h0M123.9 360.5h0M58.0 366.7h0M58.6 404.4h0M95.3 349.9h0M124.2 359.8h0M111.1 371.5h0M42.9 382.4h0M124.2 358.6h0M105.0 346.5h0M129.6 344.2h0M81.0 356.2h0M82.3 391.9h0M129.3 344.8h0M80.1 356.4h0M126.8 350.9h0M116.3 346.5h0M41.6 384.0h0M120.8 363.5h0M98.4 348.9h0M66.8 361.1h0M106.4 346.5h0M77.9 356.9h0M72.6 358.3h0M110.3 371.7h0M107.4 346.5h0M64.9 362.4h0M110.9 347.0h0M128.3 343.4h0M102.8 347.5h0M76.1 357.3h0M91.4 352.1h0M122.6 361.3h0M58.5 404.3h0M63.0 402.1h0M123.5 357.0h0M40.5 385.5h0M81.6 356.5h0M99.6 378.6h0M124.7 353.8h0M120.3 363.7h0M52.6 372.0h0M126.1 343.5h0M128.2 346.8h0M111.8 370.4h0M65.1 362.5h0M73.6 358.4h0"/>
<path stroke="#0000a8" d="M101.4 377.2h0M128.3 344.4h0M122.3 361.2h0M92.0 384.9h0M123.4 344.3h0M89.1 387.2h0M101.7 348.2h0M63.6 401.6h0M127.2 349.1h0M46.7 378.9h0M124.2 354.2h0M46.4 379.3h0M114.4 347.6h0M127.8 346.8h0M103.9 375.4h0M90.4 353.0h0M56.8 368.4h0M118.0 365.4h0M89.0 387.1h0M78.8 393.6h0M68.5 361.0h0M46.2 379.5h0M38.5 389.0h0M108.8 347.4h0M92.9 384.0h0M48.2 377.4h0M51.4 373.6h0M74.2 358.8h0M73.2 359.1h0M122.4 359.0h0M107.3 373.0h0M98.6 379.0h0M84.0 356.0h0M73.3 359.2h0M93.7 383.2h0M88.0 354.4h0M75.6 359.0h0M90.3 386.0h0M84.4 390.1h0M44.1 381.8h0M122.1 345.2h0M69.3 360.9h0M106.8 347.8h0M118.6 346.7h0M98.2 379.2h0M94.3 351.6h0M86.8 388.5h0M126.9 347.9h0M60.2 403.1h0M68.5 398.8h0M73.1 359.7h0M67.5 362.0h0M47.5 378.5h0M71.9 360.2h0M42.9 383.3h0M117.0 347.5h0M114.8 348.2h0M75.2 395.2h0M125.1 345.0h0M79.4 358.5h0M48.5 377.5h0M71.9 360.5h0M58.8 367.4h0M107.9 348.4h0M120.5 361.8h0M75.5 359.9h0M124.1 345.3h0M93.7 352.3h0M93.1 352.6h0M48.5 377.7h0M102.3 349.2h0M84.9 389.5h0M90.2 385.6h0M103.2 349.0h0M125.5 345.5h0M122.0 356.7h0M98.9 350.4h0M106.7 348.6h0M53.1 372.6h0M104.9 373.9h0M115.2 348.5h0M124.1 345.6h0M85.4 389.1h0M93.6 352.7h0M90.5 385.2h0M118.3 347.6h0M96.0 351.7h0M61.8 365.7h0M44.9 381.5h0M118.7 347.4h0M113.3 368.1h0M121.4 346.5h0M119.5 362.4h0M114.8 366.9h0M57.4 404.2h0M96.7 351.5h0M68.4 398.5h0M68.6 362.4h0M79.2 392.8h0M78.4 359.5h0M120.3 360.2h0M112.5 349.3h0M82.0 358.0h0M123.5 346.2h0M78.6 393.1h0M91.1 354.1h0M58.7 403.5h0M72.9 396.1h0M54.5 371.5h0M104.4 373.9h0M118.2 363.6h0M97.9 351.3h0M99.2 377.6h0M82.9 390.5h0M114.3 349.3h0M96.2 379.9h0M87.2 387.5h0M95.0 380.9h0M100.5 350.6h0M78.8 392.9h0M61.7 366.2h0M109.5 349.5h0M112.1 368.6h0M124.1 351.4h0M123.5 346.8h0M94.5 352.9h0M85.7 356.8h0M124.5 350.4h0M110.9 349.7h0M85.9 356.7h0M101.0 350.6h0M54.8 371.6h0M66.1 364.0h0M107.5 349.6h0M49.9 377.0h0M113.3 367.5h0M80.6 359.1h0M84.0 357.7h0M97.6 378.5h0M88.4 355.9h0M60.3 402.5h0M116.5 364.6h0M95.7 380.0h0M86.5 356.8h0M124.2 349.0h0M68.9 398.0h0M78.2 360.3h0M72.0 362.5h0M95.8 379.9h0M47.4 379.6h0M118.5 361.5h0M105.2 350.1h0M117.3 363.5h0M119.4 348.5h0M123.3 348.0h0M121.4 355.4h0M87.7 356.4h0M116.3 349.6h0M94.9 353.3h0M88.8 385.8h0M117.7 362.8h0M38.6 391.2h0M57.2 369.8h0M110.0 369.6h0M117.8 349.2h0M112.9 367.4h0M122.3 348.3h0M60.0 402.6h0M121.3 348.4h0M120.2 348.6h0M59.0 368.7h0M99.4 351.9h0M119.4 358.9h0M117.4 362.7h0M115.8 350.2h0M65.0 365.2h0M103.1 350.9h0M115.1 350.5h0M79.8 391.9h0M61.9 366.8h0M66.3 364.7h0M104.0 350.8h0M56.5 370.8h0M57.6 369.9h0M122.6 351.8h0M103.2 351.0h0M102.0 374.7h0M120.5 349.1h0M44.4 383.0h0M113.2 366.7h0M121.7 349.2h0M61.6 401.6h0M48.8 407.4h0M112.8 351.3h0M122.5 350.1h0M122.3 351.9h0M122.3 350.0h0M70.9 363.8h0M119.7 357.1h0M70.8 363.9h0M77.7 361.3h0M102.6 351.5h0M73.3 363.1h0M71.7 396.1h0M112.1 367.2h0M96.7 353.5h0M71.1 396.4h0M49.3 378.5h0M107.1 370.8h0M110.1 351.4h0M80.4 391.3h0M99.1 376.6h0M111.5 351.8h0M52.4 375.5h0M79.7 391.6h0M113.5 365.9h0M74.7 362.6h0M120.8 350.0h0M117.6 360.6h0M84.4 358.8h0M77.9 361.3h0M96.7 353.7h0M53.4 374.7h0M69.2 397.3h0M118.9 358.1h0M67.7 365.1h0M59.3 369.2h0M38.8 391.9h0M56.3 371.7h0M86.0 358.3h0M87.7 386.0h0M92.0 382.3h0M108.1 369.9h0M118.9 350.6h0M59.2 369.4h0M61.1 401.6h0M87.2 386.3h0M121.3 352.0h0M57.0 403.6h0M90.1 356.6h0M64.9 399.5h0M118.7 357.8h0M112.4 366.4h0M94.9 354.7h0M102.2 373.9h0M82.9 359.7h0M42.6 385.9h0M51.0 377.4h0M48.9 407.1h0M120.9 351.8h0M105.3 371.6h0M61.6 401.2h0M120.4 353.8h0M75.1 362.9h0M102.6 373.6h0M105.1 351.7h0M61.5 368.1h0M92.6 355.8h0M105.6 371.4h0M81.9 360.2h0M62.8 367.5h0M75.3 362.9h0M55.3 373.4h0"/>
<path stroke="#0000c8" d="M110.5 367.7h0M120.2 353.5h0M66.1 398.7h0M59.3 369.9h0M55.4 373.4h0M67.7 397.8h0M118.3 357.5h0M82.3 389.6h0M119.1 355.7h0M97.5 354.1h0M116.7 360.5h0M93.2 355.8h0M114.2 352.7h0M54.0 404.9h0M93.2 380.8h0M63.9 367.3h0M90.7 356.9h0M114.1 363.9h0M96.4 354.6h0M73.5 363.9h0M68.0 365.9h0M109.2 368.4h0M117.5 352.1h0M102.3 373.4h0M65.8 366.7h0M115.1 352.7h0M119.6 352.7h0M90.3 383.2h0M104.9 352.3h0M108.5 352.8h0M117.3 359.0h0M40.8 389.1h0M114.8 352.9h0M57.3 403.2h0M119.4 353.7h0M104.6 352.4h0M92.6 356.3h0M78.9 361.9h0M61.2 369.1h0M107.1 352.5h0M62.3 368.5h0M107.5 369.3h0M90.1 357.4h0M82.7 360.5h0M103.9 352.6h0M95.7 378.5h0M58.9 370.9h0M55.8 373.7h0M105.4 370.9h0M61.9 368.9h0M62.4 368.6h0M118.8 353.1h0M78.7 391.5h0M62.6 368.5h0M81.6 361.0h0M63.6 368.0h0M118.4 355.6h0M112.5 364.8h0M110.4 354.0h0M115.0 361.9h0M86.5 359.2h0M51.5 377.8h0M41.4 388.6h0M111.7 354.1h0M116.3 359.7h0M69.2 366.2h0M57.6 372.5h0M108.8 354.0h0M43.8 385.3h0M97.3 376.9h0M117.6 353.4h0M62.9 368.8h0M116.9 353.4h0M107.1 369.2h0M95.5 378.4h0M107.8 368.7h0M67.2 397.7h0M89.0 383.9h0M62.4 400.3h0M77.4 363.0h0M118.1 354.5h0M67.1 367.1h0M73.5 364.6h0M115.0 361.4h0M67.0 367.2h0M106.0 353.1h0M75.0 393.4h0M83.1 388.4h0M96.9 355.3h0M83.8 387.9h0M94.2 379.3h0M92.9 380.4h0M58.6 402.3h0M89.5 358.2h0M58.4 402.3h0M107.9 354.3h0M73.2 365.0h0M115.0 354.1h0M56.3 374.1h0M62.2 369.7h0M107.2 368.6h0M110.6 365.7h0M70.5 395.7h0M84.1 387.5h0M109.2 367.0h0M116.8 354.5h0M115.2 354.3h0M65.8 368.1h0M112.8 363.4h0M59.0 402.0h0M114.8 360.7h0M40.8 390.5h0M75.4 393.0h0M101.2 354.1h0M58.5 372.6h0M47.5 381.8h0M67.9 367.5h0M45.1 384.3h0M90.3 358.2h0M45.2 384.2h0M51.7 378.2h0M80.4 362.3h0M67.8 397.0h0M81.1 362.0h0M116.4 356.1h0M109.6 366.3h0M115.1 354.9h0M91.3 358.0h0M116.2 355.7h0M79.6 390.3h0M113.8 361.7h0M63.9 399.2h0M51.6 378.4h0M106.5 354.8h0M65.4 398.3h0M64.8 369.0h0M97.0 376.5h0M75.3 364.5h0M87.7 384.3h0M41.0 408.8h0M62.7 370.1h0M98.5 355.3h0M100.8 354.6h0M113.0 362.5h0M110.4 355.7h0M102.1 372.2h0M66.3 397.8h0M105.4 354.4h0M59.2 372.6h0M47.5 382.1h0M114.3 360.4h0M87.8 384.2h0M46.3 383.3h0M89.9 358.7h0M78.0 391.2h0M112.8 355.5h0M95.5 356.6h0M93.3 379.4h0M65.7 369.0h0M66.9 397.3h0M84.3 386.9h0M56.4 403.0h0M110.1 365.3h0M78.1 391.1h0M63.1 370.3h0M88.7 359.3h0M42.1 388.9h0M41.6 389.8h0M115.0 356.1h0M72.0 394.5h0M64.7 369.6h0M115.1 356.8h0M46.0 383.8h0M100.3 373.4h0M113.1 361.8h0M85.2 386.1h0M85.7 385.7h0M67.3 368.5h0M93.9 357.3h0M115.0 356.8h0M57.5 374.2h0M56.0 375.3h0M110.1 356.2h0M114.8 358.2h0M99.2 374.3h0M104.7 354.8h0M102.9 371.2h0M100.7 355.0h0M95.7 356.7h0M74.3 365.4h0M76.0 364.6h0M113.1 356.0h0M51.3 379.0h0M107.5 367.2h0M109.0 366.0h0M108.4 356.4h0M114.3 358.6h0M56.0 403.1h0M45.8 384.2h0M111.8 363.0h0M105.7 355.9h0"/>
<path stroke="#0000e3" d="M86.5 384.9h0M102.4 371.4h0M86.9 360.3h0M107.8 356.6h0M52.6 378.2h0M98.8 355.8h0M71.0 394.8h0M76.1 364.8h0M96.8 376.0h0M113.6 359.7h0M65.1 370.1h0M61.3 372.1h0M72.8 366.4h0M73.5 366.0h0M61.0 372.3h0M88.4 383.1h0M65.2 398.0h0M109.9 356.8h0M79.3 390.0h0M93.8 357.8h0M102.3 371.2h0M62.1 371.7h0M112.1 362.1h0M102.7 355.1h0M107.9 366.5h0M102.8 355.2h0M110.4 364.0h0M72.5 393.9h0M113.5 357.7h0M70.7 394.9h0M99.4 355.8h0M111.9 362.2h0M71.7 367.1h0M71.6 394.4h0M38.9 394.6h0M112.2 357.1h0M49.2 381.2h0M101.2 372.0h0M100.3 355.6h0M102.4 355.4h0M74.1 392.9h0M54.7 376.9h0M68.8 368.6h0M60.3 373.0h0M104.1 356.0h0M50.7 379.9h0M65.3 397.9h0M63.6 398.8h0M105.8 357.2h0M85.6 361.1h0M112.7 357.8h0M66.7 369.7h0M104.4 369.1h0M112.2 361.2h0M97.6 356.6h0M107.9 366.0h0M112.4 357.7h0M79.3 363.7h0M109.1 364.9h0M112.7 358.1h0M57.3 375.2h0M61.3 372.7h0M103.6 356.1h0M95.0 377.2h0M100.4 355.9h0M52.7 378.5h0M102.1 355.7h0M112.0 357.9h0M71.5 367.4h0M111.0 362.7h0M91.5 359.0h0M106.3 357.7h0M79.9 389.3h0M43.4 387.9h0M42.8 388.8h0M79.7 389.4h0M84.8 385.6h0M108.1 357.8h0M81.8 387.9h0M111.4 358.0h0M47.1 406.6h0M48.3 382.3h0M66.3 370.3h0M69.9 368.4h0M105.9 358.0h0M59.6 374.0h0M49.6 381.2h0M107.9 358.0h0M60.4 373.5h0M110.6 362.6h0M80.3 388.9h0M67.5 369.7h0M92.0 379.4h0M100.4 372.1h0M101.5 371.1h0M55.9 376.4h0M98.9 373.4h0M110.9 358.4h0M105.1 367.9h0M93.8 377.9h0M109.4 363.9h0M63.5 371.9h0M82.5 362.7h0M111.2 358.7h0M70.3 394.8h0M87.5 360.7h0M104.2 368.6h0M81.8 387.7h0M80.4 388.7h0M88.0 382.8h0M109.4 363.8h0M90.4 380.7h0M102.2 356.6h0M101.3 356.4h0M101.3 356.4h0M71.6 394.0h0M90.3 380.8h0M77.5 390.6h0M102.8 369.7h0M103.9 358.1h0M45.7 385.3h0M107.1 358.5h0M62.7 399.1h0M104.0 358.2h0M111.0 361.0h0M110.6 361.7h0M98.5 357.0h0M85.7 361.6h0M52.6 379.0h0M106.5 358.6h0M98.4 357.1h0M99.5 356.8h0M62.9 372.5h0M107.8 358.7h0M68.0 369.8h0M102.3 357.3h0M50.5 380.7h0M106.6 358.8h0M103.1 358.3h0M74.2 366.6h0M90.7 380.2h0M105.1 367.4h0M108.7 363.9h0M107.7 365.0h0M109.8 359.3h0M102.9 369.2h0M73.2 367.2h0M73.9 392.5h0M81.5 387.6h0M76.0 391.3h0M94.6 376.6h0M95.6 375.7h0M91.2 379.6h0M109.9 361.8h0M62.2 373.1h0M61.1 373.7h0M91.6 379.2h0M78.8 389.5h0M43.7 388.3h0M102.7 358.8h0M61.7 373.5h0M79.7 364.3h0M103.6 359.2h0M101.1 370.6h0M107.7 364.5h0M101.1 357.6h0M52.5 379.4h0M92.4 378.4h0M108.6 363.5h0M99.1 357.4h0M109.0 362.8h0M90.6 380.0h0M94.2 359.0h0M91.0 360.1h0M103.2 359.4h0M71.5 368.2h0M108.8 359.9h0M65.3 397.4h0M91.8 378.9h0M100.4 371.1h0M100.5 357.6h0M97.5 373.7h0M74.1 366.9h0M47.2 384.1h0M107.9 359.9h0M54.3 378.2h0M63.4 372.8h0M100.7 358.0h0M103.8 359.7h0M109.0 360.6h0M86.6 361.7h0M108.4 360.2h0M94.4 359.1h0M70.8 368.7h0M64.8 397.6h0"/>
<path stroke="#0000ff" d="M108.7 362.3h0M61.4 373.9h0M102.2 369.2h0M103.9 360.0h0M99.3 358.0h0M90.0 360.7h0M96.4 374.3h0M56.7 376.7h0M78.3 365.1h0M75.6 366.4h0M108.2 362.9h0M108.2 362.7h0M108.2 362.7h0M96.7 374.0h0M87.3 361.6h0M86.7 382.9h0M64.2 372.5h0M76.1 366.2h0M104.2 360.2h0M98.2 372.6h0M50.4 405.0h0M93.5 376.8h0M106.4 360.4h0M100.1 358.9h0M107.5 360.8h0M99.2 358.3h0M92.5 377.8h0M106.1 360.4h0M99.0 358.4h0M65.5 371.9h0M101.6 360.4h0M95.2 359.2h0M49.2 405.4h0M74.1 367.3h0M79.1 388.8h0M46.3 385.5h0M97.6 373.0h0M45.1 387.0h0M63.1 373.3h0M99.2 358.6h0M107.0 360.9h0M87.5 382.1h0M107.7 362.7h0M99.0 371.7h0M96.0 359.0h0M99.9 359.4h0M73.0 392.6h0M95.1 375.2h0M85.4 362.4h0M61.4 374.2h0M102.7 360.7h0M49.8 382.0h0M78.8 365.1h0M90.8 379.1h0M105.7 365.3h0M52.6 379.8h0M107.2 363.1h0M97.7 358.8h0M64.9 372.4h0M99.7 370.8h0M101.0 360.9h0M106.1 364.8h0M42.6 390.6h0M104.1 360.9h0M80.2 364.5h0M90.4 379.3h0M89.0 380.6h0M91.7 360.6h0M82.7 363.6h0M103.2 361.1h0M99.9 361.0h0M99.0 359.8h0M90.0 361.1h0M84.6 362.9h0M86.1 383.0h0M68.6 395.1h0M81.0 387.2h0M99.7 361.1h0M93.2 376.6h0M94.6 375.3h0M99.1 360.7h0M106.3 363.9h0M98.9 360.6h0M103.4 361.2h0M59.7 375.4h0M98.8 360.4h0M63.1 398.3h0M94.6 359.9h0M73.6 392.1h0M87.1 362.1h0M86.1 382.9h0M95.0 374.8h0M72.8 368.2h0M50.7 381.4h0M81.1 364.3h0M40.0 407.6h0M46.1 386.0h0M84.6 384.2h0M86.8 382.3h0M99.4 361.6h0M96.5 359.6h0M78.4 389.0h0M66.1 396.5h0M98.3 361.2h0M48.3 405.6h0M82.5 385.8h0M98.5 361.6h0M104.3 365.9h0M101.7 361.8h0M45.1 387.4h0M91.0 378.3h0M92.2 360.8h0M105.8 363.2h0M97.2 360.0h0M50.2 404.8h0M104.6 365.3h0M98.5 362.0h0M99.9 362.1h0M84.4 384.2h0M67.1 395.9h0M102.8 361.9h0M72.0 368.8h0M95.8 360.0h0M80.9 387.0h0M42.5 407.2h0M73.6 392.0h0M99.6 362.3h0M96.7 373.0h0M43.7 406.9h0M101.2 368.8h0M97.6 362.0h0M95.1 374.3h0M96.2 360.2h0M105.2 363.8h0M89.5 379.5h0M100.6 362.4h0M97.0 361.1h0M102.7 362.2h0M78.2 365.8h0M100.3 369.5h0M96.8 360.8h0M91.1 377.9h0M104.2 362.5h0M53.8 403.2h0M96.4 360.6h0M56.6 377.6h0M103.4 362.4h0M104.8 364.3h0M75.9 366.9h0M94.1 360.7h0M76.6 389.9h0M96.4 372.9h0M82.9 363.9h0M41.8 392.2h0M97.6 362.9h0M40.0 407.4h0M74.3 367.8h0M55.5 378.4h0M104.1 365.1h0M92.0 361.3h0M103.6 362.8h0M76.7 389.8h0M57.6 377.0h0M92.4 361.2h0M86.8 381.8h0M76.6 389.9h0M101.8 367.7h0M102.2 362.8h0M104.0 363.4h0M101.1 362.9h0M79.3 387.9h0M89.4 362.0h0M95.2 361.2h0M85.5 382.8h0M91.4 377.3h0M103.7 363.4h0M103.7 363.5h0M71.7 369.3h0M90.1 361.9h0M96.7 363.5h0M98.7 370.6h0M102.7 363.2h0M87.9 380.6h0M85.6 363.1h0M85.0 363.4h0M102.9 366.0h0M103.2 365.5h0M94.8 361.6h0M94.9 373.9h0M71.9 369.2h0M90.1 362.1h0M80.9 386.6h0M103.2 365.4h0M55.9 402.0h0M71.4 369.5h0M83.2 364.1h0M93.4 361.6h0M61.9 398.7h0M99.5 369.5h0M79.4 387.7h0M54.7 379.1h0M94.9 363.0h0M44.9 388.3h0M41.7 407.1h0M56.4 378.0h0M102.6 365.9h0"/>
<path stroke="#000cff" d="M93.3 361.8h0M63.4 374.1h0M38.6 407.1h0M94.8 363.6h0M49.8 404.7h0M86.3 363.1h0M89.9 362.3h0M78.7 388.1h0M98.6 364.1h0M102.4 364.2h0M92.6 375.7h0M43.8 389.9h0M100.4 363.8h0M100.2 368.5h0M41.4 393.0h0M85.8 363.4h0M89.1 378.9h0M96.7 371.8h0M70.7 370.1h0M91.6 376.6h0M51.8 381.3h0M92.3 362.2h0M95.0 364.5h0M98.9 369.7h0M85.5 363.5h0M81.5 385.8h0M93.3 362.6h0M84.5 383.2h0M44.0 389.7h0M101.5 366.6h0M97.2 364.7h0M48.5 384.3h0M99.9 364.4h0M53.0 403.3h0M73.1 391.7h0M50.9 382.2h0M70.1 370.5h0M101.2 366.5h0M100.5 364.6h0M96.7 371.5h0M96.3 371.9h0M87.5 363.3h0M84.2 383.2h0M77.1 389.0h0M101.0 366.2h0M74.0 391.1h0M97.6 370.5h0M60.4 376.1h0M65.7 373.1h0M83.9 364.3h0M93.3 365.1h0M90.2 363.0h0M87.8 379.7h0M54.5 379.7h0M92.1 363.3h0M87.6 379.9h0M100.8 365.6h0M99.0 365.1h0M96.2 365.5h0M99.9 365.2h0M86.9 380.5h0M100.1 367.4h0M74.8 368.2h0M100.1 367.5h0M76.8 367.2h0M94.9 372.9h0M96.0 365.7h0M51.0 382.2h0M94.6 365.8h0M92.5 364.7h0M100.4 366.4h0M88.3 363.4h0M92.6 365.1h0M99.7 367.7h0M58.1 400.6h0M80.3 365.7h0M86.9 363.7h0M88.0 379.3h0M75.1 390.2h0M55.5 379.1h0M66.9 372.6h0M90.6 363.6h0M99.6 367.5h0M96.6 365.9h0M91.7 364.6h0M91.6 364.4h0M90.3 363.7h0M96.2 366.1h0M58.0 377.7h0M93.4 366.3h0M60.5 376.3h0M47.1 405.5h0M97.8 369.7h0M93.3 374.0h0M79.8 386.6h0M47.7 405.2h0M94.3 373.1h0M92.6 374.7h0M46.8 405.6h0M71.8 370.0h0M52.9 381.0h0M58.7 400.2h0M98.1 366.1h0M60.4 399.2h0M58.4 377.5h0M85.1 381.9h0M96.6 370.7h0M77.3 388.4h0M98.9 367.3h0M92.1 366.3h0M95.6 366.5h0M94.9 372.3h0M73.4 369.2h0M78.0 366.9h0M76.2 389.2h0M90.8 364.7h0M78.0 387.9h0M98.6 366.9h0M82.2 384.4h0M95.0 366.8h0M96.2 366.6h0M85.9 380.8h0M91.2 365.7h0M97.6 366.7h0M98.3 367.1h0M83.2 365.1h0M50.2 383.3h0M57.1 378.4h0M87.8 378.9h0M95.6 371.3h0M97.1 369.6h0M69.7 371.4h0M46.9 386.8h0M92.6 374.2h0M94.7 367.1h0M93.3 367.2h0M53.0 381.1h0M97.8 368.4h0M56.6 378.8h0M72.0 391.9h0M85.8 364.6h0M66.8 395.2h0M48.6 385.0h0M93.0 367.3h0"/>
<path stroke="#0024ff" d="M91.8 374.8h0M66.9 373.1h0M95.2 371.5h0M49.5 384.2h0M89.4 377.1h0M97.2 367.5h0M95.9 370.7h0M71.3 370.6h0M96.6 367.4h0M70.0 393.2h0M80.2 366.3h0M95.6 367.4h0M89.4 365.1h0M96.9 369.0h0M80.7 366.2h0M87.5 364.8h0M59.0 399.8h0M88.0 364.8h0M83.6 365.3h0M78.7 387.0h0M53.3 381.1h0M48.8 385.0h0M46.2 405.5h0M91.2 367.4h0M89.8 365.8h0M96.1 369.9h0M95.4 367.7h0M82.1 365.8h0M84.1 365.3h0M83.2 383.0h0M50.0 383.8h0M80.7 385.3h0M93.8 367.8h0M67.9 372.6h0M96.0 370.0h0M67.1 394.9h0M48.9 384.9h0M95.5 367.9h0M96.5 368.5h0M88.2 365.1h0M86.6 365.0h0M85.8 365.1h0M90.9 367.5h0M88.9 365.5h0M95.0 371.1h0M80.8 366.3h0M41.5 406.4h0M80.3 366.5h0M76.1 368.3h0M90.2 367.2h0M95.6 368.2h0M47.4 405.1h0M92.5 373.6h0M93.8 372.3h0M70.8 371.1h0M52.6 381.8h0M93.0 368.2h0M70.9 392.4h0M68.6 372.4h0M79.1 386.4h0M41.7 406.4h0M65.4 395.9h0M70.9 371.1h0M84.3 381.7h0M45.3 405.7h0M63.1 375.5h0M80.6 366.6h0M91.4 368.3h0M83.7 365.7h0M44.7 405.8h0M90.4 367.9h0M92.1 373.8h0M65.8 374.0h0M89.5 367.2h0M91.6 368.4h0M93.3 368.6h0M78.4 367.5h0M58.7 399.8h0M51.1 383.1h0M94.5 370.9h0M48.2 386.0h0M79.3 367.2h0M93.1 372.4h0M50.7 383.5h0M94.5 369.1h0M94.7 370.1h0M81.6 366.5h0M88.6 377.1h0M62.7 397.5h0M92.1 373.4h0M78.4 367.7h0M62.0 376.2h0M88.9 367.4h0M90.4 375.2h0M88.9 367.5h0M66.7 395.0h0M72.4 370.6h0M93.7 369.4h0M63.7 375.4h0M80.8 384.7h0M86.9 366.2h0M78.4 367.8h0M39.3 397.5h0M83.2 366.3h0M53.3 381.6h0M91.6 373.7h0M65.5 374.5h0M81.5 383.9h0M72.7 370.5h0M89.4 368.5h0M91.9 373.3h0M83.8 366.3h0M55.6 380.1h0M92.9 369.5h0M75.5 369.1h0M40.3 395.9h0M63.6 375.5h0M93.1 369.7h0M91.7 373.4h0M75.6 388.8h0M93.5 370.6h0M86.9 378.5h0M67.0 373.7h0M87.3 366.8h0M75.4 369.3h0M93.2 370.1h0M89.0 368.6h0M74.3 369.8h0M85.6 366.4h0M93.0 370.1h0M91.9 373.0h0M81.9 383.4h0"/>
<path stroke="#0040ff" d="M77.2 368.5h0M63.3 375.8h0M54.2 381.2h0M44.1 405.7h0M73.9 370.1h0M59.5 377.9h0M92.3 370.2h0M89.1 369.1h0M91.3 369.9h0M86.7 367.1h0M52.1 382.8h0M88.2 368.4h0M40.7 406.0h0M92.6 371.3h0M59.0 378.3h0M86.1 367.0h0M91.7 370.3h0M92.3 371.8h0M52.4 382.6h0M63.5 375.8h0M75.8 388.5h0M91.5 373.0h0M92.3 371.0h0M91.2 370.2h0M71.5 391.5h0M77.8 368.5h0M46.6 388.3h0M45.9 389.1h0M83.0 382.0h0M51.7 383.2h0M66.2 374.4h0M82.7 382.3h0M88.8 376.1h0M65.7 374.7h0M55.3 380.6h0M86.7 367.7h0M76.1 388.1h0M53.5 381.9h0M91.4 370.6h0M53.4 402.3h0M68.9 393.2h0M83.1 367.2h0M86.0 367.4h0M73.9 370.4h0M70.2 392.3h0M89.8 370.3h0M61.4 397.9h0M45.9 389.2h0M85.8 379.1h0M47.3 387.6h0M76.6 369.2h0M45.7 405.2h0M79.2 368.2h0M58.5 378.8h0M38.5 399.4h0M76.7 387.5h0M57.3 400.2h0M64.8 395.8h0M58.5 378.8h0M79.4 368.3h0M54.2 381.6h0M73.5 390.0h0M90.9 372.9h0M89.0 370.4h0M87.6 369.3h0M85.6 367.8h0M56.0 400.9h0M86.9 368.6h0M60.1 398.6h0M44.5 405.4h0M90.4 371.1h0M89.8 370.9h0M84.9 367.7h0M85.0 367.7h0M74.6 370.3h0M75.9 369.7h0M86.6 368.6h0M89.1 375.2h0M87.2 377.3h0M84.6 367.7h0M90.9 372.2h0M71.4 371.9h0M78.4 368.7h0M87.4 377.1h0M78.6 368.7h0M49.2 385.8h0M69.2 392.8h0M87.2 369.3h0M86.2 378.3h0M75.0 370.2h0M90.2 373.5h0M83.8 367.8h0M43.3 392.5h0M85.4 368.2h0M56.4 380.2h0M87.4 369.7h0M70.3 372.6h0M52.4 383.0h0M47.5 404.5h0M81.9 368.0h0M54.5 381.5h0M54.5 401.6h0M84.1 367.9h0M75.2 370.2h0M50.8 384.5h0M82.4 368.0h0M87.1 377.2h0M56.3 400.7h0M57.6 399.9h0M71.5 372.0h0M82.6 368.0h0M78.0 369.1h0M65.9 375.0h0M90.0 373.2h0M90.0 372.0h0M58.5 379.0h0M74.4 370.6h0M80.4 368.4h0M72.8 371.4h0M51.7 383.7h0M85.0 368.5h0M71.4 391.2h0M56.7 380.2h0M88.0 375.9h0"/>
<path stroke="#0058ff" d="M63.0 376.6h0M64.6 375.8h0M78.3 385.7h0M58.0 379.4h0M85.1 368.8h0M62.7 396.8h0M44.9 405.1h0M89.3 372.3h0M42.3 394.0h0M49.6 385.8h0M74.5 370.8h0M79.0 369.1h0M43.7 392.3h0M70.4 391.8h0M88.4 371.7h0M74.4 370.9h0M51.7 383.9h0M71.1 372.5h0M77.1 369.8h0M84.5 379.6h0M80.8 368.7h0M84.4 379.7h0M87.4 376.3h0M80.6 368.8h0M47.1 388.4h0M74.7 370.8h0M84.5 368.9h0M88.9 374.1h0M50.9 384.7h0M61.5 377.6h0M82.3 368.7h0M78.7 369.4h0M81.8 368.8h0M88.0 375.3h0M61.9 377.4h0M69.1 373.6h0M73.1 389.8h0M65.8 375.4h0M52.0 383.8h0M80.4 369.0h0M68.5 393.0h0M71.5 372.5h0M63.3 376.7h0M63.0 376.8h0M46.1 389.6h0M88.8 373.1h0M48.4 387.2h0M84.5 369.2h0M81.1 369.0h0M82.8 381.2h0M72.9 389.9h0M88.4 374.3h0M84.3 369.1h0M63.0 396.6h0M88.2 372.4h0M88.6 373.4h0M53.3 382.8h0M74.0 371.4h0M85.5 378.2h0M60.8 397.9h0M88.5 373.4h0M69.8 392.0h0M49.0 403.7h0M49.5 403.5h0M81.5 369.1h0M86.2 370.8h0M78.2 369.8h0M79.8 369.4h0M64.2 395.7h0M83.4 369.2h0M70.6 373.1h0M46.6 404.5h0M50.4 385.3h0M72.5 390.1h0M88.0 372.7h0M87.6 372.3h0M79.2 384.6h0M72.8 389.9h0M85.1 370.0h0M64.0 376.5h0M73.8 371.6h0M85.2 378.4h0M60.2 378.5h0M87.7 372.6h0M86.5 371.5h0M76.0 370.7h0M53.2 401.9h0M50.7 403.0h0M64.2 376.4h0M83.3 380.4h0M78.5 370.0h0M84.8 370.1h0M71.2 372.9h0M49.8 386.0h0M85.2 370.5h0M38.3 403.6h0M81.7 369.4h0M81.3 382.4h0M84.7 370.1h0M66.7 394.0h0M78.3 370.1h0M43.5 405.2h0M44.9 404.9h0M80.0 369.7h0M71.2 373.0h0M75.1 371.3h0M84.3 370.0h0M86.7 372.4h0M62.0 377.7h0M87.1 375.5h0M83.4 380.1h0M60.1 398.1h0M51.2 384.8h0M50.1 385.8h0M76.2 387.0h0M85.5 371.2h0M74.9 388.1h0M70.7 391.2h0M74.2 371.7h0M50.1 403.2h0M76.9 370.7h0M54.0 382.6h0M79.6 384.0h0M82.4 381.1h0M60.7 378.5h0M55.6 381.5h0M44.4 391.8h0M87.3 374.3h0M83.3 370.0h0M74.8 371.6h0"/>
<path stroke="#0070ff" d="M80.9 369.9h0M65.1 395.0h0M85.1 371.2h0M40.6 405.1h0M74.6 388.3h0M86.4 372.8h0M54.6 382.3h0M56.4 381.1h0M71.4 390.7h0M83.2 380.1h0M46.2 404.5h0M66.3 375.6h0M77.5 385.7h0M86.9 373.9h0M72.8 389.6h0M71.1 390.9h0M78.4 384.9h0M80.2 370.1h0M55.3 400.7h0M86.7 375.3h0M85.6 372.2h0M82.1 370.0h0M67.1 393.6h0M86.4 373.2h0M62.2 377.8h0M86.9 374.2h0M79.8 383.6h0M44.4 391.9h0M84.9 371.5h0M86.7 374.9h0M53.2 383.4h0M86.5 373.5h0M66.2 375.8h0M85.6 372.5h0M67.7 375.1h0M77.5 371.0h0M54.8 382.3h0M78.2 385.0h0M56.6 400.0h0M86.3 375.6h0M77.7 385.4h0M72.5 389.6h0M62.7 396.4h0M79.6 383.6h0M82.4 380.7h0M71.0 373.6h0M48.1 403.7h0M55.4 400.6h0M85.1 372.7h0M66.5 393.9h0M79.0 370.8h0M51.6 384.9h0M56.7 381.2h0M47.1 389.2h0M70.8 373.8h0M83.0 380.0h0M74.3 372.3h0M79.4 370.7h0M84.2 371.7h0M46.7 404.2h0M84.8 372.4h0M63.3 377.4h0M75.6 371.9h0M81.4 370.6h0M82.8 380.1h0M42.5 404.9h0M71.9 390.0h0M85.7 375.9h0M78.2 384.7h0M83.0 379.8h0M76.5 386.2h0M84.6 372.6h0M78.5 384.4h0M53.2 383.7h0M80.8 370.8h0M78.6 371.1h0M57.6 399.3h0M84.6 377.8h0M44.8 391.8h0M54.8 382.5h0M55.6 400.4h0M50.8 402.6h0M83.4 371.5h0M83.8 371.8h0M63.6 395.7h0M61.3 397.1h0M57.3 380.9h0M76.2 386.4h0M50.7 385.8h0M75.3 387.2h0M85.5 376.1h0M63.9 377.2h0M85.5 374.5h0M83.3 371.6h0M68.7 375.0h0M85.5 374.8h0M78.2 371.3h0M54.0 401.2h0M85.3 376.0h0M53.2 383.8h0M82.2 380.5h0M51.1 402.4h0M68.2 375.2h0M68.8 375.0h0M78.2 384.5h0M59.7 379.6h0M84.3 373.0h0M75.0 387.4h0M84.1 378.0h0M82.8 371.5h0"/>
<path stroke="#008cff" d="M73.1 373.2h0M82.2 380.4h0M85.2 374.9h0M82.6 371.6h0M59.7 398.0h0M84.9 374.4h0M85.1 375.7h0M50.1 386.5h0M45.1 391.6h0M66.6 393.5h0M67.8 375.5h0M69.1 375.0h0M51.7 385.2h0M72.7 373.5h0M45.2 391.5h0M70.3 374.5h0M64.7 394.8h0M66.6 393.6h0M80.6 371.3h0M81.3 381.3h0M84.3 377.4h0M82.7 379.6h0M44.3 392.6h0M65.1 376.9h0M73.1 373.4h0M84.8 375.2h0M78.6 384.0h0M81.9 371.6h0M84.8 375.1h0M76.3 386.1h0M84.4 374.3h0M61.3 378.9h0M82.4 371.9h0M46.2 390.4h0M78.8 371.7h0M52.8 384.3h0M79.0 371.6h0M82.9 372.3h0M79.5 383.0h0M77.5 372.0h0M69.4 375.0h0M68.7 375.3h0M81.5 380.8h0M40.5 397.9h0M80.8 371.7h0M78.5 371.8h0M44.2 404.5h0M78.3 371.9h0M63.5 377.8h0M73.5 373.4h0M82.8 379.2h0M43.2 394.1h0M75.6 386.5h0M83.4 378.3h0M40.9 397.3h0M62.7 378.3h0M50.8 386.1h0M84.0 377.1h0M53.1 384.3h0M45.7 404.1h0M65.0 394.5h0M81.0 371.9h0M69.7 375.0h0M80.6 371.8h0M82.9 378.9h0M83.1 378.5h0M82.3 372.4h0M39.7 399.6h0M81.4 372.1h0M45.7 404.1h0M70.3 390.7h0M82.3 379.7h0M83.6 374.4h0M72.6 373.9h0M42.6 395.0h0M62.7 378.4h0M75.4 373.0h0M44.5 404.3h0M77.2 372.5h0M60.3 379.7h0M82.9 378.5h0M71.7 389.5h0M71.9 389.4h0M40.6 398.1h0M60.7 379.5h0M71.8 389.4h0M76.7 372.7h0M82.8 378.6h0M72.2 389.1h0M81.0 372.3h0M83.0 374.2h0M82.6 373.5h0M69.9 390.9h0"/>
<path stroke="#00a4ff" d="M76.8 372.7h0M76.9 385.1h0M43.8 393.6h0M63.2 378.3h0M82.5 373.5h0M82.3 373.3h0M78.2 372.4h0M62.2 378.8h0M54.5 383.4h0M55.5 400.0h0M78.7 383.3h0M82.1 373.3h0M83.1 375.1h0M82.3 373.5h0M78.8 372.4h0M74.3 387.4h0M51.1 386.1h0M43.7 404.3h0M82.2 379.3h0M49.5 402.7h0M83.3 376.5h0M80.0 372.4h0M79.8 382.1h0M55.2 383.0h0M81.8 379.7h0M80.8 372.6h0M63.8 395.1h0M58.7 380.8h0M83.0 377.7h0M72.6 374.3h0M82.0 373.4h0M75.6 386.2h0M51.8 385.6h0M51.5 385.9h0M39.6 402.7h0M54.3 400.6h0M42.0 396.0h0M82.9 377.8h0M43.8 393.7h0M50.3 402.4h0M45.6 391.6h0M52.4 401.5h0M56.1 399.6h0M53.0 401.2h0M77.2 384.7h0M47.2 403.5h0M65.9 377.1h0M80.3 372.7h0M70.9 390.0h0M81.4 373.2h0M49.2 387.9h0M76.2 373.2h0M73.0 374.2h0M82.0 379.1h0M46.1 391.1h0M52.5 385.1h0M44.3 404.1h0M63.9 378.2h0M82.9 376.2h0M66.9 392.9h0M73.7 387.6h0M63.1 378.5h0M69.8 390.8h0M82.3 374.8h0M80.2 381.4h0M56.1 382.6h0M73.2 388.1h0M78.6 372.8h0M52.0 385.6h0M68.7 391.6h0M74.6 373.7h0M76.3 385.3h0M57.2 381.9h0M81.6 373.8h0M82.6 377.2h0M73.7 374.1h0M75.6 373.5h0M47.1 390.1h0M81.9 374.5h0M67.9 392.1h0M47.9 403.2h0M81.6 374.1h0M44.1 393.5h0M81.7 379.2h0M78.3 383.3h0M49.2 402.7h0M64.9 377.8h0M59.0 397.9h0M64.1 394.7h0M56.8 399.2h0M64.6 378.0h0M53.5 400.8h0M68.1 376.4h0M60.8 379.9h0M71.5 375.1h0M47.9 389.4h0M53.7 384.5h0M80.2 373.4h0M57.8 381.7h0M82.1 377.9h0M81.8 378.5h0M70.9 375.3h0M60.7 396.9h0M57.1 382.2h0M57.2 398.9h0"/>
<path stroke="#00c0ff" d="M64.8 394.1h0M60.9 379.9h0M60.7 396.8h0M43.9 404.0h0M65.7 377.6h0M67.9 391.9h0M46.5 403.5h0M60.5 380.2h0M53.8 400.6h0M80.1 381.0h0M46.6 390.8h0M58.4 398.2h0M73.8 374.4h0M77.0 384.3h0M81.7 378.3h0M81.8 377.3h0M63.2 378.9h0M44.8 392.9h0M81.8 377.1h0M63.8 378.6h0M62.1 395.9h0M81.4 378.6h0M80.9 379.7h0M65.9 377.6h0M81.1 375.0h0M81.5 376.3h0M74.8 374.2h0M46.2 391.3h0M73.5 374.6h0M42.3 396.2h0M65.4 377.9h0M79.5 381.4h0M81.3 376.2h0M74.0 374.5h0M61.9 379.6h0M71.8 375.3h0M53.9 400.5h0M58.0 381.8h0M78.3 382.7h0M81.0 375.4h0M78.1 373.7h0M64.2 378.5h0M81.0 375.6h0M45.7 403.5h0M77.5 373.8h0M46.9 403.2h0M41.8 397.0h0M75.7 385.3h0M40.9 403.2h0M81.0 376.2h0M80.1 380.4h0M49.7 402.3h0M60.7 380.3h0M56.3 383.0h0M75.9 385.1h0M81.0 378.4h0M77.9 373.9h0M75.2 385.7h0M51.3 386.6h0M80.2 380.1h0M70.4 375.9h0M42.7 403.8h0M76.9 374.0h0M78.7 382.0h0M79.0 381.7h0M75.0 374.4h0M80.9 377.0h0M80.9 377.6h0M53.2 385.2h0M55.4 383.7h0M47.3 403.0h0M72.7 375.2h0M73.6 374.9h0M76.8 384.1h0M49.9 388.0h0M64.2 378.7h0M79.5 374.5h0"/>
<path stroke="#00d8ff" d="M50.4 387.6h0M79.0 374.3h0M80.6 378.8h0M67.0 377.4h0M45.6 403.4h0M79.9 375.2h0M40.3 402.0h0M68.1 377.0h0M79.6 374.8h0M78.8 381.7h0M80.6 377.1h0M80.6 377.5h0M52.4 386.0h0M74.1 386.5h0M78.8 374.4h0M80.4 379.0h0M57.7 382.3h0M64.8 378.5h0M77.7 383.0h0M80.5 378.1h0M61.3 396.1h0M57.6 398.3h0M62.2 379.8h0M62.9 379.5h0M61.8 395.8h0M79.6 375.2h0M79.8 375.6h0M58.1 382.1h0M77.4 383.2h0M80.2 379.1h0M40.5 400.3h0M65.9 378.1h0M78.3 374.5h0M72.8 387.6h0M46.4 391.5h0M49.4 388.5h0M65.1 393.5h0M44.6 403.5h0M77.0 383.5h0M45.8 392.2h0M58.2 397.9h0M40.7 399.8h0M71.4 375.9h0M74.3 375.0h0M77.9 382.5h0M59.4 381.4h0M68.0 377.3h0M79.3 375.2h0M53.2 385.5h0M55.9 383.5h0M45.0 393.1h0M52.1 401.0h0M64.5 378.8h0M50.9 401.5h0M77.6 374.6h0M41.0 399.0h0M57.2 382.7h0M78.9 375.1h0M58.6 381.9h0M79.7 379.5h0M69.5 390.2h0M72.9 375.5h0M55.9 399.1h0M67.3 391.8h0M77.3 374.7h0M53.4 385.4h0M56.5 398.8h0M53.9 385.0h0M61.7 380.3h0M44.0 403.4h0M55.6 399.3h0M77.7 374.8h0M43.0 403.4h0M79.7 377.4h0M68.3 377.3h0M79.8 378.7h0M47.0 391.0h0M57.0 398.5h0M50.6 387.6h0M78.3 375.0h0M79.6 377.1h0M79.6 377.2h0M74.3 375.2h0M79.0 375.7h0M70.7 389.1h0M79.6 378.9h0M79.3 376.3h0M49.0 389.2h0M72.7 375.7h0M77.0 383.2h0M72.6 387.5h0M79.6 378.2h0M70.7 376.4h0M79.2 380.0h0"/>
<path stroke="#09f0ee" d="M79.3 376.8h0M59.3 397.1h0M52.7 400.7h0M55.7 399.2h0M58.3 382.2h0M73.2 375.6h0M78.9 375.9h0M62.6 395.0h0M50.6 387.7h0M50.2 401.7h0M40.7 400.5h0M46.6 402.9h0M74.2 386.0h0M52.4 386.3h0M74.8 385.4h0M40.9 399.7h0M56.1 398.9h0M53.5 385.5h0M65.7 378.5h0M72.4 387.6h0M68.6 390.7h0M65.0 378.8h0M55.9 383.8h0M73.8 386.3h0M41.1 402.4h0M77.1 382.9h0M78.3 375.6h0M40.9 400.1h0M48.0 390.2h0M57.9 382.6h0M65.3 378.7h0M43.4 403.3h0M70.2 376.7h0M64.9 378.9h0M60.0 381.4h0M52.3 400.8h0M51.6 387.0h0M48.2 390.0h0M49.7 388.6h0M78.0 375.5h0M69.2 390.2h0M74.9 385.2h0M78.1 381.4h0M79.1 377.8h0M78.9 380.0h0M47.6 402.6h0M60.0 396.6h0M41.9 402.9h0M61.3 395.8h0M79.0 377.8h0M75.0 375.4h0M60.7 381.1h0M78.9 379.7h0M77.2 382.5h0M54.8 399.5h0M47.1 391.2h0M51.1 387.5h0M77.4 382.2h0M78.4 380.7h0M67.3 391.5h0M78.3 376.3h0M54.8 384.7h0M45.4 393.0h0M78.7 377.4h0M47.7 390.6h0M78.5 376.8h0M41.4 402.3h0M72.1 387.6h0M73.1 386.7h0M77.5 381.9h0M78.7 378.8h0M45.6 392.9h0M53.9 399.9h0M78.7 379.0h0M78.4 377.0h0M78.4 377.2h0M78.3 377.0h0M74.6 375.7h0M54.4 385.1h0M68.7 390.4h0M52.7 400.5h0M48.5 402.2h0M58.5 397.4h0M75.0 375.7h0M78.5 379.3h0M43.1 403.0h0M77.6 376.1h0M67.4 378.1h0M42.1 397.6h0M43.2 396.0h0M64.6 379.3h0M67.4 391.3h0M41.9 398.2h0"/>
<path stroke="#1fffd7" d="M77.3 382.0h0M48.9 389.6h0M44.5 394.3h0M77.6 376.4h0M70.9 376.8h0M43.2 403.0h0M61.2 381.0h0M61.5 395.4h0M78.2 377.6h0M54.6 399.5h0M78.2 379.9h0M62.9 394.5h0M76.6 382.8h0M58.2 397.5h0M51.0 401.1h0M61.1 395.7h0M41.2 401.3h0M51.4 387.5h0M64.5 379.5h0M74.0 376.0h0M75.8 375.9h0M54.9 384.9h0M77.2 376.3h0M70.6 377.0h0M76.9 382.2h0M48.4 390.2h0M76.2 376.0h0M51.5 387.5h0M51.4 387.5h0M50.8 388.1h0M70.6 388.6h0M78.1 379.5h0M65.1 392.9h0M42.3 397.6h0M42.8 396.8h0M45.2 393.6h0M41.9 402.4h0M75.2 376.0h0M54.1 385.5h0M76.7 382.4h0M72.4 376.5h0M71.6 376.8h0M77.9 378.6h0M60.4 381.6h0M76.7 376.3h0M45.5 393.3h0M53.0 400.2h0M75.6 376.1h0M55.9 384.3h0M61.4 381.1h0M73.0 376.4h0M77.7 380.1h0M44.8 394.1h0M76.8 376.5h0M77.7 378.4h0M55.0 384.9h0M77.3 377.2h0M41.8 402.2h0M74.2 385.1h0M74.3 385.0h0M77.7 379.1h0M45.3 393.5h0M77.1 377.0h0M76.7 382.1h0M75.8 376.3h0M77.7 379.2h0M57.9 397.5h0M49.3 389.5h0M77.3 377.5h0M69.1 389.7h0M73.9 376.4h0M71.0 388.1h0M61.1 395.5h0M74.6 376.3h0M42.8 397.0h0M67.0 378.6h0M74.6 376.3h0M76.3 376.6h0M53.8 385.9h0M45.7 402.6h0M59.0 396.8h0M76.7 381.8h0M73.9 376.5h0M57.8 397.5h0M73.5 385.7h0M58.3 397.3h0M48.7 401.8h0M66.2 379.0h0M76.1 376.6h0M65.3 392.6h0"/>
<path stroke="#33ffc4" d="M75.8 383.1h0M53.0 386.5h0M70.8 388.2h0M61.7 381.1h0M71.0 388.0h0M43.8 395.5h0M63.3 394.0h0M77.2 378.9h0M48.1 390.7h0M54.8 385.3h0M74.8 376.5h0M56.4 384.2h0M56.8 384.0h0M50.7 401.0h0M64.5 393.1h0M60.3 395.9h0M75.4 383.5h0M49.6 389.3h0M47.8 391.0h0M48.8 390.1h0M55.8 384.6h0M59.3 396.5h0M71.2 387.7h0M42.0 398.8h0M76.1 382.4h0M48.4 390.4h0M60.1 382.0h0M76.5 381.5h0M57.7 397.5h0M75.4 376.7h0M74.9 376.7h0M46.2 402.4h0M67.4 390.8h0M41.7 400.0h0M75.7 382.9h0M49.4 389.6h0M76.9 379.3h0M76.4 381.8h0M75.9 382.5h0M60.4 382.0h0M72.8 386.1h0M42.9 397.1h0M70.5 377.6h0M73.6 385.3h0M48.0 391.0h0M61.0 381.7h0M67.7 378.6h0M46.3 402.4h0M55.1 385.2h0M56.3 384.4h0M58.9 396.7h0M44.9 402.5h0M49.5 389.6h0M68.3 378.4h0M73.5 376.9h0M49.6 389.5h0M43.6 402.5h0M67.6 390.6h0M60.1 382.2h0M54.9 398.9h0M64.1 380.2h0M43.5 396.2h0M71.8 377.3h0M61.5 381.5h0M76.1 377.8h0M50.8 388.5h0M73.4 377.0h0M44.0 402.5h0M73.4 377.0h0M75.1 377.2h0M49.6 389.6h0M71.0 387.7h0M72.7 377.2h0M67.7 378.7h0M66.6 379.2h0M62.1 381.2h0M73.5 385.2h0M72.1 377.3h0M49.2 389.9h0M76.2 381.0h0M75.7 382.1h0"/>
<path stroke="#49ffad" d="M75.8 377.9h0M42.4 401.8h0M68.5 389.8h0M76.1 381.1h0M75.8 378.0h0M46.6 392.6h0M74.7 383.6h0M66.5 391.3h0M76.2 379.6h0M42.7 397.7h0M72.7 377.3h0M61.6 394.9h0M73.4 385.2h0M76.0 380.9h0M61.8 394.7h0M50.3 401.0h0M66.9 379.1h0M74.0 377.3h0M63.4 393.6h0M76.1 379.7h0M50.0 401.1h0M71.7 386.9h0M55.6 398.4h0M55.8 384.9h0M75.5 378.1h0M71.9 377.5h0M45.9 393.5h0M53.9 386.3h0M69.6 388.7h0M68.1 390.0h0M68.4 389.7h0M65.2 392.2h0M75.2 382.5h0M62.8 381.0h0M42.4 398.8h0M61.7 381.6h0M75.3 382.2h0M70.5 378.0h0M73.1 385.2h0M65.5 391.9h0M57.4 384.1h0M70.6 378.0h0M72.1 386.3h0M46.5 402.1h0M66.3 391.3h0M64.2 380.4h0M64.2 392.9h0M44.5 402.2h0M69.6 378.3h0M52.8 387.2h0M43.4 396.9h0M49.2 390.2h0M51.5 388.2h0M73.8 384.3h0M62.3 381.4h0M69.7 378.3h0M54.9 385.7h0M64.2 380.5h0M62.2 381.4h0M48.2 401.6h0M64.9 380.2h0M62.5 381.3h0M50.4 400.8h0M53.2 386.9h0M47.6 401.7h0M72.8 377.7h0M75.4 381.2h0M45.8 393.7h0M74.1 377.8h0M49.0 390.4h0M67.9 389.9h0M51.0 388.7h0M67.0 390.7h0M74.3 377.9h0M68.6 389.4h0M65.6 391.8h0M42.7 398.3h0M66.0 391.4h0M65.1 392.2h0M70.3 378.2h0M55.2 385.5h0M67.3 390.4h0M74.5 378.1h0M51.0 388.7h0M62.5 381.3h0"/>
<path stroke="#5dff9a" d="M55.8 398.2h0M42.3 400.4h0M71.8 386.4h0M47.9 391.5h0M54.5 398.9h0M74.4 383.0h0M72.5 385.6h0M74.0 378.0h0M43.2 401.8h0M75.2 380.4h0M75.1 379.4h0M73.4 384.5h0M65.0 380.2h0M59.1 383.2h0M56.4 384.8h0M47.4 401.7h0M44.0 402.0h0M74.4 382.9h0M75.0 380.9h0M73.3 384.5h0M48.6 390.8h0M70.0 388.0h0M68.5 378.9h0M61.8 394.4h0M74.5 378.6h0M74.9 379.7h0M69.9 378.5h0M57.6 397.1h0M44.2 402.0h0M73.2 384.6h0M52.2 399.9h0M70.2 387.7h0M61.4 382.0h0M72.9 384.9h0M45.6 394.2h0M71.8 386.1h0M53.6 386.8h0M68.4 389.3h0M65.4 391.7h0M47.6 392.0h0M42.5 400.5h0M43.5 401.7h0M71.9 378.2h0M72.0 378.2h0M65.6 380.1h0M51.9 388.2h0M54.2 386.4h0M74.6 381.0h0M70.6 378.5h0M59.6 395.7h0M56.4 397.7h0M62.8 381.4h0M56.7 384.8h0M43.3 397.5h0M74.5 381.1h0M44.9 395.1h0M43.1 401.4h0M73.9 378.7h0M72.0 378.3h0M56.7 397.5h0M74.4 379.6h0M74.1 379.1h0M65.0 391.9h0M58.5 383.8h0M74.4 380.1h0M72.4 385.2h0M49.7 390.1h0M72.9 378.4h0M45.5 401.8h0"/>
<path stroke="#70ff87" d="M42.9 401.0h0M70.8 386.9h0M63.8 381.1h0M64.1 380.9h0M73.6 378.8h0M74.1 382.1h0M73.8 379.0h0M47.5 392.2h0M60.1 395.3h0M73.1 378.6h0M74.2 381.7h0M69.8 387.8h0M69.1 388.5h0M65.5 380.4h0M74.0 379.6h0M63.8 381.1h0M45.3 394.7h0M73.6 383.1h0M52.3 399.7h0M74.1 380.2h0M74.1 381.7h0M43.5 401.4h0M57.6 384.4h0M72.8 384.4h0M74.1 381.1h0M57.3 384.6h0M54.0 398.8h0M73.0 378.8h0M54.6 398.6h0M42.9 400.6h0M44.3 396.1h0M71.1 386.4h0M43.1 400.9h0M73.1 383.9h0M71.0 386.5h0M63.5 381.3h0M70.5 387.0h0M74.0 380.8h0M55.7 398.0h0M70.4 378.8h0M73.6 379.5h0M67.9 379.6h0M56.0 397.7h0M72.6 378.8h0M60.3 383.0h0M73.8 381.7h0M73.7 382.3h0M67.7 379.6h0M43.0 399.1h0M57.1 384.8h0M72.8 384.1h0M72.6 378.9h0M47.0 401.5h0M73.2 379.3h0M73.4 383.0h0M72.9 383.9h0M73.1 383.4h0M73.2 383.2h0M73.7 381.2h0M59.4 383.5h0M72.2 384.9h0M43.1 400.6h0M61.9 382.2h0M72.8 384.0h0M60.7 382.8h0M58.8 396.0h0M73.7 381.2h0M73.6 381.7h0M67.9 389.2h0M65.4 391.4h0M72.6 379.1h0M70.6 386.6h0M57.2 384.8h0M73.2 383.0h0M62.2 382.1h0M43.0 399.6h0M64.7 391.9h0M64.8 391.8h0M63.7 392.6h0M45.5 394.7h0M50.0 390.1h0M70.3 386.9h0M67.8 389.3h0M68.0 389.2h0"/>
<path stroke="#87ff70" d="M53.4 399.0h0M46.7 401.4h0M59.7 395.4h0M58.6 396.1h0M55.1 398.1h0M51.0 389.2h0M64.2 392.2h0M45.2 401.6h0M60.6 394.8h0M70.8 379.1h0M73.4 380.6h0M50.3 400.4h0M71.9 379.1h0M73.3 382.0h0M73.4 381.3h0M71.6 379.1h0M69.7 379.3h0M65.4 391.2h0M57.9 384.5h0M73.1 380.1h0M72.7 383.7h0M47.3 401.3h0M65.4 391.2h0M67.7 379.9h0M73.2 380.4h0M68.7 379.6h0M68.5 379.6h0M67.0 380.1h0M43.5 400.9h0M70.4 386.7h0M62.2 382.2h0M61.5 394.1h0M66.4 390.4h0M45.4 401.5h0M73.1 382.2h0M47.8 392.3h0M48.6 400.9h0M59.9 395.2h0M56.9 397.0h0M63.5 392.6h0M66.2 390.6h0M43.2 400.1h0M67.7 379.9h0M73.0 382.3h0M72.2 384.3h0M59.5 395.4h0M70.1 379.4h0M46.6 401.3h0M45.2 395.3h0M65.3 391.2h0M70.8 379.3h0M55.3 386.2h0M54.2 398.5h0M64.4 391.9h0M68.8 379.7h0M49.8 400.5h0M72.7 382.9h0M66.4 380.4h0M43.7 397.8h0M65.2 380.9h0M47.1 393.1h0M69.5 379.5h0M43.3 399.9h0M70.3 386.6h0M66.4 390.3h0M60.4 383.2h0M72.7 380.4h0M58.0 384.5h0M69.1 387.8h0M43.8 400.9h0M72.5 383.2h0M70.9 385.8h0M67.6 380.1h0M64.6 391.7h0M49.7 400.5h0M49.8 400.4h0M72.8 381.4h0M52.0 388.6h0M59.7 383.6h0M67.7 380.1h0M62.7 393.1h0M71.3 385.3h0M58.7 395.9h0M44.3 396.7h0M52.3 399.4h0M72.1 384.0h0M72.7 380.8h0M63.0 381.9h0M70.3 379.5h0M62.6 382.1h0M72.6 382.7h0M61.0 394.4h0M68.9 379.7h0M71.9 384.2h0M66.5 380.5h0M58.7 395.9h0M43.3 399.7h0M50.5 400.2h0M59.6 383.7h0M62.9 382.0h0M48.6 400.8h0M70.8 385.8h0M54.1 398.5h0M66.1 390.5h0"/>
<path stroke="#9aff5d" d="M49.8 390.5h0M45.6 401.3h0M68.1 388.6h0M47.2 401.1h0M55.3 397.8h0M59.9 383.6h0M70.2 379.6h0M72.3 383.2h0M72.4 380.7h0M50.1 400.2h0M72.5 381.5h0M43.8 397.9h0M67.2 380.3h0M46.4 393.9h0M60.8 383.1h0M43.9 397.7h0M70.9 379.7h0M47.2 401.1h0M51.4 389.2h0M69.3 379.8h0M43.8 397.9h0M72.4 381.4h0M72.3 381.3h0M62.1 382.5h0M61.5 393.8h0M56.5 385.6h0M54.0 387.3h0M44.7 396.3h0M43.6 400.0h0M63.6 392.3h0M56.7 385.5h0M66.1 390.2h0M63.5 392.3h0M44.1 397.4h0M72.2 381.6h0M65.5 390.7h0M67.9 388.7h0M45.8 401.2h0M72.1 381.0h0M49.7 390.7h0M60.2 394.7h0M71.8 383.7h0M54.9 398.0h0M66.1 380.8h0M45.9 394.7h0M70.7 385.6h0M45.2 401.1h0M43.6 399.1h0M53.5 398.6h0M70.6 385.7h0M59.1 395.4h0M69.5 387.0h0M66.5 380.7h0M67.0 389.4h0M47.8 392.6h0M65.3 381.2h0M71.5 380.4h0M60.5 394.5h0M60.3 394.6h0M43.7 398.8h0M53.6 398.6h0M65.2 381.3h0M71.5 380.5h0M71.9 382.5h0M71.9 381.8h0M69.1 380.1h0M53.5 398.6h0M68.0 380.4h0M71.6 383.7h0M71.7 380.9h0M68.1 388.3h0M57.9 396.1h0M71.0 380.3h0M71.5 383.7h0M69.9 380.1h0M59.9 383.8h0M70.2 385.9h0M46.7 401.0h0M60.9 394.1h0M66.0 381.0h0M54.4 387.1h0M66.6 380.8h0M71.4 380.8h0M63.0 382.3h0"/>
<path stroke="#b1ff46" d="M65.8 390.3h0M56.6 396.9h0M71.0 384.6h0M71.3 383.9h0M62.3 382.6h0M52.5 388.5h0M61.7 393.5h0M51.6 399.5h0M62.2 382.7h0M71.0 384.4h0M66.1 381.1h0M45.7 395.2h0M51.5 389.4h0M58.0 384.9h0M51.4 399.5h0M47.8 392.8h0M70.4 380.4h0M48.1 400.7h0M66.6 380.9h0M58.9 395.4h0M66.1 390.0h0M70.5 385.1h0M71.3 381.4h0M70.6 384.9h0M70.6 385.0h0M46.2 400.9h0M45.3 395.8h0M70.7 380.7h0M66.4 381.1h0M45.8 400.9h0M58.0 385.0h0M59.6 394.9h0M60.3 383.7h0M70.5 380.6h0M71.3 382.8h0M53.1 388.2h0M71.2 383.1h0M49.3 391.4h0M57.5 385.3h0M66.7 381.0h0M47.9 392.7h0M52.5 388.7h0M44.6 400.4h0M56.0 386.2h0M46.0 400.8h0M65.9 381.3h0M60.2 394.4h0M44.8 400.5h0M65.7 390.2h0M52.6 398.9h0M44.2 398.1h0M48.3 400.5h0M62.5 382.7h0M44.2 399.9h0M61.6 383.2h0M69.6 386.1h0M69.6 380.7h0M64.5 391.2h0M45.6 395.5h0M56.2 386.2h0M59.9 394.6h0M46.1 400.8h0M59.4 394.9h0M47.3 400.6h0M45.5 400.7h0M56.3 396.9h0M70.2 380.9h0M70.5 384.5h0M45.0 396.5h0M68.6 387.2h0M69.8 380.8h0M44.1 399.3h0M51.1 399.5h0M52.0 399.1h0M53.4 388.2h0"/>
<path stroke="#c4ff33" d="M68.9 386.9h0M57.2 385.6h0M70.8 381.8h0M50.8 399.6h0M69.4 380.8h0M46.6 394.3h0M47.9 392.8h0M53.2 398.5h0M70.8 382.7h0M48.4 392.4h0M66.6 381.3h0M66.0 389.7h0M69.0 386.7h0M50.6 390.3h0M59.6 384.3h0M68.3 387.4h0M46.0 400.7h0M60.5 383.8h0M62.5 392.6h0M68.3 387.4h0M50.6 390.3h0M46.5 394.5h0M52.4 388.9h0M59.3 394.9h0M45.9 400.6h0M55.3 386.9h0M70.4 381.5h0M67.2 381.1h0M58.2 395.6h0M61.3 383.4h0M64.5 391.0h0M51.5 399.2h0M67.6 388.1h0M57.1 396.3h0M47.8 400.4h0M65.8 381.6h0M70.3 384.0h0M46.5 400.6h0M55.0 387.1h0M44.5 399.8h0M64.8 382.0h0M67.8 381.1h0M44.9 397.0h0M45.9 395.3h0M69.0 381.1h0M63.2 382.6h0M44.5 397.9h0M47.0 400.5h0M70.3 382.0h0M70.3 382.0h0M70.1 381.6h0M70.4 383.1h0M51.1 390.0h0M44.4 398.7h0M68.4 381.1h0M69.4 381.2h0M44.4 399.3h0M44.9 397.1h0M64.8 382.0h0M69.6 381.4h0M70.2 382.2h0M56.2 386.4h0M46.8 394.4h0M44.7 399.8h0M51.3 389.9h0M44.4 398.8h0M55.2 397.3h0M70.1 382.2h0M69.2 381.4h0M69.6 385.1h0M64.4 382.2h0M53.2 398.3h0M68.9 386.3h0M69.3 385.6h0M45.4 400.3h0M69.2 385.7h0M69.5 385.2h0M68.9 381.3h0M53.8 388.1h0M69.9 382.0h0M60.2 384.2h0M69.3 385.6h0M45.6 400.3h0M61.8 392.9h0M66.5 388.9h0"/>
<path stroke="#d7ff1f" d="M66.7 388.7h0M67.5 387.8h0M67.6 387.8h0M63.3 382.7h0M63.1 382.8h0M66.0 381.8h0M54.8 397.5h0M69.2 385.6h0M57.3 385.8h0M52.7 388.9h0M53.6 398.1h0M63.3 382.8h0M69.0 385.8h0M69.5 381.8h0M53.3 398.2h0M45.9 395.6h0M64.8 382.2h0M69.5 384.8h0M69.6 384.3h0M68.2 386.9h0M68.3 381.5h0M49.7 391.4h0M50.1 399.6h0M49.7 399.7h0M64.9 390.4h0M68.0 381.5h0M53.7 398.0h0M63.2 391.7h0M45.2 400.0h0M68.7 386.1h0M50.3 390.9h0M56.7 386.2h0M47.7 393.5h0M69.7 383.4h0M54.5 397.6h0M67.7 387.4h0M44.8 399.4h0M68.1 381.6h0M69.6 382.5h0M51.2 390.1h0M67.3 387.8h0M58.0 385.5h0M57.0 386.1h0M69.5 382.5h0M69.6 382.9h0M48.4 400.0h0M68.2 381.7h0M69.6 383.3h0M62.6 392.2h0M68.7 381.8h0M66.4 388.7h0M47.1 400.2h0M68.6 381.8h0M68.5 386.1h0M69.4 382.6h0M57.3 395.9h0M68.2 386.5h0M60.5 384.2h0M63.1 391.7h0M52.2 389.4h0M69.0 385.0h0M52.4 398.6h0M68.7 385.8h0M47.6 393.6h0M69.4 383.2h0M57.6 395.6h0M68.7 385.6h0M52.7 398.4h0M51.0 390.4h0M44.9 397.8h0M45.6 400.0h0M62.1 383.5h0M45.9 395.9h0M49.8 391.5h0M55.7 387.0h0M61.7 392.8h0M66.6 381.9h0M69.0 384.9h0M65.5 382.2h0M60.4 393.8h0M65.9 382.1h0M68.0 386.7h0M66.2 382.1h0M45.0 397.9h0"/>
<path stroke="#eeff09" d="M62.1 392.4h0M47.8 393.5h0M46.8 400.1h0M56.6 386.5h0M69.1 383.5h0M68.7 385.3h0M60.0 384.6h0M67.0 382.0h0M51.3 390.2h0M44.9 398.5h0M58.9 394.7h0M58.7 394.9h0M68.9 382.7h0M61.3 384.0h0M67.3 387.4h0M48.4 393.0h0M53.5 388.6h0M48.4 392.9h0M69.0 383.1h0M51.6 398.8h0M67.3 382.1h0M58.4 395.0h0M46.2 400.0h0M62.6 392.0h0M64.8 390.0h0M56.7 386.5h0M68.2 386.0h0M68.6 382.6h0M65.4 389.5h0M45.4 399.6h0M64.9 389.9h0M66.9 382.1h0M61.2 393.0h0M45.5 396.8h0M63.0 383.3h0M52.8 398.2h0M45.5 399.6h0M68.8 383.7h0M65.3 382.5h0M54.8 387.8h0M59.9 384.7h0M68.8 383.4h0M64.9 389.8h0M48.4 399.8h0M66.7 387.9h0M65.2 389.6h0M51.7 390.0h0M60.2 384.6h0M59.5 384.9h0M61.4 392.8h0M68.3 382.6h0M49.5 399.5h0M45.1 398.8h0M65.5 389.2h0M66.1 382.3h0M45.2 397.8h0M47.2 400.0h0M64.8 389.9h0M45.7 396.6h0M58.7 394.7h0M63.5 391.1h0M45.3 399.1h0M53.3 397.9h0M50.1 391.4h0M62.4 392.0h0M68.6 383.5h0M46.6 395.3h0M63.0 391.5h0M50.1 391.5h0M48.1 399.8h0M68.5 383.3h0M66.7 387.7h0M66.2 388.3h0M48.4 399.7h0M54.2 388.2h0M66.3 388.2h0M56.4 396.2h0M65.8 388.8h0M45.5 397.2h0M45.4 399.1h0M49.0 392.5h0M58.9 385.4h0M68.1 385.4h0M65.3 382.7h0M49.9 391.7h0"/>
<path stroke="#ffea00" d="M51.1 398.9h0M68.2 383.1h0M67.7 386.2h0M66.3 382.5h0M68.4 383.7h0M66.4 382.5h0M53.6 397.7h0M62.7 383.6h0M55.2 396.8h0M61.0 393.0h0M64.0 390.5h0M51.4 390.4h0M66.6 387.7h0M66.6 382.6h0M59.8 384.9h0M68.2 383.3h0M67.7 382.8h0M67.0 382.6h0M45.6 397.1h0M53.6 388.7h0M45.4 398.5h0M66.4 387.9h0M51.7 398.6h0M56.8 395.8h0M66.5 387.8h0M60.1 384.8h0M49.3 399.4h0M50.2 391.5h0M63.7 383.3h0M61.9 392.2h0M68.1 384.5h0M60.9 384.5h0M67.4 382.8h0M67.9 385.3h0M67.2 386.7h0M61.6 384.1h0M63.0 391.3h0M61.8 384.1h0M65.2 389.1h0M65.8 382.8h0M67.8 383.3h0M48.3 399.6h0M64.9 383.0h0M45.6 397.4h0M54.1 397.3h0M65.6 382.9h0M47.4 394.5h0M51.8 398.4h0M49.7 392.0h0M45.5 398.6h0M47.5 394.4h0M46.7 399.6h0M60.1 384.9h0M63.7 390.5h0M65.9 388.2h0M62.1 384.0h0M49.1 392.6h0M48.7 393.0h0M45.5 398.3h0M65.4 388.8h0M60.2 393.4h0M67.7 384.8h0M54.9 396.9h0M66.2 382.9h0M61.9 392.0h0M55.7 387.4h0M45.6 398.2h0M59.8 385.1h0M62.4 383.9h0M45.6 398.3h0M65.9 388.1h0M66.9 383.1h0M59.5 393.9h0M60.4 384.8h0M48.8 393.0h0M59.5 393.9h0M53.5 397.6h0M46.1 399.2h0M60.7 384.7h0M66.0 388.0h0M61.6 392.3h0"/>
<path stroke="#ffd000" d="M51.0 398.7h0M62.3 391.7h0M62.3 391.6h0M48.5 393.3h0M46.2 396.4h0M67.2 383.4h0M46.5 399.4h0M49.2 392.6h0M67.4 385.2h0M47.5 394.4h0M63.6 390.5h0M53.2 389.2h0M52.4 398.1h0M65.9 383.1h0M67.2 383.5h0M52.0 390.1h0M52.5 389.8h0M49.9 399.1h0M57.5 386.4h0M65.5 388.5h0M65.7 388.3h0M53.7 397.4h0M65.2 388.8h0M45.7 398.1h0M62.9 383.9h0M51.2 390.8h0M62.3 384.1h0M63.3 390.7h0M46.8 399.4h0M66.2 383.3h0M47.6 394.4h0M53.7 388.9h0M61.6 384.4h0M65.9 383.3h0M65.4 383.3h0M46.3 399.1h0M64.7 383.4h0M52.3 398.1h0M46.0 398.7h0M58.0 394.8h0M66.8 386.3h0M65.7 383.3h0M48.5 399.3h0M67.2 384.7h0M67.0 383.8h0M55.8 387.6h0M49.2 399.2h0M65.3 383.4h0M66.1 387.4h0M64.5 389.4h0M50.8 391.3h0M67.0 385.4h0M63.8 383.7h0M46.2 396.8h0M50.1 391.8h0M50.8 391.2h0M46.5 399.1h0M50.7 398.7h0M60.7 392.7h0M46.6 399.1h0M66.3 383.6h0M64.0 383.7h0M56.7 395.6h0M57.2 386.8h0M47.7 394.5h0M66.6 386.2h0M46.4 398.9h0M64.4 389.4h0M66.2 383.6h0M63.9 389.9h0M47.2 399.2h0M66.8 385.3h0M66.9 384.6h0M61.3 384.7h0"/>
<path stroke="#ffb900" d="M52.0 398.1h0M55.2 388.0h0M66.5 384.0h0M46.1 398.3h0M66.5 384.1h0M59.5 393.6h0M57.6 386.6h0M66.5 384.0h0M62.5 391.2h0M54.5 388.5h0M64.6 383.7h0M66.7 384.4h0M66.7 385.2h0M64.9 388.6h0M47.2 395.2h0M56.8 395.4h0M65.5 383.7h0M63.2 384.1h0M48.6 399.1h0M52.5 397.8h0M52.3 390.2h0M54.8 396.6h0M66.4 386.2h0M48.3 399.2h0M46.6 398.9h0M48.1 394.1h0M62.4 391.2h0M66.3 386.3h0M46.6 396.3h0M47.0 399.0h0M66.6 385.4h0M47.2 395.3h0M61.0 392.4h0M66.1 386.7h0M61.3 384.8h0M55.3 388.1h0M49.9 398.8h0M65.7 387.4h0M52.3 397.9h0M63.2 390.4h0M64.9 388.6h0M66.5 384.8h0M55.5 396.2h0M63.0 384.2h0M53.6 397.2h0M46.8 398.9h0M53.8 397.1h0M51.6 390.8h0M57.3 386.9h0M65.6 384.0h0M66.3 385.8h0M49.6 398.8h0M61.7 391.7h0M46.3 398.3h0M58.2 386.4h0M64.1 384.0h0M53.4 389.4h0M65.2 383.9h0M65.0 388.3h0M47.5 395.0h0M49.0 399.0h0M66.2 384.5h0M64.0 389.5h0M63.7 384.1h0M58.2 386.4h0M51.7 398.1h0M65.5 387.5h0M47.4 395.1h0M66.3 385.2h0M58.5 386.2h0M65.4 384.0h0M63.9 389.6h0M60.9 385.1h0M50.8 391.5h0M65.8 384.2h0M46.7 398.7h0M62.9 390.5h0M52.9 389.8h0M63.8 384.1h0M58.5 394.1h0M49.7 398.8h0M50.3 392.0h0M53.1 397.4h0M65.9 384.4h0M59.2 393.6h0M65.8 384.3h0M52.9 389.8h0M66.1 385.0h0M46.4 397.5h0M65.5 384.2h0M64.8 388.3h0M62.6 390.8h0M52.9 389.9h0M57.5 394.8h0M64.5 384.1h0M64.4 388.8h0"/>
<path stroke="#ffa300" d="M53.6 397.1h0M66.0 385.2h0M57.8 386.7h0M64.4 384.2h0M50.2 392.2h0M57.3 394.9h0M49.0 398.9h0M62.4 390.9h0M48.1 394.3h0M46.9 396.1h0M47.8 394.8h0M66.0 385.2h0M51.0 391.4h0M50.8 398.3h0M65.9 385.5h0M53.0 389.9h0M62.7 384.6h0M65.5 384.6h0M62.6 390.7h0M62.5 390.8h0M65.8 385.2h0M65.8 385.6h0M65.1 384.4h0M65.6 384.8h0M54.1 396.8h0M56.4 395.4h0M47.5 395.3h0M61.9 384.9h0M64.8 384.4h0M58.6 386.4h0M48.7 398.8h0M65.5 386.7h0M63.2 384.5h0M50.2 392.2h0M64.3 384.4h0M52.8 390.0h0M55.1 396.2h0M52.5 397.6h0M56.5 395.3h0M65.7 385.2h0M52.0 397.8h0M65.3 387.0h0M56.2 387.8h0M46.7 397.3h0M62.2 390.9h0M57.4 394.7h0M50.1 392.4h0M64.9 384.6h0M61.0 385.4h0M55.1 388.5h0M52.1 390.7h0M49.4 393.1h0M49.4 393.0h0M47.3 398.5h0M47.0 396.3h0M57.4 387.1h0M64.7 384.7h0M65.2 384.9h0M55.7 388.1h0M57.2 387.2h0M64.5 388.2h0M56.3 387.8h0M48.5 394.1h0M64.2 388.5h0M56.0 388.0h0M49.0 393.6h0M58.7 386.5h0M56.1 395.5h0M52.9 397.3h0M47.1 398.2h0"/>
<path stroke="#ff8900" d="M60.1 385.8h0M50.0 398.4h0M46.9 397.2h0M47.0 398.1h0M65.1 386.8h0M64.1 384.8h0M58.2 394.0h0M46.9 397.5h0M49.8 398.4h0M48.2 398.6h0M64.8 387.4h0M53.4 389.8h0M64.4 387.9h0M48.1 394.8h0M60.8 385.6h0M47.0 396.9h0M64.1 388.5h0M56.3 387.9h0M58.4 393.9h0M65.1 385.7h0M48.3 398.6h0M64.1 384.9h0M59.1 386.3h0M49.3 398.5h0M52.2 390.7h0M59.6 392.9h0M47.1 398.1h0M64.4 385.0h0M54.8 388.8h0M64.4 387.9h0M63.9 384.9h0M61.3 385.4h0M60.3 392.4h0M59.8 392.7h0M59.8 386.1h0M47.3 396.2h0M61.8 391.0h0M58.6 386.6h0M64.8 386.9h0M51.2 391.6h0M49.8 392.9h0M60.3 385.9h0M64.9 386.7h0M51.8 397.7h0M57.7 387.1h0M57.7 394.3h0M49.0 393.7h0M61.5 385.4h0M57.6 394.4h0M52.5 397.4h0M50.1 392.6h0M56.2 395.3h0M56.4 387.8h0M50.5 392.2h0M58.2 386.9h0M47.3 396.4h0M60.3 392.2h0M54.4 396.4h0M55.2 388.6h0M48.8 394.1h0M49.7 393.0h0M62.6 385.2h0M47.2 396.8h0M64.1 388.0h0M55.1 395.9h0M52.3 397.4h0M55.5 395.7h0M62.1 385.3h0M49.6 398.3h0M60.4 392.1h0M63.5 385.2h0M61.5 385.6h0M47.4 397.9h0M52.1 390.9h0M56.7 387.8h0M48.2 394.9h0M48.0 395.3h0M64.6 386.6h0M47.9 395.4h0M64.1 385.4h0M63.8 388.3h0M53.9 396.6h0M58.3 393.8h0M47.7 398.1h0M53.4 389.9h0M48.7 394.3h0"/>
<path stroke="#ff7300" d="M62.3 390.2h0M52.1 397.4h0M48.9 394.1h0M63.3 385.3h0M54.6 396.2h0M49.0 398.3h0M60.5 392.0h0M62.2 390.3h0M60.0 392.4h0M64.3 387.1h0M48.5 398.3h0M56.7 394.8h0M52.2 390.9h0M62.2 390.2h0M47.3 397.4h0M48.7 398.3h0M62.5 389.9h0M48.6 398.3h0M49.0 394.0h0M49.3 393.6h0M59.4 392.8h0M47.4 396.9h0M50.8 397.9h0M61.0 391.4h0M64.3 386.6h0M56.7 387.9h0M64.2 386.1h0M47.4 397.4h0M61.7 385.7h0M50.7 397.9h0M53.3 396.8h0M63.1 385.5h0M50.1 392.9h0M53.8 396.5h0M48.1 395.3h0M58.6 393.4h0M51.2 397.7h0M55.1 395.8h0M47.6 397.7h0M62.9 385.5h0M62.5 389.8h0M58.9 386.8h0M48.9 398.2h0M59.4 392.7h0M59.7 386.4h0M49.9 393.1h0M56.7 394.7h0M61.3 385.8h0M63.7 385.8h0M61.1 391.2h0M61.0 391.3h0M63.5 388.3h0M50.2 392.8h0M64.1 386.5h0M48.1 398.0h0M63.7 385.8h0M62.1 390.2h0M62.9 389.2h0M57.1 387.7h0M58.6 387.0h0M53.4 396.7h0M57.8 387.4h0M49.6 393.4h0M54.8 389.2h0M58.2 387.2h0M52.0 397.3h0M62.1 390.0h0M52.2 391.1h0M48.3 395.1h0M52.4 397.1h0M50.4 397.8h0M53.3 390.2h0M52.3 397.1h0M52.6 397.0h0M48.0 395.7h0M50.7 397.7h0M48.5 398.0h0M48.5 394.9h0M48.2 395.3h0M56.6 388.1h0M55.6 395.3h0M49.7 397.9h0M52.9 396.8h0M55.2 395.6h0"/>
<path stroke="#ff5900" d="M51.8 397.3h0M56.9 388.0h0M48.1 397.8h0M58.3 393.4h0M50.0 393.2h0M47.8 397.5h0M60.5 386.3h0M63.4 386.1h0M60.9 386.2h0M53.0 396.8h0M49.6 393.6h0M48.1 395.7h0M47.9 396.1h0M55.8 395.2h0M49.3 397.9h0M61.6 390.4h0M55.8 388.6h0M63.3 388.1h0M48.9 397.9h0M63.2 388.2h0M62.4 386.0h0M53.2 390.4h0M52.2 391.2h0M63.2 388.3h0M55.1 389.1h0M48.0 396.1h0M50.3 397.7h0M63.3 387.7h0M62.7 388.9h0M47.9 396.8h0M54.5 395.9h0M54.4 395.9h0M49.7 397.8h0M48.9 394.6h0M62.4 389.3h0M51.3 392.0h0M54.1 389.8h0M48.6 395.0h0M48.5 395.2h0M61.5 386.2h0M57.9 393.7h0M48.4 397.6h0M62.1 389.6h0M55.0 395.6h0M50.6 392.7h0M63.2 386.8h0M52.2 391.3h0M50.9 397.5h0M62.0 386.2h0M48.0 397.0h0M62.2 389.4h0M48.2 397.3h0M48.6 397.6h0M62.7 388.6h0M49.8 397.7h0M55.8 388.8h0M60.3 386.6h0M62.9 388.1h0M62.8 386.6h0M62.9 388.1h0M49.1 397.7h0M60.3 391.4h0"/>
<path stroke="#ff4300" d="M62.8 386.8h0M54.2 389.9h0M55.1 389.3h0M59.2 392.4h0M49.9 397.6h0M49.4 397.6h0M48.6 395.4h0M52.2 396.9h0M52.0 391.5h0M53.5 390.4h0M58.0 393.4h0M52.4 391.3h0M50.3 393.2h0M54.6 389.6h0M48.6 395.4h0M56.9 388.3h0M53.6 390.3h0M53.5 390.4h0M50.8 397.4h0M62.7 387.0h0M50.7 397.4h0M54.9 395.5h0M56.8 388.3h0M60.3 386.8h0M61.6 386.6h0M51.7 397.0h0M62.5 386.9h0M56.7 388.4h0M61.5 390.0h0M48.8 395.2h0M48.5 395.7h0M48.4 396.0h0M60.9 386.7h0M54.6 389.7h0M61.2 386.7h0M62.5 387.0h0M55.1 395.3h0M61.3 386.7h0M62.6 387.5h0M62.3 388.6h0M60.1 386.9h0M59.6 387.1h0M59.4 392.1h0M50.5 397.3h0M52.2 396.8h0M51.9 396.9h0M52.4 391.3h0M59.4 392.1h0M51.6 397.0h0M58.7 387.5h0M48.6 397.1h0M62.3 388.5h0M62.3 387.1h0M58.2 387.7h0M49.6 394.2h0M50.5 397.3h0M59.6 387.2h0M61.7 386.8h0M53.4 390.6h0M62.4 387.8h0M50.8 392.8h0M50.2 393.4h0M62.0 388.9h0M49.7 394.0h0M48.5 396.1h0M48.6 396.8h0M48.7 397.1h0M51.0 392.6h0M50.6 397.2h0M62.1 388.6h0M60.8 390.5h0M62.3 388.0h0M55.8 389.1h0M51.3 397.0h0M59.0 392.3h0M48.6 396.0h0M59.1 392.2h0M61.8 387.0h0M53.0 391.0h0M57.9 388.0h0M52.4 391.5h0M50.2 393.5h0M59.7 391.6h0M49.4 394.5h0"/>
<path stroke="#ff2d00" d="M52.2 396.7h0M49.0 397.1h0M62.0 387.4h0M52.0 391.8h0M49.2 394.8h0M54.6 389.9h0M60.6 390.7h0M59.3 387.4h0M62.1 387.9h0M51.5 392.2h0M56.7 388.6h0M62.0 388.6h0M59.3 392.0h0M48.7 396.7h0M49.2 397.1h0M59.1 387.5h0M61.5 387.2h0M61.1 387.1h0M60.4 387.2h0M52.7 396.4h0M54.2 390.2h0M53.3 390.8h0M53.5 396.0h0M60.1 387.2h0M49.5 397.1h0M50.5 397.1h0M57.3 388.4h0M61.0 387.2h0M50.4 397.1h0M49.2 397.0h0M50.2 397.1h0M50.9 392.9h0M60.4 387.2h0M50.2 393.7h0M61.2 389.7h0M60.3 387.3h0M50.1 397.1h0M54.3 395.6h0M61.7 388.8h0M55.8 389.2h0M50.8 397.0h0M53.2 396.1h0M52.2 396.5h0M61.8 388.1h0M61.6 388.9h0M53.6 395.9h0M50.0 394.0h0M60.8 387.3h0M60.0 391.1h0M50.1 393.8h0M55.3 394.9h0M60.2 390.9h0M61.4 387.5h0M51.1 396.9h0M48.9 396.3h0M51.6 396.7h0M51.1 392.9h0M51.4 396.8h0M51.9 392.1h0M55.0 389.8h0M61.3 387.5h0M49.2 396.7h0M51.8 396.6h0M59.3 387.7h0M51.0 393.0h0M50.2 393.8h0M56.8 393.8h0M60.4 387.5h0M59.5 391.5h0M55.6 389.4h0M61.3 389.1h0M60.3 390.7h0M60.6 390.2h0M49.2 396.6h0M49.1 395.8h0M52.4 391.7h0M57.0 388.7h0M61.2 387.7h0M59.9 387.6h0M49.4 395.1h0M49.9 396.9h0M60.8 389.8h0M52.7 391.5h0M49.2 395.7h0M58.8 392.1h0M57.7 393.0h0M49.6 396.8h0"/>
<path stroke="#ff1300" d="M49.3 396.6h0M59.1 387.9h0M61.0 387.8h0M50.9 396.8h0M60.8 389.8h0M55.2 394.8h0M58.0 392.8h0M60.9 387.8h0M57.8 388.4h0M49.3 396.4h0M54.6 390.1h0M60.2 387.7h0M61.1 389.0h0M59.3 391.6h0M60.9 387.9h0M56.9 393.6h0M49.8 396.7h0M49.4 396.4h0M57.7 388.5h0M53.2 391.2h0M53.3 395.8h0M61.1 388.7h0M61.0 388.2h0M49.4 396.1h0M55.2 394.8h0M59.2 391.6h0M59.3 388.0h0M49.8 396.6h0M60.9 388.2h0M57.2 388.8h0M61.0 388.9h0M49.4 396.0h0M55.5 389.7h0M58.8 388.1h0M49.9 396.6h0M56.8 389.0h0M53.2 395.8h0M56.0 389.4h0M57.6 393.0h0M56.5 393.8h0M56.7 389.0h0M60.9 388.5h0M60.8 389.0h0M58.1 392.5h0M52.8 391.6h0M59.2 391.4h0M53.1 395.8h0M51.2 393.1h0M56.1 389.4h0M60.8 388.4h0M49.6 395.2h0M49.7 395.1h0M60.8 388.6h0M58.4 392.2h0M60.8 388.8h0M50.1 394.4h0M60.4 389.9h0M53.1 395.8h0M59.4 388.1h0M53.1 395.8h0M50.7 393.7h0M59.4 391.1h0M58.5 388.3h0M50.1 394.4h0M58.6 392.0h0M52.5 396.0h0M51.7 396.3h0M52.5 392.0h0M60.6 388.5h0M59.1 388.2h0M60.4 388.4h0M50.8 393.6h0M56.7 393.6h0M56.4 393.8h0M59.7 388.2h0M50.2 396.4h0M57.6 392.8h0M49.9 396.3h0M60.4 388.5h0M50.5 394.0h0M50.1 394.6h0"/>
<path stroke="#e40000" d="M49.7 395.7h0M58.0 388.6h0M60.4 388.7h0M51.7 396.2h0M59.4 391.0h0M49.9 395.1h0M60.4 389.0h0M54.4 395.0h0M59.5 390.8h0M54.4 395.0h0M51.4 393.0h0M50.2 396.3h0M58.1 392.3h0M55.0 390.2h0M50.3 396.3h0M55.1 394.6h0M51.5 396.2h0M49.9 395.2h0M53.5 391.2h0M52.8 395.8h0M57.3 389.0h0M58.5 391.8h0M50.2 396.2h0M56.0 394.0h0M50.6 394.0h0M60.2 389.3h0M54.7 390.5h0M55.0 394.6h0M59.5 390.6h0M59.8 390.2h0M51.2 396.2h0M53.9 395.2h0M59.3 388.5h0M59.6 388.6h0M57.7 388.9h0M59.3 388.6h0M59.5 388.6h0M54.7 394.7h0M56.9 389.3h0M60.0 389.4h0M53.1 391.7h0M50.8 394.0h0M54.6 390.6h0M51.2 393.5h0M56.9 389.3h0M58.0 392.2h0M50.2 395.1h0M54.5 394.8h0M50.2 395.3h0M50.2 395.7h0M59.1 388.8h0M56.1 393.7h0M51.8 392.9h0M52.4 395.8h0M53.4 395.3h0M59.6 389.9h0M59.0 391.0h0M58.5 391.5h0M51.2 396.0h0M50.9 396.0h0M58.5 388.9h0M55.7 390.0h0M50.4 395.7h0M57.7 389.1h0M57.5 392.5h0M52.9 395.5h0M54.3 394.8h0M50.7 395.9h0M59.6 389.7h0M59.3 389.0h0M58.5 391.5h0M57.4 389.2h0M53.8 395.1h0M51.0 395.9h0M59.4 390.2h0"/>
<path stroke="#c40000" d="M59.6 389.7h0M59.2 390.5h0M51.0 395.9h0M51.5 395.9h0M53.3 391.6h0M58.9 391.0h0M50.4 395.0h0M59.0 390.8h0M59.3 389.1h0M52.3 392.6h0M52.6 395.6h0M58.1 391.8h0M54.2 394.8h0M52.2 392.6h0M58.3 389.1h0M51.0 394.0h0M58.9 389.1h0M58.9 390.8h0M56.2 389.9h0M56.6 389.7h0M51.7 395.7h0M55.0 390.6h0M58.6 389.2h0M50.6 395.2h0M51.7 395.7h0M51.3 393.7h0M53.9 391.4h0M56.3 389.9h0M52.5 392.5h0M51.7 395.7h0M58.4 389.2h0M51.5 393.6h0M59.1 389.8h0M52.7 395.4h0M50.9 395.5h0M53.1 395.2h0M58.4 391.2h0M50.8 395.0h0M51.0 394.3h0M59.0 390.2h0M50.8 395.3h0M53.8 391.5h0M56.1 393.4h0M51.0 395.5h0M57.8 391.9h0M58.5 389.4h0M55.3 390.5h0M58.1 391.6h0M57.0 389.7h0M58.9 390.1h0M57.0 392.6h0M52.0 393.1h0M51.4 393.8h0M58.9 389.8h0M58.8 390.2h0M50.9 395.2h0M51.7 395.5h0M51.4 393.8h0M52.1 393.0h0M51.5 395.5h0M53.8 391.5h0M53.9 394.7h0M57.8 389.5h0M53.8 394.8h0M51.3 394.1h0M58.2 391.3h0M58.7 390.2h0M57.8 391.7h0M55.1 394.0h0M54.0 394.6h0M57.2 389.8h0M51.2 394.3h0M54.3 391.2h0M51.3 395.3h0M54.0 394.6h0M56.6 392.8h0M53.8 391.7h0M57.0 389.9h0M56.1 393.2h0"/>
<path stroke="#a80000" d="M55.9 393.3h0M51.8 393.5h0M54.2 394.5h0M55.4 393.7h0M55.2 393.8h0M53.0 395.0h0M56.1 390.3h0M58.4 390.3h0M56.6 392.7h0M57.9 389.8h0M55.2 393.8h0M51.3 394.9h0M55.6 390.6h0M57.5 391.8h0M55.5 393.5h0M57.1 390.0h0M52.9 395.0h0M55.4 393.6h0M54.7 394.1h0M55.7 390.6h0M58.2 390.4h0M53.8 391.8h0M58.1 390.8h0M56.6 392.6h0M57.4 391.8h0M57.6 391.4h0M52.7 392.8h0M51.9 395.0h0M57.6 391.5h0M57.8 390.2h0M58.0 390.8h0M56.2 390.5h0M55.4 393.5h0M52.7 392.8h0M55.4 390.9h0M56.2 390.5h0M52.2 393.4h0M52.2 394.9h0M57.3 390.2h0M57.7 391.1h0M53.9 391.8h0M54.3 391.6h0M54.3 391.6h0M52.7 392.9h0M52.8 392.9h0M53.2 394.7h0M53.6 394.5h0M51.9 394.0h0M52.5 393.2h0M57.6 391.0h0M57.0 391.9h0M54.9 391.3h0M56.7 392.2h0M56.4 392.6h0M51.9 394.4h0M54.4 394.0h0M54.7 393.8h0M57.3 391.4h0M54.0 394.2h0M56.6 392.3h0M56.8 390.5h0M57.0 391.7h0M56.9 392.0h0M54.0 391.9h0M52.1 394.4h0M57.3 391.2h0M53.7 392.2h0M54.3 391.7h0M53.6 392.3h0"/>
<path stroke="#8d0000" d="M54.2 391.8h0M54.4 393.9h0M56.0 390.9h0M54.0 394.1h0M52.6 393.4h0M56.7 390.7h0M52.3 394.0h0M53.2 394.4h0M53.6 392.4h0M52.4 394.4h0M57.1 391.2h0M56.5 392.2h0M55.0 393.5h0M52.4 393.8h0M52.5 394.3h0M53.4 392.6h0M56.3 390.9h0M52.6 393.6h0M52.6 393.6h0M55.0 391.5h0M52.6 394.3h0M53.3 392.8h0M52.6 393.7h0M55.9 392.6h0M53.7 392.4h0M53.8 392.4h0M52.7 394.2h0M56.7 391.2h0M54.1 393.9h0M54.4 392.0h0M54.8 393.4h0M56.3 391.1h0M52.8 393.6h0M55.0 391.6h0M53.8 392.5h0M52.9 394.1h0M55.4 391.4h0M53.4 392.8h0M52.9 393.9h0M56.5 391.4h0M55.5 391.5h0M53.0 393.5h0M55.0 391.7h0M53.3 393.9h0M53.0 393.7h0M55.5 391.5h0M55.9 392.4h0M53.2 393.9h0M53.2 393.9h0M53.6 392.8h0M56.2 391.4h0M54.5 392.0h0M53.1 393.8h0M53.1 393.5h0M55.6 392.6h0M53.3 393.1h0M53.8 393.7h0M56.1 392.0h0M56.0 391.9h0M55.0 391.9h0M55.9 392.0h0M55.0 391.9h0M54.3 392.4h0M54.9 393.0h0M54.6 393.2h0M55.8 391.8h0M55.6 392.3h0M54.9 392.0h0M55.6 392.2h0M54.1 392.7h0M55.0 392.8h0M55.0 392.1h0M55.0 392.7h0M55.3 392.1h0M54.3 392.6h0M54.8 392.3h0M54.8 392.3h0M54.5 392.9h0M54.6 392.7h0"/>
<path stroke="#000" stroke-width="0.65" stroke-dasharray="2.6 1.1" stroke-linecap="butt" d="M36.4 409.7L231.3 241.6"/>
<path stroke="#f00" stroke-width="0.8" stroke-linecap="butt" d="M36.4 401.0L203.5 301.6"/>
</g>
<rect x="36.4" y="241.6" width="194.9" height="168.1" fill="none" stroke="#222" stroke-width="0.7"/>
<path stroke="#222" stroke-width="0.6" fill="none" d="M36.4 409.7v-2.2M36.4 409.7h2.2M50.3 409.7v-1.2M36.4 397.7h1.2M64.2 409.7v-2.2M36.4 385.7h2.2M78.2 409.7v-1.2M36.4 373.7h1.2M92.1 409.7v-2.2M36.4 361.7h2.2M106.0 409.7v-1.2M36.4 349.7h1.2M119.9 409.7v-2.2M36.4 337.7h2.2M133.8 409.7v-1.2M36.4 325.6h1.2M147.8 409.7v-2.2M36.4 313.6h2.2M161.7 409.7v-1.2M36.4 301.6h1.2M175.6 409.7v-2.2M36.4 289.6h2.2M189.5 409.7v-1.2M36.4 277.6h1.2M203.5 409.7v-2.2M36.4 265.6h2.2M217.4 409.7v-1.2M36.4 253.6h1.2M231.3 409.7v-2.2M36.4 241.6h2.2"/>
<g class="tl">
<text x="36.4" y="419.3" text-anchor="middle">0</text>
<text x="34.2" y="412.9" text-anchor="end">0</text>
<text x="64.2" y="419.3" text-anchor="middle">50</text>
<text x="34.2" y="388.9" text-anchor="end">50</text>
<text x="92.1" y="419.3" text-anchor="middle">100</text>
<text x="34.2" y="364.9" text-anchor="end">100</text>
<text x="119.9" y="419.3" text-anchor="middle">150</text>
<text x="34.2" y="340.9" text-anchor="end">150</text>
<text x="147.8" y="419.3" text-anchor="middle">200</text>
<text x="34.2" y="316.8" text-anchor="end">200</text>
<text x="175.6" y="419.3" text-anchor="middle">250</text>
<text x="34.2" y="292.8" text-anchor="end">250</text>
<text x="203.5" y="419.3" text-anchor="middle">300</text>
<text x="34.2" y="268.8" text-anchor="end">300</text>
<text x="231.3" y="419.3" text-anchor="middle">350</text>
<text x="34.2" y="244.8" text-anchor="end">350</text>
</g>
<text class="an" y="255.8"><tspan class="it" x="45.0">y</tspan><tspan class="op" x="53.6">=</tspan><tspan x="64.3">0.69</tspan><tspan class="it" x="81.6">x</tspan><tspan class="pl" x="91.0">+</tspan><tspan x="98.3">18.07</tspan></text>
<text class="an" y="270.4"><tspan class="it" x="45.3">R</tspan><tspan class="sup" x="54.1" dy="-4.2">2</tspan><tspan class="op" x="60.4" dy="4.2">=</tspan><tspan x="70.9">0.74</tspan></text>
<text class="an" y="282.2"><tspan x="45.3">RMSE</tspan><tspan class="pl" x="75.6">=</tspan><tspan x="81.8">20.94</tspan></text>
<text class="an" y="293.9"><tspan class="it" x="45.3">N</tspan><tspan class="op" x="54.7">=</tspan><tspan x="65.4">3691</tspan></text>
<text class="al" x="134.3" y="434.0" text-anchor="middle"><tspan class="mono">Observed PM2.5</tspan><tspan class="mp">(</tspan><tspan class="mi">μg·m</tspan><tspan class="mis" dy="-4">−3</tspan><tspan class="mp" dy="4">)</tspan></text>
<text class="al" transform="translate(13.9 324.4) rotate(-90)" text-anchor="middle"><tspan class="mono">Prediction PM2.5</tspan><tspan class="mp">(</tspan><tspan class="mi">μg·m</tspan><tspan class="mis" dy="-4">−3</tspan><tspan class="mp" dy="4">)</tspan></text>
<rect x="243.2" y="249.0" width="8.0" height="152.60000000000002" fill="url(#jet)"/>
<path fill="#800000" d="M243.2 249.2L247.2 241.29999999999998L251.2 249.2Z"/>
<path fill="#000080" d="M243.2 401.40000000000003L247.2 410.0L251.2 401.40000000000003Z"/>
<path fill="none" stroke="#222" stroke-width="0.5" d="M243.2 249.0L247.2 241.29999999999998L251.2 249.0V401.6L247.2 410.0L243.2 401.6Z"/>
<g class="cl">
<text x="255.4" y="387.1">5</text>
<text x="255.4" y="369.4">10</text>
<text x="255.4" y="351.6">15</text>
<text x="255.4" y="333.9">20</text>
<text x="255.4" y="316.1">25</text>
<text x="255.4" y="298.4">30</text>
<text x="255.4" y="280.7">35</text>
<text x="255.4" y="262.9">40</text>
</g>
<path stroke="#222" stroke-width="0.5" fill="none" d="M251.2 384.9h1.6M251.2 367.2h1.6M251.2 349.4h1.6M251.2 331.7h1.6M251.2 313.9h1.6M251.2 296.2h1.6M251.2 278.5h1.6M251.2 260.7h1.6"/>
<text class="ct" transform="translate(270.4 326.3) rotate(-90)" text-anchor="middle">Counts</text>
<text class="cap" x="138.2" y="457.3" text-anchor="middle">c.Random Forest</text>
<clipPath id="cpd"><rect x="311.8" y="241.6" width="194.9" height="168.1"/></clipPath>
<g clip-path="url(#cpd)" fill="none" stroke-width="4.5" stroke-linecap="round">
<path stroke="#00008d" d="M328.0 305.7h0M444.2 361.5h0M434.1 369.5h0M429.1 372.5h0M431.7 366.7h0M468.5 336.1h0M395.7 391.5h0M438.5 277.0h0M316.6 352.5h0M412.7 374.7h0M351.1 325.1h0M429.1 356.7h0M314.0 358.2h0M417.0 293.7h0M348.1 331.1h0M438.1 346.2h0M420.1 295.7h0M439.5 288.7h0M380.1 314.1h0M478.1 310.7h0M355.1 329.1h0M399.1 376.7h0M334.0 347.1h0M332.0 350.1h0M392.0 381.1h0M423.1 350.1h0M418.7 355.1h0M360.1 328.1h0M344.0 340.1h0M381.0 388.1h0M452.5 331.1h0M408.1 365.1h0M420.1 301.7h0M418.0 353.2h0M378.0 320.6h0M458.7 325.1h0M423.6 344.6h0M394.0 316.1h0M337.0 350.1h0M369.0 326.0h0M389.3 318.1h0M356.6 401.4h0M420.1 304.5h0M332.5 361.2h0M447.1 332.1h0M371.1 326.1h0M410.1 359.1h0M396.2 318.1h0M400.1 369.5h0M441.5 335.1h0M414.0 349.1h0M353.6 402.5h0M353.4 402.6h0M430.5 304.1h0M393.0 320.6h0M446.1 321.1h0M330.6 364.1h0M396.9 319.2h0M447.5 300.7h0M353.8 402.0h0M387.7 322.4h0M390.1 322.1h0M368.1 329.1h0M392.3 321.5h0M397.1 371.1h0M471.5 300.5h0M379.1 324.5h0M443.7 324.1h0M452.7 314.1h0M365.6 393.1h0M363.2 394.7h0M392.1 322.4h0M347.0 344.1h0M447.5 323.1h0M388.9 323.5h0M391.7 322.6h0M392.2 322.5h0M448.1 317.1h0M383.9 324.1h0M386.8 324.5h0M388.9 324.0h0M382.3 324.3h0M385.5 324.7h0M463.9 296.3h0M436.1 332.1h0M403.0 317.1h0M362.3 394.9h0M466.7 307.7h0M387.6 324.8h0M440.7 325.1h0M395.9 325.7h0M459.5 308.5h0M394.1 327.4h0M452.7 324.7h0M411.0 312.1h0M398.3 324.4h0M393.4 328.1h0M468.0 306.3h0M437.3 304.5h0M367.2 391.3h0M357.3 336.2h0M389.3 324.7h0M462.2 306.5h0M359.1 335.1h0M393.3 326.5h0M382.7 325.4h0M354.3 400.6h0M400.0 322.5h0M363.2 332.9h0M395.1 324.8h0M388.3 330.7h0M398.7 321.9h0M397.9 325.7h0M388.3 325.6h0M385.8 326.2h0M390.5 327.9h0M416.7 310.7h0M392.5 326.0h0M386.4 326.3h0M400.9 324.0h0M392.1 329.8h0M435.1 308.7h0M388.7 328.3h0M387.4 326.5h0M380.1 326.1h0M389.6 327.1h0M384.2 326.9h0M385.5 332.4h0M418.1 339.0h0M405.1 360.1h0M352.8 340.3h0M396.3 327.3h0M385.3 331.1h0M422.8 311.9h0M397.6 326.5h0M406.4 316.5h0M344.2 405.3h0M379.7 326.6h0M422.1 315.1h0M384.1 331.4h0M385.3 327.9h0M377.8 327.0h0M443.7 318.7h0M345.0 352.1h0M380.3 326.9h0M375.0 386.1h0M448.2 326.5h0M447.6 326.0h0M338.1 360.1h0M430.6 312.1h0M384.5 328.7h0M372.5 387.4h0M343.7 354.7h0M409.0 350.1h0M368.5 389.6h0M419.1 315.1h0M379.5 327.2h0M380.4 327.6h0M407.2 321.1h0M349.2 344.9h0M445.1 307.4h0M383.1 329.1h0M439.1 314.5h0M389.8 331.7h0M380.0 327.6h0M414.2 315.2h0M379.0 383.6h0M408.0 317.1h0M348.0 347.2h0M348.4 346.6h0M403.9 323.2h0M384.1 334.3h0M420.1 337.1h0M411.1 315.2h0M442.6 307.5h0M347.3 349.6h0M413.0 319.1h0M347.2 350.2h0M348.5 347.6h0M378.2 328.0h0M364.3 392.1h0M445.1 313.7h0M430.9 313.3h0M444.0 317.4h0M434.5 330.0h0M445.3 313.6h0M415.7 319.2h0M344.9 354.1h0M347.8 349.7h0M381.1 330.6h0M435.5 317.2h0M370.3 388.1h0M349.4 346.3h0M381.6 335.2h0M348.3 349.1h0M380.2 332.8h0M350.1 345.1h0M382.7 380.8h0M422.8 318.0h0M350.8 344.4h0M348.8 348.8h0M359.4 336.7h0M401.2 325.2h0M433.1 331.1h0M346.2 352.9h0M427.1 334.2h0M428.8 334.5h0M359.0 337.0h0M444.0 316.1h0M378.8 330.5h0M355.2 339.9h0M365.7 333.6h0M385.7 334.4h0M428.5 333.6h0M350.6 346.4h0M378.8 332.9h0M378.0 335.3h0M348.7 350.3h0M378.4 336.2h0M351.4 345.7h0M377.3 329.7h0M426.5 331.1h0M388.8 333.0h0M431.0 316.0h0M348.1 351.6h0M415.0 322.1h0M357.2 339.0h0M353.2 343.9h0M357.4 339.0h0M376.6 336.8h0M376.7 333.0h0M345.0 355.1h0M353.9 343.2h0M371.4 331.5h0M424.1 333.0h0M429.6 319.9h0M375.7 330.4h0M358.9 338.2h0M362.0 336.4h0M355.2 341.7h0M353.9 344.4h0M355.1 341.9h0M375.4 335.1h0M378.5 382.8h0M350.4 349.5h0M355.9 341.1h0M345.8 354.4h0M383.3 336.0h0M340.7 359.0h0M375.0 384.6h0M375.5 332.7h0M389.5 333.0h0M383.3 379.7h0M374.4 336.3h0M401.9 325.6h0M346.9 353.5h0M366.4 334.5h0M362.8 336.5h0M427.1 322.1h0M409.0 324.1h0M361.5 337.4h0M363.9 336.0h0M348.3 352.4h0M356.7 397.1h0M361.6 337.7h0M373.6 338.5h0M370.3 332.8h0M374.2 384.7h0M354.7 398.5h0M399.6 361.9h0M392.4 371.8h0M336.3 362.6h0M405.6 350.0h0M371.6 338.2h0M371.8 336.8h0M373.1 334.4h0M334.1 364.4h0M377.1 338.3h0M372.5 332.4h0M360.3 339.6h0M371.2 336.9h0M423.6 321.7h0M371.0 337.0h0M372.1 332.6h0M405.4 324.9h0M358.4 342.3h0M372.8 332.9h0M356.8 344.2h0M356.5 344.6h0M385.1 377.9h0M358.0 343.3h0M403.0 325.7h0M370.2 336.8h0M411.1 325.9h0M354.1 347.4h0M367.7 335.0h0M369.3 340.2h0M403.6 325.6h0M362.7 338.5h0M370.0 333.9h0M368.0 339.9h0M359.6 342.2h0M405.9 325.2h0M395.6 329.7h0M344.7 356.2h0M397.8 363.8h0M368.9 334.8h0M388.7 334.0h0M367.4 335.6h0M362.4 339.9h0M364.0 338.2h0M359.4 343.4h0M365.2 340.5h0M371.6 340.7h0M366.5 341.5h0M366.0 337.0h0M385.6 377.2h0M368.0 336.1h0M365.3 337.9h0M407.1 326.9h0M396.7 364.8h0M369.2 341.4h0M361.4 342.3h0M366.7 337.2h0M357.4 345.4h0M348.1 401.1h0M404.1 352.7h0M355.6 347.0h0M404.9 325.9h0M421.5 324.2h0M362.0 342.7h0M404.1 326.0h0M380.8 338.1h0M369.3 341.8h0M343.0 402.1h0M404.2 326.1h0M406.0 326.9h0M364.7 342.8h0M405.5 326.5h0M402.1 326.7h0M395.4 365.0h0M321.2 377.1h0M405.1 326.7h0M373.5 340.7h0M334.1 406.6h0M392.7 369.9h0M328.8 369.1h0M410.1 327.9h0M364.3 389.9h0M351.6 351.0h0M364.5 389.7h0M392.9 332.0h0M333.4 365.5h0M354.9 348.4h0M415.0 326.1h0M394.3 365.3h0M373.2 341.1h0M322.8 375.3h0M344.6 357.0h0M425.5 327.9h0M393.3 366.7h0M358.9 394.3h0M404.6 328.2h0M384.0 377.6h0M392.8 368.4h0M374.3 382.7h0M377.9 339.7h0M392.0 370.0h0M356.0 348.0h0M395.2 363.5h0M375.9 340.4h0M360.7 345.5h0M417.8 326.0h0M390.0 372.3h0M391.6 370.3h0M353.8 397.8h0M375.4 381.8h0M419.1 328.1h0M360.7 345.8h0M376.5 381.3h0M393.0 365.9h0M383.7 377.5h0M407.2 329.9h0M376.9 381.0h0M421.2 327.9h0M377.9 380.5h0M352.5 398.3h0M363.4 389.9h0M380.3 379.2h0M345.3 400.4h0M364.9 345.3h0M371.5 383.4h0M424.0 328.7h0M363.0 345.9h0M366.4 344.9h0M385.1 376.1h0M352.3 398.2h0M385.9 375.5h0M390.7 368.3h0M392.9 365.3h0M388.7 372.7h0M403.5 330.6h0M389.7 370.9h0M377.5 380.1h0M389.6 371.1h0M400.1 328.7h0M379.0 379.4h0M384.7 376.2h0M365.0 388.2h0M383.3 377.1h0M334.4 365.2h0M414.4 328.0h0M375.4 341.3h0M367.3 386.1h0M334.4 365.2h0M364.5 388.5h0M391.6 366.5h0M391.0 367.3h0M357.6 394.6h0M337.1 363.2h0M390.1 368.4h0M405.0 344.1h0M332.3 407.1h0M333.3 406.5h0M383.4 338.1h0M370.8 383.3h0M354.2 350.3h0M394.4 363.3h0M372.5 342.6h0M419.0 334.3h0M379.5 378.6h0M323.9 374.7h0M374.5 380.9h0M383.6 376.4h0M385.9 374.6h0M363.3 389.2h0M378.5 378.9h0M362.7 346.9h0M373.4 381.4h0M352.5 397.5h0M373.7 381.2h0M350.9 397.9h0M386.3 373.8h0M352.7 351.5h0M380.2 378.0h0M372.5 342.8h0M335.6 405.1h0M413.7 329.4h0M386.2 336.7h0M406.1 331.5h0M369.2 383.9h0M379.4 378.2h0M402.6 347.3h0M350.0 353.6h0M350.4 397.8h0M351.3 397.5h0M401.8 331.0h0M345.8 356.9h0M356.9 349.1h0M364.8 387.3h0M396.0 361.4h0M386.4 372.7h0M395.6 331.3h0M354.4 396.2h0M357.7 393.8h0M315.0 386.9h0M387.1 371.3h0M401.4 330.5h0M363.9 388.0h0M402.1 348.3h0M354.7 395.9h0M381.6 339.3h0M397.0 330.6h0M356.3 394.8h0M399.3 329.7h0M388.4 369.4h0M374.1 380.5h0M362.7 388.9h0M375.0 379.9h0M390.4 367.0h0M357.3 349.2h0M364.8 346.8h0M344.4 400.2h0M362.2 389.3h0M397.4 330.6h0M368.1 384.2h0M358.8 392.5h0M418.3 334.2h0M374.4 342.4h0M336.5 364.0h0M356.1 394.7h0M397.1 330.8h0M380.7 339.9h0M385.2 373.1h0M370.6 382.4h0M358.5 392.7h0M412.0 331.0h0M381.1 376.3h0M337.9 403.7h0M360.8 390.4h0M380.4 376.8h0M376.1 379.1h0M360.8 390.2h0M353.1 396.1h0M336.1 404.6h0M398.6 358.1h0M373.5 380.5h0M342.4 401.1h0M343.2 359.2h0M418.1 334.2h0M360.4 390.4h0M372.7 380.9h0M359.9 390.8h0M360.9 348.5h0M370.4 382.2h0M369.7 382.7h0M350.9 396.7h0M370.0 344.6h0M399.7 330.6h0M417.9 334.2h0M402.5 346.3h0M364.4 386.3h0M363.3 347.9h0M402.2 346.9h0M382.5 374.8h0M409.4 331.6h0M393.3 363.6h0M345.8 357.4h0M390.9 366.0h0M396.9 359.9h0M351.4 396.2h0M350.9 396.4h0M343.9 400.2h0M343.0 359.5h0M368.7 383.0h0M350.6 353.8h0M370.9 381.6h0M341.0 401.7h0M362.6 348.4h0M326.4 372.8h0M367.4 346.3h0M331.6 368.0h0M334.0 366.1h0M350.8 396.2h0M398.9 331.6h0M338.6 362.9h0M371.4 380.9h0M334.4 365.9h0M359.4 389.5h0M355.2 351.3h0M378.6 376.7h0M355.0 393.3h0M404.2 333.5h0M400.1 351.6h0M350.2 396.4h0M394.3 362.3h0M400.9 333.9h0M405.6 341.7h0M345.7 399.0h0M402.2 345.7h0M396.4 332.2h0M378.8 376.4h0M414.4 333.7h0M399.6 353.2h0M414.6 333.6h0M416.5 333.8h0M335.4 365.3h0M391.6 334.8h0M359.5 388.9h0M368.5 382.3h0M362.7 386.2h0M415.9 333.7h0M412.2 335.0h0M313.8 390.0h0M369.0 346.0h0M360.1 388.3h0M397.6 358.4h0M355.7 351.5h0M399.6 352.2h0M350.9 395.7h0M348.4 356.0h0M395.7 332.9h0M376.5 377.5h0M410.4 337.0h0M347.0 357.1h0M407.1 334.1h0M378.1 342.3h0M407.4 335.8h0M406.3 340.3h0M405.0 341.6h0M407.9 338.7h0M407.3 335.9h0M397.6 358.0h0M374.8 378.3h0M382.8 372.9h0M407.0 335.6h0M380.7 374.5h0M406.4 339.7h0M406.9 336.1h0M372.6 344.7h0M394.8 333.6h0M368.5 381.9h0M372.6 379.4h0M405.0 340.9h0M380.7 341.3h0M406.4 338.2h0M404.9 340.9h0M383.8 339.7h0M399.8 349.8h0M327.8 372.0h0M403.9 342.1h0M376.6 343.4h0M361.5 386.4h0M358.5 351.4h0M364.1 384.6h0M363.0 349.7h0M403.8 342.0h0M387.7 337.6h0M401.4 345.5h0M404.4 341.0h0M353.6 393.2h0M398.5 335.0h0M381.4 373.6h0M325.5 374.6h0M404.8 340.4h0M328.0 371.8h0M397.3 334.6h0M404.7 340.1h0M394.1 334.5h0M384.6 370.8h0M354.4 353.2h0M405.2 335.5h0M348.9 356.4h0M331.0 369.2h0M396.9 335.0h0M357.8 389.1h0M388.4 366.9h0M346.6 358.0h0M391.0 336.2h0M397.5 335.4h0M378.6 343.0h0M404.2 339.6h0M400.3 335.7h0M374.5 344.8h0M366.6 382.5h0M345.9 398.2h0M316.2 386.9h0M404.5 335.5h0M315.7 387.7h0M405.0 336.4h0M356.4 352.8h0M351.4 394.5h0M329.6 370.6h0M388.1 337.9h0M394.7 360.6h0M369.6 346.9h0M377.0 376.2h0M382.4 341.3h0M397.5 355.8h0M374.0 345.3h0M355.1 353.5h0M381.9 372.6h0M340.9 362.2h0M384.8 340.0h0M398.5 351.6h0M337.5 364.6h0M353.0 393.0h0M343.5 360.5h0M352.5 354.7h0M401.4 343.4h0M381.6 341.9h0M315.7 388.2h0M362.7 350.7h0M365.5 349.2h0M352.7 393.2h0M399.3 348.4h0M379.2 343.3h0M387.7 338.6h0M383.7 370.8h0M360.4 351.9h0M379.6 374.1h0M402.3 336.1h0M402.4 340.9h0M394.5 336.0h0M403.7 337.2h0M371.2 346.8h0M393.7 361.2h0M400.1 345.2h0M350.7 356.0h0M385.2 369.3h0M348.3 357.4h0M326.1 374.7h0M326.3 374.4h0M396.3 336.6h0M381.2 342.6h0M328.8 371.8h0M388.0 338.9h0M389.5 338.0h0M321.2 380.6h0M357.6 353.3h0M383.7 341.3h0M399.8 345.4h0M395.0 359.4h0M381.4 342.6h0M369.4 347.8h0M366.3 382.1h0M402.5 339.6h0M367.8 348.5h0"/>
<path stroke="#0000a8" d="M394.6 336.8h0M392.0 337.2h0M400.0 344.1h0M389.3 365.2h0M324.7 376.5h0M337.2 365.1h0M375.0 376.5h0M402.0 339.9h0M394.1 360.4h0M356.5 389.4h0M339.3 363.8h0M330.9 370.0h0M360.5 352.4h0M317.0 386.6h0M382.5 371.2h0M369.8 347.9h0M390.3 364.1h0M335.9 366.2h0M379.7 373.3h0M336.0 366.1h0M375.6 345.9h0M332.9 405.3h0M394.3 359.8h0M367.6 348.9h0M401.1 337.2h0M368.7 380.3h0M346.3 359.3h0M354.9 355.0h0M381.6 371.7h0M342.2 399.8h0M330.0 371.0h0M381.3 371.9h0M358.0 387.9h0M350.6 356.9h0M316.4 387.9h0M388.0 340.0h0M397.0 352.7h0M372.8 377.5h0M318.5 384.8h0M397.4 350.9h0M397.9 348.2h0M318.9 384.2h0M390.0 339.2h0M393.1 338.3h0M346.0 397.3h0M324.1 377.7h0M391.7 362.2h0M387.5 340.7h0M332.5 405.3h0M399.7 342.0h0M400.2 338.1h0M379.5 372.7h0M361.9 352.4h0M324.4 377.5h0M397.7 346.6h0M392.2 338.9h0M389.8 363.9h0M390.8 339.4h0M319.9 383.0h0M379.9 372.3h0M354.0 391.0h0M328.0 373.5h0M378.3 345.9h0M358.0 354.5h0M393.3 338.9h0M332.5 369.3h0M396.9 351.3h0M382.6 370.1h0M397.1 348.1h0M386.4 341.9h0M344.3 361.2h0M398.1 338.6h0M387.8 365.4h0M371.7 348.6h0M384.9 367.9h0M364.2 382.7h0M384.8 342.9h0M378.3 346.3h0M383.6 343.7h0M365.8 350.9h0M395.6 354.6h0M370.1 378.7h0M392.7 339.6h0M395.7 339.1h0M387.1 341.9h0M359.1 354.4h0M381.7 344.9h0M396.4 339.1h0M397.2 344.5h0M396.7 345.7h0M386.9 342.1h0M331.0 370.9h0M379.3 372.1h0M392.0 360.8h0M387.6 365.1h0M317.6 386.9h0M336.2 402.9h0M399.1 339.7h0M349.6 394.3h0M334.8 403.7h0M376.2 347.6h0M396.2 346.9h0M361.7 384.2h0M349.7 394.2h0M353.8 357.0h0M396.2 349.7h0M348.9 359.1h0M397.7 339.4h0M331.2 405.7h0M398.6 341.3h0M357.1 355.7h0M397.7 342.8h0M338.9 365.1h0M394.1 357.0h0M355.7 356.4h0M364.5 352.0h0M364.5 382.1h0M352.8 357.7h0M380.4 346.2h0M350.2 393.7h0M351.8 392.3h0M351.6 358.3h0M329.8 372.4h0M369.6 350.2h0M374.6 348.7h0M314.8 391.7h0M348.6 359.7h0M393.1 358.3h0M325.5 377.2h0M395.4 351.4h0M349.7 393.9h0M391.7 360.3h0M357.9 355.7h0M369.7 350.5h0M369.8 350.4h0M360.7 384.6h0M330.7 371.7h0M394.8 347.8h0M380.4 346.6h0M396.9 342.7h0M328.2 374.3h0M346.3 361.1h0M346.9 360.8h0M371.4 377.0h0M394.8 340.7h0M366.9 351.5h0M349.9 359.4h0M342.6 363.2h0M378.0 372.1h0M397.0 342.1h0M386.2 343.8h0M390.7 341.8h0M333.5 404.1h0M396.8 341.5h0M330.5 372.1h0M396.1 343.4h0M352.8 358.4h0M394.8 352.3h0M337.7 366.4h0M393.0 341.4h0M321.4 382.4h0M390.2 342.3h0M383.0 367.9h0M392.1 359.0h0M375.4 349.0h0M318.7 386.2h0M389.0 362.7h0M376.4 348.7h0M330.8 372.0h0M394.6 345.6h0M343.6 362.9h0M382.8 346.0h0M377.0 372.5h0M389.4 342.8h0M349.2 360.1h0M336.6 367.3h0M322.0 381.8h0M345.5 396.6h0M373.5 375.2h0M335.9 367.8h0M374.1 374.7h0M375.8 349.1h0M394.3 341.5h0M347.2 395.5h0M380.4 369.7h0M322.3 381.5h0M320.5 383.8h0M386.3 344.4h0M346.9 395.6h0M394.0 354.3h0M392.3 342.1h0M389.0 343.2h0M368.3 351.6h0M330.5 405.6h0M334.2 369.2h0M313.5 394.5h0M369.9 377.7h0M395.3 342.3h0M393.1 348.3h0M394.2 341.9h0M333.6 369.7h0M364.3 353.2h0M319.6 385.3h0M335.1 368.6h0M347.2 395.3h0M382.4 367.9h0M394.4 344.7h0M352.2 391.3h0M370.4 377.2h0M372.1 350.7h0M390.4 360.5h0M392.7 348.4h0M386.3 344.8h0M373.8 350.2h0M356.2 387.8h0M365.6 352.9h0M327.7 375.5h0M323.5 380.3h0M344.4 397.2h0M370.6 376.9h0M357.7 356.7h0M393.0 350.0h0M371.3 351.2h0M355.7 357.8h0M343.4 363.6h0M328.4 406.5h0M380.5 369.1h0M394.1 343.9h0M366.5 379.8h0M367.7 352.3h0M338.7 366.4h0M392.5 343.0h0M390.2 360.2h0M386.0 364.4h0M388.7 344.2h0M392.5 346.4h0M391.9 357.4h0M392.8 355.6h0M380.9 347.9h0M393.2 352.0h0M372.2 351.2h0M384.4 365.7h0M345.4 362.8h0M374.8 373.4h0M329.0 374.5h0M386.9 345.2h0M367.0 379.3h0M388.1 344.7h0M392.9 345.0h0M392.3 346.2h0M323.5 380.7h0M373.4 350.9h0M378.7 348.9h0M334.3 403.2h0M359.5 356.1h0M382.7 367.0h0M348.0 394.3h0M391.1 343.9h0M333.7 403.5h0M334.7 402.9h0M383.6 346.9h0M392.5 344.8h0M389.1 361.1h0M370.2 376.8h0M354.7 358.7h0M385.7 364.2h0M357.1 357.5h0M332.4 371.5h0M392.0 356.3h0M382.6 347.6h0M317.0 389.8h0"/>
<path stroke="#0000c8" d="M391.4 344.7h0M363.6 354.4h0M353.6 359.4h0M385.8 346.2h0M380.9 368.1h0M371.4 375.8h0M384.9 364.8h0M389.4 345.0h0M370.2 376.6h0M391.0 345.8h0M349.3 361.5h0M389.3 360.3h0M390.4 350.6h0M367.8 353.2h0M357.7 357.4h0M391.6 351.7h0M379.4 369.2h0M372.3 351.8h0M336.7 368.3h0M389.7 345.5h0M390.1 347.7h0M323.6 381.1h0M345.4 363.4h0M346.3 395.4h0M331.2 372.8h0M391.2 357.2h0M389.6 349.2h0M332.2 404.1h0M363.4 354.9h0M390.0 346.2h0M390.0 347.1h0M389.5 348.3h0M390.4 358.4h0M389.8 346.4h0M389.6 351.0h0M391.7 355.4h0M380.8 349.0h0M351.4 360.9h0M343.5 364.5h0M326.1 378.4h0M391.7 354.3h0M384.6 347.6h0M390.4 352.0h0M388.6 350.0h0M325.2 379.5h0M391.6 354.3h0M384.4 347.8h0M326.0 378.6h0M359.8 384.1h0M387.5 347.0h0M388.7 348.1h0M389.9 358.7h0M388.6 348.1h0M391.4 353.4h0M389.5 351.7h0M371.8 374.9h0M346.2 363.4h0M346.1 395.3h0M330.1 374.2h0M388.3 349.4h0M356.3 358.6h0M347.0 363.1h0M320.8 385.1h0M384.7 347.9h0M332.2 403.9h0M385.7 363.3h0M362.7 355.6h0M373.5 352.0h0M387.3 361.6h0M390.5 357.3h0M357.3 386.1h0M385.4 363.5h0M334.9 370.1h0M388.3 351.7h0M341.9 365.7h0M347.6 362.9h0M322.7 382.8h0M389.3 359.1h0M341.1 398.5h0M364.2 355.2h0M377.7 350.7h0M382.6 365.8h0M389.5 352.6h0M374.6 351.8h0M369.9 376.1h0M389.5 358.6h0M325.5 379.5h0M379.2 368.5h0M385.3 348.5h0M346.3 363.7h0M324.3 380.9h0M340.5 398.9h0M389.2 352.9h0M376.0 351.5h0M384.6 348.8h0M367.9 354.3h0M360.6 356.9h0M386.8 351.5h0M318.8 388.1h0M367.0 354.6h0M389.5 353.3h0M322.2 383.6h0M384.8 349.0h0M316.9 390.8h0M374.7 352.1h0M388.0 352.8h0M363.6 380.9h0M379.4 368.1h0M373.2 373.3h0M367.4 354.6h0M335.9 369.7h0M384.0 364.2h0M362.0 356.4h0M387.7 360.5h0M330.1 374.8h0M322.3 383.7h0M351.9 390.4h0M389.9 354.1h0M375.7 351.9h0M333.7 371.6h0M334.9 370.6h0M353.5 360.6h0M376.8 370.0h0M359.3 357.8h0M339.9 399.1h0M378.9 350.9h0M370.7 375.1h0M370.1 354.0h0M355.8 386.9h0M384.9 350.4h0M329.4 405.1h0M370.2 375.4h0M373.1 373.0h0M385.3 352.6h0M379.0 351.1h0M314.7 394.7h0M363.3 356.4h0M389.6 355.4h0M339.1 368.0h0M361.2 357.1h0M336.8 400.9h0M383.4 350.4h0M389.5 356.5h0M383.8 363.8h0M382.4 350.4h0M384.9 352.8h0M347.5 363.8h0M374.0 352.9h0M384.8 352.8h0M375.7 352.4h0M338.5 368.5h0M389.3 355.6h0M324.4 381.5h0M341.9 366.6h0M354.2 388.2h0M318.6 388.8h0M373.0 372.8h0M382.0 350.8h0M384.1 352.1h0M386.3 354.4h0M336.2 370.2h0M328.8 376.7h0M347.3 393.8h0M381.0 365.9h0M337.8 369.1h0M332.5 373.3h0M316.0 392.7h0M381.9 351.1h0M367.3 377.4h0M373.6 372.1h0M346.6 394.3h0M368.5 355.2h0M387.8 355.0h0M334.9 371.3h0M320.0 387.2h0M387.0 360.0h0M325.4 380.6h0M385.4 361.8h0M361.8 357.4h0M339.4 368.2h0M334.4 371.7h0M369.6 354.9h0M367.0 355.8h0M355.2 360.3h0M362.4 357.3h0M373.3 353.6h0M384.1 354.4h0M384.5 354.7h0M379.2 367.3h0M383.7 363.4h0M387.5 355.2h0M364.1 379.9h0M381.3 351.4h0M379.8 351.6h0M368.8 355.3h0M372.4 373.0h0M341.9 397.5h0M388.0 355.6h0M348.3 363.8h0M382.1 351.8h0M335.5 401.4h0M356.6 359.8h0M383.7 354.8h0M383.2 354.0h0M388.1 357.4h0M386.9 359.7h0M337.7 369.6h0M368.2 355.7h0M350.6 362.8h0M374.0 371.4h0M355.3 360.5h0M372.6 354.1h0M329.4 376.6h0M388.0 357.0h0M375.2 370.3h0M372.1 354.4h0M386.9 355.7h0M382.9 354.6h0M318.5 389.4h0M343.6 396.2h0M375.3 353.3h0M344.7 365.9h0M364.4 379.4h0M383.6 355.7h0M331.8 374.4h0M327.0 379.2h0M385.2 361.3h0M364.1 357.3h0M330.9 404.0h0M376.8 368.8h0M357.7 359.6h0M360.4 358.5h0M331.3 403.7h0"/>
<path stroke="#0000e3" d="M379.3 352.4h0M347.3 364.6h0M387.3 356.7h0M382.1 354.1h0M346.9 364.8h0M381.4 364.8h0M381.7 353.0h0M335.6 401.2h0M335.8 371.2h0M369.2 355.7h0M382.8 363.5h0M337.7 369.9h0M377.5 352.8h0M327.7 378.6h0M379.8 352.5h0M356.9 360.1h0M330.7 375.6h0M361.8 358.3h0M385.9 356.4h0M383.5 356.4h0M345.2 394.9h0M369.2 375.2h0M372.8 372.0h0M336.1 371.1h0M385.1 361.0h0M358.7 359.4h0M367.5 376.6h0M386.5 358.8h0M357.5 359.9h0M381.7 355.5h0M334.3 401.9h0M385.3 360.6h0M376.2 369.0h0M368.0 376.1h0M363.3 358.0h0M376.1 369.0h0M331.0 375.5h0M345.6 394.6h0M382.9 356.7h0M365.6 357.2h0M371.3 355.2h0M348.1 392.7h0M364.3 379.2h0M350.9 363.1h0M358.5 359.6h0M345.2 366.0h0M374.0 354.2h0M358.9 359.5h0M360.7 358.9h0M364.0 379.5h0M368.2 356.4h0M386.5 357.8h0M386.1 357.1h0M380.5 365.1h0M356.0 386.1h0M382.9 356.9h0M339.6 398.6h0M332.9 402.7h0M330.2 404.2h0M386.1 358.1h0M380.9 355.1h0M385.2 357.3h0M362.3 358.6h0M371.2 355.4h0M378.0 367.1h0M333.2 373.8h0M386.0 358.3h0M364.9 357.8h0M384.2 357.3h0M360.2 382.5h0M379.6 365.7h0M360.2 359.3h0M337.4 370.6h0M354.3 361.7h0M383.1 357.5h0M384.6 360.6h0M384.9 357.7h0M377.4 367.4h0M380.0 354.1h0M337.7 370.5h0M354.0 387.6h0M380.2 354.7h0M339.7 369.3h0M356.2 360.9h0M385.2 359.3h0M366.6 357.4h0M384.7 360.0h0M349.5 364.2h0M373.0 371.2h0M377.6 353.8h0M358.0 384.2h0M379.5 365.4h0M343.1 396.1h0M375.5 354.3h0M384.1 360.8h0M337.8 399.6h0M332.7 374.6h0M344.5 395.1h0M376.4 368.0h0M351.1 390.0h0M324.1 407.1h0M338.8 370.1h0M384.6 359.2h0M361.7 381.0h0M327.6 379.6h0M338.3 370.5h0M350.7 390.2h0M334.2 373.4h0M338.1 370.6h0M324.8 382.5h0M327.6 405.3h0M381.7 358.7h0M365.4 358.2h0M376.7 354.3h0M384.1 359.8h0M375.1 368.9h0M378.7 354.4h0M380.9 358.8h0M314.6 396.3h0M338.2 399.2h0M364.7 358.6h0M382.9 359.1h0M383.6 360.0h0M380.9 363.5h0M337.9 399.3h0M329.2 378.1h0M369.1 357.0h0M381.2 363.1h0M379.2 358.2h0M338.2 370.7h0M383.2 359.6h0M379.2 365.0h0M362.3 380.3h0M382.2 362.0h0M376.6 354.6h0M382.6 359.5h0M344.3 367.2h0M367.5 357.7h0M380.6 359.5h0M353.3 387.9h0M371.7 371.7h0M354.1 362.4h0M369.4 373.8h0M382.4 361.4h0M346.9 365.9h0M380.6 359.7h0M328.9 378.6h0M371.7 356.1h0M335.7 372.7h0M360.9 381.5h0M328.6 404.7h0M342.0 368.6h0M340.2 397.8h0M368.1 357.5h0M378.7 357.9h0M359.3 360.6h0M364.2 359.1h0M326.2 381.4h0M371.4 356.3h0M379.9 359.9h0M361.7 360.0h0M382.0 360.4h0M378.5 356.7h0M347.2 365.9h0M348.7 365.1h0M375.3 368.1h0M367.5 375.5h0M363.4 359.5h0M380.7 360.3h0M374.8 368.5h0M373.7 355.5h0M330.7 403.5h0M347.0 393.0h0M378.4 356.7h0M370.6 372.5h0M370.3 356.8h0M381.4 361.4h0M374.8 355.3h0M378.3 357.0h0M345.1 367.1h0M374.2 369.0h0M378.1 355.9h0M324.4 406.7h0M326.3 381.4h0M332.5 402.4h0M364.8 377.8h0M377.2 355.5h0M377.8 359.4h0M329.4 378.5h0M372.5 370.3h0M328.4 379.4h0M379.8 363.1h0M380.2 362.3h0M377.7 356.1h0M377.8 360.0h0M377.7 359.0h0M361.0 360.6h0M369.8 357.2h0M363.9 378.5h0M379.7 362.9h0M371.4 371.4h0M379.8 362.3h0M374.6 368.2h0M357.0 361.8h0M363.0 379.4h0M377.5 358.1h0M376.0 366.8h0M340.7 369.9h0M334.0 374.6h0M347.8 392.1h0M330.5 403.5h0M367.4 358.3h0M379.3 362.3h0M378.1 364.4h0M330.9 377.3h0M379.1 362.3h0M362.3 360.3h0M374.3 368.2h0M337.6 372.0h0M377.3 358.4h0M360.5 381.5h0M335.8 373.3h0M378.8 362.3h0M342.3 369.1h0M341.8 396.5h0M371.1 371.4h0M371.6 370.9h0M377.0 356.5h0M367.7 374.7h0M347.8 392.0h0M352.3 363.9h0"/>
<path stroke="#0000ff" d="M358.1 383.5h0M344.8 367.7h0M323.8 384.4h0M377.9 363.1h0M361.3 360.9h0M377.1 361.9h0M344.3 368.0h0M338.3 398.7h0M362.6 379.5h0M376.7 361.0h0M376.1 356.2h0M326.7 381.5h0M371.3 357.1h0M376.6 365.3h0M352.8 363.8h0M345.8 367.3h0M323.8 384.5h0M354.3 363.3h0M377.1 363.7h0M349.0 365.6h0M371.9 356.9h0M333.9 375.2h0M329.6 378.8h0M320.8 388.0h0M376.2 361.2h0M333.7 375.3h0M355.2 363.1h0M343.3 368.8h0M376.6 363.7h0M376.0 361.1h0M345.5 367.6h0M341.8 396.3h0M319.7 389.5h0M370.4 371.5h0M364.3 377.7h0M340.5 370.6h0M376.1 364.6h0M376.2 358.0h0M341.8 369.8h0M375.6 365.2h0M372.8 368.9h0M375.9 357.3h0M373.6 367.8h0M331.0 403.0h0M375.5 365.0h0M326.1 382.3h0M329.3 403.9h0M356.1 363.0h0M350.8 389.4h0M361.9 361.2h0M333.5 401.5h0M357.8 362.6h0M340.2 371.0h0M372.9 368.4h0M334.2 375.3h0M324.3 406.4h0M348.1 366.4h0M320.9 388.1h0M354.8 385.9h0M362.0 361.3h0M361.3 361.6h0M357.6 362.8h0M375.1 360.8h0M357.0 384.0h0M337.1 399.2h0M375.4 358.1h0M324.9 383.7h0M334.5 375.2h0M374.4 365.7h0M344.9 368.3h0M324.5 384.2h0M371.0 370.3h0M327.8 404.6h0M360.4 381.0h0M374.6 363.5h0M374.6 362.0h0M328.6 380.2h0M334.2 375.6h0M352.3 364.8h0M374.9 359.9h0M364.1 360.7h0M342.6 395.5h0M371.1 369.9h0M354.0 364.2h0M372.3 357.7h0M374.9 358.9h0M373.6 366.1h0M329.1 403.9h0M355.0 385.6h0M344.2 394.3h0M331.2 402.7h0M370.9 358.1h0M333.8 401.1h0M346.6 367.6h0M340.9 371.0h0M326.7 405.1h0M364.1 377.2h0M371.8 357.9h0M369.7 371.2h0M373.7 357.8h0M373.0 367.0h0M334.4 400.7h0M360.0 362.5h0M347.5 391.7h0M374.1 361.2h0M338.0 373.1h0M345.1 368.6h0M372.7 366.9h0M362.3 378.9h0M364.0 377.2h0M371.7 368.5h0M373.3 364.9h0M331.1 378.4h0M373.4 363.5h0M324.4 406.1h0M373.9 360.8h0M374.1 359.1h0M355.4 364.2h0M373.8 358.5h0M373.4 362.8h0M349.1 366.6h0M371.3 368.7h0M371.7 368.1h0M338.2 373.2h0M366.8 360.1h0M370.5 358.8h0M349.2 366.7h0M350.4 366.2h0M361.3 379.7h0M330.9 378.8h0M343.6 394.5h0M348.1 367.3h0M373.0 362.5h0M321.6 407.3h0M364.5 361.1h0"/>
<path stroke="#000cff" d="M372.0 358.7h0M356.2 384.2h0M372.9 359.0h0M355.2 385.1h0M335.8 375.1h0M372.3 364.4h0M351.3 366.1h0M371.6 366.8h0M358.7 363.6h0M372.6 359.2h0M320.5 389.4h0M325.5 383.7h0M372.1 364.0h0M354.1 365.2h0M351.0 366.3h0M372.7 359.5h0M367.4 372.9h0M339.9 372.4h0M372.1 363.9h0M327.2 382.2h0M356.7 364.4h0M342.3 370.9h0M357.6 382.9h0M370.6 359.2h0M344.7 393.5h0M371.8 365.1h0M358.5 382.0h0M368.7 359.8h0M327.5 381.9h0M330.4 402.8h0M318.3 408.3h0M371.3 366.5h0M324.0 385.4h0M371.8 359.3h0M342.6 370.8h0M338.4 373.5h0M370.4 368.2h0M357.0 383.2h0M344.7 369.6h0M331.9 378.4h0M371.9 362.9h0M317.0 394.5h0M370.4 368.1h0M354.4 365.4h0M366.9 373.1h0M371.5 364.1h0M371.4 364.5h0M372.2 360.4h0M338.9 373.3h0M337.3 398.5h0M371.2 365.1h0M347.8 390.9h0M348.3 367.8h0M317.7 393.6h0M372.0 361.4h0M359.8 363.6h0M350.4 367.0h0M371.1 359.7h0M350.0 367.2h0M352.7 366.2h0M371.8 360.4h0M369.2 369.6h0M371.5 360.1h0M357.4 382.7h0M328.6 381.2h0M340.8 372.2h0M338.9 373.5h0M352.9 386.6h0M341.9 395.4h0M371.7 361.0h0M334.2 376.8h0M318.4 392.6h0M360.9 363.2h0M317.3 408.4h0M365.2 374.6h0M335.0 376.3h0M370.2 367.0h0M366.7 372.7h0M369.8 367.7h0M350.2 367.3h0M343.8 393.9h0M347.1 368.7h0M367.7 371.3h0M368.8 360.4h0M371.3 360.7h0M344.3 393.5h0M342.4 394.9h0M369.8 367.4h0M369.2 368.9h0M366.3 373.2h0M321.8 406.9h0M371.1 360.6h0M344.6 393.2h0M362.4 362.8h0M364.8 361.8h0M370.7 360.4h0M350.4 388.6h0M370.2 365.9h0M319.5 391.2h0M369.9 366.7h0M351.9 366.8h0M369.0 360.5h0M370.4 360.4h0M371.0 362.2h0M345.4 392.6h0M320.5 389.9h0M366.4 361.3h0M365.7 373.7h0M337.6 374.7h0M355.5 384.2h0M334.8 399.9h0M345.1 370.0h0M329.2 403.2h0M370.6 361.0h0M351.5 367.1h0M320.7 389.7h0M345.4 369.8h0M342.7 394.6h0M332.9 378.1h0M349.6 367.9h0M344.4 370.4h0M368.8 368.8h0M347.3 368.9h0M352.1 387.0h0M352.7 366.7h0M370.0 364.8h0M369.8 365.5h0M340.7 372.7h0M339.8 396.6h0M330.9 379.7h0M321.3 389.0h0M342.4 371.7h0M360.3 379.5h0M354.6 366.1h0M362.6 377.1h0M323.3 386.7h0M366.7 361.4h0M341.7 372.2h0M361.4 363.5h0M336.8 375.5h0M348.7 389.8h0M346.5 369.5h0M362.3 377.4h0M364.2 375.2h0M365.7 373.2h0M369.5 365.4h0M346.5 369.6h0M337.8 374.9h0M368.9 367.4h0M345.6 370.0h0"/>
<path stroke="#0024ff" d="M349.8 388.8h0M368.6 367.7h0M350.7 367.8h0M369.9 362.1h0M361.7 377.9h0M351.3 367.6h0M363.8 375.4h0M365.6 373.1h0M358.7 364.8h0M368.1 369.0h0M328.0 382.3h0M356.0 383.4h0M369.2 364.9h0M351.4 387.4h0M328.2 382.1h0M352.4 367.3h0M354.0 366.8h0M366.0 362.0h0M322.1 388.4h0M339.1 374.2h0M338.1 374.8h0M347.3 369.5h0M344.1 371.1h0M353.9 366.9h0M358.4 381.1h0M363.8 375.1h0M366.5 371.5h0M330.2 380.6h0M345.8 370.3h0M324.7 385.5h0M367.8 368.7h0M348.8 368.9h0M346.3 370.0h0M362.1 377.0h0M355.7 383.6h0M368.7 362.0h0M323.8 405.7h0M361.5 377.8h0M331.7 401.5h0M368.6 362.1h0M366.5 362.1h0M367.7 362.0h0M351.1 368.1h0M332.7 378.8h0M367.0 370.1h0M363.3 375.6h0M323.7 386.6h0M362.1 377.0h0M352.0 367.7h0M366.9 362.1h0M348.2 389.9h0M347.8 369.5h0M361.2 377.9h0M341.7 372.8h0M357.5 365.6h0M320.5 407.0h0M339.6 396.4h0M349.7 368.7h0M339.9 396.2h0M321.6 389.2h0M341.2 373.1h0M368.3 365.4h0M337.1 375.8h0M366.6 370.4h0M346.5 370.2h0M365.8 371.9h0M327.2 383.3h0M368.3 365.0h0M367.8 366.6h0M367.2 362.3h0M338.8 374.7h0M365.7 371.9h0M366.0 362.5h0M368.5 363.3h0M368.4 363.0h0M331.0 380.2h0M363.8 363.2h0M349.3 369.0h0M344.2 392.9h0M365.0 362.9h0M338.5 374.9h0M365.3 362.8h0M368.3 363.5h0M365.1 362.9h0M350.5 387.8h0M364.6 363.1h0M356.0 383.0h0M367.3 367.7h0M366.6 362.6h0M344.8 371.3h0M367.8 365.3h0M367.7 365.7h0M365.6 371.7h0M333.9 378.2h0M316.7 407.8h0M317.5 395.0h0M316.6 396.3h0M336.4 376.5h0M364.9 372.6h0M325.5 385.1h0M366.7 369.0h0M316.9 395.8h0M367.9 364.6h0M342.4 394.2h0M339.6 374.4h0M338.7 396.8h0M330.0 402.4h0M330.2 381.0h0M360.0 364.9h0M367.8 364.2h0M362.8 375.5h0M365.8 370.9h0M351.1 387.2h0M363.6 374.4h0M367.0 367.5h0M365.3 363.1h0M367.6 363.9h0M358.1 365.8h0M327.5 383.3h0M358.6 365.6h0M346.2 370.7h0M359.8 378.9h0M362.2 364.1h0M352.4 368.2h0M364.1 373.5h0M327.4 383.4h0M358.6 380.2h0M367.3 363.8h0M338.6 375.2h0M366.1 369.4h0M355.5 383.2h0M367.2 364.8h0M359.1 379.6h0M319.8 391.9h0M354.8 383.8h0M335.4 377.3h0M355.0 367.2h0M360.4 365.0h0M328.7 403.0h0M351.6 368.6h0M362.5 375.5h0M367.0 365.4h0M351.9 386.4h0M353.6 384.9h0M352.8 385.6h0"/>
<path stroke="#0040ff" d="M366.1 369.0h0M347.2 370.5h0M361.7 376.4h0M366.8 363.8h0M348.2 370.1h0M364.8 371.7h0M366.5 367.1h0M365.5 370.0h0M344.7 392.2h0M331.7 401.2h0M360.6 365.0h0M323.6 387.3h0M340.7 374.1h0M314.7 399.4h0M335.3 377.5h0M365.1 370.9h0M356.5 366.7h0M359.4 365.5h0M363.6 373.6h0M366.7 364.8h0M361.2 376.9h0M363.4 364.1h0M336.8 376.6h0M364.6 371.6h0M357.0 381.5h0M365.4 369.7h0M355.3 367.3h0M354.8 367.5h0M340.0 374.6h0M355.8 382.7h0M357.3 366.5h0M325.9 385.1h0M359.2 379.1h0M358.7 379.6h0M355.0 383.4h0M365.3 364.0h0M322.4 405.9h0M322.8 388.4h0M363.8 372.9h0M360.2 377.8h0M358.9 379.4h0M365.7 367.9h0M327.3 383.8h0M339.8 395.8h0M338.1 375.9h0M365.5 368.2h0M317.9 394.8h0M348.3 370.4h0M315.5 398.3h0M364.4 364.2h0M328.0 383.2h0M344.7 372.1h0M345.1 391.7h0M325.2 385.9h0M365.1 369.2h0M321.3 390.3h0M325.7 385.3h0M347.7 370.7h0M365.6 366.8h0M351.3 369.3h0M347.4 370.9h0M362.7 374.1h0M353.3 368.4h0M364.0 364.5h0M344.8 372.2h0M362.3 374.8h0M343.4 372.9h0M338.2 396.8h0M338.0 396.9h0M359.2 366.0h0M324.8 404.8h0M365.4 366.9h0M362.4 364.9h0M347.8 389.4h0M359.6 365.9h0M352.8 385.1h0M348.0 370.8h0M357.2 366.9h0M358.4 366.4h0M355.3 382.8h0M324.2 405.0h0M335.2 378.0h0M363.8 364.8h0M326.1 385.2h0M365.2 366.2h0M361.3 365.4h0M360.4 365.7h0M336.6 377.1h0M315.1 407.3h0M341.8 374.0h0M362.8 373.4h0M314.1 401.0h0M362.1 374.6h0M336.5 377.3h0M353.4 384.5h0M342.0 393.9h0M325.2 386.1h0M347.3 389.7h0M353.5 368.6h0M364.9 366.3h0M363.9 370.7h0M356.7 367.3h0M350.0 387.4h0M357.2 380.7h0M362.8 365.2h0M338.9 396.1h0M320.7 406.3h0M326.7 384.7h0M313.9 406.8h0M363.3 371.8h0M364.4 368.0h0M345.6 391.0h0M363.1 365.3h0M364.3 368.6h0M354.0 368.5h0M364.5 366.0h0M328.7 383.0h0M355.1 382.7h0M363.9 369.8h0"/>
<path stroke="#0058ff" d="M337.2 397.3h0M359.6 377.7h0M354.7 368.2h0M340.3 395.1h0M338.5 376.2h0M363.4 365.5h0M361.6 365.7h0M335.9 377.8h0M355.4 368.0h0M363.4 371.0h0M353.0 369.1h0M363.1 365.5h0M332.5 380.1h0M356.6 367.5h0M345.3 372.5h0M332.0 380.6h0M360.2 376.7h0M350.3 370.2h0M359.0 378.3h0M361.0 366.0h0M360.0 376.8h0M362.1 373.4h0M353.7 383.9h0M343.1 373.7h0M332.8 380.0h0M329.0 382.9h0M325.5 386.0h0M324.9 386.6h0M328.9 383.0h0M334.2 399.2h0M319.7 406.5h0M339.7 375.6h0M351.3 386.1h0M357.7 379.7h0M345.2 391.2h0M361.3 374.6h0M363.5 366.6h0M363.6 367.3h0M341.6 374.6h0M350.6 386.6h0M359.6 366.6h0M361.1 374.7h0M323.8 404.9h0M325.7 385.9h0M363.4 367.2h0M363.1 366.5h0M350.5 370.4h0M363.1 366.6h0M329.1 383.0h0M350.1 387.0h0M362.8 370.6h0M362.5 371.3h0M360.4 375.7h0M354.2 368.8h0M363.2 368.6h0M315.8 406.9h0M355.0 382.3h0M356.9 380.3h0M320.4 406.2h0M362.0 372.6h0M361.6 366.5h0M338.3 396.3h0M316.2 406.9h0M362.5 370.5h0M357.3 379.6h0M362.8 368.7h0M361.4 373.4h0M362.6 367.2h0M327.5 403.0h0M351.4 370.3h0M353.0 369.6h0M330.0 382.4h0M330.5 401.2h0M350.9 370.6h0M359.4 376.6h0M335.5 398.1h0M362.4 368.2h0M362.4 368.6h0M333.9 379.6h0M362.4 368.4h0M328.5 383.7h0M352.7 384.3h0M359.9 367.2h0M320.6 406.0h0M357.0 368.1h0M361.8 371.0h0M354.0 369.3h0M362.0 370.1h0M339.0 376.4h0M337.8 377.2h0M361.8 371.1h0M346.7 372.5h0M358.3 367.7h0M351.9 370.2h0"/>
<path stroke="#0070ff" d="M359.0 367.5h0M361.6 371.6h0M358.1 378.2h0M342.3 393.1h0M340.6 394.4h0M336.1 397.6h0M331.2 400.8h0M354.2 369.3h0M334.6 379.3h0M361.9 368.3h0M326.1 385.9h0M327.7 402.8h0M339.5 395.2h0M323.4 388.7h0M328.1 384.1h0M346.0 372.9h0M361.1 372.7h0M361.4 371.6h0M323.4 388.8h0M328.5 383.8h0M328.7 383.6h0M358.7 367.8h0M358.8 376.9h0M349.8 386.8h0M349.7 371.3h0M354.7 369.2h0M361.3 371.1h0M348.9 371.7h0M324.9 404.2h0M352.9 383.8h0M324.2 404.5h0M354.7 369.2h0M342.3 374.8h0M322.7 389.7h0M348.9 371.7h0M327.0 385.2h0M361.3 368.2h0M356.8 379.5h0M318.2 395.5h0M357.9 368.1h0M360.6 367.8h0M352.5 384.2h0M327.5 384.7h0M361.2 370.2h0M355.5 380.9h0M341.9 375.1h0M345.6 373.2h0M358.0 368.2h0M359.6 375.0h0M351.7 384.9h0M341.7 375.2h0M360.7 368.1h0M356.0 368.9h0M361.1 368.7h0M341.6 375.3h0M357.5 368.4h0M360.1 373.8h0M355.3 381.1h0M360.4 368.1h0M356.3 368.8h0M359.8 374.2h0M358.9 376.0h0M359.3 375.3h0M358.1 377.4h0M341.9 393.2h0M331.7 381.5h0M313.8 404.5h0M342.4 374.9h0M355.9 380.3h0M359.8 374.2h0M322.4 390.2h0M358.8 376.0h0M357.8 368.4h0M330.5 382.4h0M351.8 370.7h0M336.7 397.1h0M343.8 391.7h0M354.9 381.4h0M325.6 386.7h0M356.4 368.9h0M338.7 377.0h0M328.9 383.7h0M358.6 376.2h0M322.0 405.2h0M324.0 404.4h0M358.8 368.4h0M348.1 388.0h0M315.3 400.3h0M360.1 372.6h0M351.4 371.0h0M359.9 373.3h0M357.9 377.1h0M358.6 368.5h0M360.3 369.2h0M339.8 394.7h0M344.4 391.1h0M359.2 374.6h0M358.1 376.8h0M358.6 375.9h0M360.2 369.2h0M320.6 392.7h0M357.6 368.7h0M329.4 383.4h0M322.7 390.0h0M330.8 382.3h0M356.0 379.8h0M359.3 368.7h0M332.2 381.3h0M346.3 389.5h0M321.3 391.8h0M355.4 369.6h0"/>
<path stroke="#008cff" d="M357.0 378.2h0M356.5 379.0h0M356.5 369.2h0M321.7 391.3h0M320.3 405.7h0M317.2 397.4h0M358.9 368.9h0M360.0 371.2h0M360.0 370.0h0M360.0 370.0h0M355.7 380.0h0M340.5 394.1h0M359.3 373.6h0M335.7 397.6h0M327.7 384.9h0M358.6 375.2h0M359.8 371.3h0M358.3 375.7h0M353.4 382.6h0M314.9 405.8h0M340.3 376.4h0M356.6 378.5h0M357.8 376.6h0M359.6 370.1h0M358.6 369.1h0M319.2 394.6h0M317.5 396.9h0M338.8 395.3h0M325.7 387.0h0M349.3 386.7h0M354.0 370.2h0M349.5 386.5h0M355.7 379.7h0M355.7 379.6h0M356.1 379.2h0M359.5 370.2h0M348.3 387.5h0M359.1 369.5h0M340.5 376.3h0M352.2 383.8h0M341.6 393.1h0M318.4 395.7h0M359.1 373.0h0M334.2 398.5h0M344.1 374.5h0M337.0 378.4h0M359.4 371.4h0M330.2 383.1h0M350.6 371.7h0M331.1 382.4h0M341.5 375.8h0M350.7 385.2h0M323.6 389.3h0M359.1 370.1h0M359.2 370.7h0M359.1 372.3h0M350.1 385.7h0M359.2 371.6h0M347.8 387.9h0M358.2 375.2h0M354.7 380.7h0M353.0 370.8h0M345.0 374.2h0M356.5 378.2h0M358.5 374.1h0M315.2 405.6h0M354.3 370.4h0M351.3 384.5h0M342.1 392.6h0M315.5 405.8h0M345.4 374.1h0M354.2 370.5h0M335.7 379.3h0M358.8 373.0h0M340.4 394.0h0M358.9 370.5h0M358.1 374.9h0M339.6 394.5h0M340.5 376.5h0M358.9 371.7h0M353.7 381.8h0M350.3 372.1h0M358.8 371.1h0M356.7 377.4h0M355.1 370.3h0M358.0 370.0h0M357.9 374.9h0M341.0 376.3h0M347.3 373.3h0M358.4 373.3h0M342.6 375.5h0M346.1 373.9h0M332.8 381.3h0M330.0 383.4h0M320.3 405.4h0M344.7 390.4h0M318.8 405.7h0M342.8 375.4h0M317.0 398.1h0M357.0 370.1h0M357.5 375.4h0M351.8 383.8h0M345.5 374.2h0M358.3 372.7h0M336.7 396.6h0M325.9 387.1h0M357.1 370.2h0M358.2 371.0h0M340.5 393.7h0"/>
<path stroke="#00a4ff" d="M323.5 389.6h0M358.3 371.5h0M345.3 374.4h0M334.9 380.0h0M344.2 374.9h0M358.0 371.2h0M351.1 384.4h0M356.7 376.5h0M351.7 371.7h0M352.9 382.4h0M356.1 377.7h0M349.3 386.1h0M330.2 383.4h0M357.9 373.1h0M355.3 379.0h0M338.5 377.9h0M326.6 402.7h0M357.5 370.8h0M324.5 388.7h0M354.4 380.2h0M350.6 372.3h0M356.7 370.7h0M351.3 384.0h0M349.5 372.7h0M341.1 393.2h0M355.2 378.9h0M321.7 404.8h0M356.4 376.7h0M329.2 401.2h0M354.1 380.5h0M341.6 376.3h0M337.5 395.9h0M343.5 391.1h0M318.1 405.6h0M353.3 371.4h0M334.2 380.6h0M356.8 375.7h0M344.2 375.1h0M345.1 374.7h0M350.5 384.7h0M346.8 388.3h0M357.4 373.8h0M348.6 386.6h0M340.1 377.1h0M340.5 393.5h0M333.8 381.0h0M347.2 387.9h0M341.4 392.8h0M352.5 371.7h0M338.9 394.8h0M343.4 391.1h0M337.5 378.7h0M356.1 371.1h0M350.3 384.8h0M354.6 371.2h0M355.9 377.2h0M348.9 386.2h0M326.7 386.6h0M319.2 395.2h0M355.2 378.3h0M356.9 371.7h0M356.9 374.5h0M357.0 374.0h0M356.2 371.3h0M353.6 371.6h0M323.7 389.8h0M315.9 400.3h0M353.5 380.9h0M353.0 371.8h0M327.2 386.2h0M319.4 405.3h0M350.0 385.0h0M350.7 372.6h0M354.0 380.0h0M343.6 390.9h0M354.9 371.4h0M348.5 373.5h0M347.2 387.7h0M344.8 389.8h0M325.1 388.4h0M350.6 384.3h0M356.7 372.4h0M356.5 374.8h0M327.8 385.7h0"/>
<path stroke="#00c0ff" d="M348.3 373.6h0M355.1 371.6h0M339.1 377.9h0M334.4 397.8h0M356.4 372.2h0M331.0 400.0h0M335.9 379.8h0M332.8 398.9h0M355.8 376.4h0M334.0 381.0h0M355.9 376.3h0M324.1 403.7h0M341.5 392.5h0M353.8 380.0h0M342.7 391.5h0M323.1 404.1h0M326.2 387.3h0M356.3 374.8h0M355.3 371.7h0M355.1 377.7h0M347.9 386.9h0M324.2 389.5h0M352.1 372.3h0M328.7 401.3h0M355.6 371.9h0M356.1 375.3h0M352.8 372.2h0M352.5 372.2h0M355.8 372.1h0M342.9 391.3h0M346.8 387.9h0M356.2 374.8h0M355.6 376.3h0M345.2 389.3h0M347.1 387.6h0M324.1 403.6h0M352.5 372.3h0M324.4 389.3h0M351.9 372.5h0M331.3 383.0h0M326.7 387.0h0M332.1 382.5h0M349.9 384.7h0M346.6 374.5h0M352.5 381.5h0M353.9 372.1h0M322.2 391.9h0M325.4 388.3h0M343.6 375.9h0M331.9 399.3h0M355.0 372.3h0M319.8 405.0h0M352.6 372.4h0M349.4 385.1h0M354.6 372.3h0M344.4 375.6h0M348.4 386.1h0M354.2 372.3h0M351.8 382.3h0M331.5 399.5h0M320.3 404.8h0M355.4 375.7h0M350.6 383.7h0M325.5 402.9h0M331.9 382.8h0M354.3 378.2h0M348.5 386.0h0M348.7 385.7h0M330.8 399.9h0M340.9 392.7h0M324.2 403.4h0M345.8 388.5h0M355.0 376.5h0M351.6 382.3h0M327.0 386.8h0M341.4 377.1h0M321.6 404.4h0M321.7 404.4h0M355.4 374.0h0M351.0 383.1h0M337.4 395.5h0M355.1 376.0h0M355.4 375.0h0M350.9 383.2h0M319.2 405.0h0M354.0 372.7h0M355.0 376.0h0"/>
<path stroke="#00d8ff" d="M318.0 405.0h0M351.0 373.2h0M316.3 404.7h0M317.4 405.0h0M355.2 375.1h0M354.2 372.8h0M327.9 386.1h0M350.0 384.2h0M317.3 405.0h0M350.6 383.4h0M347.1 387.1h0M326.1 387.9h0M351.7 373.1h0M318.9 396.3h0M325.7 402.6h0M316.4 404.6h0M354.8 375.9h0M351.7 381.8h0M335.5 380.5h0M336.2 380.1h0M350.2 373.6h0M350.0 383.9h0M326.7 387.3h0M353.5 378.9h0M324.5 403.2h0M320.8 404.5h0M328.6 385.6h0M337.0 379.6h0M354.5 373.5h0M354.7 375.9h0M319.2 396.0h0M327.2 386.9h0M332.1 399.0h0M351.3 382.2h0M354.2 373.3h0M336.0 396.4h0M326.1 402.4h0M329.2 385.1h0M318.8 396.5h0M346.8 374.9h0M336.3 380.1h0M346.6 375.0h0M352.9 373.2h0M340.8 377.6h0M345.1 375.7h0M323.3 391.0h0M319.0 396.3h0M347.0 387.1h0M352.6 373.3h0M329.2 400.7h0M315.9 401.8h0M329.8 384.7h0M354.6 374.4h0M338.5 378.9h0M321.5 404.2h0M333.6 381.9h0M350.5 373.8h0M321.5 393.2h0M343.6 376.3h0M350.8 382.6h0M320.1 394.9h0M326.0 388.2h0M316.7 400.0h0M353.8 377.5h0M323.2 403.6h0M343.5 376.4h0M331.6 399.2h0M338.7 394.3h0M344.9 375.8h0M333.2 398.2h0M330.0 400.2h0M349.8 374.0h0M330.5 384.2h0M325.2 389.0h0M354.1 374.2h0M316.1 403.9h0M354.1 374.3h0M350.4 383.1h0M345.5 388.4h0M350.8 382.5h0M336.7 380.0h0M346.0 375.5h0M318.7 404.7h0M350.7 382.5h0M353.1 378.7h0M325.9 388.4h0M325.3 402.6h0M333.7 382.0h0M353.9 376.7h0M343.1 376.7h0M354.1 375.0h0M353.8 374.1h0M347.1 386.7h0M316.0 401.9h0M350.7 382.4h0M344.4 389.3h0"/>
<path stroke="#09f0ee" d="M353.3 378.1h0M325.6 388.7h0M351.1 373.9h0M319.0 396.5h0M349.8 383.5h0M339.7 378.4h0M316.4 401.1h0M351.9 380.5h0M329.4 385.2h0M319.7 395.6h0M331.6 383.5h0M341.0 377.8h0M353.2 374.1h0M321.9 392.8h0M350.5 382.6h0M352.2 379.9h0M350.8 382.1h0M327.9 386.5h0M322.4 403.8h0M331.2 399.3h0M351.6 374.0h0M352.1 374.0h0M331.9 383.3h0M327.6 401.4h0M353.6 376.2h0M333.4 397.9h0M348.3 374.9h0M328.6 385.9h0M341.8 377.5h0M353.6 375.4h0M339.4 378.7h0M329.0 400.6h0M330.2 399.9h0M329.1 385.6h0M344.9 388.7h0M319.0 404.5h0M322.7 403.6h0M324.5 390.0h0M336.7 380.2h0M325.9 388.6h0M350.9 374.2h0M350.7 382.0h0M336.3 395.8h0M343.2 376.9h0M351.2 381.2h0M352.9 374.5h0M324.1 403.1h0M353.4 376.2h0M347.4 386.1h0M348.2 385.2h0M340.5 392.5h0M321.0 394.1h0M353.3 375.1h0M333.6 397.7h0M321.1 394.0h0M340.1 392.8h0M351.0 374.4h0M346.6 375.6h0M334.8 396.9h0M320.1 404.3h0M338.2 379.4h0M336.5 395.6h0M350.0 374.6h0M352.9 374.9h0M341.9 391.3h0M351.5 374.4h0M350.6 374.5h0M347.3 386.1h0M339.9 378.6h0M334.4 381.8h0M352.6 378.0h0M341.3 377.9h0M350.0 374.7h0M343.9 389.5h0M336.6 395.5h0M352.5 374.8h0M341.2 378.0h0M352.5 374.8h0M338.1 379.6h0M335.7 381.0h0M329.1 400.4h0M352.0 379.3h0M352.5 375.0h0"/>
<path stroke="#1fffd7" d="M339.8 378.7h0M343.9 376.8h0M340.8 378.2h0M344.5 376.6h0M331.0 399.3h0M329.3 400.3h0M329.8 385.3h0M352.0 379.1h0M346.7 375.8h0M332.1 398.5h0M350.9 381.0h0M317.9 404.2h0M350.2 382.2h0M329.6 400.1h0M333.5 397.6h0M330.8 384.5h0M352.6 377.4h0M320.7 394.7h0M321.3 403.9h0M352.7 376.6h0M338.5 379.5h0M348.2 384.7h0M323.9 391.0h0M323.3 403.2h0M318.7 397.4h0M352.1 378.6h0M333.1 397.9h0M346.3 376.0h0M323.8 391.1h0M344.8 388.3h0M342.7 377.4h0M326.6 388.2h0M325.6 402.2h0M343.1 377.3h0M337.7 394.5h0M321.4 403.8h0M332.0 383.7h0M343.8 377.0h0M346.4 386.7h0M345.3 387.9h0M352.4 377.1h0M343.6 377.1h0M349.8 382.4h0M328.1 386.8h0M348.9 383.7h0M316.8 401.1h0M326.2 388.6h0M351.7 379.2h0M338.5 393.8h0M351.9 375.4h0M331.0 399.2h0M342.8 377.5h0M352.3 376.7h0M322.4 392.8h0M318.3 404.1h0M344.5 388.6h0M348.2 384.6h0M317.2 400.1h0M351.6 375.4h0M352.1 375.9h0M324.8 402.5h0M342.3 377.7h0M349.1 383.3h0M350.4 375.2h0M350.4 375.2h0M350.9 380.4h0M350.7 380.7h0M350.0 375.3h0M348.7 383.8h0M330.0 385.3h0M335.4 396.2h0M351.5 379.2h0M345.5 387.5h0M341.8 391.0h0M332.5 383.5h0M322.2 403.4h0M317.2 403.5h0M346.9 386.0h0M337.1 380.5h0M325.4 402.1h0M328.2 386.9h0M317.0 403.3h0M342.9 390.0h0M324.8 402.4h0M336.0 381.2h0M319.6 396.4h0M335.8 395.8h0M342.1 378.0h0M350.4 375.5h0M334.5 382.1h0M351.9 377.2h0"/>
<path stroke="#33ffc4" d="M331.3 384.4h0M328.7 386.5h0M332.0 383.8h0M346.0 376.5h0M348.9 375.7h0M331.6 384.1h0M351.7 377.8h0M351.0 379.7h0M320.3 403.8h0M346.6 386.2h0M330.7 384.8h0M325.3 402.2h0M328.2 387.0h0M321.0 403.7h0M347.9 375.9h0M334.7 396.5h0M317.9 403.8h0M344.1 388.7h0M351.1 379.4h0M346.8 376.3h0M332.2 383.8h0M332.4 383.6h0M336.7 395.0h0M340.0 379.1h0M345.4 387.3h0M318.0 399.1h0M351.0 375.9h0M342.4 378.0h0M321.4 394.1h0M334.9 396.4h0M351.4 376.5h0M346.6 376.4h0M351.4 376.5h0M350.8 375.9h0M347.6 376.2h0M345.8 386.8h0M339.9 392.5h0M333.4 397.4h0M343.8 388.9h0M332.7 397.9h0M351.2 378.5h0M346.9 376.4h0M334.1 382.6h0M350.7 376.1h0M336.5 395.2h0M331.9 398.3h0M323.1 392.2h0M350.2 380.6h0M348.6 376.0h0M320.2 395.8h0M324.8 402.3h0M322.2 393.4h0M337.5 394.3h0M324.3 402.5h0M319.5 403.7h0M345.4 377.0h0M337.9 394.0h0M336.7 394.9h0M318.7 403.7h0M350.0 376.1h0M317.2 402.8h0M327.1 388.2h0M341.1 391.3h0M351.2 377.3h0M336.7 394.9h0M336.9 380.9h0M322.1 393.5h0M350.9 378.6h0M334.6 396.5h0M317.3 400.8h0M341.6 378.5h0M336.8 381.0h0M336.4 381.2h0M347.9 376.3h0M348.6 376.2h0M351.0 378.2h0M317.2 401.8h0M328.6 400.3h0M337.3 380.7h0M321.9 403.2h0M322.4 393.2h0M337.8 394.0h0M336.4 395.1h0"/>
<path stroke="#49ffad" d="M345.3 387.1h0M349.5 376.3h0M350.5 379.4h0M347.9 376.5h0M317.2 402.0h0M331.9 398.2h0M347.7 384.2h0M340.6 379.1h0M346.2 386.1h0M338.7 380.0h0M327.7 387.8h0M345.7 386.6h0M348.8 382.5h0M334.2 396.6h0M333.3 383.3h0M325.4 390.0h0M350.7 377.9h0M349.3 381.6h0M320.6 395.5h0M325.1 402.0h0M350.5 377.0h0M347.9 376.5h0M340.9 391.3h0M342.5 389.8h0M317.5 400.6h0M349.4 376.5h0M350.1 379.8h0M349.5 381.1h0M350.3 379.3h0M333.4 383.3h0M323.1 392.5h0M341.1 379.0h0M333.5 383.3h0M343.7 388.6h0M326.9 388.6h0M346.0 386.1h0M317.7 402.8h0M350.4 377.5h0M318.5 403.3h0M319.6 397.0h0M325.1 401.9h0M350.2 379.2h0M347.2 376.9h0M331.6 384.7h0M345.5 386.6h0M345.1 377.5h0M346.7 385.1h0M337.7 380.8h0M350.3 378.5h0M345.9 386.1h0M323.5 392.2h0M350.3 377.9h0M348.2 383.1h0M319.6 403.4h0M345.2 377.5h0M344.9 387.3h0M325.7 401.6h0M347.0 377.0h0M325.2 390.3h0M347.5 376.9h0M350.0 377.6h0M317.5 401.6h0M342.2 378.6h0M325.8 389.8h0M319.7 403.4h0M321.1 395.0h0M330.3 399.0h0M329.8 386.2h0M331.1 398.5h0M348.1 377.0h0M341.1 379.2h0M336.1 395.0h0M340.7 391.3h0M338.1 380.7h0"/>
<path stroke="#5dff9a" d="M334.4 382.8h0M334.1 383.0h0M332.8 383.9h0M330.8 398.7h0M349.4 380.4h0M349.2 380.9h0M348.4 377.1h0M337.9 393.6h0M349.5 380.0h0M325.6 401.5h0M349.8 378.2h0M327.2 400.8h0M318.4 399.3h0M330.3 385.8h0M321.9 394.2h0M330.9 385.4h0M344.7 377.9h0M349.7 378.8h0M347.3 383.8h0M344.8 377.9h0M336.0 381.9h0M319.2 403.2h0M335.7 382.1h0M331.2 385.2h0M331.6 398.1h0M337.5 381.1h0M317.7 401.7h0M349.5 378.0h0M319.8 396.9h0M335.3 382.4h0M332.7 384.1h0M333.7 383.4h0M344.7 387.1h0M340.5 379.6h0M329.5 386.6h0M322.1 394.1h0M349.4 378.1h0M328.7 387.3h0M341.0 379.4h0M345.9 385.7h0M329.9 386.3h0M343.0 388.9h0M349.5 378.7h0M324.7 391.1h0M317.9 400.6h0M324.4 402.0h0M347.5 383.4h0M327.7 388.2h0M348.5 381.6h0M335.4 382.4h0M324.9 391.0h0M333.4 396.9h0M348.2 382.3h0M336.1 382.0h0M318.2 402.5h0M342.2 389.7h0M323.1 402.5h0M337.4 381.3h0M347.3 377.5h0M335.4 395.4h0M346.6 377.6h0M346.2 377.7h0M334.9 395.8h0M332.7 384.2h0M339.7 391.9h0M343.3 388.5h0M331.7 384.9h0M329.1 387.0h0M318.3 399.8h0M342.1 379.1h0M338.6 392.8h0M330.7 385.7h0M339.8 380.0h0M324.4 391.5h0M319.4 397.7h0M339.9 380.0h0M324.7 401.8h0M318.8 398.9h0M337.9 381.0h0M349.1 378.4h0M318.1 402.3h0M329.3 386.9h0M329.6 399.3h0M318.8 402.8h0M322.2 394.0h0M325.1 390.8h0M349.1 379.0h0M344.5 387.1h0M341.2 390.5h0M338.1 381.0h0M348.8 378.2h0"/>
<path stroke="#70ff87" d="M347.9 377.8h0M341.1 390.6h0M342.9 378.9h0M319.9 402.9h0M322.1 402.6h0M326.9 389.1h0M332.7 397.2h0M348.2 381.6h0M322.2 402.6h0M348.1 381.7h0M319.3 398.1h0M328.4 399.9h0M318.4 402.4h0M344.3 387.2h0M345.7 378.1h0M348.8 378.9h0M336.6 394.4h0M345.6 378.1h0M318.6 402.5h0M346.8 377.9h0M318.4 402.3h0M322.5 393.8h0M348.2 381.5h0M341.8 379.4h0M336.0 382.2h0M347.3 377.9h0M346.1 384.9h0M334.3 383.3h0M329.8 399.1h0M320.6 396.2h0M336.9 394.1h0M327.5 388.6h0M342.1 379.2h0M323.6 402.1h0M325.7 390.4h0M332.7 397.2h0M346.7 378.0h0M341.3 390.3h0M344.3 378.5h0M331.8 385.1h0M340.6 380.0h0M348.0 381.6h0M343.4 388.1h0M343.6 387.8h0M331.5 385.3h0M348.2 378.6h0M337.6 393.4h0M344.5 386.8h0M345.4 385.6h0M318.4 402.0h0M341.4 390.1h0M318.4 401.8h0M337.2 381.7h0M344.7 378.6h0M348.2 380.9h0M348.5 379.4h0M342.4 379.3h0M348.1 378.7h0M347.8 378.4h0M327.6 400.2h0M337.1 381.8h0M342.2 379.4h0M324.7 401.6h0M334.7 383.2h0M341.4 390.0h0M343.6 387.7h0M320.6 402.7h0M342.8 379.2h0M329.4 387.1h0M328.7 399.6h0M347.7 378.5h0M319.0 402.4h0M340.4 380.2h0M331.0 385.9h0M331.8 397.7h0M340.9 380.0h0"/>
<path stroke="#87ff70" d="M318.4 400.8h0M347.4 378.5h0M327.6 388.8h0M319.0 402.3h0M348.1 380.6h0M348.0 381.0h0M334.6 383.4h0M343.9 387.3h0M327.4 388.9h0M332.6 384.7h0M318.7 402.0h0M334.3 395.9h0M330.7 386.2h0M341.4 379.9h0M347.0 382.8h0M334.8 395.5h0M336.5 382.2h0M325.8 390.5h0M329.2 399.2h0M324.9 391.4h0M319.4 398.5h0M347.5 378.9h0M326.2 400.8h0M320.0 402.5h0M345.8 378.7h0M332.6 384.7h0M335.4 395.0h0M331.3 397.9h0M321.9 402.3h0M323.4 401.9h0M332.0 397.4h0M326.7 389.7h0M322.2 402.3h0M324.4 392.0h0M344.4 379.0h0M323.6 401.9h0M320.1 397.3h0M319.4 402.3h0M347.5 381.5h0M340.8 380.2h0M347.7 379.4h0M318.6 401.2h0M332.6 397.0h0M320.1 397.4h0M325.4 391.0h0M331.0 386.0h0M324.5 391.9h0M342.6 379.5h0M323.6 392.9h0M326.6 389.8h0M332.1 397.3h0M342.2 379.7h0M318.6 400.9h0M318.6 401.4h0M321.2 402.4h0M331.8 385.4h0M347.7 380.5h0M345.3 378.9h0M318.7 401.6h0M337.4 381.9h0M318.8 401.7h0M333.4 384.3h0M347.1 379.0h0M319.9 402.4h0M331.6 385.6h0M347.1 382.2h0M338.4 381.4h0M339.6 380.8h0M338.5 381.3h0M346.3 383.6h0M343.5 387.5h0M319.8 402.3h0M335.6 394.8h0M322.1 402.2h0M336.5 394.1h0M322.5 402.1h0M332.6 396.9h0M324.2 401.5h0M347.6 380.3h0M320.5 402.4h0M344.0 386.8h0M330.8 386.3h0M346.3 379.0h0M346.9 379.2h0M345.0 385.5h0M342.2 388.8h0M342.0 389.1h0M343.6 387.2h0M345.9 384.2h0M339.4 381.0h0M346.5 383.1h0M339.6 380.9h0M337.9 392.9h0M321.9 395.1h0M325.0 391.5h0M321.8 402.2h0M333.1 396.6h0"/>
<path stroke="#9aff5d" d="M319.3 399.0h0M321.2 402.3h0M324.0 392.6h0M331.4 385.9h0M347.4 380.3h0M342.2 388.7h0M335.3 383.3h0M338.8 392.0h0M339.1 381.2h0M347.1 381.5h0M330.5 386.6h0M321.2 396.1h0M340.8 380.5h0M345.3 379.2h0M342.6 388.3h0M326.8 389.9h0M327.5 400.0h0M334.7 383.7h0M336.3 382.7h0M345.4 379.2h0M346.0 379.3h0M346.3 383.2h0M336.0 382.9h0M347.0 381.4h0M337.8 381.9h0M327.4 389.3h0M337.3 393.3h0M332.7 396.8h0M340.4 380.7h0M346.5 379.4h0M318.9 401.0h0M346.6 379.5h0M329.9 398.5h0M347.0 380.0h0M341.3 380.3h0M346.2 383.3h0M346.2 383.3h0M335.4 383.3h0M340.4 380.7h0M327.0 389.7h0M339.0 391.8h0M319.3 399.4h0M346.0 379.5h0M346.9 381.3h0M325.4 400.9h0M319.0 400.8h0M334.2 395.6h0M346.7 380.0h0M320.2 397.6h0M336.4 382.8h0M346.6 379.9h0M346.9 380.8h0M319.2 401.4h0M346.8 381.3h0M319.1 400.9h0M344.4 385.8h0M321.4 395.9h0M337.7 392.8h0M325.9 390.9h0M329.4 387.6h0M346.8 381.3h0M346.0 383.3h0M346.0 383.4h0M337.4 393.1h0M328.5 388.5h0M330.7 386.6h0M339.1 381.4h0M346.8 380.8h0M336.5 382.7h0M341.7 389.0h0M319.7 401.8h0M319.2 400.0h0M346.3 379.9h0M330.2 398.3h0M345.0 379.6h0M344.6 385.5h0M322.0 395.1h0M319.6 398.9h0M341.0 380.7h0M330.3 387.0h0M329.2 398.9h0"/>
<path stroke="#b1ff46" d="M344.6 379.8h0M328.8 388.2h0M345.9 379.9h0M338.3 381.9h0M326.4 390.4h0M333.6 395.9h0M344.7 379.8h0M332.4 396.8h0M342.6 380.2h0M343.5 380.0h0M324.2 392.7h0M346.5 381.0h0M346.4 380.7h0M335.0 383.8h0M322.0 401.8h0M341.9 388.6h0M341.1 380.7h0M324.0 401.3h0M344.1 379.9h0M328.5 399.2h0M343.3 380.1h0M346.2 380.4h0M334.9 395.0h0M319.3 400.2h0M334.6 384.1h0M333.5 384.8h0M319.7 399.1h0M342.2 388.2h0M325.8 391.1h0M346.3 380.9h0M335.6 394.3h0M345.5 380.1h0M341.7 380.6h0M345.2 384.1h0M338.4 382.0h0M319.9 401.5h0M323.3 393.7h0M344.7 380.0h0M341.0 380.9h0M344.2 385.7h0M339.6 390.9h0M343.5 386.7h0M342.0 388.4h0M321.3 396.3h0M342.1 380.5h0M329.4 387.9h0M329.6 398.5h0M341.4 380.8h0M331.7 386.1h0M325.3 400.7h0M325.6 400.6h0M342.3 388.0h0M345.5 380.3h0M333.0 396.2h0M331.2 386.5h0M323.0 394.2h0M333.3 396.0h0M345.8 382.6h0M341.5 388.8h0M319.8 401.2h0M333.3 385.0h0M344.0 385.7h0M341.9 388.4h0M330.1 398.2h0M319.8 401.2h0M339.3 381.7h0M345.8 380.9h0M328.6 399.0h0M337.1 382.8h0M345.8 382.3h0M338.0 382.4h0"/>
<path stroke="#c4ff33" d="M320.2 398.2h0M340.0 390.3h0M322.4 401.6h0M322.1 395.3h0M335.9 383.5h0M345.3 383.5h0M321.5 396.2h0M338.1 382.3h0M326.3 400.2h0M345.6 380.8h0M339.0 391.3h0M330.9 386.8h0M339.6 381.7h0M339.2 391.1h0M332.0 396.9h0M341.5 381.0h0M340.9 381.2h0M345.6 382.3h0M320.8 397.3h0M320.4 398.0h0M323.1 394.2h0M345.6 381.2h0M328.5 388.8h0M344.9 380.6h0M345.6 381.1h0M343.2 380.6h0M343.2 386.6h0M336.2 393.7h0M345.5 382.6h0M343.8 380.5h0M322.2 395.4h0M336.2 383.4h0M344.9 380.7h0M329.4 388.1h0M345.4 381.1h0M342.6 387.3h0M332.2 385.9h0M328.6 388.8h0M328.0 399.3h0M337.2 392.8h0M341.1 389.0h0M320.4 398.0h0M345.3 383.0h0M344.7 384.2h0M342.8 387.1h0M334.2 395.2h0M320.1 401.1h0M338.2 382.4h0M333.0 385.4h0M340.6 381.4h0M344.4 380.6h0M338.0 382.5h0M345.5 382.2h0M321.7 396.1h0M328.0 399.2h0M345.1 383.4h0M344.8 383.9h0M334.9 384.2h0M340.1 381.6h0M327.9 389.4h0M344.8 383.9h0M341.5 381.1h0M338.1 391.9h0M338.5 391.6h0M344.4 384.7h0M334.9 384.3h0M335.0 394.6h0M344.4 384.6h0M343.7 380.8h0M329.1 398.6h0M321.4 401.4h0M344.6 380.9h0M325.8 400.3h0M343.7 385.6h0M333.5 395.6h0M339.6 390.5h0M345.2 382.5h0M325.3 392.0h0M338.4 391.7h0M324.2 400.9h0M331.8 396.9h0M344.8 383.6h0M323.9 393.5h0M324.6 392.8h0M345.0 381.3h0M344.0 385.1h0M343.8 385.5h0M328.2 389.2h0M343.7 385.5h0M320.4 398.3h0M343.4 380.9h0"/>
<path stroke="#d7ff1f" d="M321.9 396.0h0M331.2 386.9h0M341.1 381.4h0M323.4 394.1h0M343.9 380.9h0M320.6 398.1h0M329.0 398.6h0M340.6 381.6h0M344.3 384.5h0M343.9 381.0h0M323.8 401.0h0M337.4 383.0h0M344.9 381.5h0M341.0 381.5h0M343.4 381.0h0M323.8 393.6h0M333.7 395.4h0M340.1 381.8h0M337.1 383.2h0M325.8 391.6h0M344.7 383.5h0M337.3 392.5h0M325.5 391.9h0M344.6 383.5h0M339.8 390.2h0M344.4 384.1h0M330.8 397.4h0M332.9 396.0h0M341.8 387.9h0M320.2 399.2h0M328.3 398.9h0M332.1 396.5h0M342.9 386.4h0M322.6 395.2h0M343.4 381.2h0M330.9 397.3h0M335.9 393.6h0M330.3 397.7h0M338.9 390.9h0M339.7 382.1h0M321.2 397.2h0M344.8 382.7h0M341.8 381.4h0M335.0 384.4h0M325.6 400.2h0M329.4 388.4h0M341.4 381.5h0M323.4 394.2h0M337.1 383.3h0M342.1 387.4h0M331.2 397.1h0M336.7 393.0h0M341.1 381.7h0M328.1 399.0h0M325.3 400.3h0M340.8 381.8h0M322.7 401.1h0M322.1 395.9h0M343.3 385.7h0M335.4 394.0h0M326.7 399.7h0M343.8 384.8h0M335.9 384.0h0M337.6 383.1h0M342.2 381.5h0M340.5 381.9h0M330.3 397.6h0M321.6 396.7h0M340.2 389.6h0M344.3 381.9h0M326.1 391.5h0M321.0 400.9h0M328.3 389.4h0M344.4 382.2h0M320.3 399.5h0M334.1 385.1h0M341.2 381.8h0M342.1 387.3h0M343.0 386.0h0M343.5 381.6h0"/>
<path stroke="#eeff09" d="M324.9 400.4h0M325.4 392.2h0M344.4 382.4h0M327.6 390.1h0M324.1 393.5h0M344.1 383.8h0M325.0 400.3h0M338.1 391.5h0M326.1 391.5h0M320.6 398.9h0M323.1 400.9h0M325.1 392.6h0M340.5 389.1h0M343.8 384.4h0M342.7 386.3h0M339.6 390.0h0M322.4 401.0h0M321.0 397.9h0M328.3 389.5h0M327.0 399.4h0M321.4 397.1h0M321.9 401.0h0M325.2 392.4h0M337.6 391.9h0M344.2 382.9h0M337.9 391.6h0M336.6 383.8h0M331.2 387.2h0M341.9 387.4h0M321.5 400.9h0M337.4 392.1h0M321.7 396.8h0M328.3 389.6h0M343.9 383.9h0M344.1 382.7h0M343.5 384.7h0M343.3 385.2h0M332.4 386.4h0M322.1 396.2h0M343.7 384.3h0M335.8 384.3h0M341.2 382.0h0M331.8 386.8h0M328.6 398.5h0M343.5 384.6h0M324.6 400.3h0M341.2 382.1h0M343.3 382.0h0M333.6 385.6h0M332.4 386.4h0M327.6 399.0h0M340.4 382.3h0M329.3 388.7h0M342.0 387.0h0M336.8 383.8h0M341.2 382.1h0M320.9 400.4h0M320.6 399.5h0M334.1 385.3h0M322.7 395.5h0M332.0 396.3h0M325.9 391.8h0M326.4 391.4h0M332.8 386.2h0M320.9 400.3h0M340.4 382.4h0M333.9 385.5h0M340.8 388.5h0M333.1 386.0h0M321.8 400.8h0M339.8 389.6h0M326.0 399.7h0M340.0 382.5h0M322.3 396.1h0M331.7 396.5h0M320.8 398.9h0M343.6 383.8h0M343.7 382.9h0M321.0 398.3h0M333.6 395.1h0"/>
<path stroke="#ffea00" d="M342.0 382.1h0M339.8 382.6h0M339.8 389.5h0M322.3 400.7h0M320.9 400.2h0M339.4 390.0h0M343.0 385.2h0M340.6 388.7h0M330.1 388.2h0M322.0 396.6h0M332.2 386.7h0M343.6 383.3h0M337.1 392.2h0M341.1 388.0h0M334.4 385.3h0M339.0 390.3h0M320.8 399.6h0M340.3 382.5h0M342.1 382.2h0M335.1 384.8h0M342.4 386.2h0M331.2 396.8h0M322.4 395.9h0M327.9 398.7h0M331.7 387.1h0M343.1 382.5h0M326.5 391.4h0M320.9 399.9h0M336.7 384.0h0M333.9 394.8h0M322.2 396.4h0M339.8 389.4h0M333.0 386.2h0M343.0 384.8h0M336.4 392.7h0M343.2 384.3h0M324.1 393.9h0M343.1 382.6h0M329.1 389.2h0M341.0 382.5h0M341.9 382.4h0M343.3 383.0h0M337.6 391.6h0M343.3 383.7h0M341.0 388.0h0M338.1 383.5h0M342.7 382.6h0M338.4 390.8h0M327.0 399.1h0M334.9 394.0h0M328.2 398.5h0M341.1 382.5h0M325.7 399.7h0M334.3 385.5h0M333.1 395.3h0M339.8 389.3h0M336.4 392.7h0M343.0 382.9h0M326.8 391.2h0M321.5 400.3h0M341.4 382.5h0M340.7 382.7h0M324.9 393.2h0M336.5 392.6h0M342.5 385.6h0M326.1 391.9h0M321.1 399.3h0M337.0 392.1h0M321.2 399.8h0M341.0 382.7h0M327.5 398.8h0M340.0 382.9h0M330.6 388.0h0M333.7 394.8h0M322.2 400.4h0M327.8 390.4h0M326.9 399.1h0M342.1 382.7h0M334.0 394.6h0M330.5 397.0h0M339.2 389.9h0M337.8 391.3h0M331.4 387.5h0M339.0 390.1h0M323.5 400.3h0M331.1 396.7h0M321.8 397.3h0M339.2 383.2h0"/>
<path stroke="#ffd000" d="M326.1 392.0h0M337.5 391.6h0M338.6 390.5h0M341.7 382.7h0M328.8 398.1h0M338.4 383.5h0M325.8 399.5h0M321.2 398.8h0M328.1 390.1h0M342.8 384.6h0M333.1 386.3h0M324.1 400.1h0M327.1 391.0h0M321.2 398.9h0M327.3 398.8h0M328.1 398.4h0M321.8 400.2h0M321.3 399.6h0M341.4 382.8h0M335.6 393.2h0M339.9 383.1h0M340.5 388.3h0M321.3 398.7h0M342.7 384.4h0M342.6 383.2h0M322.9 400.3h0M324.3 393.9h0M342.3 385.6h0M342.5 385.1h0M321.3 399.1h0M325.3 392.9h0M342.3 383.1h0M340.2 388.6h0M321.3 399.5h0M323.9 394.4h0M322.8 400.3h0M342.3 383.1h0M327.2 391.0h0M322.0 397.2h0M333.4 386.2h0M329.2 397.8h0M325.1 399.7h0M321.4 398.5h0M323.1 400.2h0M323.5 400.2h0M330.7 396.8h0M321.4 398.6h0M342.0 385.8h0M322.0 400.1h0M342.1 383.1h0M333.4 394.9h0M329.0 389.5h0M342.3 383.3h0M329.1 397.8h0M341.6 386.5h0M340.6 383.1h0M321.6 399.7h0M327.5 390.8h0M323.3 400.1h0M336.6 392.2h0M324.8 393.5h0M338.1 383.9h0M321.4 398.8h0M332.0 387.3h0M334.3 394.1h0M321.6 398.3h0M340.3 383.3h0M328.5 398.1h0M342.4 384.3h0M329.1 389.5h0M337.1 384.3h0M333.6 386.3h0M322.9 395.9h0M341.8 385.9h0M341.5 386.5h0M340.1 383.3h0M328.3 398.2h0M329.4 397.5h0M333.5 394.8h0M323.1 400.1h0M327.1 398.8h0M327.6 398.5h0M323.2 395.5h0"/>
<path stroke="#ffb900" d="M340.9 387.4h0M336.8 384.6h0M338.2 390.5h0M321.6 399.2h0M336.9 384.5h0M341.0 387.1h0M321.8 399.7h0M342.0 383.6h0M326.6 391.7h0M322.9 400.0h0M334.3 394.1h0M331.9 387.4h0M340.9 383.3h0M337.7 384.2h0M341.7 383.5h0M342.1 384.8h0M339.1 389.5h0M330.0 388.9h0M323.3 400.0h0M335.3 385.4h0M341.8 383.6h0M336.4 384.8h0M336.0 385.0h0M335.9 385.0h0M330.6 396.7h0M335.4 393.2h0M323.9 399.9h0M332.7 386.9h0M323.0 400.0h0M322.5 399.9h0M341.8 383.7h0M334.7 385.7h0M325.1 393.4h0M332.1 387.3h0M329.9 397.2h0M322.4 396.8h0M322.7 396.4h0M325.9 392.5h0M339.9 388.5h0M322.2 397.3h0M326.3 392.1h0M340.0 383.6h0M326.0 399.2h0M328.3 390.3h0M340.9 383.5h0M338.9 383.9h0M327.2 391.3h0M341.8 383.9h0M337.3 391.3h0M325.1 399.5h0M324.5 399.7h0M339.1 389.5h0M326.7 391.8h0M335.1 393.4h0M323.4 399.9h0M328.7 390.0h0M331.8 387.6h0M321.8 398.7h0M323.1 395.9h0M339.4 383.8h0M323.1 395.8h0M323.9 394.9h0M341.9 384.5h0M328.7 390.0h0M341.7 384.1h0M336.0 392.5h0M322.3 399.7h0M330.7 396.6h0M324.7 399.6h0M341.7 385.2h0M335.8 385.3h0M340.4 383.7h0M322.1 397.8h0M338.5 390.0h0M341.7 385.1h0M339.0 389.4h0M332.2 387.4h0M341.6 385.2h0M340.5 387.5h0M323.5 395.4h0M329.4 397.3h0M336.0 385.2h0M323.1 395.9h0M341.1 386.4h0M328.1 398.1h0M322.9 396.2h0M325.4 399.3h0M329.4 389.5h0M322.1 399.3h0M322.0 398.1h0"/>
<path stroke="#ffa300" d="M322.0 399.1h0M330.9 396.4h0M325.9 392.7h0M327.7 391.0h0M325.5 393.1h0M331.5 387.9h0M322.8 399.7h0M341.2 384.1h0M327.4 391.3h0M324.0 399.6h0M334.0 386.3h0M322.2 397.8h0M329.8 389.3h0M322.1 397.9h0M322.9 399.6h0M341.2 386.0h0M328.1 390.6h0M333.4 394.5h0M322.1 398.5h0M338.5 384.3h0M336.3 392.1h0M332.8 394.9h0M334.9 393.3h0M323.0 396.3h0M325.0 399.3h0M334.0 386.4h0M340.9 386.4h0M322.4 397.5h0M322.3 397.6h0M341.1 384.3h0M337.3 391.1h0M341.2 384.6h0M341.2 385.8h0M323.5 399.6h0M322.5 399.3h0M336.7 385.0h0M337.0 391.3h0M339.4 384.2h0M328.8 397.6h0M324.0 395.0h0M339.7 388.2h0M335.3 385.7h0M333.9 394.1h0M332.2 395.4h0M340.3 384.1h0M325.4 393.4h0M332.6 395.1h0M331.6 388.0h0M331.5 388.1h0M324.1 394.8h0M323.7 395.4h0M323.2 399.5h0M327.4 391.4h0M323.6 395.5h0M324.5 399.4h0M333.9 394.0h0M340.3 387.3h0M337.7 390.6h0M333.3 394.5h0M338.6 384.4h0M328.2 390.7h0M331.2 396.0h0M339.0 389.0h0M327.4 391.4h0M340.9 384.5h0M324.7 399.3h0M333.2 394.6h0M326.7 392.1h0M326.3 398.8h0M340.6 384.5h0M332.6 395.0h0M326.4 398.7h0M328.6 390.4h0M322.3 398.4h0M337.9 390.2h0M340.9 385.3h0M340.8 386.0h0M322.6 399.2h0M328.3 397.7h0M334.2 393.7h0M326.7 398.5h0M325.3 399.1h0M336.1 385.5h0M330.2 396.7h0M337.8 390.3h0"/>
<path stroke="#ff8900" d="M323.7 395.5h0M322.4 398.0h0M329.8 396.9h0M325.8 398.9h0M334.2 386.5h0M322.4 398.4h0M331.3 388.4h0M338.1 390.0h0M330.1 389.3h0M326.9 398.4h0M326.9 398.4h0M322.5 398.3h0M339.2 384.5h0M335.6 385.8h0M340.6 384.9h0M340.7 385.2h0M336.8 391.3h0M338.7 384.7h0M336.9 391.1h0M339.3 384.6h0M339.4 384.6h0M323.5 395.9h0M323.8 399.3h0M322.6 398.7h0M339.2 384.6h0M330.7 396.2h0M325.8 398.8h0M335.3 392.6h0M334.6 386.4h0M339.5 384.7h0M324.6 394.5h0M324.5 399.1h0M339.2 384.7h0M322.6 398.4h0M328.4 397.6h0M328.3 390.8h0M332.6 387.6h0M328.8 397.3h0M339.9 384.9h0M335.5 392.4h0M336.7 391.3h0M322.7 398.6h0M322.7 397.7h0M332.2 387.9h0M336.0 385.7h0M340.3 386.2h0M322.8 398.6h0M325.3 393.8h0M340.3 385.2h0M322.7 397.8h0M340.3 385.4h0M325.0 394.2h0M326.3 398.5h0M338.5 384.9h0M324.7 399.0h0M340.3 386.1h0M331.7 395.4h0M335.4 392.4h0M330.3 389.3h0M325.5 393.6h0M322.9 397.5h0M336.9 391.0h0M330.5 396.2h0M333.6 387.1h0M322.8 398.2h0M328.7 390.6h0M331.8 395.3h0"/>
<path stroke="#ff7300" d="M336.6 385.6h0M336.8 391.1h0M338.9 388.5h0M333.5 387.1h0M337.7 385.2h0M324.4 395.0h0M336.5 391.4h0M337.9 389.9h0M324.0 399.0h0M340.0 385.3h0M338.7 385.0h0M333.1 387.4h0M323.6 396.2h0M325.6 398.7h0M340.0 386.5h0M340.0 386.2h0M331.0 388.9h0M325.6 398.7h0M322.9 398.2h0M328.6 390.7h0M324.2 398.9h0M332.1 388.1h0M326.3 392.9h0M326.4 398.4h0M324.1 398.9h0M326.6 392.6h0M339.9 385.7h0M333.2 387.5h0M335.0 392.7h0M327.8 391.5h0M336.7 391.0h0M329.1 397.0h0M332.3 388.0h0M325.6 393.7h0M339.8 386.4h0M323.4 398.7h0M331.4 388.6h0M325.0 394.4h0M337.3 390.3h0M324.0 395.7h0M334.6 393.0h0M339.4 387.4h0M339.5 385.5h0M333.7 387.2h0M337.0 390.6h0M324.2 395.4h0M332.8 387.7h0M338.9 385.4h0M323.4 398.5h0M323.1 397.8h0M339.5 385.6h0M338.7 385.4h0M337.2 385.6h0M339.6 385.7h0M337.8 389.7h0M335.2 386.4h0M339.5 385.7h0M328.2 391.2h0M330.9 395.8h0M339.3 387.4h0M339.2 387.6h0M339.4 387.1h0M327.3 392.0h0M335.9 391.7h0M339.1 387.7h0M326.3 393.1h0M337.5 385.6h0M329.3 396.7h0M339.5 386.3h0M339.5 386.2h0M323.5 396.7h0M325.1 394.4h0M337.0 390.5h0M326.1 393.3h0M331.1 389.0h0M323.3 397.5h0M326.1 398.3h0M323.3 397.7h0"/>
<path stroke="#ff5900" d="M324.2 395.6h0M339.4 386.8h0M326.1 393.3h0M338.9 387.9h0M335.4 392.1h0M337.2 385.8h0M338.4 388.7h0M328.3 391.2h0M338.1 389.2h0M324.7 398.6h0M326.0 393.4h0M331.7 395.1h0M323.7 398.5h0M331.4 388.8h0M324.3 395.6h0M323.4 397.3h0M337.8 389.5h0M337.8 385.7h0M336.8 386.0h0M337.6 385.8h0M332.8 394.3h0M326.0 398.3h0M334.7 386.9h0M329.8 396.4h0M326.2 393.3h0M325.0 394.7h0M333.4 393.8h0M337.5 385.8h0M337.3 385.9h0M336.6 390.8h0M339.1 386.2h0M337.0 390.4h0M334.6 387.0h0M338.6 388.2h0M338.4 388.5h0M338.1 389.0h0M330.4 389.6h0M326.2 398.1h0M327.6 397.5h0M325.7 393.9h0M326.3 398.1h0M339.0 387.0h0M337.5 389.7h0M325.5 394.2h0M329.3 396.6h0M328.2 391.5h0M335.5 391.8h0M323.9 398.2h0M335.5 386.6h0M332.0 394.8h0M333.5 393.6h0M337.9 386.0h0M337.1 386.1h0M323.6 397.4h0M338.4 386.1h0M337.4 386.1h0M330.2 396.0h0M324.4 398.3h0M323.7 397.6h0M326.8 392.8h0M335.7 386.6h0M325.5 394.2h0M333.7 387.6h0M331.6 388.9h0M327.9 391.8h0M328.9 396.8h0M338.2 386.1h0M323.9 398.1h0M335.8 391.4h0M323.9 398.1h0M338.4 386.2h0M335.9 391.3h0M338.2 388.4h0M324.1 396.3h0M329.8 390.2h0"/>
<path stroke="#ff4300" d="M337.3 389.7h0M328.1 397.1h0M337.1 386.3h0M333.2 387.9h0M332.3 394.4h0M334.9 392.2h0M333.3 387.9h0M330.9 395.5h0M324.8 395.2h0M327.3 397.5h0M325.9 393.9h0M331.1 389.3h0M328.0 397.2h0M331.9 388.8h0M328.2 391.6h0M327.9 397.2h0M337.7 386.3h0M338.6 387.1h0M329.0 390.9h0M333.0 388.1h0M333.8 387.7h0M338.0 386.4h0M326.5 397.8h0M333.0 393.9h0M325.9 398.0h0M324.7 398.1h0M324.2 396.3h0M337.9 386.4h0M338.4 386.9h0M328.1 397.1h0M338.4 387.3h0M336.6 386.5h0M327.2 392.6h0M331.3 395.1h0M338.3 387.8h0M338.4 386.9h0M333.8 393.1h0M326.6 397.7h0M326.5 397.7h0M335.3 391.8h0M328.8 396.7h0M329.9 396.0h0M332.0 388.8h0M325.3 394.7h0M325.5 398.0h0M335.6 391.4h0M328.0 397.1h0M336.7 386.6h0M333.5 387.9h0M334.3 392.7h0M332.6 394.1h0M324.1 397.1h0M325.1 398.0h0M333.1 393.7h0M326.0 393.9h0M329.5 390.6h0M325.5 397.9h0M338.1 387.0h0M328.2 391.7h0M325.5 397.9h0M332.1 388.8h0M327.7 397.2h0M333.6 393.2h0M325.7 397.9h0M336.8 389.9h0M324.2 397.5h0M332.6 388.5h0M336.5 390.3h0M325.9 394.0h0M331.0 395.2h0M326.6 397.6h0M335.0 387.2h0M337.8 388.3h0M337.4 389.1h0M326.4 397.6h0M337.9 387.0h0M327.1 392.9h0M329.2 391.0h0M325.3 397.9h0"/>
<path stroke="#ff2d00" d="M324.5 396.2h0M324.5 397.6h0M333.2 393.5h0M326.5 393.5h0M325.4 394.8h0M329.1 396.4h0M334.7 392.2h0M335.6 391.3h0M324.3 397.0h0M335.1 391.7h0M325.3 397.8h0M337.6 388.4h0M324.4 396.6h0M337.8 387.6h0M324.4 396.8h0M324.6 396.3h0M335.2 387.4h0M324.7 397.6h0M336.1 387.1h0M326.2 393.9h0M324.4 396.9h0M324.8 397.6h0M325.9 394.3h0M324.8 395.8h0M330.6 395.3h0M337.4 388.7h0M325.0 395.5h0M330.4 390.1h0M337.6 388.1h0M330.4 395.5h0M336.0 390.6h0M337.5 387.3h0M325.0 397.6h0M336.6 387.0h0M337.6 388.0h0M333.6 393.0h0M335.8 390.8h0M337.6 387.5h0M326.4 397.5h0M326.1 394.1h0M331.2 394.9h0M326.5 397.4h0M337.3 388.7h0M336.9 387.1h0M330.1 390.4h0M325.3 395.1h0M332.0 389.1h0M325.6 397.6h0M333.8 392.8h0M324.9 397.5h0M332.0 394.3h0M337.5 387.9h0M326.2 394.0h0M328.6 391.6h0M327.6 392.6h0M334.1 388.0h0M326.3 397.4h0M337.3 388.5h0M337.4 388.1h0M334.1 392.6h0M325.5 397.6h0M336.5 387.2h0M337.5 387.8h0M324.9 397.4h0M325.0 395.8h0M327.5 397.0h0M332.6 388.8h0M336.6 389.7h0M330.7 390.0h0M335.7 387.4h0M327.9 392.3h0M337.0 389.0h0M337.2 387.6h0M327.5 396.9h0M333.8 388.2h0M326.5 397.3h0M326.0 397.4h0M337.1 387.5h0M328.4 391.9h0M335.3 387.6h0M325.7 397.4h0M325.4 395.2h0M325.1 397.3h0M335.8 387.4h0M334.0 388.1h0"/>
<path stroke="#ff1300" d="M325.3 397.4h0M333.1 388.5h0M336.9 389.1h0M325.8 394.7h0M325.8 397.4h0M330.3 390.4h0M326.6 397.2h0M334.6 392.0h0M328.3 396.5h0M337.1 387.9h0M324.9 397.0h0M331.0 389.9h0M326.3 394.1h0M326.0 394.4h0M325.7 397.4h0M337.1 388.0h0M330.2 395.4h0M336.0 387.5h0M331.5 389.6h0M335.0 391.4h0M337.0 387.9h0M329.6 391.0h0M335.0 387.8h0M336.2 387.5h0M325.1 397.1h0M332.4 389.0h0M336.2 387.5h0M327.1 397.0h0M337.0 387.9h0M335.3 387.7h0M335.8 390.5h0M332.0 389.3h0M325.6 395.1h0M325.1 396.1h0M332.5 393.7h0M335.5 390.8h0M328.5 392.0h0M328.6 396.3h0M334.8 387.9h0M325.5 397.2h0M330.7 395.0h0M333.0 393.2h0M329.1 396.0h0M335.4 387.8h0M331.8 394.2h0M334.1 388.3h0M335.5 387.8h0M328.4 392.1h0M331.1 389.9h0M332.7 389.0h0M329.7 395.6h0M335.7 387.8h0M336.7 388.5h0M333.3 393.0h0M335.4 390.8h0M330.0 390.8h0M331.7 394.2h0M325.4 396.9h0M326.0 394.7h0M332.5 389.1h0M336.4 389.3h0M327.2 393.3h0M333.0 393.1h0M333.8 388.5h0M336.3 389.3h0M325.9 397.0h0M335.6 387.9h0M336.5 388.3h0M329.3 391.4h0M325.7 395.3h0M329.7 395.5h0M336.5 388.6h0M328.4 396.2h0M327.9 396.5h0M334.0 388.5h0M325.4 396.7h0M335.5 388.0h0M329.4 391.3h0M336.1 389.6h0M333.8 388.6h0"/>
<path stroke="#e40000" d="M331.5 389.9h0M336.2 388.2h0M329.0 391.7h0M334.3 388.4h0M325.9 395.0h0M331.2 390.1h0M333.6 392.5h0M329.2 395.8h0M327.6 396.5h0M334.9 391.2h0M336.2 388.6h0M334.7 391.4h0M325.7 395.6h0M335.3 390.5h0M325.8 395.4h0M327.1 396.7h0M331.8 389.7h0M335.1 388.3h0M325.7 395.6h0M331.9 393.9h0M329.3 391.6h0M335.7 388.3h0M336.1 388.6h0M334.8 391.2h0M335.2 388.3h0M326.3 394.6h0M325.6 396.1h0M330.3 390.8h0M335.5 390.1h0M329.1 391.8h0M326.8 396.7h0M328.9 391.9h0M330.7 394.7h0M333.6 388.8h0M335.5 390.1h0M327.9 396.3h0M328.1 392.6h0M329.0 395.7h0M327.3 396.5h0M333.0 389.1h0M335.9 389.0h0M331.3 390.1h0M332.9 389.2h0M327.4 393.4h0M333.5 388.9h0M335.6 389.8h0M332.8 393.0h0M326.4 394.6h0M326.2 396.5h0M331.9 393.7h0M335.8 388.9h0M329.8 391.2h0M334.9 390.8h0M335.2 390.4h0M327.8 396.2h0M329.3 395.5h0M327.0 394.0h0M328.3 396.0h0M325.9 395.7h0M331.7 390.0h0M326.1 396.3h0M328.3 392.6h0M328.9 395.7h0M328.2 392.7h0M328.4 395.9h0M334.7 388.7h0M333.9 388.9h0M329.8 391.4h0M333.5 389.1h0M334.0 391.8h0M326.1 395.6h0M326.5 394.7h0M332.9 392.8h0M329.3 391.8h0M326.2 395.4h0M332.1 393.5h0"/>
<path stroke="#c40000" d="M332.1 389.9h0M335.0 390.4h0M335.3 388.9h0M329.3 391.8h0M328.2 395.9h0M334.5 391.0h0M335.4 389.7h0M326.2 395.3h0M334.2 389.0h0M334.7 388.9h0M330.1 394.9h0M327.1 396.2h0M334.4 389.0h0M326.2 395.6h0M327.1 394.1h0M335.0 390.3h0M326.3 395.9h0M335.1 390.1h0M332.3 393.2h0M332.9 389.5h0M327.4 396.1h0M328.5 395.7h0M334.5 389.0h0M335.1 389.3h0M329.4 395.2h0M327.4 396.1h0M331.5 390.3h0M326.4 395.5h0M332.1 393.3h0M330.9 390.7h0M326.4 395.6h0M334.9 389.2h0M326.4 395.5h0M334.0 391.4h0M335.0 389.4h0M330.0 391.4h0M330.5 394.5h0M326.5 395.6h0M333.8 391.6h0M326.6 395.2h0M327.3 393.9h0M326.5 395.3h0M333.6 391.9h0M332.9 392.6h0M334.8 389.4h0M330.1 391.3h0M327.2 396.0h0M328.9 395.4h0M331.9 390.2h0M326.8 394.9h0M334.1 389.3h0M332.4 390.0h0M329.4 391.9h0M329.1 395.3h0M334.6 390.3h0M333.6 389.5h0M328.3 395.6h0M334.0 391.2h0M327.5 393.9h0M333.6 389.5h0M332.5 390.0h0M332.7 392.7h0M334.7 390.0h0M331.2 390.7h0M334.5 390.4h0M329.5 392.0h0M333.4 389.6h0M331.5 390.6h0M327.9 393.5h0M334.5 389.7h0M326.9 395.6h0M333.0 392.3h0M334.2 390.9h0M334.5 390.3h0M327.0 395.6h0"/>
<path stroke="#a80000" d="M334.3 390.6h0M326.9 395.1h0M334.4 390.4h0M330.6 394.2h0M329.8 394.7h0M333.1 392.1h0M332.9 392.3h0M334.1 390.9h0M329.4 395.0h0M327.9 393.6h0M331.2 393.8h0M331.2 390.8h0M327.2 395.5h0M333.1 392.0h0M327.1 394.9h0M334.2 390.0h0M333.5 389.8h0M328.4 395.3h0M332.8 392.3h0M327.9 395.5h0M329.6 392.1h0M330.4 394.2h0M327.4 394.5h0M327.2 395.4h0M334.1 390.4h0M327.9 395.5h0M333.9 390.9h0M330.0 391.8h0M329.2 395.0h0M327.8 395.4h0M329.4 392.3h0M328.1 393.6h0M327.7 395.4h0M327.7 394.0h0M331.1 393.7h0M330.7 391.3h0M329.8 394.6h0M333.0 390.1h0M330.7 391.3h0M333.3 390.1h0M331.8 393.1h0M328.9 392.8h0M328.3 395.2h0M328.0 395.3h0M329.6 392.2h0M331.9 393.0h0M330.7 391.4h0M328.9 395.0h0M327.9 394.0h0M333.2 391.6h0M328.9 395.0h0M328.0 393.9h0M327.6 394.8h0M329.3 394.7h0M329.7 392.1h0M330.4 394.1h0M329.6 394.6h0M329.1 392.7h0M333.5 390.4h0M333.5 390.4h0M328.3 395.1h0M333.5 390.8h0M333.3 390.4h0M332.4 392.4h0M329.1 394.8h0M327.7 394.6h0M327.7 394.8h0M328.5 393.4h0M329.3 392.6h0M330.4 394.0h0M333.0 391.6h0M328.6 393.3h0M327.8 394.5h0M331.8 390.8h0M328.7 394.9h0M329.8 392.2h0M332.3 392.4h0M329.6 394.5h0M332.2 390.7h0M327.9 394.8h0M330.8 391.5h0M330.0 392.1h0M332.9 391.6h0"/>
<path stroke="#8d0000" d="M333.2 390.7h0M328.1 394.2h0M332.7 391.8h0M330.7 393.7h0M328.9 393.2h0M332.8 391.7h0M332.3 392.2h0M332.7 391.7h0M329.0 393.1h0M330.9 391.6h0M328.8 394.6h0M329.6 392.5h0M330.1 392.2h0M331.2 391.4h0M328.9 394.6h0M329.1 393.1h0M331.6 392.9h0M328.3 394.4h0M328.5 394.5h0M332.6 391.0h0M328.4 394.3h0M332.6 391.1h0M329.9 394.0h0M328.9 393.4h0M330.0 392.3h0M332.1 392.3h0M330.2 392.2h0M329.8 394.1h0M332.3 391.2h0M331.5 391.4h0M329.6 394.1h0M332.5 391.4h0M332.3 391.9h0M328.8 393.7h0M329.9 393.9h0M329.0 394.3h0M331.7 391.4h0M329.1 394.2h0M330.7 392.0h0M328.8 394.1h0M330.9 393.2h0M329.2 394.1h0M331.7 391.4h0M329.2 393.2h0M331.0 391.8h0M330.2 392.3h0M331.1 391.8h0M329.7 393.9h0M331.6 392.5h0M332.0 391.5h0M330.1 392.4h0M329.7 393.9h0M329.0 393.7h0M331.4 392.6h0M331.7 391.7h0M329.3 393.3h0M330.6 393.3h0M331.8 391.8h0M330.0 393.6h0M331.1 391.9h0M329.9 393.6h0M329.4 393.6h0M331.6 392.0h0M329.4 393.5h0M331.1 392.7h0M330.4 393.3h0M331.4 392.3h0M330.4 393.3h0M329.6 393.4h0M330.1 393.3h0M331.0 392.7h0M329.9 393.2h0M330.8 392.4h0M330.0 393.1h0M330.6 392.9h0M330.3 393.1h0M330.8 392.5h0M330.5 392.9h0"/>
<path stroke="#000" stroke-width="0.65" stroke-dasharray="2.6 1.1" stroke-linecap="butt" d="M311.8 409.7L506.7 241.6"/>
<path stroke="#f00" stroke-width="0.8" stroke-linecap="butt" d="M311.8 403.6L478.9 291.2"/>
</g>
<rect x="311.8" y="241.6" width="194.9" height="168.1" fill="none" stroke="#222" stroke-width="0.7"/>
<path stroke="#222" stroke-width="0.6" fill="none" d="M311.8 409.7v-2.2M311.8 409.7h2.2M325.7 409.7v-1.2M311.8 397.7h1.2M339.6 409.7v-2.2M311.8 385.7h2.2M353.6 409.7v-1.2M311.8 373.7h1.2M367.5 409.7v-2.2M311.8 361.7h2.2M381.4 409.7v-1.2M311.8 349.7h1.2M395.3 409.7v-2.2M311.8 337.7h2.2M409.2 409.7v-1.2M311.8 325.6h1.2M423.2 409.7v-2.2M311.8 313.6h2.2M437.1 409.7v-1.2M311.8 301.6h1.2M451.0 409.7v-2.2M311.8 289.6h2.2M464.9 409.7v-1.2M311.8 277.6h1.2M478.9 409.7v-2.2M311.8 265.6h2.2M492.8 409.7v-1.2M311.8 253.6h1.2M506.7 409.7v-2.2M311.8 241.6h2.2"/>
<g class="tl">
<text x="311.8" y="419.3" text-anchor="middle">0</text>
<text x="309.6" y="412.9" text-anchor="end">0</text>
<text x="339.6" y="419.3" text-anchor="middle">50</text>
<text x="309.6" y="388.9" text-anchor="end">50</text>
<text x="367.5" y="419.3" text-anchor="middle">100</text>
<text x="309.6" y="364.9" text-anchor="end">100</text>
<text x="395.3" y="419.3" text-anchor="middle">150</text>
<text x="309.6" y="340.9" text-anchor="end">150</text>
<text x="423.2" y="419.3" text-anchor="middle">200</text>
<text x="309.6" y="316.8" text-anchor="end">200</text>
<text x="451.0" y="419.3" text-anchor="middle">250</text>
<text x="309.6" y="292.8" text-anchor="end">250</text>
<text x="478.9" y="419.3" text-anchor="middle">300</text>
<text x="309.6" y="268.8" text-anchor="end">300</text>
<text x="506.7" y="419.3" text-anchor="middle">350</text>
<text x="309.6" y="244.8" text-anchor="end">350</text>
</g>
<text class="an" y="255.8"><tspan class="it" x="320.4">y</tspan><tspan class="op" x="329.0">=</tspan><tspan x="339.7">0.78</tspan><tspan class="it" x="357.0">x</tspan><tspan class="pl" x="366.4">+</tspan><tspan x="373.7">12.64</tspan></text>
<text class="an" y="270.4"><tspan class="it" x="320.7">R</tspan><tspan class="sup" x="329.5" dy="-4.2">2</tspan><tspan class="op" x="335.8" dy="4.2">=</tspan><tspan x="346.3">0.72</tspan></text>
<text class="an" y="282.2"><tspan x="320.7">RMSE</tspan><tspan class="pl" x="351.0">=</tspan><tspan x="357.2">22.04</tspan></text>
<text class="an" y="293.9"><tspan class="it" x="320.7">N</tspan><tspan class="op" x="330.1">=</tspan><tspan x="340.8">3691</tspan></text>
<text class="al" x="409.8" y="434.0" text-anchor="middle"><tspan class="mono">Observed PM2.5</tspan><tspan class="mp">(</tspan><tspan class="mi">μg·m</tspan><tspan class="mis" dy="-4">−3</tspan><tspan class="mp" dy="4">)</tspan></text>
<text class="al" transform="translate(289.3 324.4) rotate(-90)" text-anchor="middle"><tspan class="mono">Prediction PM2.5</tspan><tspan class="mp">(</tspan><tspan class="mi">μg·m</tspan><tspan class="mis" dy="-4">−3</tspan><tspan class="mp" dy="4">)</tspan></text>
<rect x="518.7" y="249.0" width="8.0" height="152.60000000000002" fill="url(#jet)"/>
<path fill="#800000" d="M518.7 249.2L522.7 241.29999999999998L526.7 249.2Z"/>
<path fill="#000080" d="M518.7 401.40000000000003L522.7 410.0L526.7 401.40000000000003Z"/>
<path fill="none" stroke="#222" stroke-width="0.5" d="M518.7 249.0L522.7 241.29999999999998L526.7 249.0V401.6L522.7 410.0L518.7 401.6Z"/>
<g class="cl">
<text x="530.9" y="385.1">5</text>
<text x="530.9" y="365.2">10</text>
<text x="530.9" y="345.2">15</text>
<text x="530.9" y="325.3">20</text>
<text x="530.9" y="305.4">25</text>
<text x="530.9" y="285.5">30</text>
<text x="530.9" y="265.5">35</text>
</g>
<path stroke="#222" stroke-width="0.5" fill="none" d="M526.7 382.9h1.6M526.7 363.0h1.6M526.7 343.0h1.6M526.7 323.1h1.6M526.7 303.2h1.6M526.7 283.3h1.6M526.7 263.3h1.6"/>
<text class="ct" transform="translate(545.9 326.3) rotate(-90)" text-anchor="middle">Counts</text>
<text class="cap" x="413" y="457.3" text-anchor="middle">d.BNN</text>
</svg></body></html>
